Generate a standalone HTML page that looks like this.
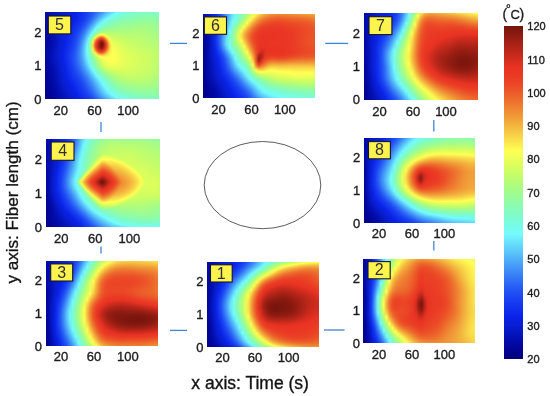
<!DOCTYPE html>
<html><head><meta charset="utf-8"><title>Figure</title>
<style>html,body{margin:0;padding:0;background:#fff}svg{position:absolute;left:0;top:0}.w{position:relative;width:550px;height:396px;overflow:hidden;background:#fff}.p{position:absolute}.p i{display:block;height:1px}text{font-family:"Liberation Sans",Arial,Helvetica,sans-serif;stroke:#1c1c1c;stroke-width:.35px}</style>
</head><body>
<div class="w">
<div class="p" style="left:45px;top:12px;width:114px;height:87px"><i style="background:linear-gradient(90deg,#020aa8,#020cac,#030eaf,#030fb2,#0311b5,#0413b9,#0415bc,#0517bf,#0619c3,#061ac7,#071ccb,#081ecf,#081fd5,#0920db,#0920e1,#0920e9,#0b26ea,#0e2beb,#1130ec,#1335ee,#163bf0,#1941f1,#1d48f3,#2151f4,#265bf5,#2b66f6,#3173f6,#3880f7,#3f8ef7,#469df8,#4eacf8,#55bcf9,#5dcbfa,#64d9fb,#6ae6fc,#70f2fc,#75fbfc,#76fbf3,#77fbeb,#78fbe4,#79fbde,#7afbd8,#7bfbd4,#7cfbd0,#7dfbcd,#7efbcb,#7ffbc9,#7ffbc8,#80fbc7,#80fbc7,#80fbc7,#80fbc7,#80fbc7,#80fbc7,#7ffbc7,#7ffbc8,#7ffbc8,#7ffbc8)"></i><i style="background:linear-gradient(90deg,#020ba9,#020cac,#030daf,#030fb2,#0311b5,#0413b9,#0415bc,#0517c0,#0619c3,#071bc7,#071dcb,#081ed0,#0920d5,#0920da,#0920e1,#0920e8,#0b25ea,#0e2aeb,#1030ec,#1335ee,#163af0,#1941f1,#1d48f3,#2152f4,#275df5,#2d69f6,#3477f6,#3b86f7,#4395f7,#4aa5f8,#52b5f9,#5ac4fa,#61d4fa,#68e2fb,#6feffc,#74fbfd,#76fbf4,#77fbeb,#78fbe4,#79fbdd,#7afbd7,#7cfbd3,#7dfbcf,#7efbcb,#7ffbc8,#80fbc6,#81fbc4,#81fbc3,#82fbc2,#82fbc1,#82fbc1,#82fbc0,#82fbc1,#82fbc1,#82fbc1,#82fbc2,#82fbc2,#81fbc3)"></i><i style="background:linear-gradient(90deg,#020ba9,#020cac,#030daf,#030fb2,#0311b5,#0413b8,#0515bc,#0517c0,#0619c4,#071bc8,#071dcc,#081ed0,#0920d5,#0920da,#0920e0,#0920e7,#0b24e9,#0e2aeb,#102fec,#1335ee,#163af0,#1941f1,#1d49f3,#2253f4,#2860f5,#2f6ef6,#367df6,#3e8df7,#479df8,#4faef8,#57bef9,#5ecefa,#66ddfb,#6debfc,#73f8fd,#75fbf6,#76fbec,#78fbe4,#79fbdc,#7bfbd6,#7cfbd1,#7efbcd,#7ffbc9,#80fbc6,#81fbc3,#82fbc1,#83fbbf,#84fbbd,#84fcbc,#84fcbb,#85fcbb,#85fcbb,#85fcbb,#85fcbb,#84fcbb,#84fcbc,#84fbbd,#83fbbe)"></i><i style="background:linear-gradient(90deg,#020baa,#020cac,#020dae,#030fb1,#0311b5,#0413b8,#0515bc,#0517c0,#061ac5,#071cc9,#081dcd,#081fd1,#0920d6,#0920db,#0920e1,#0920e7,#0b24e9,#0e2aeb,#1030ec,#1335ee,#163bf0,#1942f2,#1e4bf3,#2356f4,#2a63f5,#3173f6,#3a83f7,#4295f7,#4ba6f8,#53b7f9,#5bc8fa,#63d7fb,#6ae6fc,#71f4fd,#75fbf8,#76fbee,#78fbe4,#79fbdc,#7bfbd5,#7dfbd0,#7efbcb,#80fbc7,#81fbc4,#82fbc1,#83fbbf,#84fcbc,#85fcba,#86fcb8,#87fcb7,#87fcb6,#87fcb5,#87fcb5,#87fcb5,#87fcb5,#87fcb6,#87fcb7,#86fcb8,#85fcb9)"></i><i style="background:linear-gradient(90deg,#020baa,#020cac,#020dae,#030fb1,#0311b5,#0413b9,#0515bd,#0518c1,#061ac5,#071cc9,#081ece,#081fd2,#0920d6,#0920db,#0920e1,#0920e8,#0b25ea,#0e2aeb,#1130ec,#1336ee,#163cf0,#1a44f2,#1f4df3,#2559f5,#2c68f6,#3479f6,#3d8bf7,#479df8,#50b0f9,#58c1f9,#60d2fa,#68e1fb,#6ff0fc,#75fbfb,#76fbf0,#77fbe6,#79fbdd,#7bfbd5,#7dfbce,#7ffbc9,#80fbc5,#82fbc2,#83fbbf,#84fbbc,#85fcba,#86fcb7,#87fcb5,#88fcb3,#89fcb2,#8afcb1,#8afcb0,#8afcb0,#8afcb0,#8afcb0,#8afcb1,#89fcb2,#88fcb3,#88fcb5)"></i><i style="background:linear-gradient(90deg,#020baa,#020cab,#020dae,#030fb1,#0311b5,#0413b9,#0515bd,#0518c1,#061ac6,#071cca,#081ecf,#081fd3,#0920d7,#0920dc,#0920e2,#0920e9,#0b25ea,#0e2beb,#1131ec,#1437ee,#173df0,#1b46f2,#2050f4,#275ef5,#2f6ef6,#3880f7,#4193f7,#4ba7f8,#55baf9,#5dccfa,#66dcfb,#6decfc,#74fafd,#76fbf2,#77fbe7,#79fbde,#7bfbd5,#7dfbce,#7ffbc8,#81fbc3,#83fbbf,#84fcbc,#85fcba,#86fcb7,#88fcb5,#89fcb3,#8afcb0,#8bfcae,#8cfcad,#8cfcac,#8dfcab,#8dfcab,#8dfcab,#8dfcab,#8cfcac,#8bfcad,#8bfcaf,#8afcb1)"></i><i style="background:linear-gradient(90deg,#020baa,#020cab,#020dae,#030eb1,#0311b5,#0413b9,#0515bd,#0618c2,#061ac6,#071ccb,#081ecf,#081fd4,#0920d8,#0920dd,#0920e3,#0921e9,#0c27ea,#0f2ceb,#1132ed,#1438ef,#183ff1,#1c48f3,#2254f4,#2963f5,#3274f6,#3c87f7,#469cf8,#50b0f9,#5ac4fa,#63d7fb,#6be7fc,#72f6fd,#76fbf5,#77fbe9,#79fbdf,#7bfbd6,#7dfbce,#80fbc7,#82fbc1,#84fbbd,#85fcb9,#87fcb7,#88fcb5,#89fcb2,#8afcb0,#8bfcae,#8cfcac,#8efcaa,#8efca8,#8ffca7,#90fca6,#90fca6,#90fca6,#8ffca7,#8ffca8,#8efca9,#8dfcab,#8cfcad)"></i><i style="background:linear-gradient(90deg,#020ba9,#020cab,#020dad,#030eb1,#0310b4,#0413b9,#0516bd,#0618c2,#061bc7,#071dcc,#081ed0,#0920d5,#0920da,#0920df,#0920e5,#0a22e9,#0d28ea,#0f2deb,#1233ed,#1539ef,#1941f1,#1e4bf3,#2458f5,#2c68f6,#367bf6,#4090f7,#4aa5f8,#55bbf9,#5fcffa,#68e2fb,#71f3fc,#75fbf8,#77fbeb,#78fbe1,#7bfbd7,#7dfbce,#80fbc6,#82fbc0,#85fcbb,#87fcb7,#88fcb4,#89fcb2,#8afcb0,#8bfcae,#8dfcab,#8efca9,#8ffca7,#90fca5,#91fca4,#92fca3,#92fca2,#92fca2,#92fca2,#92fca3,#91fca4,#90fca5,#8ffca7,#8efca9)"></i><i style="background:linear-gradient(90deg,#020ba9,#020bab,#020dad,#030eb0,#0310b4,#0413b9,#0516bd,#0618c2,#071bc7,#071dcc,#081fd1,#0920d6,#0920db,#0920e0,#0920e7,#0a24e9,#0d29ea,#102fec,#1335ee,#163bf0,#1a44f2,#204ff4,#275df5,#306ff6,#3983f7,#4499f8,#4faff9,#5ac6fa,#65dbfb,#6eeefc,#75fbfb,#76fbed,#78fbe2,#7afbd8,#7dfbce,#80fbc6,#83fbbf,#85fcb9,#88fcb5,#8afcb1,#8bfcae,#8cfcac,#8dfcab,#8efca9,#8ffca7,#91fca5,#92fca3,#93fca1,#94fc9f,#95fc9e,#95fc9e,#95fc9e,#95fc9e,#94fc9f,#93fca0,#92fca2,#91fca4,#90fca6)"></i><i style="background:linear-gradient(90deg,#020aa8,#020baa,#020cad,#030eb0,#0310b4,#0413b9,#0516be,#0619c3,#071bc8,#081dcd,#081fd2,#0920d7,#0920dc,#0920e2,#0920e9,#0b25ea,#0e2beb,#1130ec,#1436ee,#173ef1,#1c47f3,#2253f4,#2a63f5,#3376f6,#3e8bf7,#49a2f8,#55baf9,#60d1fa,#6be6fc,#74f9fd,#76fbf0,#78fbe3,#7afbd8,#7dfbcf,#80fbc6,#83fbbf,#86fcb8,#89fcb3,#8bfcaf,#8dfcab,#8efca9,#8ffca7,#90fca6,#91fca4,#92fca2,#93fca0,#95fc9e,#96fc9c,#97fc9b,#97fc9a,#98fc9a,#98fc9a,#97fc9b,#97fc9b,#96fc9d,#95fc9e,#93fca0,#92fca3)"></i><i style="background:linear-gradient(90deg,#020aa8,#020baa,#020cad,#030eb0,#0310b4,#0413b9,#0516be,#0619c3,#071bc8,#081ece,#081fd3,#0920d9,#0920de,#0920e4,#0921e9,#0c27ea,#0f2deb,#1232ed,#1538ef,#1940f1,#1e4bf3,#2558f5,#2d6af6,#377ef6,#4294f7,#4eacf8,#5ac5fa,#66ddfb,#70f2fc,#76fbf4,#78fbe5,#7afbd9,#7dfbcf,#80fbc6,#83fbbe,#86fcb7,#89fcb1,#8cfcad,#8efca9,#90fca6,#91fca4,#92fca3,#93fca1,#94fca0,#95fc9e,#96fc9c,#98fc9a,#99fc98,#9afc97,#9afc96,#9afc96,#9afc96,#9afc97,#99fc98,#98fc9a,#97fc9b,#95fc9d,#94fca0)"></i><i style="background:linear-gradient(90deg,#020aa7,#020ba9,#020cac,#030eb0,#0310b4,#0413b9,#0516be,#0619c3,#071cc9,#081ecf,#081fd4,#0920da,#0920e0,#0920e6,#0a23e9,#0d29ea,#102eec,#1334ee,#163bf0,#1a43f2,#204ff4,#275ef5,#3171f6,#3b86f7,#479ef8,#53b7f9,#60d0fa,#6ce8fc,#75fbfa,#77fbe8,#7afbda,#7dfbce,#80fbc5,#84fbbd,#87fcb6,#8afcb0,#8dfcab,#8ffca7,#91fca3,#93fca1,#94fc9f,#95fc9e,#96fc9d,#97fc9b,#98fc9a,#99fc98,#9afc96,#9cfc94,#9cfc93,#9dfc93,#9dfc93,#9cfc93,#9cfc94,#9bfc95,#9afc97,#99fc98,#97fc9a,#96fc9d)"></i><i style="background:linear-gradient(90deg,#0209a6,#020aa9,#020cac,#030eb0,#0310b4,#0413b9,#0516be,#0619c4,#071cc9,#081ecf,#0920d5,#0920db,#0920e2,#0920e9,#0b25ea,#0e2beb,#1130ec,#1436ee,#173df0,#1c46f2,#2253f4,#2a64f5,#3478f6,#3f8ff7,#4ca8f8,#58c2f9,#65dcfb,#71f4fd,#76fbef,#79fbdd,#7dfbcf,#81fbc4,#84fcbc,#88fcb5,#8bfcae,#8efca9,#91fca5,#93fca1,#95fc9e,#96fc9c,#97fc9a,#98fc99,#99fc98,#9afc97,#9bfc95,#9cfc94,#9dfc92,#9efc91,#9ffc90,#9ffc8f,#9ffc90,#9ffc90,#9efc91,#9dfc92,#9cfc94,#9bfc96,#99fc98,#98fc9a)"></i><i style="background:linear-gradient(90deg,#0209a5,#020aa8,#020cac,#030eb0,#0310b4,#0413b9,#0516bf,#0619c4,#071cca,#081ed0,#0920d6,#0920dd,#0920e4,#0921e9,#0c27ea,#0f2deb,#1232ed,#1538ef,#1840f1,#1d4af3,#2558f5,#2e6bf6,#3880f7,#4498f7,#51b2f9,#5ecdfa,#6be7fc,#75fbf8,#78fbe3,#7cfbd2,#80fbc5,#85fcba,#89fcb3,#8cfcac,#8ffca7,#92fca2,#95fc9e,#97fc9b,#98fc99,#9afc97,#9bfc96,#9bfc95,#9cfc94,#9dfc93,#9efc91,#9ffc90,#a0fc8e,#a1fc8d,#a2fc8c,#a2fc8c,#a2fc8d,#a1fc8d,#a0fc8e,#9ffc90,#9efc92,#9cfc93,#9bfc95,#99fc97)"></i><i style="background:linear-gradient(90deg,#0209a4,#020aa8,#020cab,#030eb0,#0310b4,#0413b9,#0516bf,#0619c4,#071cca,#081ed1,#0920d7,#0920de,#0920e5,#0a23e9,#0d29ea,#102eec,#1334ee,#163af0,#1a43f2,#204ef4,#275ef5,#3172f6,#3c89f7,#49a2f8,#56bcf9,#63d8fb,#71f3fd,#76fbed,#7afbd8,#80fbc7,#85fcba,#8afcb1,#8efcaa,#91fca4,#94fca0,#96fc9c,#99fc98,#9bfc96,#9cfc94,#9dfc92,#9efc91,#9efc91,#9ffc90,#a0fc8f,#a1fc8e,#a2fc8c,#a3fc8b,#a4fc8a,#a4fc89,#a4fc89,#a4fc8a,#a3fc8b,#a2fc8c,#a1fc8d,#a0fc8f,#9efc91,#9dfc93,#9bfc95)"></i><i style="background:linear-gradient(90deg,#0208a3,#020aa7,#020cab,#030eaf,#0310b4,#0413ba,#0517bf,#061ac5,#071ccb,#081fd1,#0920d8,#0920e0,#0920e7,#0b25ea,#0e2beb,#1130ec,#1436ee,#173df0,#1b46f2,#2253f4,#2a64f5,#3579f6,#4191f7,#4eacf8,#5bc7fa,#69e4fb,#75fbf9,#78fbe1,#7efbcc,#84fcbc,#8afcb0,#8ffca7,#93fca1,#96fc9c,#99fc98,#9bfc95,#9dfc93,#9efc91,#a0fc8f,#a0fc8e,#a1fc8d,#a2fc8d,#a2fc8c,#a3fc8b,#a4fc8a,#a5fc89,#a6fc87,#a7fc87,#a7fc86,#a7fc86,#a6fc87,#a5fc88,#a4fc8a,#a3fc8b,#a1fc8d,#a0fc8f,#9efc91,#9dfc93)"></i><i style="background:linear-gradient(90deg,#0108a3,#0209a6,#020bab,#030eaf,#0310b4,#0413ba,#0517bf,#061ac5,#071dcb,#081fd2,#0920d9,#0920e1,#0920e9,#0c27ea,#0f2ceb,#1232ed,#1538ef,#183ff1,#1d4af3,#2458f5,#2d6af6,#3881f7,#459af8,#52b6f9,#61d2fa,#6feffc,#76fbed,#7bfbd5,#82fbc0,#8afcb1,#90fca6,#95fc9e,#99fc98,#9bfc95,#9efc92,#a0fc8f,#a1fc8d,#a2fc8c,#a3fc8b,#a4fc8a,#a4fc89,#a5fc89,#a5fc88,#a6fc87,#a7fc86,#a8fc85,#a9fc84,#a9fc84,#a9fc83,#a9fc84,#a8fc85,#a7fc86,#a6fc87,#a4fc89,#a3fc8b,#a1fc8d,#a0fc8f,#9ffc90)"></i><i style="background:linear-gradient(90deg,#0108a2,#0209a6,#020baa,#030eaf,#0310b4,#0413ba,#0517bf,#061ac5,#071dcc,#081fd3,#0920da,#0920e2,#0921e9,#0d28ea,#102eec,#1234ed,#163af0,#1a42f2,#1f4df4,#275df5,#3171f6,#3c89f7,#49a3f8,#57c0f9,#66ddfb,#75fbfc,#78fbe0,#7ffbc7,#89fcb3,#91fca4,#97fc9b,#9bfc95,#9ffc90,#a1fc8d,#a3fc8b,#a4fc89,#a6fc88,#a6fc87,#a7fc86,#a7fc86,#a8fc85,#a8fc85,#a8fc85,#a9fc84,#aafc83,#abfc82,#abfc81,#acfc81,#acfc81,#abfc81,#aafc82,#a9fc84,#a8fc85,#a6fc87,#a4fc89,#a3fc8b,#a1fc8d,#a0fc8e)"></i><i style="background:linear-gradient(90deg,#0107a1,#0209a5,#020baa,#030daf,#0310b4,#0413ba,#0517bf,#061ac6,#071dcc,#081fd3,#0920db,#0920e4,#0a23e9,#0d2aea,#1030ec,#1336ee,#173cf0,#1b45f2,#2151f4,#2962f5,#3478f6,#4091f7,#4eadf8,#5dcafa,#6ce9fc,#76fbf0,#7cfbd2,#86fcb8,#91fca3,#9afc97,#9ffc90,#a2fc8c,#a5fc89,#a7fc86,#a8fc85,#a9fc84,#aafc83,#aafc82,#abfc82,#abfc82,#abfc82,#abfc81,#abfc81,#acfc81,#adfc80,#adfc7f,#aefc7f,#aefc7e,#aefc7f,#adfc7f,#acfc80,#abfc82,#a9fc84,#a8fc85,#a6fc87,#a4fc89,#a3fc8b,#a2fc8c)"></i><i style="background:linear-gradient(90deg,#0107a0,#0209a5,#020ba9,#020daf,#0310b4,#0413ba,#0517c0,#061ac6,#071dcd,#081fd4,#0920dc,#0920e5,#0b24e9,#0e2beb,#1131ed,#1437ef,#183ef1,#1c48f3,#2355f4,#2c68f6,#377ef7,#4499f8,#53b6f9,#62d5fb,#72f6fd,#78fbe1,#82fbc0,#91fca4,#9ffc90,#a6fc87,#a9fc84,#aafc82,#abfc81,#adfc80,#aefc7f,#aefc7e,#aefc7e,#aefc7e,#aefc7e,#aefc7e,#aefc7e,#aefc7e,#aefc7e,#affc7e,#affc7d,#b0fc7c,#b0fc7c,#b0fc7c,#b0fc7c,#affc7d,#aefc7e,#acfc80,#abfc82,#a9fc84,#a7fc86,#a6fc88,#a4fc89,#a3fc8a)"></i><i style="background:linear-gradient(90deg,#01079f,#0209a4,#020ba9,#020dae,#0310b4,#0413ba,#0517c0,#061ac6,#081dcd,#0920d5,#0920dd,#0920e7,#0b25ea,#0f2ceb,#1232ed,#1539ef,#1941f1,#1e4bf3,#255af5,#2f6df6,#3b85f7,#48a1f8,#57bff9,#67e0fb,#76fbf5,#7dfbcf,#8dfcab,#a2fc8d,#b3fc7a,#b8fd74,#b6fd76,#b4fd78,#b3fc7a,#b3fc7a,#b3fd79,#b3fd79,#b3fd79,#b2fc7a,#b2fc7a,#b2fc7b,#b1fc7b,#b1fc7b,#b1fc7b,#b1fc7b,#b2fc7a,#b2fc7a,#b2fc7a,#b2fc7a,#b2fc7a,#b1fc7b,#b0fc7d,#aefc7e,#acfc80,#aafc82,#a9fc84,#a7fc86,#a6fc87,#a5fc89)"></i><i style="background:linear-gradient(90deg,#01079f,#0208a4,#020aa9,#020dae,#0310b3,#0413b9,#0517c0,#061ac6,#081dce,#0920d6,#0920de,#0920e8,#0c27ea,#0f2deb,#1234ed,#163af0,#1a43f2,#204ef4,#275ef5,#3273f6,#3e8cf7,#4ca9f8,#5cc9fa,#6decfc,#77fbe5,#85fcba,#9ffc90,#bafd72,#cffd62,#d1fd61,#c8fd67,#bffd6e,#bafd72,#b9fd74,#b8fd74,#b8fd75,#b7fd75,#b6fd76,#b6fd77,#b5fd77,#b4fd78,#b4fd78,#b4fd78,#b4fd78,#b4fd78,#b5fd78,#b5fd78,#b4fd78,#b4fd79,#b3fc7a,#b1fc7b,#affc7d,#aefc7f,#acfc81,#aafc83,#a9fc84,#a7fc86,#a6fc87)"></i><i style="background:linear-gradient(90deg,#01079e,#0208a3,#020aa8,#020dad,#0310b3,#0413b9,#0517c0,#061bc7,#081ece,#0920d6,#0920df,#0920e9,#0c28ea,#102eec,#1335ee,#173cf0,#1b45f2,#2152f4,#2962f5,#3478f6,#4193f7,#50b1f9,#61d2fa,#74f9fd,#7bfbd4,#93fca1,#b8fd74,#ddfe5b,#f5ff55,#f3ff55,#dffe5a,#cefd63,#c3fd6b,#bffd6e,#befd6f,#bdfd70,#bcfd71,#bafd72,#b9fd73,#b8fd74,#b8fd75,#b7fd75,#b7fd75,#b7fd76,#b7fd76,#b7fd76,#b7fd76,#b6fd76,#b5fd77,#b4fd78,#b3fc7a,#b1fc7b,#affc7d,#adfc7f,#abfc81,#aafc83,#a9fc84,#a8fc85)"></i><i style="background:linear-gradient(90deg,#01079e,#0108a3,#020aa8,#020dad,#0310b3,#0413b9,#0517c0,#061bc7,#081ece,#0920d7,#0920e0,#0921e9,#0d28ea,#102fec,#1436ee,#173df0,#1c47f3,#2355f4,#2c67f6,#377ef6,#459af8,#54b9f9,#65dcfb,#76fbf2,#83fbbf,#a8fc85,#dbfe5c,#fdf551,#f8d447,#f9dd4a,#fcff55,#e0fe5a,#cefd63,#c6fd69,#c3fd6b,#c1fd6c,#c0fd6d,#befd6f,#bdfd70,#bcfd71,#bbfd72,#bafd73,#b9fd73,#b9fd73,#b9fd73,#b9fd74,#b8fd74,#b8fd75,#b7fd75,#b5fd77,#b4fd78,#b2fc7a,#b0fc7c,#aefc7e,#adfc80,#abfc81,#aafc83,#a9fc83)"></i><i style="background:linear-gradient(90deg,#01069e,#0108a2,#020aa7,#020cad,#030fb3,#0413b9,#0517c0,#071bc7,#081ecf,#0920d8,#0920e1,#0922e9,#0d29ea,#1130ec,#1437ef,#183ff1,#1d49f3,#2458f5,#2e6bf6,#3a83f7,#48a0f8,#58c1f9,#6ae6fc,#78fbe4,#8ffca8,#c3fd6b,#fefa53,#f5be41,#f09937,#f2a83b,#f9db4a,#f6ff55,#dafe5d,#cdfd64,#c8fd67,#c6fd69,#c4fd6a,#c2fd6c,#c0fd6d,#bffd6e,#befd6f,#bdfd70,#bcfd71,#bbfd71,#bbfd72,#bbfd72,#bafd72,#b9fd73,#b8fd74,#b7fd75,#b5fd77,#b3fd79,#b2fc7b,#b0fc7c,#aefc7e,#adfc80,#acfc81,#abfc82)"></i><i style="background:linear-gradient(90deg,#01069e,#0108a2,#020aa7,#020cac,#030fb2,#0413b9,#0517c0,#071bc7,#081ecf,#0920d8,#0920e2,#0a22e9,#0e2aeb,#1131ed,#1438ef,#1940f1,#1e4bf3,#265bf5,#306ff6,#3c89f7,#4ba7f8,#5cc8fa,#70f1fc,#7bfbd4,#9ffc90,#e4fe58,#f6c744,#ef8933,#ec612a,#ed732e,#f3b13e,#fced4f,#e7fe58,#d4fd5f,#cefd63,#cbfd65,#c8fd67,#c6fd69,#c4fd6a,#c2fd6c,#c1fd6d,#bffd6e,#befd6f,#befd6f,#bdfd70,#bcfd70,#bcfd71,#bbfd72,#bafd73,#b8fd74,#b6fd76,#b5fd78,#b3fd79,#b1fc7b,#affc7d,#aefc7e,#adfc80,#acfc80)"></i><i style="background:linear-gradient(90deg,#01069e,#0108a2,#020aa6,#020cac,#030fb2,#0413b9,#0517c0,#071bc7,#081ed0,#0920d9,#0920e3,#0a23e9,#0e2beb,#1132ed,#1539ef,#1942f1,#1f4df4,#275ef5,#3273f6,#3f8ef7,#4eadf8,#5fd0fa,#75fbfd,#81fbc4,#b3fd79,#fdf551,#f09837,#ec5a29,#ea3a24,#eb4726,#ef8833,#f7cf46,#f6ff55,#dcfe5c,#d3fd60,#cffd62,#cdfd64,#cafd66,#c7fd68,#c5fd69,#c3fd6b,#c2fd6c,#c1fd6d,#c0fd6e,#bffd6e,#befd6f,#bdfd70,#bcfd71,#bbfd72,#b9fd73,#b8fd75,#b6fd76,#b4fd78,#b2fc7a,#b1fc7b,#affc7d,#aefc7e,#adfc7f)"></i><i style="background:linear-gradient(90deg,#01069e,#0108a1,#0209a6,#020cac,#030fb2,#0413b9,#0517c0,#071bc8,#081ed0,#0920da,#0920e4,#0b24e9,#0e2beb,#1232ed,#153aef,#1a43f2,#204ff4,#2961f5,#3477f6,#4192f7,#51b2f9,#63d7fb,#76fbf3,#88fcb3,#c9fd66,#f7cd45,#ed6f2d,#ea3c24,#ce2c1e,#e73223,#ec632b,#f3b13e,#fdf752,#e4fe58,#d8fe5d,#d4fd60,#d1fd62,#cefd63,#cbfd65,#c8fd67,#c6fd69,#c4fd6a,#c3fd6b,#c2fd6c,#c1fd6d,#c0fd6e,#bffd6f,#bdfd70,#bcfd71,#bafd72,#b9fd74,#b7fd75,#b5fd77,#b4fd79,#b2fc7a,#b1fc7b,#b0fc7d,#affc7e)"></i><i style="background:linear-gradient(90deg,#01069e,#0108a1,#0209a6,#020cab,#030fb2,#0413b9,#0517c0,#071bc8,#081fd1,#0920da,#0920e5,#0b25ea,#0f2ceb,#1233ed,#163bf0,#1b44f2,#2151f4,#2a64f5,#367bf6,#4397f7,#54b8f9,#66defb,#77fbea,#91fca4,#e0fe5a,#f2a93c,#eb5027,#e33122,#a72116,#bf281b,#eb4726,#f09536,#fae54c,#edfe56,#ddfe5b,#d8fe5d,#d5fd5f,#d1fd61,#cefd63,#cbfd65,#c9fd67,#c7fd68,#c5fd69,#c4fd6a,#c2fd6b,#c1fd6c,#c0fd6d,#bffd6e,#bdfd70,#bcfd71,#bafd73,#b8fd74,#b7fd76,#b5fd77,#b3fd79,#b2fc7a,#b1fc7b,#b0fc7c)"></i><i style="background:linear-gradient(90deg,#01069e,#0108a1,#0209a6,#020cab,#030fb2,#0413b9,#0517c0,#071bc9,#081fd1,#0920db,#0920e6,#0b26ea,#0f2deb,#1234ed,#163cf0,#1b46f2,#2253f4,#2b66f6,#377ef7,#469bf8,#56bdf9,#6ae4fc,#78fbe1,#9bfc96,#f5ff55,#ef8c34,#ea3d25,#c92a1d,#8a1a10,#a02015,#ea3824,#ee7e31,#f8d448,#f5ff55,#e2fe59,#dcfe5c,#d8fe5d,#d5fd5f,#d1fd61,#cefd63,#cbfd65,#c9fd66,#c7fd68,#c6fd69,#c4fd6a,#c3fd6b,#c1fd6c,#c0fd6d,#befd6f,#bdfd70,#bbfd72,#b9fd73,#b8fd75,#b6fd76,#b5fd77,#b3fd79,#b2fc7a,#b1fc7b)"></i><i style="background:linear-gradient(90deg,#01079e,#0108a1,#0209a6,#020cab,#030fb2,#0413b9,#0517c1,#071cc9,#081fd2,#0920dc,#0920e7,#0c26ea,#0f2eec,#1335ee,#173cf0,#1c47f3,#2355f4,#2d69f6,#3982f7,#489ff8,#59c2f9,#6ceafc,#7afbd9,#a3fc8a,#fdf652,#ed762f,#ea3524,#b82619,#77150d,#8a1a10,#e53222,#ed6b2c,#f6c643,#fcff55,#e7fe58,#e0fe5a,#dcfe5c,#d8fe5e,#d4fd60,#d1fd61,#cefd63,#cbfd65,#c9fd66,#c7fd68,#c6fd69,#c4fd6a,#c3fd6b,#c1fd6c,#c0fd6e,#befd6f,#bcfd70,#bbfd72,#b9fd73,#b8fd75,#b6fd76,#b5fd78,#b3fd79,#b2fc7a)"></i><i style="background:linear-gradient(90deg,#01079f,#0108a2,#0209a6,#020cac,#030fb2,#0413b9,#0518c1,#071cca,#081fd3,#0920dd,#0920e8,#0c27ea,#102eec,#1335ee,#173ef0,#1d48f3,#2457f5,#2e6cf6,#3a85f7,#49a3f8,#5bc6fa,#6feffc,#7cfbd2,#abfc82,#fbe74d,#ec672c,#e53222,#ae2317,#74140c,#7d170e,#d52e1f,#ec5e2a,#f4bb40,#fefc53,#ebfe57,#e4fe59,#dffe5a,#dbfe5c,#d7fe5e,#d3fd60,#d0fd62,#cdfd63,#cbfd65,#c9fd66,#c7fd68,#c6fd69,#c4fd6a,#c2fd6b,#c1fd6d,#bffd6e,#befd6f,#bcfd71,#bafd72,#b9fd74,#b7fd75,#b6fd76,#b5fd78,#b3fd79)"></i><i style="background:linear-gradient(90deg,#01079f,#0108a2,#0209a6,#020cac,#030fb2,#0413ba,#0618c2,#071cca,#081fd4,#0920de,#0920e9,#0d28ea,#102fec,#1436ee,#183ff1,#1d4af3,#2559f5,#2f6ef6,#3c88f7,#4ba6f8,#5ccafa,#71f4fd,#7dfbce,#b0fc7d,#f9de4a,#ec5f2a,#dc3021,#a92216,#74140c,#78150d,#cd2b1e,#eb5729,#f3b43e,#fdf652,#effe56,#e7fe58,#e2fe59,#defe5b,#dafe5d,#d6fe5f,#d2fd60,#d0fd62,#cdfd64,#cbfd65,#c9fd66,#c7fd68,#c5fd69,#c4fd6a,#c2fd6c,#c1fd6d,#bffd6e,#bdfd70,#bcfd71,#bafd72,#b9fd74,#b7fd75,#b6fd76,#b4fd78)"></i><i style="background:linear-gradient(90deg,#01079f,#0108a2,#020aa7,#020cac,#0310b3,#0414ba,#0618c2,#071dcb,#081fd5,#0920df,#0921e9,#0d29ea,#1130ec,#1437ef,#1840f1,#1e4bf3,#265bf5,#3071f6,#3d8bf7,#4ca9f8,#5ecdfa,#73f7fd,#7efbca,#b2fc7a,#f9db4a,#ec5d2a,#da2f20,#a72116,#74140c,#7a160d,#cb2b1d,#eb5528,#f3b13e,#fdf251,#f2ff55,#eafe57,#e5fe58,#e1fe5a,#dcfe5c,#d8fe5d,#d5fd5f,#d2fd61,#cffd62,#cdfd64,#cbfd65,#c9fd67,#c7fd68,#c5fd69,#c4fd6b,#c2fd6c,#c0fd6d,#bffd6e,#bdfd70,#bcfd71,#bafd72,#b9fd74,#b7fd75,#b5fd77)"></i><i style="background:linear-gradient(90deg,#01079f,#0108a3,#020aa7,#020dad,#0310b4,#0414bb,#0619c3,#071dcc,#0920d6,#0920e0,#0a22e9,#0e2aeb,#1131ed,#1538ef,#1941f1,#1f4df3,#275ef5,#3273f6,#3e8df7,#4eacf8,#5fd0fa,#74fafd,#7ffbc9,#b1fc7b,#f9df4b,#ec612a,#dd3021,#a82216,#75140c,#82180f,#d02c1e,#eb5829,#f3b23e,#fcf050,#f5ff55,#edfe56,#e8fe57,#e3fe59,#defe5b,#dafe5c,#d7fe5e,#d3fd60,#d1fd61,#cffd63,#ccfd64,#cafd66,#c8fd67,#c7fd68,#c5fd69,#c3fd6b,#c2fd6c,#c0fd6d,#bffd6e,#bdfd70,#bcfd71,#bafd73,#b8fd74,#b6fd76)"></i><i style="background:linear-gradient(90deg,#0107a0,#0208a3,#020aa8,#020dae,#0311b5,#0415bc,#0619c4,#081dcd,#0920d7,#0920e2,#0a23e9,#0e2beb,#1232ed,#153aef,#1a43f2,#204ff4,#2860f5,#3375f6,#3f8ff7,#4faef8,#60d2fa,#75fbfd,#7ffbc9,#aefc7e,#fbe84d,#ed6b2c,#e63223,#af2418,#81180e,#911c12,#db2f20,#ec5f2a,#f4b63f,#fcf050,#f7ff55,#f0fe56,#eafe57,#e5fe58,#e0fe5a,#dcfe5c,#d8fe5d,#d5fe5f,#d3fd60,#d0fd62,#cefd63,#ccfd64,#cafd66,#c8fd67,#c7fd68,#c5fd69,#c3fd6b,#c2fd6c,#c0fd6d,#bffd6e,#bdfd70,#bbfd71,#b9fd73,#b7fd75)"></i><i style="background:linear-gradient(90deg,#0107a0,#0208a4,#020ba9,#030daf,#0311b6,#0515bd,#061ac5,#081ece,#0920d8,#0920e3,#0b24e9,#0f2ceb,#1233ed,#163bf0,#1a44f2,#2151f4,#2962f5,#3477f6,#4091f7,#50b0f9,#61d3fa,#75fbfc,#7efbcb,#a9fc84,#fef752,#ee7b30,#ea3624,#bc271a,#941d12,#a62116,#ea3423,#ed6c2d,#f5bd41,#fcf150,#f9ff55,#f2ff55,#edfe56,#e7fe58,#e2fe59,#defe5b,#dafe5c,#d7fe5e,#d4fd5f,#d2fd61,#d0fd62,#cefd63,#ccfd65,#cafd66,#c8fd67,#c7fd68,#c5fd69,#c4fd6b,#c2fd6c,#c0fd6d,#befd6f,#bcfd70,#bafd72,#b8fd75)"></i><i style="background:linear-gradient(90deg,#0107a0,#0209a4,#020baa,#030eb0,#0412b7,#0516be,#061ac6,#081ecf,#0920d9,#0920e4,#0b25ea,#0f2deb,#1334ee,#163cf0,#1b46f2,#2252f4,#2a63f5,#3479f6,#4193f7,#50b1f9,#62d4fa,#75fbfc,#7efbcd,#a3fc8b,#f6ff55,#f09336,#ea4125,#d22d1f,#af2418,#c2291b,#ea3c24,#ee7d30,#f6c643,#fdf251,#faff55,#f4ff55,#effe56,#e9fe57,#e4fe59,#e0fe5a,#dcfe5c,#d9fe5d,#d6fe5f,#d4fd60,#d1fd61,#cffd62,#cdfd64,#cbfd65,#cafd66,#c8fd67,#c7fd68,#c5fd69,#c3fd6b,#c2fd6c,#c0fd6e,#befd6f,#bbfd71,#b8fd74)"></i><i style="background:linear-gradient(90deg,#0107a0,#0209a5,#020bab,#030eb1,#0412b8,#0516bf,#061bc7,#081ed0,#0920da,#0920e5,#0c26ea,#0f2eec,#1335ee,#173df0,#1c47f3,#2254f4,#2b65f5,#357af6,#4294f7,#51b2f9,#62d5fb,#75fbfc,#7dfbd0,#9cfc93,#e4fe59,#f3b03d,#eb5829,#ea3524,#d22d1f,#e53222,#eb4f27,#f09135,#f7d046,#fdf551,#fbff55,#f5ff55,#f0fe56,#ebfe57,#e6fe58,#e1fe5a,#ddfe5b,#dafe5c,#d7fe5e,#d5fd5f,#d3fd60,#d1fd61,#cffd63,#cdfd64,#cbfd65,#cafd66,#c8fd67,#c7fd68,#c5fd69,#c3fd6b,#c1fd6c,#bffd6e,#bcfd71,#b9fd73)"></i><i style="background:linear-gradient(90deg,#0107a0,#0209a5,#020cab,#030fb2,#0413b8,#0517c0,#071bc8,#081ed1,#0920db,#0920e6,#0c27ea,#102eec,#1336ee,#183ef1,#1d48f3,#2356f4,#2c67f6,#367cf6,#4295f7,#51b2f9,#62d5fb,#75fbfd,#7cfbd3,#96fc9c,#d2fd61,#f7d147,#ee792f,#eb4726,#ea3824,#ea4025,#ed6a2c,#f2a73b,#f9db49,#fef752,#fcff55,#f7ff55,#f2fe56,#ecfe56,#e7fe58,#e2fe59,#dffe5b,#dcfe5c,#d9fe5d,#d6fe5e,#d4fd5f,#d2fd61,#d0fd62,#cefd63,#cdfd64,#cbfd65,#cafd66,#c8fd67,#c6fd68,#c5fd6a,#c2fd6b,#c0fd6d,#bdfd70,#bafd73)"></i><i style="background:linear-gradient(90deg,#0107a0,#0209a6,#020cac,#030fb2,#0413b9,#0517c1,#071bc8,#081fd1,#0920db,#0920e7,#0c27ea,#102fec,#1437ee,#183ff1,#1d4af3,#2457f5,#2c68f6,#377df6,#4396f7,#51b3f9,#62d4fb,#74fafd,#7bfbd6,#90fca5,#c1fd6d,#fdf351,#f1a139,#ed6a2c,#eb5428,#ec612a,#ef8a33,#f5bd41,#fae44c,#fef953,#fdff55,#f8ff55,#f3ff55,#edfe56,#e8fe57,#e4fe59,#e0fe5a,#ddfe5b,#dafe5c,#d8fe5e,#d6fe5f,#d4fd60,#d2fd61,#d0fd62,#cefd63,#cdfd64,#cbfd65,#cafd66,#c8fd67,#c6fd69,#c4fd6b,#c1fd6d,#befd6f,#bafd72)"></i><i style="background:linear-gradient(90deg,#0107a0,#0209a6,#020cac,#0310b3,#0414ba,#0518c1,#071cc9,#081fd2,#0920dc,#0920e7,#0c28ea,#1030ec,#1437ef,#1840f1,#1e4bf3,#2559f5,#2d69f6,#377ef6,#4396f7,#51b2f9,#61d4fa,#74f9fd,#7afbda,#8bfcae,#b2fc7a,#edfe56,#f6cb45,#f09636,#ee7f31,#ef8833,#f2aa3c,#f7d046,#fced4f,#fefb53,#fdff55,#f9ff55,#f4ff55,#eefe56,#e9fe57,#e5fe58,#e1fe5a,#defe5b,#dbfe5c,#d9fe5d,#d7fe5e,#d5fd5f,#d3fd60,#d1fd61,#cffd62,#cefd63,#ccfd64,#cbfd65,#c9fd66,#c7fd68,#c5fd6a,#c2fd6c,#bffd6f,#bbfd72)"></i><i style="background:linear-gradient(90deg,#01079f,#0209a6,#020cad,#0310b3,#0414ba,#0618c2,#071cc9,#081fd2,#0920dc,#0920e8,#0d28ea,#1130ec,#1438ef,#1941f1,#1e4cf3,#255af5,#2d6af6,#377ef7,#4396f7,#51b2f9,#61d2fa,#73f7fd,#79fbdd,#88fcb5,#a6fc87,#d5fd5f,#fdf250,#f5c242,#f2ab3c,#f3af3d,#f6c744,#fae14b,#fdf351,#fefc53,#feff54,#f9ff55,#f5ff55,#effe56,#eafe57,#e6fe58,#e2fe59,#dffe5a,#dcfe5b,#dafe5d,#d8fe5e,#d6fe5f,#d4fd60,#d2fd61,#d1fd62,#cffd62,#cefd63,#ccfd64,#cafd66,#c8fd67,#c6fd69,#c3fd6b,#bffd6e,#bbfd71)"></i><i style="background:linear-gradient(90deg,#01079f,#0209a6,#020cad,#0310b4,#0414bb,#0618c2,#071cca,#081fd2,#0920dc,#0920e8,#0d28ea,#1130ec,#1538ef,#1941f1,#1f4cf3,#255af5,#2e6bf6,#377ef7,#4396f7,#50b1f9,#60d1fa,#71f4fd,#78fbe1,#85fcbb,#9dfc93,#c2fd6c,#edfe56,#fbea4e,#f8d347,#f7d247,#f9df4b,#fcee4f,#fef852,#fffd54,#feff54,#faff55,#f5ff55,#f0fe56,#ebfe57,#e6fe58,#e3fe59,#e0fe5a,#ddfe5b,#dbfe5c,#d9fe5d,#d7fe5e,#d5fd5f,#d3fd60,#d2fd61,#d0fd62,#cffd63,#cdfd64,#cbfd65,#c9fd67,#c6fd68,#c3fd6b,#c0fd6d,#bcfd71)"></i><i style="background:linear-gradient(90deg,#01079e,#0209a6,#020cad,#0310b4,#0414bb,#0618c2,#071cc9,#081fd2,#0920dc,#0920e7,#0d28ea,#1130ec,#1538ef,#1941f1,#1f4df3,#265bf5,#2e6bf6,#377ef7,#4295f7,#50b0f9,#5fcffa,#70f1fc,#78fbe4,#82fbc1,#96fc9c,#b4fd78,#d7fe5e,#f6ff55,#fdf351,#fcec4f,#fcf150,#fef752,#fefb53,#fffd54,#feff54,#faff55,#f6ff55,#f0fe56,#ebfe57,#e7fe58,#e4fe59,#e1fe5a,#defe5b,#dcfe5c,#dafe5d,#d8fe5e,#d6fe5f,#d4fd60,#d2fd60,#d1fd61,#cffd62,#cefd63,#ccfd65,#cafd66,#c7fd68,#c4fd6a,#c0fd6d,#bcfd71)"></i><i style="background:linear-gradient(90deg,#01069d,#0209a5,#020cac,#0310b3,#0414ba,#0518c1,#071cc9,#081fd2,#0920db,#0920e7,#0d28ea,#1130ec,#1538ef,#1942f1,#1f4df3,#265bf5,#2e6bf6,#377ef6,#4294f7,#4faef8,#5eccfa,#6eeefc,#77fbe8,#80fbc6,#91fca4,#aafc83,#c7fd68,#e1fe59,#f5ff55,#feff54,#fffd54,#fffd54,#fffd54,#fffe54,#feff54,#faff55,#f6ff55,#f1fe56,#ecfe56,#e8fe57,#e4fe59,#e1fe5a,#dffe5b,#dcfe5b,#dafe5c,#d8fe5d,#d6fe5e,#d5fd5f,#d3fd60,#d1fd61,#d0fd62,#cefd63,#ccfd64,#cafd66,#c8fd67,#c5fd6a,#c1fd6d,#bcfd70)"></i><i style="background:linear-gradient(90deg,#01069d,#0209a5,#020cac,#0310b3,#0414ba,#0518c1,#071bc9,#081fd1,#0920db,#0920e6,#0c27ea,#1130ec,#1538ef,#1941f1,#1f4df3,#265bf5,#2d6af6,#377df6,#4193f7,#4eacf8,#5ccafa,#6debfc,#76fbec,#7efbcb,#8dfcaa,#a3fc8b,#bbfd71,#d4fd60,#e7fe58,#f3ff55,#f9ff55,#fdff55,#ffff54,#ffff54,#fdff54,#faff55,#f6ff55,#f1fe56,#ecfe56,#e8fe57,#e5fe58,#e2fe59,#dffe5a,#ddfe5b,#dbfe5c,#d9fe5d,#d7fe5e,#d5fd5f,#d3fd60,#d2fd61,#d0fd62,#cffd63,#cdfd64,#cbfd65,#c8fd67,#c5fd69,#c1fd6c,#bdfd70)"></i><i style="background:linear-gradient(90deg,#01069c,#0208a4,#020cab,#030fb2,#0413b9,#0517c0,#071bc8,#081ed0,#0920da,#0920e5,#0c27ea,#1030ec,#1438ef,#1941f1,#1f4df3,#255af5,#2d6af6,#367cf6,#4091f7,#4daaf8,#5bc6fa,#6be7fc,#76fbf0,#7dfbd0,#8afcb0,#9dfc92,#b4fd78,#cafd66,#ddfe5b,#ebfe57,#f4ff55,#faff55,#fdff55,#feff54,#fdff55,#faff55,#f6ff55,#f1fe56,#ecfe56,#e8fe57,#e5fe58,#e2fe59,#dffe5a,#ddfe5b,#dbfe5c,#d9fe5d,#d7fe5e,#d5fd5f,#d4fd60,#d2fd61,#d1fd61,#cffd62,#cdfd64,#cbfd65,#c8fd67,#c5fd69,#c1fd6c,#bdfd70)"></i><i style="background:linear-gradient(90deg,#01059b,#0108a3,#020baa,#030fb2,#0413b9,#0517c0,#071bc7,#081ecf,#0920d9,#0920e4,#0c26ea,#102fec,#1437ef,#1941f1,#1e4cf3,#2559f5,#2d69f6,#357af6,#3f8ff7,#4ba7f8,#59c3fa,#69e2fb,#76fbf5,#7bfbd5,#87fcb5,#99fc98,#aefc7e,#c4fd6a,#d7fe5e,#e6fe58,#f1fe56,#f8ff55,#fcff55,#fdff55,#fcff55,#f9ff55,#f5ff55,#f1fe56,#ecfe56,#e8fe57,#e5fe58,#e2fe59,#e0fe5a,#ddfe5b,#dbfe5c,#d9fe5d,#d7fe5e,#d5fe5f,#d4fd60,#d2fd61,#d1fd61,#cffd62,#cdfd64,#cbfd65,#c8fd67,#c5fd69,#c2fd6c,#bdfd70)"></i><i style="background:linear-gradient(90deg,#01059a,#0108a2,#020baa,#030eb1,#0412b8,#0516bf,#061ac6,#081ece,#0920d8,#0920e3,#0b25ea,#102eec,#1437ee,#1940f1,#1e4bf3,#2558f5,#2c67f6,#3479f6,#3e8df7,#4aa4f8,#57bff9,#66defb,#75fbfa,#7afbda,#85fcbb,#95fc9d,#aafc83,#bffd6e,#d2fd61,#e2fe59,#eefe56,#f5ff55,#faff55,#fbff55,#faff55,#f8ff55,#f4ff55,#f0fe56,#ecfe56,#e8fe57,#e5fe58,#e2fe59,#dffe5a,#ddfe5b,#dbfe5c,#d9fe5d,#d7fe5e,#d5fe5f,#d4fd60,#d2fd61,#d1fd61,#cffd62,#cdfd64,#cbfd65,#c8fd67,#c5fd69,#c2fd6c,#bdfd70)"></i><i style="background:linear-gradient(90deg,#010599,#0107a1,#020aa9,#030eb0,#0412b7,#0516be,#061ac5,#081dcd,#0920d7,#0920e2,#0b25ea,#102eec,#1436ee,#183ff1,#1e4af3,#2457f5,#2b66f5,#3377f6,#3d8af7,#48a1f8,#55bbf9,#64d9fb,#74f9fd,#78fbe0,#82fbc1,#92fca3,#a5fc88,#bafd72,#cefd63,#defe5b,#eafe57,#f2ff55,#f7ff55,#f9ff55,#f8ff55,#f6ff55,#f3ff55,#effe56,#ebfe57,#e8fe57,#e5fe58,#e2fe59,#dffe5a,#ddfe5b,#dbfe5c,#d9fe5d,#d7fe5e,#d5fd5f,#d3fd60,#d2fd61,#d0fd62,#cffd63,#cdfd64,#cbfd65,#c8fd67,#c5fd69,#c2fd6c,#bdfd70)"></i><i style="background:linear-gradient(90deg,#010598,#0107a0,#020aa8,#030daf,#0311b6,#0515bd,#0619c4,#071dcc,#0920d6,#0920e1,#0a24e9,#0f2deb,#1336ee,#183ff1,#1d49f3,#2356f4,#2a64f5,#3274f6,#3c87f7,#479df8,#53b7f9,#61d4fa,#71f3fd,#77fbe6,#80fbc7,#8efca9,#a1fc8d,#b6fd77,#c9fd66,#dafe5d,#e6fe58,#effe56,#f4ff55,#f6ff55,#f6ff55,#f4ff55,#f1fe56,#eefe56,#eafe57,#e7fe58,#e4fe59,#e1fe5a,#dffe5a,#dcfe5b,#dafe5c,#d8fe5d,#d6fe5e,#d5fd5f,#d3fd60,#d2fd61,#d0fd62,#cffd63,#cdfd64,#cbfd65,#c8fd67,#c5fd69,#c1fd6c,#bdfd70)"></i><i style="background:linear-gradient(90deg,#010597,#01079f,#020aa7,#020dae,#0311b5,#0415bc,#0619c3,#071dcb,#081fd4,#0920e0,#0a23e9,#0f2ceb,#1335ee,#173ef1,#1c48f3,#2254f4,#2962f5,#3172f6,#3a84f7,#459af8,#51b2f9,#5fcefa,#6eedfc,#76fbed,#7dfbce,#8afcaf,#9dfc93,#b1fc7b,#c4fd6a,#d5fd5f,#e2fe59,#eafe57,#f0fe56,#f2ff55,#f2ff55,#f1fe56,#effe56,#ecfe56,#e9fe57,#e6fe58,#e3fe59,#e1fe5a,#defe5b,#dcfe5c,#dafe5d,#d8fe5e,#d6fe5f,#d4fd5f,#d3fd60,#d1fd61,#d0fd62,#cefd63,#ccfd64,#cafd66,#c8fd67,#c5fd6a,#c1fd6d,#bdfd70)"></i><i style="background:linear-gradient(90deg,#010496,#01079e,#0209a6,#020cad,#0310b4,#0414bb,#0618c2,#071cca,#081fd3,#0920de,#0a22e9,#0e2ceb,#1334ee,#173df0,#1c47f3,#2252f4,#2860f5,#306ff6,#3981f7,#4396f7,#4faef8,#5cc9fa,#6ae6fc,#76fbf3,#7bfbd5,#87fcb6,#98fc9a,#abfc81,#bffd6e,#cffd62,#dcfe5c,#e5fe58,#ebfe57,#eefe56,#effe56,#eefe56,#ecfe56,#eafe57,#e7fe58,#e5fe58,#e2fe59,#e0fe5a,#ddfe5b,#dbfe5c,#d9fe5d,#d7fe5e,#d5fe5f,#d4fd60,#d2fd61,#d1fd61,#cffd62,#cefd63,#ccfd65,#cafd66,#c7fd68,#c4fd6a,#c0fd6d,#bcfd71)"></i><i style="background:linear-gradient(90deg,#010496,#01069d,#0209a5,#020cac,#030fb2,#0413ba,#0518c1,#071cc9,#081fd2,#0920dd,#0921e9,#0e2beb,#1233ed,#163cf0,#1b45f2,#2150f4,#275df5,#2e6cf6,#377ef6,#4192f7,#4ca9f8,#59c3f9,#67dffb,#75fbfa,#79fbdc,#83fbbe,#93fca1,#a6fc88,#b9fd74,#c9fd66,#d6fe5f,#dffe5a,#e5fe58,#e9fe57,#eafe57,#eafe57,#e9fe57,#e7fe58,#e5fe58,#e3fe59,#e0fe5a,#defe5b,#dcfe5c,#dafe5d,#d8fe5d,#d6fe5e,#d5fd5f,#d3fd60,#d2fd61,#d0fd62,#cffd63,#cdfd64,#cbfd65,#c9fd67,#c6fd68,#c3fd6b,#c0fd6e,#bcfd71)"></i><i style="background:linear-gradient(90deg,#010496,#01069d,#0208a4,#020bab,#030fb2,#0413b9,#0517c0,#071bc8,#081fd2,#0920dc,#0920e9,#0e2aeb,#1232ed,#163af0,#1a44f2,#204ef4,#265bf5,#2d69f6,#357af6,#3f8df7,#4aa4f8,#56bdf9,#64d8fb,#72f6fd,#78fbe4,#80fbc6,#8efca9,#9ffc8f,#b2fc7b,#c2fd6c,#cffd63,#d8fe5d,#dffe5a,#e3fe59,#e5fe58,#e6fe58,#e5fe58,#e4fe59,#e3fe59,#e1fe5a,#dffe5b,#ddfe5b,#dbfe5c,#d9fe5d,#d7fe5e,#d5fe5f,#d4fd60,#d2fd61,#d1fd61,#cffd62,#cefd63,#ccfd64,#cafd66,#c8fd67,#c5fd69,#c2fd6b,#bffd6e,#bbfd72)"></i><i style="background:linear-gradient(90deg,#010495,#01069c,#0108a3,#020baa,#030eb1,#0412b8,#0517bf,#071bc8,#081fd1,#0920dc,#0920e8,#0d29ea,#1131ed,#1539ef,#1a42f2,#1f4cf3,#2458f5,#2b66f5,#3376f6,#3c89f7,#479ef8,#53b7f9,#60d1fa,#6eeefc,#76fbec,#7dfbcf,#89fcb2,#99fc98,#aafc82,#bafd72,#c7fd68,#d1fd61,#d8fe5e,#ddfe5b,#dffe5a,#e1fe5a,#e1fe5a,#e1fe5a,#e0fe5a,#defe5b,#ddfe5b,#dbfe5c,#d9fe5d,#d7fe5e,#d6fe5f,#d4fd5f,#d3fd60,#d1fd61,#d0fd62,#cefd63,#cdfd64,#cbfd65,#c9fd66,#c7fd68,#c4fd6a,#c1fd6c,#befd6f,#bafd73)"></i><i style="background:linear-gradient(90deg,#010495,#01069c,#0108a2,#020ba9,#030eb0,#0412b7,#0516bf,#071bc7,#081ed0,#0920db,#0920e7,#0d28ea,#1131ec,#1538ef,#1940f1,#1d4af3,#2355f4,#2a63f5,#3172f6,#3a84f7,#4499f8,#50b0f9,#5dcafa,#6ae6fc,#76fbf5,#7afbd8,#84fcbb,#93fca1,#a3fc8b,#b2fc7a,#bffd6e,#c9fd67,#d0fd62,#d6fe5f,#d9fe5d,#dbfe5c,#ddfe5b,#ddfe5b,#dcfe5c,#dbfe5c,#dafe5c,#d9fe5d,#d7fe5e,#d6fe5f,#d4fd5f,#d3fd60,#d2fd61,#d0fd62,#cffd62,#cefd63,#ccfd64,#cafd66,#c8fd67,#c6fd69,#c3fd6b,#c0fd6d,#bdfd70,#b9fd74)"></i><i style="background:linear-gradient(90deg,#010495,#01069b,#0108a2,#020aa8,#030eaf,#0411b6,#0516be,#061ac6,#081ed0,#0920da,#0920e6,#0c27ea,#1030ec,#1437ef,#183ff1,#1c48f3,#2253f4,#285ff5,#2f6ef6,#387ff7,#4293f7,#4daaf8,#59c3f9,#66defb,#75fbfd,#78fbe1,#80fbc5,#8dfcab,#9bfc95,#aafc83,#b6fd76,#c0fd6d,#c8fd67,#cefd63,#d3fd60,#d6fe5f,#d8fe5e,#d8fe5d,#d9fe5d,#d8fe5d,#d8fe5e,#d7fe5e,#d5fe5f,#d4fd60,#d3fd60,#d2fd61,#d1fd62,#cffd62,#cefd63,#cdfd64,#cbfd65,#c9fd66,#c7fd68,#c5fd6a,#c2fd6c,#bffd6e,#bbfd71,#b8fd75)"></i><i style="background:linear-gradient(90deg,#010496,#01069b,#0107a1,#020aa7,#020dae,#0311b6,#0516bd,#061ac6,#081ecf,#0920da,#0920e5,#0c27ea,#102fec,#1336ee,#173df0,#1b46f2,#2050f4,#265cf5,#2d6af6,#357bf6,#3f8ef7,#4aa4f8,#55bcf9,#62d6fb,#70f2fc,#77fbeb,#7dfbcf,#87fcb6,#94fc9f,#a2fc8d,#aefc7f,#b8fd74,#c0fd6d,#c7fd68,#ccfd64,#d0fd62,#d2fd60,#d4fd60,#d5fd5f,#d5fd5f,#d5fd5f,#d4fd60,#d3fd60,#d2fd61,#d1fd61,#d0fd62,#cffd62,#cefd63,#cdfd64,#cbfd65,#cafd66,#c8fd67,#c6fd69,#c3fd6b,#c1fd6d,#befd6f,#bafd72,#b6fd76)"></i><i style="background:linear-gradient(90deg,#010496,#01059b,#0107a0,#020aa7,#020dad,#0311b5,#0515bd,#061ac5,#081ecf,#0920d9,#0920e5,#0b26ea,#0f2eec,#1335ee,#163cf0,#1a44f2,#1f4df3,#2458f5,#2b66f5,#3376f6,#3c89f7,#479df8,#52b4f9,#5ecefa,#6ce8fc,#76fbf4,#7afbda,#82fbc0,#8efcaa,#9afc97,#a5fc88,#b0fc7d,#b8fd74,#bffd6e,#c5fd69,#cafd66,#cdfd64,#cffd62,#d1fd61,#d1fd61,#d2fd61,#d1fd61,#d1fd61,#d0fd62,#cffd62,#cefd63,#cefd63,#cdfd64,#cbfd65,#cafd66,#c8fd67,#c7fd68,#c4fd6a,#c2fd6c,#bffd6e,#bcfd71,#b9fd74,#b5fd77)"></i><i style="background:linear-gradient(90deg,#010496,#01059a,#0107a0,#0209a6,#020cad,#0310b4,#0415bc,#061ac5,#081ece,#0920d8,#0920e4,#0b25ea,#0f2deb,#1233ed,#163aef,#1941f1,#1e4af3,#2355f4,#2962f5,#3171f6,#3a83f7,#4497f7,#4eadf8,#5ac6fa,#67dffb,#75fbfd,#78fbe4,#7efbcb,#88fcb5,#93fca1,#9dfc92,#a8fc85,#b0fc7c,#b8fd74,#befd6f,#c4fd6b,#c8fd68,#cafd65,#cdfd64,#cefd63,#cefd63,#cefd63,#cefd63,#cefd63,#cdfd64,#cdfd64,#ccfd64,#cbfd65,#cafd66,#c9fd67,#c7fd68,#c5fd69,#c3fd6b,#c0fd6d,#befd6f,#bbfd72,#b7fd75,#b3fd79)"></i><i style="background:linear-gradient(90deg,#010496,#01059a,#01079f,#0209a5,#020cac,#0310b4,#0415bc,#0619c4,#081dcd,#0920d7,#0920e2,#0a24e9,#0e2beb,#1232ed,#1538ef,#183ff1,#1c48f3,#2152f4,#275ef5,#2f6df6,#377ef6,#4191f7,#4ba7f8,#56bef9,#63d7fb,#70f1fc,#76fbee,#7bfbd6,#83fbc0,#8cfcac,#96fc9c,#a0fc8f,#a9fc84,#b1fc7b,#b8fd75,#bdfd70,#c2fd6c,#c6fd69,#c8fd67,#cafd66,#cbfd65,#cbfd65,#cbfd65,#cbfd65,#cbfd65,#cbfd65,#cafd66,#c9fd66,#c8fd67,#c7fd68,#c5fd69,#c3fd6b,#c1fd6c,#bffd6e,#bcfd71,#b9fd73,#b6fd77,#b2fc7a)"></i><i style="background:linear-gradient(90deg,#010496,#01059a,#01079e,#0209a4,#020cab,#0310b3,#0414bb,#0619c3,#071dcd,#0920d7,#0920e1,#0a23e9,#0e2aeb,#1131ec,#1437ee,#173df0,#1b45f2,#204ff4,#255af5,#2c68f6,#3479f6,#3e8bf7,#48a0f8,#53b6f9,#5fcefa,#6be7fc,#75fbf8,#78fbe0,#7efbcb,#86fcb7,#90fca6,#99fc98,#a2fc8c,#aafc83,#b1fc7b,#b7fd75,#bdfd70,#c1fd6d,#c4fd6a,#c6fd69,#c7fd68,#c8fd67,#c8fd67,#c8fd67,#c8fd67,#c8fd67,#c8fd67,#c7fd68,#c6fd68,#c5fd69,#c4fd6a,#c2fd6c,#c0fd6e,#bdfd70,#bafd72,#b7fd75,#b4fd78,#b0fc7c)"></i><i style="background:linear-gradient(90deg,#010496,#010599,#01069e,#0208a4,#020bab,#030fb2,#0414ba,#0619c3,#071dcc,#0920d6,#0920e0,#0921e9,#0d29ea,#102fec,#1335ee,#163cf0,#1a43f2,#1e4cf3,#2457f4,#2a64f5,#3274f6,#3b86f7,#4599f8,#4faff8,#5ac6fa,#66defb,#73f7fd,#77fbea,#7bfbd5,#82fbc1,#8afcb0,#93fca1,#9bfc95,#a4fc8a,#abfc81,#b2fc7a,#b7fd75,#bcfd71,#bffd6e,#c2fd6c,#c4fd6b,#c5fd6a,#c5fd69,#c5fd69,#c6fd69,#c6fd69,#c6fd69,#c5fd69,#c4fd6a,#c3fd6b,#c2fd6c,#c0fd6d,#befd6f,#bbfd71,#b8fd74,#b5fd77,#b2fc7a,#affc7e)"></i><i style="background:linear-gradient(90deg,#010496,#010599,#01069d,#0208a3,#020baa,#030fb1,#0413ba,#0618c2,#071dcb,#081fd5,#0920df,#0920e9,#0c28ea,#102eec,#1234ed,#153aef,#1941f1,#1d49f3,#2253f4,#2860f5,#306ff6,#3880f7,#4293f7,#4ca8f8,#57bef9,#62d5fb,#6eedfc,#76fbf4,#79fbdf,#7efbcb,#85fcba,#8dfcaa,#96fc9d,#9efc91,#a5fc88,#acfc80,#b2fc7a,#b7fd75,#bbfd72,#befd6f,#c0fd6e,#c1fd6c,#c2fd6c,#c2fd6b,#c3fd6b,#c3fd6b,#c3fd6b,#c3fd6b,#c2fd6c,#c1fd6d,#c0fd6e,#befd6f,#bcfd71,#b9fd73,#b7fd76,#b4fd78,#b0fc7c,#adfc7f)"></i><i style="background:linear-gradient(90deg,#010495,#010598,#01069d,#0108a2,#020ba9,#030eb1,#0413b9,#0518c1,#071cca,#081fd4,#0920dd,#0920e7,#0c26ea,#0f2deb,#1232ed,#1538ef,#183ef1,#1c46f2,#2050f4,#265cf5,#2d6bf6,#367bf6,#3f8ef7,#49a2f8,#53b7f9,#5ecdfa,#6ae5fc,#75fbfd,#77fbe8,#7bfbd4,#81fbc3,#89fcb3,#91fca5,#99fc99,#a0fc8e,#a7fc86,#adfc7f,#b2fc7a,#b7fd76,#bafd73,#bcfd71,#bdfd70,#befd6f,#bffd6e,#c0fd6e,#c0fd6d,#c0fd6d,#c0fd6d,#c0fd6e,#bffd6e,#bdfd70,#bcfd71,#bafd73,#b7fd75,#b5fd78,#b2fc7a,#affc7e,#abfc81)"></i><i style="background:linear-gradient(90deg,#010495,#010598,#01069c,#0108a2,#020aa9,#030eb0,#0413b8,#0517c0,#071cc9,#081fd2,#0920dc,#0920e5,#0b25ea,#0e2beb,#1131ec,#1436ee,#173df0,#1a44f2,#1f4df3,#2559f5,#2b66f6,#3376f6,#3c88f7,#469bf8,#50b0f9,#5bc6fa,#66dcfb,#71f3fd,#76fbf0,#79fbdd,#7efbcb,#85fcbb,#8cfcac,#94fca0,#9bfc95,#a2fc8c,#a9fc84,#aefc7e,#b2fc7a,#b6fd77,#b8fd74,#bafd73,#bbfd72,#bcfd71,#bdfd70,#bdfd70,#bdfd70,#bdfd70,#bdfd70,#bcfd71,#bbfd72,#b9fd73,#b7fd75,#b5fd77,#b3fd79,#b0fc7c,#adfc7f,#aafc83)"></i><i style="background:linear-gradient(90deg,#010494,#010597,#01069b,#0108a1,#020aa8,#030eaf,#0412b7,#0517bf,#071bc8,#081fd1,#0920da,#0920e3,#0a23e9,#0d29ea,#102fec,#1335ee,#163bf0,#1942f2,#1e4af3,#2355f4,#2962f5,#3172f6,#3a83f7,#4396f7,#4daaf8,#57bff9,#62d5fb,#6debfc,#75fbf8,#77fbe5,#7cfbd3,#81fbc3,#88fcb4,#8ffca6,#97fc9b,#9efc92,#a4fc8a,#a9fc83,#aefc7e,#b1fc7b,#b4fd78,#b6fd76,#b7fd75,#b8fd74,#b9fd73,#bafd73,#bafd72,#bafd72,#bafd72,#b9fd73,#b8fd74,#b7fd75,#b5fd77,#b3fd79,#b1fc7c,#aefc7e,#abfc81,#a8fc85)"></i><i style="background:linear-gradient(90deg,#010494,#010496,#01069b,#0107a1,#020aa7,#020daf,#0412b6,#0516be,#061bc7,#081ecf,#0920d8,#0920e1,#0921e9,#0d28ea,#0f2eec,#1233ed,#1539ef,#1840f1,#1c48f3,#2152f4,#285ff5,#2f6df6,#377ef6,#4090f7,#4aa4f8,#54b8f9,#5ecefa,#69e3fb,#74f9fd,#76fbec,#7afbda,#7ffbca,#85fcbb,#8cfcad,#93fca1,#99fc97,#a0fc8f,#a5fc88,#aafc83,#adfc7f,#b0fc7c,#b2fc7a,#b3fd79,#b5fd78,#b6fd77,#b6fd76,#b7fd75,#b7fd75,#b7fd75,#b7fd76,#b6fd77,#b4fd78,#b3fd7a,#b1fc7b,#aefc7e,#acfc80,#a9fc83,#a7fc87)"></i><i style="background:linear-gradient(90deg,#010493,#010496,#01059a,#0107a0,#020aa6,#020dae,#0311b5,#0516bd,#061ac6,#081ece,#0920d6,#0920df,#0920e8,#0c26ea,#0f2ceb,#1132ed,#1437ef,#173ef1,#1b45f2,#204ff4,#265bf5,#2d69f6,#3579f6,#3e8bf7,#479ef8,#51b2f9,#5bc7fa,#66dcfb,#70f1fc,#76fbf3,#78fbe1,#7cfbd1,#82fbc1,#88fcb4,#8ffca8,#95fc9d,#9cfc94,#a1fc8d,#a6fc88,#a9fc84,#acfc81,#aefc7e,#affc7d,#b1fc7b,#b2fc7a,#b3fd79,#b4fd79,#b4fd78,#b4fd78,#b4fd79,#b3fd79,#b2fc7b,#b0fc7c,#aefc7e,#acfc80,#aafc83,#a7fc86,#a5fc89)"></i><i style="background:linear-gradient(90deg,#010392,#010495,#010599,#01079f,#0209a6,#020cad,#0310b4,#0515bc,#0619c4,#071dcc,#081fd5,#0920dd,#0920e6,#0b24e9,#0e2aeb,#1130ec,#1336ee,#163cf0,#1a43f2,#1f4cf3,#2458f5,#2b65f5,#3375f6,#3b86f7,#4499f8,#4eadf8,#58c1f9,#62d6fb,#6debfc,#75fbfa,#77fbe8,#7afbd7,#7ffbc8,#85fcba,#8bfcae,#92fca3,#98fc9a,#9dfc93,#a1fc8d,#a5fc88,#a8fc85,#aafc83,#acfc81,#adfc7f,#aefc7e,#affc7d,#b0fc7c,#b1fc7c,#b1fc7b,#b0fc7c,#b0fc7c,#affc7d,#aefc7f,#acfc81,#aafc83,#a8fc85,#a6fc88,#a3fc8b)"></i><i style="background:linear-gradient(90deg,#010391,#010494,#010599,#01079f,#0209a5,#020cac,#0310b4,#0414bb,#0619c3,#071ccb,#081fd3,#0920db,#0920e3,#0a22e9,#0d29ea,#102eec,#1334ee,#163aef,#1941f1,#1d4af3,#2355f4,#2962f5,#3071f6,#3981f7,#4294f7,#4ba7f8,#55bbf9,#5fd0fa,#69e4fb,#73f8fd,#76fbee,#79fbde,#7dfbce,#82fbc0,#88fcb4,#8efca9,#94fca0,#99fc98,#9dfc92,#a1fc8e,#a4fc8a,#a6fc87,#a8fc85,#a9fc84,#aafc82,#acfc81,#acfc80,#adfc7f,#adfc7f,#adfc7f,#adfc80,#acfc80,#abfc82,#a9fc83,#a8fc85,#a6fc88,#a4fc8a,#a1fc8d)"></i><i style="background:linear-gradient(90deg,#010390,#010493,#010598,#01069e,#0209a4,#020cab,#030fb3,#0414ba,#0518c1,#071cc9,#081ed1,#0920d9,#0920e1,#0920e9,#0c27ea,#0f2deb,#1232ed,#1538ef,#183ff1,#1c47f3,#2151f4,#275ef5,#2e6cf6,#367df6,#3f8ff7,#49a2f8,#52b6f9,#5ccafa,#66defb,#70f2fc,#76fbf4,#78fbe4,#7bfbd4,#80fbc6,#85fcba,#8bfcaf,#90fca6,#95fc9e,#99fc98,#9dfc93,#a0fc8f,#a2fc8c,#a4fc8a,#a5fc88,#a7fc87,#a8fc85,#a9fc84,#aafc83,#aafc83,#aafc83,#aafc83,#a9fc84,#a8fc85,#a7fc86,#a5fc88,#a4fc8a,#a2fc8d,#9ffc8f)"></i><i style="background:linear-gradient(90deg,#01038f,#010492,#010597,#01069d,#0208a4,#020baa,#030fb2,#0413b9,#0517c0,#071bc7,#081ecf,#0920d6,#0920de,#0920e7,#0b25ea,#0e2beb,#1131ed,#1437ee,#173df0,#1b45f2,#204ff4,#265af5,#2c68f6,#3478f6,#3d8af7,#469df8,#50b0f9,#5ac4fa,#63d8fb,#6debfc,#75fbfa,#77fbea,#7afbdb,#7efbcc,#82fbc0,#87fcb5,#8dfcac,#91fca4,#95fc9d,#99fc98,#9cfc94,#9efc92,#a0fc8f,#a1fc8d,#a3fc8b,#a4fc8a,#a5fc88,#a6fc87,#a6fc87,#a7fc86,#a7fc87,#a6fc87,#a5fc88,#a4fc89,#a3fc8b,#a1fc8d,#9ffc8f,#9efc92)"></i><i style="background:linear-gradient(90deg,#00038d,#010392,#010497,#01069d,#0108a3,#020baa,#030eb1,#0412b8,#0516bf,#061ac6,#081dcd,#081fd4,#0920dc,#0920e4,#0a23e9,#0d2aea,#102fec,#1335ee,#163bf0,#1a43f2,#1e4cf3,#2457f5,#2a65f5,#3274f6,#3b85f7,#4498f7,#4dabf8,#57bef9,#61d2fa,#6ae5fc,#73f8fd,#76fbf0,#78fbe1,#7cfbd3,#80fbc6,#85fcbb,#89fcb2,#8efcaa,#92fca3,#95fc9e,#98fc9a,#9afc97,#9cfc94,#9dfc92,#9ffc90,#a0fc8e,#a1fc8d,#a2fc8c,#a3fc8b,#a3fc8b,#a3fc8b,#a3fc8b,#a2fc8c,#a2fc8d,#a0fc8e,#9ffc90,#9dfc92,#9cfc94)"></i><i style="background:linear-gradient(90deg,#00038c,#010391,#010496,#01069c,#0108a2,#020ba9,#030eaf,#0412b6,#0515bd,#0619c4,#071ccb,#081fd2,#0920da,#0920e2,#0921e9,#0c28ea,#0f2eec,#1233ed,#1539ef,#1940f1,#1d49f3,#2254f4,#2961f5,#3070f6,#3880f7,#4192f7,#4ba6f8,#54b9f9,#5eccfa,#67dffb,#70f2fc,#75fbf6,#77fbe7,#7afbd9,#7efbcd,#82fbc2,#86fcb8,#8afcb0,#8efca9,#91fca4,#94fca0,#96fc9d,#98fc9a,#99fc98,#9bfc95,#9cfc94,#9efc92,#9ffc90,#9ffc8f,#a0fc8f,#a0fc8f,#a0fc8f,#9ffc8f,#9ffc90,#9efc91,#9dfc93,#9bfc95,#9afc97)"></i><i style="background:linear-gradient(90deg,#00028b,#010390,#010495,#01069b,#0108a1,#020aa8,#020dae,#0311b5,#0415bc,#0618c2,#071cc9,#081ed0,#0920d7,#0920df,#0920e8,#0c26ea,#0f2ceb,#1132ed,#1438ef,#183ef1,#1c46f2,#2151f4,#275df5,#2e6bf6,#367cf6,#3f8df7,#48a0f8,#51b3f9,#5bc7fa,#64d9fb,#6debfc,#75fbfc,#76fbed,#79fbdf,#7cfbd3,#7ffbc8,#83fbbe,#87fcb6,#8afcb0,#8dfcaa,#90fca6,#92fca3,#94fca0,#95fc9d,#97fc9b,#98fc99,#9afc97,#9bfc95,#9cfc94,#9cfc93,#9dfc93,#9dfc93,#9dfc93,#9cfc94,#9bfc95,#9afc96,#99fc98,#97fc9a)"></i><i style="background:linear-gradient(90deg,#00028a,#01038f,#010495,#01059b,#0107a1,#020aa7,#020dad,#0310b4,#0414ba,#0518c1,#071bc7,#081ece,#0920d5,#0920dd,#0920e5,#0b24e9,#0e2aeb,#1130ec,#1436ee,#173cf0,#1a44f2,#1f4ef4,#2559f5,#2c67f6,#3477f6,#3c88f7,#459bf8,#4faef8,#58c1f9,#61d3fa,#6ae5fc,#72f6fd,#76fbf4,#77fbe6,#7afbda,#7dfbcf,#80fbc5,#84fbbd,#87fcb6,#8afcb1,#8cfcac,#8efca9,#90fca6,#92fca3,#93fca1,#95fc9e,#96fc9c,#97fc9a,#98fc99,#99fc98,#99fc97,#9afc97,#9afc97,#99fc98,#99fc99,#98fc9a,#97fc9b,#95fc9d)"></i><i style="background:linear-gradient(90deg,#000289,#01038e,#010494,#01059a,#0107a0,#0209a6,#020cac,#0310b3,#0413b9,#0517bf,#061ac6,#071dcc,#081fd3,#0920da,#0920e3,#0a22e9,#0d28ea,#102eec,#1334ee,#163af0,#1942f1,#1e4af3,#2356f4,#2a63f5,#3172f6,#3a83f7,#4395f7,#4ca8f8,#55bbf9,#5ecdfa,#67defb,#6feffc,#75fbfa,#76fbed,#78fbe1,#7bfbd6,#7efbcc,#81fbc4,#84fbbd,#86fcb7,#89fcb3,#8bfcaf,#8cfcac,#8efca9,#90fca6,#91fca4,#93fca2,#94fca0,#95fc9e,#96fc9d,#96fc9c,#96fc9c,#97fc9c,#96fc9c,#96fc9c,#95fc9e,#94fc9f,#93fca1)"></i><i style="background:linear-gradient(90deg,#000288,#00038d,#010493,#010599,#01079f,#0209a5,#020cab,#030fb2,#0412b8,#0516be,#0619c4,#071cca,#081ed1,#0920d8,#0920e0,#0920e9,#0c26ea,#0f2deb,#1232ed,#1538ef,#183ff1,#1c48f3,#2152f4,#275ef5,#2f6df6,#377ef6,#4090f7,#49a2f8,#52b4f9,#5bc6fa,#63d7fb,#6be8fc,#73f7fd,#76fbf4,#77fbe8,#79fbdd,#7cfbd3,#7efbcb,#81fbc4,#83fbbe,#85fcba,#87fcb6,#89fcb2,#8afcaf,#8cfcac,#8efcaa,#8ffca7,#90fca5,#91fca3,#92fca2,#93fca1,#93fca0,#94fca0,#94fca0,#93fca1,#93fca1,#92fca3,#91fca4)"></i><i style="background:linear-gradient(90deg,#000287,#00038d,#010493,#010599,#01079f,#0209a5,#020bab,#030eb0,#0412b6,#0515bc,#0618c2,#071bc8,#081ecf,#0920d6,#0920dd,#0920e6,#0b24e9,#0e2beb,#1131ec,#1436ee,#173df0,#1b45f2,#1f4ef4,#255af5,#2c68f6,#3478f6,#3d8af7,#469cf8,#4faef8,#57bff9,#60d0fa,#68e0fb,#6feffc,#75fbfb,#76fbef,#78fbe4,#7afbdb,#7cfbd2,#7efbcb,#80fbc6,#82fbc1,#84fbbd,#86fcb9,#87fcb6,#89fcb3,#8afcb0,#8cfcad,#8dfcab,#8efca9,#8ffca7,#90fca6,#90fca5,#91fca5,#91fca5,#91fca5,#90fca5,#8ffca7,#8ffca8)"></i><i style="background:linear-gradient(90deg,#000286,#00028c,#010392,#010598,#01069e,#0208a4,#020baa,#030eaf,#0311b5,#0414bb,#0517c0,#061ac6,#071dcd,#081fd3,#0920db,#0920e3,#0a22e9,#0d29ea,#102fec,#1335ee,#163bf0,#1942f2,#1e4bf3,#2356f4,#2a63f5,#3173f6,#3a83f7,#4295f7,#4ba7f8,#54b8f9,#5cc9fa,#64d8fb,#6be7fc,#72f5fd,#75fbf7,#76fbec,#78fbe2,#7afbda,#7cfbd3,#7efbcd,#7ffbc8,#81fbc4,#83fbc0,#84fbbc,#86fcb9,#87fcb6,#88fcb3,#8afcb0,#8bfcae,#8cfcad,#8dfcab,#8dfcaa,#8efca9,#8efca9,#8efca9,#8efcaa,#8dfcab,#8cfcac)"></i><i style="background:linear-gradient(90deg,#000285,#00028b,#010391,#010597,#01069d,#0108a3,#020aa9,#020dae,#0310b4,#0413b9,#0516bf,#061ac5,#071ccb,#081fd1,#0920d8,#0920e0,#0920e9,#0c27ea,#0f2deb,#1232ed,#1538ef,#183ff1,#1c47f3,#2151f4,#275ef5,#2e6cf6,#367df6,#3f8ef7,#479ff8,#50b0f9,#58c0f9,#60d0fa,#67dffb,#6eedfc,#74f9fd,#76fbf4,#77fbeb,#78fbe2,#7afbdb,#7bfbd5,#7dfbcf,#7efbcb,#80fbc7,#81fbc3,#83fbbf,#84fcbc,#85fcb9,#87fcb6,#88fcb4,#89fcb2,#8afcb0,#8afcaf,#8bfcae,#8bfcae,#8bfcae,#8bfcae,#8bfcaf,#8afcb0)"></i><i style="background:linear-gradient(90deg,#000284,#00028b,#010391,#010496,#01069c,#0108a2,#020aa8,#020dad,#0310b3,#0413b8,#0516bd,#0619c3,#071bc9,#081ecf,#0920d6,#0920dd,#0920e6,#0b24e9,#0e2beb,#1130ec,#1436ee,#173cf0,#1a44f2,#1f4df3,#2458f5,#2b66f5,#3376f6,#3b86f7,#4397f7,#4ca8f8,#54b8f9,#5bc7fa,#62d6fb,#69e4fb,#6ff0fc,#75fbfd,#76fbf3,#77fbea,#78fbe3,#79fbdc,#7bfbd7,#7cfbd2,#7dfbce,#7ffbca,#80fbc6,#81fbc2,#83fbbf,#84fbbc,#85fcba,#86fcb8,#87fcb6,#88fcb5,#88fcb4,#88fcb3,#89fcb3,#88fcb3,#88fcb4,#88fcb5)"></i><i style="background:linear-gradient(90deg,#000284,#00028a,#010390,#010496,#01069c,#0108a1,#020aa7,#020cac,#030fb2,#0412b7,#0515bc,#0518c1,#061bc7,#071dcd,#081fd3,#0920da,#0920e2,#0922e9,#0d28ea,#102eec,#1234ed,#1539ef,#1840f1,#1d48f3,#2253f4,#2860f5,#2f6ef6,#377ef6,#3f8ef7,#479ff8,#4faef8,#56bef9,#5eccfa,#64dafb,#6be7fc,#70f2fc,#75fbfc,#76fbf3,#77fbeb,#78fbe5,#79fbdf,#7afbda,#7bfbd5,#7cfbd1,#7efbcd,#7ffbc9,#80fbc6,#81fbc2,#82fbc0,#83fbbe,#84fcbc,#85fcba,#85fcb9,#86fcb8,#86fcb8,#86fcb8,#86fcb9,#85fcba)"></i><i style="background:linear-gradient(90deg,#000283,#000289,#01038f,#010495,#01069b,#0107a1,#0209a6,#020cac,#030eb1,#0311b6,#0414bb,#0517c0,#061ac5,#071cca,#081ed0,#0920d7,#0920df,#0920e8,#0b26ea,#0e2ceb,#1131ed,#1437ee,#173df0,#1a44f2,#1f4df3,#2559f5,#2b66f6,#3375f6,#3a85f7,#4295f7,#4aa4f8,#52b4f9,#59c2f9,#5fd0fa,#66ddfb,#6ce8fc,#71f3fd,#75fbfc,#76fbf4,#76fbed,#77fbe7,#78fbe1,#79fbdc,#7afbd8,#7bfbd4,#7dfbd0,#7efbcc,#7ffbc9,#80fbc6,#81fbc3,#82fbc1,#82fbc0,#83fbbf,#83fbbe,#83fbbe,#83fbbe,#83fbbe,#83fbbf)"></i></div>
<div class="p" style="left:203px;top:14px;width:112px;height:84px"><i style="background:linear-gradient(90deg,#020aa7,#030fb3,#0618c2,#0920d5,#0b25ea,#1437ef,#1f4df4,#306ff6,#4395f7,#56bcf9,#68e1fb,#75fbf6,#7afbd7,#86fcb8,#98fc9a,#affc7d,#cbfd65,#eafe57,#fdf551,#f8d648,#f5bd41,#f2ab3c,#f19e38,#f09436,#ef8e34,#ef8a33,#ef8833,#ef8833,#ef8933,#ef8b34,#ef8e34,#f09135,#f09436,#f09737,#f09937,#f19c38,#f19f39,#f1a33a,#f2a73b)"></i><i style="background:linear-gradient(90deg,#020aa7,#030fb2,#0517c1,#081fd4,#0b24e9,#1436ee,#1f4df3,#306ff6,#4397f7,#57bff9,#69e3fb,#75fbf6,#7afbd8,#86fcb9,#99fc98,#b4fd78,#d3fd60,#f4ff55,#fbe84d,#f6c844,#f3b03d,#f19e39,#f09135,#ef8833,#ee8231,#ee7e31,#ee7d30,#ee7d30,#ee7f31,#ee8131,#ee8332,#ef8632,#ef8833,#ef8a34,#ef8d34,#f09035,#f09336,#f09737,#f19d38)"></i><i style="background:linear-gradient(90deg,#0209a6,#030fb1,#0517c0,#081fd3,#0a23e9,#1336ee,#1f4cf3,#306ff6,#4499f8,#58c2f9,#6ae5fc,#76fbf4,#7bfbd7,#87fcb7,#9cfc93,#bafd72,#dcfe5c,#ffff54,#f9da49,#f4bb40,#f2a33a,#f09235,#ef8532,#ee7c30,#ed762f,#ed732e,#ed722e,#ed732e,#ed752f,#ed772f,#ee7a30,#ee7c30,#ee7e30,#ee8031,#ee8231,#ef8532,#ef8833,#ef8d34,#f09336)"></i><i style="background:linear-gradient(90deg,#0209a6,#030eb1,#0516bf,#081fd2,#0a22e9,#1335ee,#1e4cf3,#3070f6,#459bf8,#5ac5fa,#6ce9fc,#76fbf1,#7bfbd3,#89fcb2,#a1fc8e,#c1fd6c,#e6fe58,#fdf351,#f7cd46,#f3af3d,#f09737,#ef8632,#ee7a30,#ed722e,#ed6c2d,#ec692c,#ec692c,#ed6a2c,#ed6c2d,#ed6f2d,#ed712e,#ed722e,#ed742e,#ed762f,#ed782f,#ee7b30,#ee7e31,#ee8432,#ef8b34)"></i><i style="background:linear-gradient(90deg,#0209a5,#030eb0,#0516be,#081ed1,#0921e9,#1335ee,#1f4cf3,#3172f6,#469df8,#5bc8fa,#6eedfc,#76fbec,#7dfbce,#8cfcac,#a7fc87,#cafd66,#f0fe56,#fbe64d,#f5c042,#f1a23a,#ef8c34,#ee7b30,#ed702d,#ec682c,#ec632b,#ec602a,#ec602a,#ec622b,#ec642b,#ec672c,#ec692c,#ed6a2c,#ed6c2d,#ed6d2d,#ed6f2d,#ed722e,#ed762f,#ee7b30,#ee8332)"></i><i style="background:linear-gradient(90deg,#0209a4,#020daf,#0515bd,#081ed0,#0921e9,#1335ee,#1f4df3,#3273f6,#48a0f8,#5dcbfa,#70f1fc,#77fbe7,#7ffbc8,#91fca5,#aefc7f,#d3fd60,#fbff55,#f9d949,#f3b43e,#f09636,#ee8031,#ed712e,#ec672c,#ec5f2a,#ec5b29,#eb5929,#eb5929,#ec5a29,#ec5d2a,#ec5f2a,#ec612a,#ec632b,#ec642b,#ec662b,#ec682c,#ed6b2c,#ed6f2d,#ed742e,#ee7c30)"></i><i style="background:linear-gradient(90deg,#0208a3,#020dad,#0415bc,#081ecf,#0920e9,#1335ee,#1f4ef4,#3375f6,#49a2f8,#5fcffa,#72f6fd,#78fbe1,#82fbc0,#97fc9c,#b6fd76,#ddfe5b,#fef752,#f7cc45,#f2a73b,#ef8b34,#ed762f,#ec682c,#ec5e2a,#eb5829,#eb5428,#eb5228,#eb5228,#eb5428,#eb5628,#eb5929,#ec5b29,#ec5d2a,#ec5e2a,#ec5f2a,#ec612a,#ec642b,#ec682c,#ed6e2d,#ed762f)"></i><i style="background:linear-gradient(90deg,#0108a2,#020cac,#0414bb,#081ece,#0920e9,#1336ee,#204ff4,#3477f6,#4aa5f8,#61d2fa,#75fbfd,#7afbda,#87fcb7,#9efc92,#c0fd6e,#e8fe57,#fbea4e,#f5bf41,#f19b38,#ee8031,#ed6c2d,#ec5f2a,#eb5729,#eb5128,#eb4d27,#eb4c27,#eb4c27,#eb4e27,#eb5127,#eb5328,#eb5528,#eb5729,#eb5829,#ec5a29,#ec5c29,#ec5f2a,#ec632b,#ec682c,#ed702d)"></i><i style="background:linear-gradient(90deg,#0107a1,#020bab,#0413ba,#081dce,#0920e9,#1436ee,#2150f4,#3579f6,#4ca8f8,#63d6fb,#75fbf7,#7cfbd2,#8cfcad,#a6fc87,#cafd66,#f4ff55,#f9dc4a,#f3b23e,#f09035,#ed762f,#ec632b,#eb5829,#eb5027,#eb4b27,#eb4826,#eb4726,#eb4726,#eb4926,#eb4c27,#eb4e27,#eb5027,#eb5228,#eb5428,#eb5528,#eb5729,#ec5a29,#ec5e2a,#ec642b,#ed6b2c)"></i><i style="background:linear-gradient(90deg,#0107a0,#020baa,#0413b9,#081dcd,#0921e9,#1437ef,#2152f4,#367cf6,#4dabf8,#65dafb,#76fbf2,#7ffbca,#92fca3,#affc7d,#d5fe5f,#fffe54,#f7cf46,#f2a63b,#ef8532,#ed6c2d,#ec5b29,#eb5128,#eb4b26,#eb4626,#eb4425,#ea4325,#ea4325,#eb4526,#eb4726,#eb4a26,#eb4c27,#eb4e27,#eb5027,#eb5128,#eb5428,#eb5728,#ec5a29,#ec602a,#ec672c)"></i><i style="background:linear-gradient(90deg,#01079f,#020aa8,#0412b8,#071dcd,#0921e9,#1438ef,#2254f4,#377ef6,#4faef8,#67defb,#76fbec,#82fbc1,#99fc98,#b9fd73,#e1fe5a,#fcf050,#f5c242,#f19a37,#ee7a30,#ec632b,#eb5428,#eb4b27,#eb4626,#ea4225,#ea4025,#ea3f25,#ea4025,#ea4125,#eb4425,#eb4626,#eb4826,#eb4a26,#eb4c27,#eb4e27,#eb5127,#eb5328,#eb5729,#ec5c2a,#ec632b)"></i><i style="background:linear-gradient(90deg,#01069e,#020aa7,#0412b6,#071dcc,#0922e9,#1539ef,#2356f4,#3981f7,#50b1f9,#69e2fb,#77fbe6,#86fcb9,#a0fc8e,#c4fd6a,#edfe56,#fae24c,#f4b53f,#ef8f35,#ed702e,#ec5b29,#eb4e27,#eb4626,#ea4225,#ea3f25,#ea3d25,#ea3c24,#ea3d25,#ea3f25,#ea4125,#ea4325,#eb4526,#eb4726,#eb4926,#eb4c27,#eb4e27,#eb5128,#eb5528,#ec5a29,#ec602a)"></i><i style="background:linear-gradient(90deg,#01069d,#0209a5,#0311b5,#071dcc,#0a22e9,#153aef,#2458f5,#3a84f7,#52b4f9,#6be7fc,#78fbe0,#8afcb0,#a9fc84,#cffd62,#faff55,#f8d548,#f2a93b,#ee8432,#ec672c,#eb5428,#eb4826,#ea4225,#ea3e25,#ea3c24,#ea3b24,#ea3a24,#ea3b24,#ea3c24,#ea3e25,#ea4025,#ea4325,#eb4526,#eb4726,#eb4a26,#eb4c27,#eb4f27,#eb5328,#eb5729,#ec5d2a)"></i><i style="background:linear-gradient(90deg,#01069b,#0209a4,#0311b5,#071dcc,#0a23e9,#163bf0,#265bf5,#3c87f7,#53b8f9,#6debfc,#7afbda,#8efca8,#b1fc7b,#dbfe5c,#fef752,#f6c744,#f19d38,#ee7a30,#ec5f2a,#eb4d27,#ea4325,#ea3e25,#ea3c24,#ea3a24,#ea3924,#ea3924,#ea3924,#ea3a24,#ea3c24,#ea3e25,#ea4125,#ea4325,#eb4526,#eb4826,#eb4b27,#eb4e27,#eb5128,#eb5528,#ec5a29)"></i><i style="background:linear-gradient(90deg,#01059a,#0108a3,#0310b4,#071dcb,#0a23e9,#163cf0,#275df5,#3d8af7,#55bbf9,#6feffc,#7bfbd5,#93fca0,#bafd73,#e6fe58,#fbea4e,#f4bb40,#f09336,#ed712e,#eb5829,#eb4826,#ea3f25,#ea3b24,#ea3a24,#ea3824,#ea3824,#ea3724,#ea3824,#ea3924,#ea3a24,#ea3d24,#ea3f25,#ea4125,#eb4425,#eb4726,#eb4a26,#eb4d27,#eb5027,#eb5428,#eb5829)"></i><i style="background:linear-gradient(90deg,#010599,#0108a2,#0310b3,#071dcb,#0b24e9,#173df0,#2860f5,#3f8df7,#57bff9,#71f3fd,#7dfbcf,#98fc99,#c2fd6c,#f0fe56,#f9dd4a,#f3b03d,#ef8933,#ec692c,#eb5128,#ea4325,#ea3c24,#ea3924,#ea3824,#ea3724,#ea3724,#ea3624,#ea3724,#ea3824,#ea3924,#ea3b24,#ea3d25,#ea4025,#ea4325,#eb4626,#eb4926,#eb4c27,#eb4f27,#eb5328,#eb5729)"></i><i style="background:linear-gradient(90deg,#010599,#0107a0,#030fb2,#071dcb,#0b25ea,#183ef1,#2962f5,#4091f7,#59c2f9,#73f8fd,#7ffbca,#9dfc92,#cafd66,#faff55,#f7d247,#f2a53a,#ee8031,#ec612a,#eb4c27,#ea3f25,#ea3a24,#ea3824,#ea3724,#ea3624,#ea3624,#ea3624,#ea3624,#ea3724,#ea3824,#ea3a24,#ea3c24,#ea3f25,#ea4225,#eb4526,#eb4826,#eb4c27,#eb4f27,#eb5228,#eb5628)"></i><i style="background:linear-gradient(90deg,#010598,#01079f,#030fb1,#071dcb,#0b25ea,#183ff1,#2b65f5,#4294f7,#5ac6fa,#75fbfc,#80fbc5,#a2fc8c,#d1fd61,#fefb53,#f6c844,#f19c38,#ed782f,#ec5b29,#eb4726,#ea3c24,#ea3824,#ea3624,#ea3624,#ea3624,#ea3524,#ea3524,#ea3524,#ea3624,#ea3724,#ea3924,#ea3b24,#ea3e25,#ea4125,#eb4526,#eb4826,#eb4c27,#eb4f27,#eb5228,#eb5528)"></i><i style="background:linear-gradient(90deg,#010597,#01079f,#030eb1,#071dcb,#0c26ea,#1940f1,#2c67f6,#4397f7,#5cc9fa,#75fbf9,#82fbc0,#a6fc87,#d7fe5e,#fdf351,#f5bf42,#f09436,#ed712e,#eb5628,#eb4325,#ea3a24,#ea3724,#ea3624,#ea3524,#ea3524,#ea3524,#ea3524,#ea3524,#ea3624,#ea3724,#ea3924,#ea3b24,#ea3e25,#ea4125,#eb4426,#eb4826,#eb4c27,#eb4f27,#eb5228,#eb5428)"></i><i style="background:linear-gradient(90deg,#010496,#01069e,#030eb0,#071dcb,#0c27ea,#1942f1,#2d6af6,#459af8,#5ecdfa,#76fbf5,#84fcbc,#aafc83,#dcfe5c,#fcec4f,#f4b940,#ef8e35,#ed6c2d,#eb5128,#ea4125,#ea3824,#ea3624,#ea3524,#ea3524,#ea3524,#ea3524,#ea3424,#ea3524,#ea3524,#ea3624,#ea3824,#ea3a24,#ea3d25,#ea4125,#eb4426,#eb4826,#eb4c27,#eb4f27,#eb5228,#eb5328)"></i><i style="background:linear-gradient(90deg,#010496,#01069d,#030eb0,#071dcb,#0c27ea,#1a43f2,#2e6cf6,#479ef8,#60d1fa,#76fbf1,#86fcb8,#acfc80,#dffe5a,#fbe84d,#f4b43f,#ef8a33,#ec682c,#eb4e27,#ea3e25,#ea3724,#ea3524,#ea3423,#ea3424,#ea3424,#ea3423,#ea3423,#ea3524,#ea3524,#ea3624,#ea3824,#ea3a24,#ea3d25,#ea4025,#eb4426,#eb4826,#eb4c27,#eb4f27,#eb5228,#eb5328)"></i><i style="background:linear-gradient(90deg,#010496,#01069d,#030eb0,#071dcb,#0c28ea,#1a44f2,#2f6ef6,#48a1f8,#62d5fb,#76fbed,#87fcb5,#aefc7e,#e1fe5a,#fbe64d,#f3b23e,#ef8833,#ec652b,#eb4c27,#ea3d25,#ea3624,#ea3424,#ea3423,#ea3423,#ea3423,#ea3423,#ea3423,#ea3424,#ea3524,#ea3624,#ea3824,#ea3a24,#ea3d25,#ea4025,#eb4426,#eb4926,#eb4c27,#eb5027,#eb5228,#eb5328)"></i><i style="background:linear-gradient(90deg,#010496,#01069d,#030eaf,#071dcb,#0d28ea,#1b45f2,#3070f6,#4aa4f8,#64d8fb,#77fbea,#89fcb3,#affc7d,#e1fe5a,#fbe74d,#f3b33e,#ef8733,#ec642b,#eb4b27,#ea3c24,#ea3624,#ea3423,#ea3423,#ea3423,#ea3423,#ea3423,#ea3423,#ea3424,#ea3524,#ea3624,#ea3824,#ea3a24,#ea3d25,#ea4025,#eb4526,#eb4926,#eb4d27,#eb5027,#eb5228,#eb5328)"></i><i style="background:linear-gradient(90deg,#010496,#01069c,#030eaf,#071dcb,#0d28ea,#1b45f2,#3172f6,#4ba6f8,#65dcfb,#77fbe7,#8afcb1,#affc7d,#dffe5a,#fbea4e,#f4b53f,#ef8833,#ec642b,#eb4a26,#ea3c24,#ea3624,#ea3423,#ea3423,#ea3423,#ea3423,#ea3423,#ea3423,#ea3424,#ea3524,#ea3624,#ea3824,#ea3a24,#ea3d25,#ea4125,#eb4526,#eb4926,#eb4d27,#eb5027,#eb5328,#eb5328)"></i><i style="background:linear-gradient(90deg,#010496,#01069d,#030eb0,#071dcc,#0d29ea,#1b46f2,#3273f6,#4ca9f8,#67defb,#78fbe4,#8afcaf,#aefc7e,#dcfe5c,#fcef4f,#f4b940,#ef8b34,#ec652b,#eb4a26,#ea3b24,#ea3624,#ea3423,#ea3423,#ea3423,#ea3423,#ea3423,#ea3423,#ea3524,#ea3524,#ea3624,#ea3824,#ea3a24,#ea3d25,#ea4125,#eb4526,#eb4926,#eb4e27,#eb5128,#eb5328,#eb5328)"></i><i style="background:linear-gradient(90deg,#010496,#01069d,#030eb0,#071dcc,#0d29ea,#1b46f2,#3274f6,#4daaf8,#68e1fb,#78fbe2,#8bfcaf,#adfc80,#d8fe5d,#fdf551,#f5bf42,#ef8f35,#ec672c,#eb4b27,#ea3c24,#ea3624,#ea3423,#ea3423,#ea3423,#ea3423,#ea3423,#ea3423,#ea3524,#ea3524,#ea3624,#ea3824,#ea3a24,#ea3d25,#ea4125,#eb4526,#eb4a26,#eb4e27,#eb5128,#eb5328,#eb5428)"></i><i style="background:linear-gradient(90deg,#010496,#01069d,#030eb0,#071dcc,#0d29ea,#1b46f2,#3275f6,#4dabf8,#69e3fb,#78fbe1,#8afcaf,#aafc82,#d3fd60,#fffd54,#f6c744,#f09436,#ed6b2c,#eb4d27,#ea3c24,#ea3624,#ea3423,#ea3423,#ea3423,#ea3423,#ea3423,#ea3424,#ea3524,#ea3524,#ea3624,#ea3824,#ea3a24,#ea3d25,#ea4125,#eb4526,#eb4a26,#eb4e27,#eb5128,#eb5328,#eb5428)"></i><i style="background:linear-gradient(90deg,#010496,#01069d,#030eb0,#071dcc,#0d29ea,#1b46f2,#3274f6,#4eacf8,#69e3fb,#78fbe0,#8afcb0,#a8fc86,#cdfd64,#f9ff55,#f7cf46,#f19b38,#ed6f2d,#eb4f27,#ea3d25,#ea3624,#ea3423,#ea3423,#ea3423,#ea3424,#ea3424,#ea3424,#ea3524,#ea3524,#ea3624,#ea3824,#ea3a24,#ea3d25,#ea4125,#eb4526,#eb4a26,#eb4e27,#eb5128,#eb5428,#eb5428)"></i><i style="background:linear-gradient(90deg,#010496,#01069e,#030eb0,#071dcc,#0d28ea,#1b45f2,#3274f6,#4dabf8,#69e3fb,#78fbe1,#89fcb3,#a4fc8a,#c7fd68,#f1fe56,#f8d849,#f1a23a,#ed742e,#eb5228,#ea3e25,#ea3624,#ea3423,#ea3423,#ea3423,#ea3524,#ea3524,#ea3524,#ea3524,#ea3524,#ea3624,#ea3824,#ea3a24,#ea3d25,#ea4125,#eb4526,#eb4a26,#eb4e27,#eb5128,#eb5328,#eb5428)"></i><i style="background:linear-gradient(90deg,#010496,#01079e,#030eb1,#071dcc,#0d28ea,#1b44f2,#3172f6,#4ca9f8,#68e2fb,#78fbe3,#87fcb6,#a0fc8e,#c0fd6d,#e9fe57,#fae24c,#f2ab3c,#ee7a30,#eb5528,#ea3f25,#ea3624,#ea3423,#ea3423,#ea3423,#ea3524,#ea3524,#ea3524,#ea3524,#ea3524,#ea3624,#ea3824,#ea3a24,#ea3d25,#ea4125,#eb4526,#eb4a26,#eb4e27,#eb5128,#eb5328,#eb5428)"></i><i style="background:linear-gradient(90deg,#010496,#01079f,#030fb1,#071dcc,#0c27ea,#1a43f2,#306ff6,#4ba7f8,#67dffb,#77fbe6,#85fcba,#9cfc94,#bafd73,#e0fe5a,#fcec4f,#f3b33e,#ee8031,#eb5929,#ea4125,#ea3724,#ea3423,#ea3423,#ea3423,#ea3524,#ea3424,#ea3424,#ea3524,#ea3524,#ea3624,#ea3824,#ea3a24,#ea3d25,#ea4125,#eb4526,#eb4926,#eb4d27,#eb5027,#eb5328,#eb5428)"></i><i style="background:linear-gradient(90deg,#010496,#01079f,#030fb2,#071dcb,#0c26ea,#1941f1,#2e6cf6,#49a3f8,#65dbfb,#77fbea,#83fbbf,#97fc9a,#b3fd79,#d8fe5d,#fdf652,#f5bd41,#ef8733,#ec5d2a,#ea4225,#ea3724,#ea3323,#ea3323,#ea3423,#ea3424,#ea3423,#ea3423,#ea3424,#ea3524,#ea3624,#ea3824,#ea3a24,#ea3d25,#ea4025,#eb4426,#eb4826,#eb4c27,#eb4f27,#eb5228,#eb5328)"></i><i style="background:linear-gradient(90deg,#010495,#0107a0,#030fb2,#071dcb,#0b25ea,#183ff1,#2c68f6,#479df8,#62d5fb,#76fbf0,#80fbc5,#93fca1,#adfc7f,#d0fd62,#feff54,#f6c644,#ef8f35,#ec622b,#eb4325,#ea3624,#e83323,#ea3323,#ea3423,#ea3423,#ea3423,#ea3423,#ea3423,#ea3524,#ea3624,#ea3724,#ea3a24,#ea3d24,#ea4025,#eb4425,#eb4826,#eb4b27,#eb4e27,#eb5127,#eb5228)"></i><i style="background:linear-gradient(90deg,#010495,#0107a0,#030fb2,#071ccb,#0a24e9,#173df0,#2a63f5,#4397f7,#5ecdfa,#75fbf7,#7efbcd,#8efca8,#a7fc86,#c9fd66,#f5ff55,#f7d046,#f09737,#ec672c,#eb4526,#ea3624,#e43222,#e83323,#ea3423,#ea3423,#ea3423,#ea3423,#ea3423,#ea3424,#ea3524,#ea3724,#ea3924,#ea3c24,#ea3f25,#ea4325,#eb4726,#eb4a26,#eb4d27,#eb4f27,#eb5128)"></i><i style="background:linear-gradient(90deg,#010494,#0107a0,#030fb3,#071cca,#0a22e9,#163bf0,#275ef5,#408ff7,#5ac5fa,#74f9fd,#7bfbd5,#8afcb0,#a1fc8d,#c2fd6c,#edfe56,#f9da49,#f1a039,#ed6c2d,#eb4626,#ea3524,#df3021,#e63223,#ea3423,#ea3423,#ea3423,#ea3323,#ea3423,#ea3423,#ea3524,#ea3724,#ea3924,#ea3c24,#ea3f25,#ea4225,#eb4626,#eb4926,#eb4c27,#eb4e27,#eb5027)"></i><i style="background:linear-gradient(90deg,#010493,#0107a1,#0310b3,#071cca,#0920e9,#1538ef,#2458f5,#3c87f7,#55bcf9,#6feffc,#79fbde,#86fcb8,#9cfc94,#bbfd71,#e5fe58,#fae44c,#f2a93b,#ed722e,#eb4826,#ea3423,#d92f20,#e43222,#ea3323,#ea3423,#ea3423,#ea3323,#ea3323,#ea3423,#ea3524,#ea3724,#ea3924,#ea3c24,#ea3f25,#ea4225,#eb4526,#eb4826,#eb4b27,#eb4d27,#eb4f27)"></i><i style="background:linear-gradient(90deg,#010392,#0107a1,#0310b3,#071cc9,#0920e7,#1336ee,#2152f4,#377ff7,#51b2f9,#6ae4fb,#77fbe7,#82fbc0,#97fc9b,#b5fd77,#ddfe5b,#fcef50,#f3b33e,#ed782f,#eb4a26,#ea3323,#d22d1f,#e33122,#ea3323,#ea3423,#ea3423,#ea3323,#ea3323,#ea3423,#ea3524,#ea3724,#ea3924,#ea3c24,#ea3f25,#ea4225,#eb4526,#eb4826,#eb4a26,#eb4d27,#eb4f27)"></i><i style="background:linear-gradient(90deg,#010391,#0107a1,#0310b3,#071bc8,#0920e4,#1233ed,#1f4df3,#3376f6,#4ba7f8,#64d9fb,#76fbf1,#7ffbc8,#92fca2,#affc7d,#d5fd5f,#fefa53,#f5bd41,#ee7f31,#eb4c27,#e23122,#ca2b1d,#e23122,#ea3423,#ea3423,#ea3423,#ea3323,#ea3323,#ea3423,#ea3524,#ea3724,#ea3924,#ea3c24,#ea3f25,#ea4225,#eb4526,#eb4826,#eb4a26,#eb4d27,#eb4f27)"></i><i style="background:linear-gradient(90deg,#010390,#0108a1,#0310b3,#071bc8,#0920e2,#1131ec,#1c48f3,#2f6df6,#469df8,#5fcffa,#75fbfa,#7cfbd1,#8efca9,#a9fc83,#cdfd64,#faff55,#f6c744,#ef8632,#eb4d27,#d92f20,#c2291b,#e33122,#ea3423,#ea3524,#ea3524,#ea3423,#ea3423,#ea3524,#ea3624,#ea3824,#ea3a24,#ea3d25,#ea4125,#eb4425,#eb4626,#eb4826,#eb4b27,#eb4d27,#eb5027)"></i><i style="background:linear-gradient(90deg,#01038f,#0108a1,#0310b4,#071bc7,#0920df,#102eec,#1a43f2,#2b65f5,#4193f7,#59c4fa,#71f4fd,#7afbd9,#8afcb0,#a4fc8a,#c6fd69,#f1fe56,#f8d247,#ef8d34,#eb4f27,#cd2b1e,#bc271a,#e43222,#ea3524,#ea3624,#ea3624,#ea3524,#ea3524,#ea3524,#ea3724,#ea3924,#ea3c24,#ea3f25,#ea4325,#eb4526,#eb4826,#eb4a26,#eb4c27,#eb4f27,#eb5228)"></i><i style="background:linear-gradient(90deg,#01038e,#0108a1,#0310b4,#061ac6,#0920dd,#0f2ceb,#183ff1,#275ef5,#3d8af7,#54baf9,#6ceafc,#78fbe1,#87fcb7,#9ffc90,#befd6f,#e7fe58,#f9dd4a,#f09536,#eb5027,#c0281b,#b72619,#e73223,#ea3624,#ea3824,#ea3724,#ea3624,#ea3624,#ea3724,#ea3824,#ea3b24,#ea3e25,#ea4225,#eb4626,#eb4826,#eb4b26,#eb4d27,#eb4f27,#eb5128,#eb5428)"></i><i style="background:linear-gradient(90deg,#00038d,#0108a1,#0310b3,#061ac5,#0920db,#0d29ea,#163cf0,#2457f5,#3881f7,#50b0f9,#68e1fb,#77fbe9,#83fbbe,#9afc97,#b7fd75,#ddfe5b,#fbe94e,#f19e38,#eb5128,#b22418,#b52519,#ea3423,#ea3824,#ea3a24,#ea3a24,#ea3924,#ea3824,#ea3924,#ea3b24,#ea3f25,#ea4225,#eb4626,#eb4a26,#eb4d27,#eb4f27,#eb5127,#eb5328,#eb5528,#eb5829)"></i><i style="background:linear-gradient(90deg,#00038c,#0108a1,#0310b3,#061ac5,#0920d9,#0c27ea,#1539ef,#2152f4,#3579f6,#4ca8f8,#64d8fb,#76fbf0,#80fbc5,#95fc9e,#affc7d,#d4fd60,#fdf451,#f2a73b,#eb5228,#a52116,#b72619,#ea3524,#ea3c24,#ea3f25,#ea3f25,#ea3d25,#ea3d25,#ea3e25,#ea4025,#eb4425,#eb4826,#eb4c27,#eb5027,#eb5328,#eb5528,#eb5628,#eb5829,#ec5a29,#ec5e2a)"></i><i style="background:linear-gradient(90deg,#00038c,#0107a1,#0310b3,#0619c4,#0920d7,#0b25ea,#1436ee,#1f4df4,#3173f6,#48a0f8,#60d1fa,#75fbf7,#7efbcc,#90fca6,#a8fc85,#cafd65,#feff54,#f3b03d,#eb5228,#9a1e13,#be271b,#ea3824,#ea4125,#eb4626,#eb4626,#eb4426,#eb4425,#eb4526,#eb4826,#eb4c27,#eb5027,#eb5428,#eb5829,#ec5b29,#ec5c2a,#ec5e2a,#ec5f2a,#ec622b,#ec652b)"></i><i style="background:linear-gradient(90deg,#00028c,#0107a1,#030fb3,#0619c3,#0920d6,#0a23e9,#1334ee,#1d4af3,#2f6df6,#459af8,#5ccafa,#75fbfd,#7cfbd2,#8cfcad,#a1fc8d,#c1fd6c,#f4ff55,#f4ba40,#eb5228,#951d12,#c82a1d,#ea3c24,#eb4926,#eb5027,#eb5027,#eb4e27,#eb4d27,#eb4f27,#eb5228,#eb5628,#ec5a29,#ec5e2a,#ec622b,#ec642b,#ec662b,#ec672c,#ec682c,#ed6a2c,#ed6e2d)"></i><i style="background:linear-gradient(90deg,#00028c,#0107a1,#030fb2,#0618c2,#081fd4,#0921e9,#1233ed,#1c47f3,#2c68f6,#4294f7,#59c3fa,#71f4fd,#7afbd9,#88fcb5,#9bfc95,#b8fd74,#e9fe57,#f6c443,#eb5328,#951d12,#d62e1f,#ea4325,#eb5328,#ec5c29,#ec5d2a,#ec5a29,#ec5929,#ec5b29,#ec5e2a,#ec622b,#ec662b,#ed6a2c,#ed6d2d,#ed6f2d,#ed702e,#ed712e,#ed732e,#ed752e,#ed772f)"></i><i style="background:linear-gradient(90deg,#00028b,#0107a1,#030fb2,#0618c2,#081fd3,#0920e9,#1131ed,#1b45f2,#2a64f5,#3f8ff7,#56bef9,#6eedfc,#78fbe0,#84fbbd,#95fc9e,#b0fc7d,#dffe5a,#f7cf46,#eb5528,#9d1f14,#e73223,#eb4c27,#ec5f2a,#ec6a2c,#ed6b2c,#ec692c,#ec672c,#ec692c,#ed6c2d,#ed702d,#ed742e,#ed772f,#ee7a30,#ee7b30,#ee7c30,#ee7d30,#ee7e31,#ee8031,#ee8232)"></i><i style="background:linear-gradient(90deg,#00028c,#0107a0,#030fb1,#0518c1,#081fd2,#0920e7,#1130ec,#1a43f2,#2961f5,#3d8af7,#54b8f9,#6be7fc,#77fbe7,#80fbc5,#8ffca8,#a7fc86,#d5fd5f,#f9da49,#eb5929,#ac2317,#ea3724,#eb5628,#ed6c2d,#ee792f,#ee7b30,#ee792f,#ed772f,#ee782f,#ee7b30,#ee7f31,#ee8232,#ef8532,#ef8733,#ef8833,#ef8933,#ef8a33,#ef8b34,#ef8c34,#ef8e34)"></i><i style="background:linear-gradient(90deg,#00028c,#0107a0,#030eb1,#0517c0,#081ed1,#0920e6,#102fec,#1941f1,#275ef5,#3b86f7,#51b3f9,#68e0fb,#76fbee,#7dfbcd,#8afcb1,#a0fc8f,#cbfd65,#fbe64d,#ec5f2a,#c2291b,#ea4125,#ec632b,#ee7b30,#ef8933,#ef8c34,#ef8933,#ef8833,#ef8933,#ef8b34,#ef8e34,#f09135,#f09336,#f09536,#f09636,#f09637,#f09737,#f09837,#f09937,#f19a38)"></i><i style="background:linear-gradient(90deg,#00028c,#0107a0,#030eb0,#0517bf,#081ed0,#0920e4,#102eec,#183ff1,#265bf5,#3981f7,#4eadf8,#64dafb,#75fbf5,#7bfbd5,#85fcba,#99fc99,#c2fd6c,#fdf250,#ec692c,#dd3021,#eb4f27,#ed712e,#ef8b34,#f19a38,#f19d38,#f19a38,#f09937,#f09937,#f19b38,#f19e38,#f1a039,#f1a239,#f1a33a,#f2a33a,#f2a43a,#f2a43a,#f2a53a,#f2a53a,#f2a63b)"></i><i style="background:linear-gradient(90deg,#00038c,#0107a0,#030eb0,#0516bf,#081ecf,#0920e3,#0f2deb,#173ef1,#2458f5,#377df6,#4ca8f8,#61d3fa,#75fbfd,#79fbde,#81fbc3,#92fca2,#b9fd74,#fffe54,#ed772f,#ea3824,#ec612a,#ee8031,#f19b38,#f2ab3c,#f3ae3d,#f2ab3c,#f2a93b,#f2aa3c,#f2ab3c,#f3ad3d,#f3af3d,#f3b03d,#f3b03d,#f3b13e,#f3b13e,#f3b13e,#f3b13e,#f3b23e,#f3b33e)"></i><i style="background:linear-gradient(90deg,#00038c,#01079f,#030eaf,#0516be,#081ece,#0920e2,#0f2ceb,#173df0,#2355f4,#3579f6,#49a2f8,#5eccfa,#71f3fd,#77fbe7,#7efbcd,#8cfcac,#b0fc7c,#f4ff55,#ef8933,#eb4c27,#ed742e,#f09135,#f2ac3c,#f4bb40,#f5be41,#f4bb40,#f4b940,#f4b940,#f4bb40,#f4bc41,#f5bd41,#f5bd41,#f5bd41,#f5bd41,#f5bd41,#f5be41,#f5be41,#f5be41,#f5be41)"></i><i style="background:linear-gradient(90deg,#00038d,#01079f,#030daf,#0516bd,#081dcd,#0920e0,#0e2beb,#163bf0,#2152f4,#3274f6,#469cf8,#5ac5fa,#6deafc,#76fbef,#7bfbd6,#88fcb5,#a8fc85,#e9fe57,#f19e39,#ec682c,#ef8933,#f1a139,#f4bc41,#f6cb45,#f7cd46,#f6ca45,#f6c844,#f6c844,#f6c944,#f6c944,#f6ca44,#f6c944,#f6c944,#f6c944,#f6c944,#f6c944,#f6c944,#f6c944,#f6c944)"></i><i style="background:linear-gradient(90deg,#00038d,#01079f,#020dae,#0515bd,#071dcc,#0920df,#0d2aea,#1539ef,#204ff4,#306ff6,#4395f7,#56bdf9,#68e1fb,#75fbf8,#79fbde,#83fbbe,#a0fc8e,#ddfe5b,#f4b73f,#ef8733,#f19e38,#f3b33e,#f7cb45,#f9d949,#f9db4a,#f8d849,#f8d548,#f8d448,#f8d548,#f8d548,#f8d548,#f8d448,#f8d447,#f8d347,#f8d347,#f8d347,#f8d447,#f8d347,#f8d347)"></i><i style="background:linear-gradient(90deg,#00038d,#01079f,#020dae,#0515bc,#071dcb,#0920de,#0d28ea,#1438ef,#1e4cf3,#2d6af6,#3f8ef7,#52b4f9,#63d8fb,#73f7fd,#77fbe7,#80fbc6,#99fc97,#d1fd61,#f7d147,#f2a63b,#f3b33e,#f6c543,#f9db49,#fbe64d,#fbe74d,#fae34c,#fae04b,#fae04b,#fae04b,#fae04b,#fadf4b,#f9de4a,#f9dd4a,#f9dc4a,#f9dc4a,#f9dd4a,#f9dd4a,#f9dd4a,#f9dc4a)"></i><i style="background:linear-gradient(90deg,#01038d,#01079f,#020dae,#0415bc,#071cca,#0920dc,#0c27ea,#1436ee,#1d49f3,#2a64f5,#3c87f7,#4eacf8,#5fcefa,#6eedfc,#76fbf0,#7dfbcf,#93fca1,#c5fd6a,#fcec4f,#f6c543,#f6c944,#f8d648,#fbe94e,#fdf351,#fdf251,#fcee4f,#fbeb4e,#fbea4e,#fbea4e,#fbe94e,#fbe84d,#fbe64d,#fae54c,#fae54c,#fae54c,#fae54d,#fbe54d,#fae54d,#fae44c)"></i><i style="background:linear-gradient(90deg,#01038e,#01079f,#020dad,#0414bb,#071cc9,#0920da,#0b25ea,#1334ee,#1b45f2,#285ff5,#3880f7,#49a3f8,#5ac5fa,#69e4fb,#75fbf8,#7bfbd7,#8dfcaa,#b9fd74,#f8ff55,#fae24c,#f9df4b,#fbe84e,#fef752,#fffe54,#fffd54,#fef852,#fdf451,#fdf351,#fdf351,#fdf250,#fcf050,#fcee4f,#fcec4f,#fcec4f,#fcec4f,#fced4f,#fced4f,#fced4f,#fceb4e)"></i><i style="background:linear-gradient(90deg,#01038e,#01079f,#020dad,#0414bb,#071bc8,#0920d9,#0a23e9,#1232ed,#1942f2,#2559f5,#3478f6,#459af8,#55bbf9,#64dafb,#73f8fd,#79fbdf,#88fcb4,#adfc7f,#e3fe59,#fffd54,#fdf551,#fefa53,#faff55,#f7ff55,#f9ff55,#feff54,#fffd54,#fefb53,#fefb53,#fef953,#fef752,#fdf551,#fdf351,#fdf351,#fdf351,#fdf451,#fdf451,#fdf451,#fdf251)"></i><i style="background:linear-gradient(90deg,#01038e,#01079e,#020cad,#0414ba,#071bc7,#0920d7,#0921e9,#1130ec,#183ff1,#2254f4,#3071f6,#4091f7,#50b1f9,#60d0fa,#6feffc,#77fbe7,#84fbbd,#a3fc8b,#cffd62,#ebfe57,#f5ff55,#f4ff55,#effe56,#eefe56,#f2fe56,#f7ff55,#faff55,#fcff55,#fcff55,#feff54,#fffe54,#fefb53,#fef953,#fef953,#fef953,#fefa53,#fefb53,#fefb53,#fef953)"></i><i style="background:linear-gradient(90deg,#01038e,#01079e,#020cac,#0413b9,#061ac6,#0920d5,#0920e8,#102eec,#163cf0,#204ff4,#2d69f6,#3c88f7,#4ca8f8,#5bc7fa,#6be7fc,#76fbef,#80fbc7,#99fc98,#bdfd70,#d7fe5e,#e3fe59,#e5fe58,#e4fe59,#e6fe58,#ebfe57,#f0fe56,#f4ff55,#f5ff55,#f6ff55,#f8ff55,#faff55,#fdff55,#feff54,#ffff54,#feff54,#feff54,#fdff55,#fdff55,#feff54)"></i><i style="background:linear-gradient(90deg,#01038e,#01069e,#020cac,#0413b8,#061ac5,#081fd3,#0920e5,#0e2ceb,#1539ef,#1d4af3,#2962f5,#387ff7,#479ef8,#56bdf9,#66defb,#75fbf7,#7cfbd0,#90fca5,#aefc7f,#c5fd69,#d2fd60,#d8fe5e,#dafe5d,#defe5b,#e4fe59,#eafe57,#edfe56,#effe56,#f1fe56,#f2ff55,#f5ff55,#f8ff55,#f9ff55,#faff55,#f9ff55,#f8ff55,#f8ff55,#f8ff55,#f9ff55)"></i><i style="background:linear-gradient(90deg,#00038d,#01069d,#020cab,#0412b7,#0619c4,#081fd1,#0920e2,#0d29ea,#1436ee,#1b46f2,#265bf5,#3376f6,#4295f7,#52b4f9,#62d5fb,#74f9fd,#7afbda,#89fcb2,#a0fc8f,#b5fd77,#c3fd6b,#cbfd65,#d0fd62,#d6fe5f,#ddfe5b,#e3fe59,#e7fe58,#e9fe57,#ebfe57,#edfe56,#effe56,#f2ff55,#f4ff55,#f4ff55,#f4ff55,#f3ff55,#f2ff55,#f2ff55,#f3ff55)"></i><i style="background:linear-gradient(90deg,#00038d,#01069d,#020baa,#0412b6,#0618c2,#081ecf,#0920df,#0c27ea,#1234ed,#1942f1,#2355f4,#2f6ef6,#3e8bf7,#4dabf8,#5eccfa,#6ff0fc,#78fbe4,#83fbbf,#95fc9e,#a7fc86,#b5fd77,#bffd6e,#c6fd68,#cefd63,#d6fe5f,#dcfe5c,#e0fe5a,#e3fe59,#e4fe58,#e7fe58,#e9fe57,#ecfe56,#eefe56,#eefe56,#eefe56,#edfe56,#ecfe56,#ecfe56,#edfe56)"></i><i style="background:linear-gradient(90deg,#00038c,#01069c,#020ba9,#0311b5,#0518c1,#081dcd,#0920dc,#0b24e9,#1131ed,#173ef1,#204ff4,#2c67f6,#3983f7,#49a2f8,#59c3fa,#6be7fc,#76fbee,#7efbcc,#8bfcae,#9bfc95,#a9fc84,#b4fd78,#bdfd70,#c6fd69,#cefd63,#d5fd5f,#d9fe5d,#dcfe5c,#defe5b,#e0fe5a,#e3fe59,#e6fe58,#e7fe58,#e8fe57,#e8fe57,#e7fe58,#e6fe58,#e6fe58,#e7fe58)"></i><i style="background:linear-gradient(90deg,#00028c,#01069b,#020aa8,#0310b4,#0517bf,#071dcb,#0920da,#0922e9,#102fec,#163bf0,#1e4af3,#2860f5,#357af6,#4499f8,#55baf9,#66ddfb,#75fbf8,#7afbd9,#84fcbc,#91fca4,#9efc91,#aafc83,#b4fd78,#befd6f,#c6fd68,#cdfd64,#d2fd61,#d4fd5f,#d7fe5e,#d9fe5d,#dcfe5c,#dffe5b,#e1fe5a,#e1fe5a,#e1fe5a,#e1fe5a,#e0fe5a,#e0fe5a,#e1fe5a)"></i><i style="background:linear-gradient(90deg,#00028b,#01059a,#020aa7,#030fb3,#0516be,#071cc9,#0920d7,#0920e8,#0f2ceb,#1438ef,#1b46f2,#2559f5,#3173f6,#4090f7,#50b1f9,#61d3fa,#72f5fd,#78fbe5,#7ffbc9,#89fcb2,#95fc9e,#a1fc8d,#acfc80,#b6fd76,#befd6f,#c5fd69,#cafd66,#cdfd64,#cffd62,#d2fd61,#d5fd5f,#d7fe5e,#d9fe5d,#dafe5d,#dafe5c,#dafe5d,#d9fe5d,#d9fe5d,#dafe5d)"></i><i style="background:linear-gradient(90deg,#00028a,#010599,#0209a6,#030fb1,#0415bc,#071bc7,#081fd4,#0920e4,#0d2aea,#1335ee,#1942f2,#2254f4,#2e6bf6,#3c88f7,#4ca8f8,#5cc9fa,#6ceafc,#76fbf0,#7bfbd6,#83fbbe,#8efcaa,#99fc98,#a4fc8a,#aefc7e,#b6fd76,#bdfd70,#c1fd6c,#c5fd6a,#c7fd68,#cafd66,#cdfd64,#cffd62,#d1fd61,#d2fd60,#d3fd60,#d3fd60,#d2fd60,#d2fd61,#d2fd60)"></i><i style="background:linear-gradient(90deg,#000289,#010598,#0209a4,#030eb0,#0414ba,#061ac5,#081fd2,#0920e1,#0c27ea,#1233ed,#183ff1,#204ef4,#2a64f5,#3880f7,#479ff8,#57bff9,#67dffb,#75fbfc,#78fbe2,#7efbca,#88fcb5,#92fca2,#9dfc93,#a6fc87,#aefc7e,#b4fd78,#b9fd73,#bdfd70,#bffd6e,#c2fd6c,#c5fd69,#c7fd68,#c9fd66,#cbfd65,#cbfd65,#cbfd65,#cbfd65,#cbfd65,#cbfd65)"></i><i style="background:linear-gradient(90deg,#000288,#010496,#0108a3,#020dae,#0413b9,#0619c3,#081ecf,#0920de,#0b25ea,#1130ec,#163bf0,#1d4af3,#275ef5,#3478f6,#4396f7,#52b5f9,#62d4fa,#70f1fc,#76fbed,#7bfbd5,#83fbbf,#8cfcac,#96fc9c,#9ffc90,#a6fc87,#acfc80,#b1fc7b,#b5fd78,#b8fd75,#bafd72,#bdfd70,#bffd6e,#c1fd6c,#c3fd6b,#c4fd6b,#c4fd6a,#c4fd6a,#c4fd6a,#c4fd6a)"></i><i style="background:linear-gradient(90deg,#000287,#010495,#0108a1,#020cac,#0412b7,#0518c1,#081dcd,#0920db,#0a22e9,#102eec,#1539ef,#1b46f2,#2458f5,#3070f6,#3e8df7,#4dabf8,#5cc9fa,#6ae6fc,#75fbf7,#79fbdf,#7ffbc9,#87fcb6,#90fca6,#98fc9a,#9ffc90,#a4fc89,#a9fc84,#acfc80,#b0fc7d,#b2fc7a,#b5fd77,#b7fd75,#b9fd73,#bbfd72,#bcfd71,#bdfd70,#bdfd70,#bdfd70,#bcfd70)"></i><i style="background:linear-gradient(90deg,#000286,#010494,#0107a0,#020bab,#0311b5,#0517bf,#071ccb,#0920d8,#0920e8,#0e2ceb,#1436ee,#1942f2,#2253f4,#2d69f6,#3a84f7,#48a1f8,#57bff9,#65dcfb,#73f7fd,#77fbe9,#7cfbd3,#83fbc0,#8afcb0,#91fca3,#98fc9a,#9dfc93,#a1fc8d,#a5fc89,#a8fc85,#abfc82,#adfc7f,#affc7d,#b1fc7b,#b3fd79,#b4fd78,#b5fd77,#b6fd76,#b6fd76,#b5fd77)"></i><i style="background:linear-gradient(90deg,#000285,#010492,#01079e,#020ba9,#0310b3,#0516bd,#071bc9,#0920d5,#0920e5,#0d29ea,#1234ed,#183ff1,#1f4ef4,#2962f5,#367bf6,#4497f7,#52b4f9,#60d1fa,#6eedfc,#76fbf2,#79fbdc,#7ffbc9,#85fcb9,#8cfcad,#91fca4,#95fc9d,#9afc97,#9dfc92,#a1fc8e,#a3fc8b,#a6fc88,#a7fc86,#a9fc83,#abfc81,#adfc80,#aefc7e,#affc7d,#affc7d,#aefc7e)"></i><i style="background:linear-gradient(90deg,#000284,#010391,#01069d,#020aa7,#030fb1,#0415bc,#061ac6,#081fd3,#0920e2,#0c27ea,#1132ed,#163cf0,#1d49f3,#265cf5,#3273f6,#3f8ef7,#4daaf8,#5bc7fa,#69e4fb,#75fbfa,#78fbe4,#7cfbd2,#81fbc3,#86fcb7,#8bfcaf,#8ffca7,#93fca1,#96fc9c,#9afc97,#9cfc94,#9efc91,#a0fc8f,#a2fc8c,#a4fc8a,#a6fc88,#a7fc86,#a8fc85,#a8fc85,#a7fc86)"></i><i style="background:linear-gradient(90deg,#000183,#010390,#01069b,#0209a6,#030eb0,#0413ba,#0619c4,#081ed1,#0920df,#0b25ea,#102fec,#1539ef,#1b45f2,#2356f4,#2e6bf6,#3a85f7,#48a1f8,#57bef9,#65dbfb,#72f6fd,#76fbec,#7afbdb,#7efbcc,#82fbc1,#86fcb9,#89fcb2,#8dfcab,#90fca6,#93fca1,#96fc9d,#98fc9a,#99fc98,#9bfc95,#9dfc93,#9ffc90,#a1fc8e,#a2fc8d,#a2fc8c,#a0fc8e)"></i><i style="background:linear-gradient(90deg,#000183,#01038f,#01059a,#0209a4,#020dae,#0412b8,#0618c2,#081ece,#0920dc,#0a22e9,#0f2deb,#1437ee,#1942f2,#2150f4,#2a64f5,#367cf6,#4397f7,#52b5f9,#61d3fa,#6eeefc,#76fbf4,#78fbe3,#7bfbd6,#7efbcb,#81fbc3,#84fcbc,#87fcb6,#8afcaf,#8dfcaa,#90fca6,#91fca3,#93fca1,#94fc9f,#96fc9c,#99fc99,#9afc96,#9cfc94,#9cfc94,#9afc96)"></i><i style="background:linear-gradient(90deg,#000182,#01038e,#010599,#0108a3,#020cac,#0412b6,#0517c1,#071dcc,#0920da,#0920e9,#0e2beb,#1335ee,#183ef1,#1e4bf3,#275df5,#3273f6,#3f8ef7,#4eacf8,#5dcbfa,#6be6fc,#75fbfc,#77fbeb,#79fbdf,#7bfbd5,#7dfbcd,#80fbc6,#83fbc0,#85fcb9,#88fcb3,#8afcaf,#8cfcad,#8dfcaa,#8ffca8,#91fca5,#93fca1,#95fc9e,#96fc9d,#96fc9c,#94fc9f)"></i><i style="background:linear-gradient(90deg,#000181,#00038d,#010597,#0108a1,#020cab,#0311b5,#0516bf,#071cca,#0920d7,#0920e6,#0d29ea,#1232ed,#163cf0,#1c47f3,#2457f4,#2e6cf6,#3b86f7,#4aa4f8,#59c3f9,#67dffb,#72f5fd,#76fbf3,#77fbe8,#79fbde,#7bfbd7,#7cfbd0,#7ffbc9,#81fbc3,#84fbbd,#86fcb9,#87fcb6,#88fcb4,#8afcb1,#8bfcae,#8dfcaa,#8ffca7,#91fca5,#91fca5,#8ffca7)"></i><i style="background:linear-gradient(90deg,#000181,#00038c,#010496,#0107a0,#020baa,#0310b3,#0515bd,#071bc8,#0920d5,#0920e3,#0c27ea,#1130ec,#1539ef,#1a43f2,#2151f4,#2a65f5,#377ef6,#469cf8,#55bbf9,#63d7fb,#6eedfc,#75fbfc,#76fbf0,#77fbe7,#78fbe0,#7afbd9,#7cfbd3,#7efbcc,#80fbc6,#82fbc1,#83fbbf,#84fbbd,#85fcba,#87fcb6,#89fcb2,#8bfcaf,#8cfcad,#8cfcad,#8bfcaf)"></i><i style="background:linear-gradient(90deg,#000181,#00028c,#010496,#01079f,#020aa8,#030fb2,#0415bc,#061ac6,#081fd3,#0920e1,#0b25ea,#102eec,#1437ee,#1840f1,#1f4cf3,#275ef5,#3376f6,#4294f7,#51b3f9,#5fcffa,#6ae5fc,#71f4fd,#75fbf9,#76fbf0,#77fbe9,#78fbe2,#79fbdb,#7bfbd4,#7dfbce,#7ffbca,#80fbc7,#80fbc5,#81fbc2,#83fbbf,#85fcbb,#86fcb7,#88fcb5,#88fcb5,#86fcb7)"></i><i style="background:linear-gradient(90deg,#000181,#00028b,#010495,#01079e,#020aa7,#030eb0,#0414ba,#061ac5,#081ed1,#0920de,#0a23e9,#0f2ceb,#1334ee,#173df0,#1d48f3,#2559f5,#3070f6,#3e8df7,#4dabf8,#5bc7fa,#66dcfb,#6decfc,#73f8fd,#75fbf8,#76fbf1,#77fbea,#78fbe4,#79fbdc,#7bfbd6,#7cfbd2,#7dfbcf,#7dfbcd,#7efbca,#80fbc6,#81fbc2,#83fbbf,#84fbbd,#84fbbc,#83fbbf)"></i><i style="background:linear-gradient(90deg,#000181,#00028b,#010495,#01069e,#020aa6,#030eaf,#0413b9,#0619c3,#081ecf,#0920dc,#0920e9,#0e2aeb,#1232ed,#163af0,#1b45f2,#2254f4,#2d6af6,#3b86f7,#4aa3f8,#57bef9,#61d4fa,#69e3fb,#6feffc,#74f9fd,#75fbf8,#76fbf2,#77fbeb,#78fbe4,#79fbde,#7afbd9,#7bfbd7,#7bfbd4,#7cfbd2,#7dfbce,#7ffbca,#80fbc6,#81fbc4,#81fbc4,#80fbc6)"></i><i style="background:linear-gradient(90deg,#000181,#00028b,#010495,#01069d,#0209a6,#020dae,#0412b7,#0618c2,#081dcd,#0920da,#0920e7,#0d28ea,#1130ec,#1438ef,#1942f2,#2050f4,#2b65f5,#387ff7,#469bf8,#52b5f9,#5dcafa,#65dbfb,#6be7fc,#70f1fc,#74f9fd,#75fbf8,#76fbf1,#77fbeb,#78fbe4,#78fbe0,#79fbdd,#7afbdb,#7afbd8,#7bfbd5,#7cfbd1,#7dfbcd,#7efbcb,#7efbcb,#7dfbcd)"></i><i style="background:linear-gradient(90deg,#000182,#00028c,#010495,#01069d,#0209a5,#020dae,#0412b6,#0517c0,#071dcb,#0920d7,#0920e4,#0b26ea,#0f2eec,#1336ee,#183ff1,#1f4df3,#2860f5,#3479f6,#4193f7,#4eacf8,#58c1f9,#61d2fa,#67e0fb,#6debfc,#71f3fd,#74fafd,#75fbf7,#76fbf0,#77fbea,#77fbe6,#78fbe3,#78fbe1,#79fbde,#7afbda,#7bfbd7,#7bfbd4,#7cfbd2,#7cfbd2,#7bfbd4)"></i><i style="background:linear-gradient(90deg,#000183,#00038d,#010495,#01069d,#0209a5,#020cad,#0311b5,#0516bf,#071cca,#0920d5,#0920e1,#0a23e9,#0e2ceb,#1334ee,#173ef0,#1e4bf3,#275df5,#3173f6,#3d8af7,#48a1f8,#53b7f9,#5cc9fa,#64d9fb,#6ae5fc,#6eeefc,#72f6fd,#75fbfc,#76fbf5,#76fbef,#77fbeb,#77fbe8,#77fbe6,#78fbe3,#79fbe0,#79fbdc,#7afbda,#7afbd8,#7afbd8,#7afbda)"></i></div>
<div class="p" style="left:364px;top:13px;width:114px;height:87px"><i style="background:linear-gradient(90deg,#020aa8,#030eaf,#0412b7,#0517bf,#071bc7,#081ecf,#0920d8,#0920e1,#0921e9,#0e2beb,#1436ee,#1c46f2,#2a63f5,#3f8df7,#58c1f9,#75fbfc,#83fbbd,#acfc80,#e2fe59,#fbe84d,#f5c242,#f3ae3d,#f2a53a,#f2a43a,#f2a73b,#f3ad3c,#f3b33e,#f4b840,#f5be41,#f6c443,#f6ca45,#f7d046,#f8d748,#f9dd4a,#fae44c,#fbea4e,#fcf150,#fef752,#fffe54)"></i><i style="background:linear-gradient(90deg,#020ba9,#030eb0,#0412b8,#0517c0,#071bc8,#081fd1,#0920da,#0920e2,#0a22e9,#0e2beb,#1436ee,#1c47f3,#2a64f5,#3f8ff7,#59c3f9,#75fbf9,#86fcb8,#b3fd79,#ecfe56,#f9d949,#f3b23e,#f19e39,#f09737,#f09737,#f19a38,#f1a039,#f2a53a,#f2aa3c,#f3af3d,#f3b43e,#f4ba40,#f5c042,#f6c744,#f7ce46,#f8d548,#f9dc4a,#fae44c,#fbeb4e,#fdf250)"></i><i style="background:linear-gradient(90deg,#020ba9,#030eb0,#0413b8,#0517c1,#071cc9,#081fd2,#0920db,#0920e4,#0a23e9,#0e2ceb,#1436ee,#1c47f3,#2b66f5,#4091f7,#5bc6fa,#76fbf4,#89fcb2,#bafd73,#f7ff55,#f6cb45,#f2a43a,#f09135,#ef8a33,#ef8a34,#ef8f35,#f09436,#f09937,#f19d38,#f1a139,#f2a53a,#f2ab3c,#f3b13e,#f4b840,#f5bf42,#f6c744,#f7cf46,#f8d748,#f9de4b,#fbe64d)"></i><i style="background:linear-gradient(90deg,#020baa,#030eb1,#0413b9,#0518c1,#071cca,#081fd4,#0920dd,#0920e5,#0b24e9,#0f2ceb,#1437ef,#1d49f3,#2c68f6,#4294f7,#5dcbfa,#76fbef,#8cfcac,#c1fd6d,#fffd54,#f5be41,#f09737,#ee8432,#ee7f31,#ee7f31,#ee8432,#ef8933,#ef8d34,#f09135,#f09436,#f09737,#f19d38,#f1a33a,#f2aa3c,#f3b23e,#f4ba40,#f5c242,#f6ca45,#f7d247,#f9d949)"></i><i style="background:linear-gradient(90deg,#020baa,#030fb1,#0413b9,#0618c2,#071dcb,#0920d5,#0920de,#0920e7,#0b25ea,#0f2eeb,#1539ef,#1e4bf3,#2e6bf6,#4498f8,#5fd0fa,#77fbe9,#91fca5,#c8fd67,#fdf250,#f3b23e,#ef8b34,#ee7930,#ed742e,#ed762f,#ee7a30,#ee7f31,#ee8332,#ef8532,#ef8833,#ef8b34,#f09035,#f09636,#f19d38,#f2a53a,#f3ad3c,#f4b53f,#f5bd41,#f6c543,#f7cd45)"></i><i style="background:linear-gradient(90deg,#020baa,#030fb1,#0413ba,#0619c3,#071dcc,#0920d6,#0920e0,#0920e9,#0c27ea,#102fec,#163af0,#1f4df4,#306ff6,#479df8,#62d6fb,#78fbe2,#95fc9d,#d0fd62,#fbe74d,#f2a73b,#ee8131,#ed702d,#ed6b2c,#ed6d2d,#ed712e,#ed762f,#ee7930,#ee7b30,#ee7d30,#ee8031,#ee8432,#ef8a33,#f09135,#f09837,#f1a039,#f2a83b,#f3b13d,#f4b940,#f5c042)"></i><i style="background:linear-gradient(90deg,#020baa,#030fb1,#0414ba,#0619c3,#081dcd,#0920d8,#0920e2,#0921e9,#0d29ea,#1131ec,#173cf0,#2151f4,#3273f6,#49a3f8,#66ddfb,#7afbdb,#9bfc96,#d8fe5e,#f9dd4a,#f19e38,#ed782f,#ec672c,#ec632b,#ec652b,#ec692c,#ed6e2d,#ed712e,#ed722e,#ed732e,#ed752f,#ee7930,#ee7f31,#ef8532,#ef8d34,#f09436,#f19c38,#f2a43a,#f3ac3c,#f3b33e)"></i><i style="background:linear-gradient(90deg,#020ba9,#030fb2,#0414bb,#0619c4,#081ece,#0920d9,#0920e4,#0a23e9,#0e2aeb,#1233ed,#183ff1,#2254f4,#3479f6,#4ca9f8,#69e4fb,#7cfbd3,#a0fc8e,#dffe5a,#f8d448,#f09536,#ed702e,#ec602a,#ec5c2a,#ec5e2a,#ec622b,#ec662b,#ec692c,#ec6a2c,#ed6a2c,#ed6c2d,#ed702d,#ed752e,#ee7b30,#ee8131,#ef8933,#f09135,#f09837,#f1a039,#f2a73b)"></i><i style="background:linear-gradient(90deg,#020ba9,#030fb2,#0414bb,#061ac5,#081ecf,#0920da,#0920e5,#0b25ea,#0f2ceb,#1335ee,#1941f1,#2559f5,#377ef7,#50b0f9,#6decfc,#7efbca,#a7fc86,#e7fe58,#f7cb45,#ef8d34,#ec692c,#ec5a29,#eb5628,#eb5829,#ec5c29,#ec5f2a,#ec622b,#ec622b,#ec622b,#ec642b,#ec672c,#ed6b2c,#ed712e,#ed772f,#ee7e31,#ef8532,#ef8d34,#f09436,#f19a37)"></i><i style="background:linear-gradient(90deg,#020aa8,#030fb2,#0414bb,#061ac5,#081ed0,#0920db,#0920e7,#0c27ea,#102eec,#1437ef,#1b45f2,#275ef5,#3a85f7,#53b8f9,#72f5fd,#82fbc2,#adfc7f,#effe56,#f5c343,#ef8632,#ec632b,#eb5528,#eb5128,#eb5328,#eb5628,#ec5929,#ec5b29,#ec5b29,#ec5b29,#ec5c2a,#ec5f2a,#ec632b,#ec682c,#ed6d2d,#ed742e,#ee7b30,#ee8131,#ef8833,#ef8e34)"></i><i style="background:linear-gradient(90deg,#020aa8,#030fb2,#0415bc,#061ac6,#081fd1,#0920dd,#0920e9,#0d29ea,#1130ec,#153aef,#1d49f3,#2a63f5,#3e8cf7,#57bff9,#75fbfa,#86fcb9,#b4fd78,#f7ff55,#f4bb40,#ee7f31,#ec5e2a,#eb5027,#eb4d27,#eb4e27,#eb5128,#eb5428,#eb5628,#eb5528,#eb5528,#eb5628,#eb5829,#ec5b29,#ec5f2a,#ec642b,#ed6a2c,#ed702e,#ed762f,#ee7c30,#ee8231)"></i><i style="background:linear-gradient(90deg,#020aa7,#030fb2,#0515bc,#061bc7,#081fd2,#0920de,#0921e9,#0e2aeb,#1232ed,#173cf0,#1f4df3,#2d69f6,#4193f7,#5bc8fa,#76fbf2,#8afcb0,#bcfd71,#feff54,#f3b33e,#ee7a30,#ec5a29,#eb4d27,#eb4926,#eb4a26,#eb4d27,#eb4f27,#eb5027,#eb5027,#eb5027,#eb5027,#eb5128,#eb5428,#eb5829,#ec5c29,#ec612a,#ec672b,#ed6c2d,#ed712e,#ed762f)"></i><i style="background:linear-gradient(90deg,#0209a6,#030fb2,#0515bd,#071bc8,#081fd3,#0920e0,#0a23e9,#0f2ceb,#1335ee,#1840f1,#2152f4,#3070f6,#459bf8,#60d0fa,#77fbe9,#8ffca7,#c3fd6b,#fef752,#f3ad3c,#ed752f,#eb5628,#eb4a26,#eb4726,#eb4726,#eb4926,#eb4b27,#eb4c27,#eb4c27,#eb4b27,#eb4b26,#eb4c27,#eb4e27,#eb5127,#eb5428,#eb5929,#ec5d2a,#ec622b,#ec672c,#ed6b2c)"></i><i style="background:linear-gradient(90deg,#0209a5,#030fb1,#0515bd,#071bc8,#081fd4,#0920e1,#0b24ea,#102eec,#1437ee,#1a43f2,#2457f5,#3477f6,#49a3f8,#64dafb,#79fbdf,#95fc9e,#cbfd65,#fcee4f,#f2a63b,#ed702e,#eb5328,#eb4726,#eb4426,#eb4426,#eb4626,#eb4826,#eb4826,#eb4726,#eb4726,#eb4626,#eb4726,#eb4826,#eb4a26,#eb4e27,#eb5128,#eb5528,#ec5929,#ec5d2a,#ec602a)"></i><i style="background:linear-gradient(90deg,#0209a4,#030fb1,#0516bd,#071cc9,#0920d5,#0920e3,#0c26ea,#1030ec,#1539ef,#1c47f3,#275df5,#377ff7,#4dabf8,#69e3fb,#7bfbd6,#9bfc95,#d3fd60,#fbe64d,#f1a039,#ed6d2d,#eb5127,#eb4526,#ea4225,#ea4225,#ea4325,#eb4426,#eb4526,#eb4425,#ea4325,#ea4225,#ea4325,#eb4325,#eb4526,#eb4726,#eb4a26,#eb4d27,#eb5127,#eb5428,#eb5728)"></i><i style="background:linear-gradient(90deg,#0208a3,#030fb1,#0516be,#071cca,#0920d6,#0920e4,#0c28ea,#1131ed,#163cf0,#1e4bf3,#2a64f5,#3b87f7,#52b4f9,#6eecfc,#7efbcd,#a2fc8d,#dbfe5c,#f9de4a,#f19b38,#ec692c,#eb4f27,#eb4425,#ea4025,#ea4025,#ea4125,#ea4225,#ea4225,#ea4125,#ea4025,#ea3f25,#ea3f25,#ea3f25,#ea4025,#ea4225,#eb4426,#eb4726,#eb4926,#eb4c27,#eb4e27)"></i><i style="background:linear-gradient(90deg,#0108a3,#030fb1,#0516be,#071cca,#0920d7,#0920e6,#0d29ea,#1233ed,#183ff1,#2050f4,#2d6af6,#3f8ff7,#56bdf9,#72f6fd,#81fbc3,#a8fc85,#e2fe59,#f8d748,#f09536,#ec662b,#eb4d27,#ea4225,#ea3f25,#ea3e25,#ea3f25,#ea3f25,#ea3f25,#ea3e25,#ea3d25,#ea3c24,#ea3c24,#ea3c24,#ea3d24,#ea3e25,#ea3f25,#ea4125,#ea4325,#eb4526,#eb4626)"></i><i style="background:linear-gradient(90deg,#0108a2,#030fb1,#0516be,#071ccb,#0920d8,#0920e8,#0e2beb,#1335ee,#1942f2,#2355f4,#3171f6,#4397f7,#5bc6fa,#75fbf9,#85fcba,#affc7d,#eafe57,#f7d046,#f09135,#ec632b,#eb4b27,#ea4125,#ea3e25,#ea3d25,#ea3d25,#ea3d25,#ea3d25,#ea3c24,#ea3b24,#ea3a24,#ea3924,#ea3924,#ea3924,#ea3a24,#ea3b24,#ea3c24,#ea3e25,#ea3f25,#ea4025)"></i><i style="background:linear-gradient(90deg,#0107a1,#030eb1,#0516bf,#071dcc,#0920da,#0920e9,#0f2ceb,#1437ef,#1b45f2,#255af5,#3478f6,#479ff8,#5fcffa,#76fbf0,#89fcb2,#b6fd76,#f1fe56,#f6c944,#ef8c34,#ec612a,#eb4a26,#ea4025,#ea3d25,#ea3c24,#ea3c24,#ea3b24,#ea3b24,#ea3a24,#ea3924,#ea3824,#ea3724,#ea3724,#ea3724,#ea3724,#ea3824,#ea3924,#ea3924,#ea3a24,#ea3a24)"></i><i style="background:linear-gradient(90deg,#0107a0,#030eb1,#0516bf,#071dcc,#0920db,#0a22e9,#102eec,#1539ef,#1d48f3,#2860f5,#3880f7,#4ca8f8,#64d9fb,#77fbe7,#8efca9,#bdfd70,#f7ff55,#f5c343,#ef8833,#ec5f2a,#eb4926,#ea4025,#ea3c24,#ea3b24,#ea3a24,#ea3a24,#ea3924,#ea3824,#ea3724,#ea3624,#ea3624,#ea3524,#ea3524,#ea3524,#ea3624,#ea3624,#ea3624,#ea3724,#ea3724)"></i><i style="background:linear-gradient(90deg,#01079f,#030eb1,#0517bf,#081dcd,#0920dc,#0a23e9,#1030ec,#163bf0,#1e4cf3,#2b65f5,#3c87f7,#50b0f9,#68e2fb,#79fbde,#93fca1,#c3fd6b,#feff54,#f5bd41,#ef8532,#ec5d2a,#eb4826,#ea3f25,#ea3c24,#ea3a24,#ea3924,#ea3824,#ea3824,#ea3724,#ea3624,#ea3524,#ea3524,#ea3423,#ea3423,#ea3423,#ea3423,#ea3423,#ea3424,#ea3524,#ea3424)"></i><i style="background:linear-gradient(90deg,#01079f,#030eb0,#0517bf,#081ece,#0920de,#0b25ea,#1131ed,#173ef1,#2050f4,#2e6bf6,#3f8ff7,#54b9f9,#6debfc,#7bfbd5,#98fc99,#c9fd66,#fefa53,#f4b840,#ee8231,#ec5b29,#eb4726,#ea3e25,#ea3b24,#ea3924,#ea3824,#ea3724,#ea3724,#ea3624,#ea3524,#ea3423,#ea3323,#e83323,#e63223,#e63223,#e63223,#e73223,#e83323,#e83323,#e73223)"></i><i style="background:linear-gradient(90deg,#01079e,#030eb0,#0517c0,#081ecf,#0920e0,#0c27ea,#1233ed,#1940f1,#2254f4,#3171f6,#4396f7,#58c2f9,#72f5fd,#7efbcc,#9dfc92,#cffd62,#fdf451,#f3b43e,#ee7f31,#ec5929,#eb4626,#ea3e25,#ea3a24,#ea3924,#ea3724,#ea3624,#ea3624,#ea3524,#ea3423,#ea3323,#e63223,#e33122,#e03121,#e03021,#e03021,#e03121,#e13122,#e13122,#e03021)"></i><i style="background:linear-gradient(90deg,#01079e,#030eb0,#0517c0,#081ed0,#0920e1,#0d29ea,#1335ee,#1a43f2,#2559f5,#3477f6,#469df8,#5dcafa,#75fbfb,#81fbc4,#a2fc8c,#d4fd5f,#fcef4f,#f3b03d,#ee7c30,#eb5829,#eb4526,#ea3d25,#ea3a24,#ea3824,#ea3624,#ea3524,#ea3524,#ea3423,#e93323,#e53222,#e13122,#dd3021,#db2f20,#da2f20,#da2f20,#da2f20,#db2f20,#da2f20,#d92f20)"></i><i style="background:linear-gradient(90deg,#01069e,#030eb0,#0517c0,#081ed1,#0920e3,#0e2aeb,#1437ee,#1b46f2,#275df5,#377df6,#4aa4f8,#61d3fa,#76fbf2,#84fcbc,#a8fc85,#d9fe5d,#fbea4e,#f3ad3c,#ee7a30,#eb5628,#eb4425,#ea3c24,#ea3924,#ea3724,#ea3624,#ea3524,#ea3423,#e93323,#e53222,#e03121,#dc2f21,#d82e20,#d52e1f,#d42d1f,#d42d1f,#d42d1f,#d52d1f,#d42d1f,#d22d1f)"></i><i style="background:linear-gradient(90deg,#01069e,#030eb0,#0517c1,#081fd1,#0920e5,#0f2ceb,#1539ef,#1d49f3,#2962f5,#3a83f7,#4eacf8,#65dbfb,#77fbea,#88fcb4,#adfc80,#defe5b,#fbe64d,#f2aa3c,#ed782f,#eb5528,#ea4325,#ea3c24,#ea3924,#ea3724,#ea3524,#ea3423,#e93323,#e53222,#e13121,#dc2f21,#d72e20,#d22d1f,#cf2c1e,#ce2c1e,#ce2c1e,#cf2c1e,#cf2c1e,#ce2c1e,#cc2b1d)"></i><i style="background:linear-gradient(90deg,#01069e,#030eb0,#0518c1,#081fd2,#0920e7,#0f2deb,#163bf0,#1f4cf3,#2b66f6,#3c89f7,#51b3f9,#69e3fb,#78fbe1,#8cfcad,#b1fc7b,#e2fe59,#fae34c,#f2a83b,#ed762f,#eb5328,#ea4225,#ea3b24,#ea3824,#ea3624,#ea3524,#ea3323,#e53222,#e13122,#dc3021,#d72e20,#d22d1f,#cd2c1e,#ca2b1d,#c92a1d,#c92a1d,#c92b1d,#ca2b1d,#c92a1d,#c72a1c)"></i><i style="background:linear-gradient(90deg,#01069e,#030eb0,#0518c1,#081fd3,#0920e8,#102fec,#173df0,#2050f4,#2e6bf6,#3f8ff7,#54baf9,#6debfc,#7afbd9,#90fca6,#b6fd76,#e6fe58,#fae04b,#f2a63a,#ed742e,#eb5228,#ea4125,#ea3a24,#ea3824,#ea3624,#ea3423,#e73223,#e13122,#dd3021,#d82e20,#d32d1f,#cd2c1e,#c82a1d,#c5291c,#c4291c,#c4291c,#c4291c,#c5291c,#c4291c,#c2291b)"></i><i style="background:linear-gradient(90deg,#01069e,#030eb0,#0518c1,#081fd4,#0921e9,#1130ec,#183ff1,#2253f4,#3070f6,#4295f7,#58c1f9,#71f3fd,#7cfbd2,#94fc9f,#bbfd72,#e9fe57,#f9dd4a,#f2a43a,#ed732e,#eb5127,#ea4025,#ea3a24,#ea3724,#ea3524,#ea3323,#e43122,#de3021,#d92f20,#d42d1f,#ce2c1e,#c82a1d,#c3291c,#c0281b,#be281b,#bf281b,#bf281b,#c0281b,#c0281b,#bd271a)"></i><i style="background:linear-gradient(90deg,#01069e,#030eb0,#0518c1,#081fd5,#0a22e9,#1132ed,#1941f1,#2457f5,#3375f6,#459bf8,#5bc7fa,#75fbfd,#7efbca,#99fc99,#bffd6e,#edfe56,#f9db49,#f1a23a,#ed712e,#eb4f27,#ea3f25,#ea3924,#ea3624,#ea3524,#e83323,#e03121,#da2f20,#d52e1f,#d02c1e,#ca2b1d,#c4291c,#be281b,#bb271a,#b9261a,#ba261a,#bb271a,#bc271a,#bb271a,#b9261a)"></i><i style="background:linear-gradient(90deg,#01079e,#030eb0,#0518c1,#0920d5,#0a23e9,#1233ed,#1a43f2,#265bf5,#357af6,#48a1f8,#5fcefa,#75fbf6,#81fbc3,#9dfc93,#c3fd6b,#f0fe56,#f8d849,#f1a039,#ed702d,#eb4e27,#ea3e25,#ea3824,#ea3624,#ea3423,#e53222,#dd3021,#d62e1f,#d12c1e,#cb2b1d,#c62a1c,#bf281b,#b9261a,#b62519,#b52519,#b52519,#b62619,#b72619,#b72619,#b52519)"></i><i style="background:linear-gradient(90deg,#01079f,#030eb0,#0518c2,#0920d6,#0b24e9,#1334ee,#1b45f2,#275ef5,#387ff7,#4ba6f8,#62d5fb,#76fbf0,#84fbbd,#a1fc8d,#c7fd68,#f3ff55,#f8d648,#f19f39,#ed6e2d,#eb4d27,#ea3d25,#ea3824,#ea3524,#ea3323,#e23122,#d92f20,#d22d1f,#cd2b1e,#c72a1c,#c1281b,#bb271a,#b52519,#b12418,#b02418,#b12418,#b22418,#b32518,#b32518,#b12418)"></i><i style="background:linear-gradient(90deg,#01079f,#030eb0,#0518c2,#0920d6,#0b25ea,#1335ee,#1c47f3,#2962f5,#3a84f7,#4eacf8,#65dcfb,#77fbe9,#87fcb6,#a5fc88,#cbfd65,#f6ff55,#f8d447,#f19d38,#ed6d2d,#eb4c27,#ea3c24,#ea3724,#ea3524,#e83323,#de3021,#d62e1f,#ce2c1e,#c92a1d,#c3291c,#bd271a,#b62519,#b02418,#ac2317,#ab2317,#ac2317,#ae2317,#af2418,#af2418,#ad2317)"></i><i style="background:linear-gradient(90deg,#01079f,#030eb0,#0518c1,#0920d6,#0b25ea,#1436ee,#1d4af3,#2b66f5,#3d89f7,#51b2f9,#69e2fb,#78fbe3,#8afcb1,#a9fc84,#cffd63,#f9ff55,#f7d147,#f19b38,#ed6c2d,#eb4b27,#ea3c24,#ea3624,#ea3423,#e53222,#db2f20,#d22d1f,#ca2b1d,#c4291c,#bf281b,#b9261a,#b22418,#ac2317,#a82216,#a72116,#a82216,#a92217,#ab2317,#ab2317,#aa2217)"></i><i style="background:linear-gradient(90deg,#01079f,#030eb0,#0518c1,#0920d6,#0c26ea,#1437ef,#1e4bf3,#2d69f6,#3f8ef7,#54b8f9,#6ce9fc,#79fbdd,#8dfcab,#adfc80,#d2fd61,#fcff55,#f7cf46,#f09a37,#ed6a2c,#eb4a26,#ea3b24,#ea3624,#ea3323,#e13122,#d72e20,#ce2c1e,#c62a1c,#c0281b,#bb271a,#b52519,#ae2317,#a82216,#a42115,#a32015,#a42115,#a52116,#a72216,#a82216,#a62116)"></i><i style="background:linear-gradient(90deg,#0107a0,#030eaf,#0518c1,#0920d7,#0c26ea,#1438ef,#1f4df3,#2e6df6,#4193f7,#57bef9,#6feffc,#7bfbd7,#90fca6,#b0fc7c,#d6fe5f,#feff54,#f7cc45,#f09837,#ec692c,#eb4926,#ea3a24,#ea3524,#e83323,#de3021,#d32d1f,#ca2b1d,#c2291b,#bc271a,#b72619,#b12418,#aa2217,#a42115,#a02015,#9f1f14,#9f2015,#a12015,#a32015,#a42115,#a32015)"></i><i style="background:linear-gradient(90deg,#0107a0,#030eaf,#0518c1,#0920d6,#0c27ea,#1539ef,#204ff4,#3070f6,#4497f7,#59c4fa,#72f5fd,#7cfbd2,#92fca2,#b3fd79,#d9fe5d,#fffd54,#f6ca45,#f09636,#ec682c,#eb4826,#ea3924,#ea3424,#e53222,#da2f20,#d02c1e,#c62a1c,#be281b,#b82619,#b32518,#ad2317,#a62116,#a02015,#9c1f14,#9b1e14,#9c1e14,#9d1f14,#9f2015,#a12015,#a02015)"></i><i style="background:linear-gradient(90deg,#0107a0,#030eaf,#0518c1,#0920d6,#0c27ea,#1539ef,#2150f4,#3173f6,#469cf8,#5cc9fa,#75fbfd,#7efbcd,#95fc9e,#b6fd76,#dbfe5c,#fefa53,#f6c844,#f09436,#ec672c,#eb4726,#ea3924,#ea3423,#e23122,#d72e20,#cc2b1d,#c2291b,#ba271a,#b42519,#af2418,#a92216,#a22015,#9c1f14,#981e13,#971d13,#981d13,#9a1e13,#9c1f14,#9d1f14,#9d1f14)"></i><i style="background:linear-gradient(90deg,#0107a0,#030eaf,#0517c1,#0920d6,#0c27ea,#1539ef,#2152f4,#3375f6,#48a0f8,#5ecefa,#75fbf9,#7ffbc8,#97fc9a,#b9fd74,#defe5b,#fef752,#f6c643,#f09336,#ec662b,#eb4626,#ea3824,#ea3323,#df3021,#d42d1f,#c82a1d,#be281b,#b62619,#b12418,#ac2317,#a62116,#9f1f14,#991e13,#951d12,#931c12,#941d12,#961d13,#981e13,#9a1e13,#9a1e13)"></i><i style="background:linear-gradient(90deg,#0107a0,#030eaf,#0517c0,#0920d6,#0c27ea,#153aef,#2253f4,#3478f6,#49a3f8,#61d2fa,#76fbf5,#81fbc5,#99fc97,#bbfd72,#e0fe5a,#fdf551,#f6c443,#f09235,#ec652b,#eb4626,#ea3824,#e93323,#dc3021,#d02c1e,#c5291c,#bb271a,#b32518,#ad2317,#a82216,#a22015,#9b1e14,#951d12,#911c12,#901b11,#911c12,#931c12,#951d12,#971d13,#981d13)"></i><i style="background:linear-gradient(90deg,#0107a0,#030daf,#0517c0,#0920d6,#0c27ea,#163aef,#2254f4,#357af6,#4ba6f8,#62d6fb,#76fbf1,#82fbc1,#9bfc95,#bdfd70,#e2fe59,#fdf351,#f5c343,#f09135,#ec642b,#eb4526,#ea3724,#e73223,#da2f20,#cd2c1e,#c2281b,#b72619,#b02418,#aa2217,#a52116,#9f1f14,#981e13,#921c12,#8e1b11,#8d1b11,#8e1b11,#901b11,#921c12,#941d12,#951d13)"></i><i style="background:linear-gradient(90deg,#0107a0,#030daf,#0517c0,#0920d6,#0c27ea,#163af0,#2254f4,#367bf6,#4ca8f8,#64d9fb,#76fbee,#83fbbf,#9dfc93,#befd6f,#e3fe59,#fdf250,#f5c242,#f09035,#ec642b,#eb4526,#ea3724,#e63223,#d82e20,#cb2b1d,#bf281b,#b42519,#ad2317,#a72216,#a22015,#9c1f14,#951d13,#8f1b11,#8b1a10,#8a1a10,#8b1a10,#8d1b11,#8f1b11,#921c12,#941c12)"></i><i style="background:linear-gradient(90deg,#01079f,#020dae,#0517c0,#0920d6,#0c27ea,#163af0,#2355f4,#367cf6,#4daaf8,#65dbfb,#77fbeb,#84fbbd,#9efc91,#bffd6e,#e4fe59,#fdf150,#f5c142,#f09035,#ec642b,#eb4526,#ea3724,#e53222,#d62e1f,#c92a1d,#bc271a,#b22418,#aa2217,#a42115,#9f1f14,#991e13,#931c12,#8d1b11,#891a10,#871910,#881910,#8a1a10,#8d1b11,#901b11,#921c12)"></i><i style="background:linear-gradient(90deg,#01079f,#020dae,#0517c0,#0920d6,#0c27ea,#163af0,#2355f4,#367df6,#4dabf8,#66ddfb,#77fbea,#84fcbb,#9ffc90,#c0fd6d,#e4fe58,#fcf150,#f5c142,#f09035,#ec642b,#eb4526,#ea3724,#e43222,#d52e1f,#c72a1c,#ba271a,#b02418,#a82216,#a22015,#9d1f14,#971d13,#901c11,#8a1a10,#86190f,#85190f,#86190f,#881910,#8b1a10,#8e1b11,#911c12)"></i><i style="background:linear-gradient(90deg,#01079e,#020dae,#0517c0,#0920d6,#0c27ea,#163af0,#2355f4,#367df6,#4eacf8,#66ddfb,#77fbe9,#85fcbb,#9ffc90,#c0fd6d,#e4fe58,#fcf150,#f5c142,#f09135,#ec652b,#eb4526,#ea3724,#e43122,#d42d1f,#c62a1c,#b9261a,#ae2317,#a62116,#a02015,#9b1e14,#951d12,#8e1b11,#881910,#84180f,#83180f,#83180f,#86190f,#891a10,#8c1b11,#901b11)"></i><i style="background:linear-gradient(90deg,#01069d,#020dae,#0517c0,#0920d6,#0c27ea,#153aef,#2254f4,#367cf6,#4dabf8,#66ddfb,#77fbe9,#85fcbb,#9ffc90,#c0fd6d,#e4fe59,#fdf250,#f5c242,#f09235,#ec662b,#eb4626,#ea3724,#e43122,#d42d1f,#c5291c,#b82619,#ad2317,#a52116,#9f1f14,#991e13,#931c12,#8c1a11,#86190f,#82180f,#81170e,#82180f,#84180f,#871910,#8b1a11,#8f1b11)"></i><i style="background:linear-gradient(90deg,#01069d,#020dae,#0517c0,#0920d6,#0c27ea,#153aef,#2254f4,#367bf6,#4daaf8,#66dcfb,#77fbea,#85fcbb,#9ffc90,#c0fd6e,#e3fe59,#fdf351,#f6c443,#f09336,#ec672c,#eb4726,#ea3724,#e43222,#d42d1f,#c5291c,#b82619,#ad2317,#a42115,#9d1f14,#981d13,#911c12,#8b1a10,#85180f,#81170e,#7f170e,#80170e,#83180f,#86190f,#8b1a10,#8f1b11)"></i><i style="background:linear-gradient(90deg,#01069c,#020dad,#0517c0,#0920d6,#0c27ea,#153aef,#2253f4,#357af6,#4ca9f8,#65dbfb,#77fbeb,#84fbbc,#9efc91,#bffd6e,#e2fe59,#fdf551,#f6c643,#f09536,#ec692c,#eb4826,#ea3824,#e63222,#d52e1f,#c62a1c,#b82619,#ad2317,#a42115,#9d1f14,#971d13,#901b11,#891a10,#84180f,#80170e,#7e170e,#7f170e,#82180f,#85190f,#8a1a10,#8f1b11)"></i><i style="background:linear-gradient(90deg,#01059b,#020dad,#0517c0,#0920d6,#0c27ea,#1539ef,#2152f4,#3479f6,#4ba7f8,#64d9fb,#76fbed,#83fbbe,#9dfc92,#befd6f,#e0fe5a,#fef752,#f6c844,#f09837,#ed6b2c,#eb4926,#ea3824,#e73223,#d62e1f,#c72a1c,#b9261a,#ad2317,#a42115,#9c1f14,#961d13,#8f1b11,#891a10,#83180f,#7f170e,#7e170e,#7e170e,#81180e,#85190f,#8a1a10,#901b11)"></i><i style="background:linear-gradient(90deg,#01059a,#020dad,#0517c0,#0920d6,#0c27ea,#1539ef,#2151f4,#3477f6,#4aa5f8,#63d6fb,#76fbef,#82fbc0,#9cfc94,#bcfd71,#dffe5b,#fefa53,#f7cb45,#f19b38,#ed6d2d,#eb4b27,#ea3924,#e93323,#d82e20,#c92a1d,#ba271a,#ae2317,#a42116,#9d1f14,#961d13,#8f1b11,#881910,#83180f,#7f170e,#7d170e,#7e170e,#81180e,#85190f,#8b1a10,#911c12)"></i><i style="background:linear-gradient(90deg,#010599,#020cad,#0517c0,#0920d6,#0c26ea,#1539ef,#2151f4,#3376f6,#49a3f8,#61d4fa,#76fbf2,#81fbc2,#9afc96,#bafd72,#dcfe5b,#fffd54,#f7cf46,#f19e38,#ed702e,#eb4d27,#ea3b24,#ea3423,#da2f20,#cb2b1d,#bc271a,#b02418,#a62116,#9e1f14,#961d13,#8f1b11,#891a10,#83180f,#7f170e,#7e170e,#7f170e,#81180f,#86190f,#8b1a11,#921c12)"></i><i style="background:linear-gradient(90deg,#010598,#020cac,#0517c0,#0920d6,#0c26ea,#1538ef,#2050f4,#3274f6,#48a0f8,#60d1fa,#76fbf5,#80fbc5,#99fc98,#b8fd74,#dafe5d,#feff54,#f8d247,#f1a239,#ed742e,#eb5027,#ea3c24,#ea3423,#dd3021,#cd2c1e,#bf281b,#b22418,#a72216,#9f1f14,#971d13,#901c12,#8a1a10,#84180f,#80170e,#7f170e,#7f170e,#82180f,#871910,#8d1b11,#941c12)"></i><i style="background:linear-gradient(90deg,#010597,#020cac,#0517c0,#0920d6,#0c26ea,#1538ef,#204ff4,#3172f6,#479ef8,#5fcefa,#75fbf8,#7ffbc8,#97fc9b,#b6fd76,#d7fe5e,#fbff55,#f8d648,#f2a63a,#ed782f,#eb5328,#ea3e25,#ea3524,#e13121,#d02c1e,#c1281b,#b42519,#a92217,#a12015,#991e13,#921c12,#8b1a10,#85190f,#82180f,#80170e,#81180e,#84180f,#881910,#8e1b11,#951d13)"></i><i style="background:linear-gradient(90deg,#010496,#020cac,#0517c0,#0920d6,#0c26ea,#1438ef,#204ef4,#3171f6,#469cf8,#5dccfa,#75fbfa,#7efbca,#95fc9e,#b3fd79,#d4fd5f,#f7ff55,#f9db49,#f2aa3c,#ee7c30,#eb5729,#ea4125,#ea3624,#e43222,#d42d1f,#c5291c,#b72619,#ac2317,#a32015,#9b1e14,#941d12,#8d1b11,#871910,#84180f,#82180f,#83180f,#86190f,#8a1a10,#901c11,#981d13)"></i><i style="background:linear-gradient(90deg,#010496,#020cab,#0517c0,#0920d6,#0c26ea,#1438ef,#1f4ef4,#3070f6,#459af8,#5cc9fa,#75fbfd,#7dfbcd,#93fca1,#b1fc7b,#d1fd61,#f4ff55,#fadf4b,#f3af3d,#ee8131,#ec5b29,#eb4425,#ea3824,#e93323,#d82e20,#c82a1d,#bb271a,#af2418,#a62116,#9e1f14,#971d13,#901b11,#8a1a10,#871910,#85190f,#86190f,#881910,#8d1b11,#931c12,#9a1e14)"></i><i style="background:linear-gradient(90deg,#010496,#020cab,#0517bf,#0920d5,#0b26ea,#1437ef,#1f4df4,#306ff6,#4499f8,#5bc7fa,#73f8fd,#7cfbd0,#91fca4,#aefc7e,#cefd63,#f0fe56,#fae44c,#f3b43e,#ef8632,#ec602a,#eb4726,#ea3a24,#ea3423,#dc3021,#cd2b1e,#bf281b,#b32518,#aa2217,#a22015,#9a1e14,#941c12,#8e1b11,#8a1a10,#891a10,#891a10,#8b1a10,#901b11,#961d13,#9d1f14)"></i><i style="background:linear-gradient(90deg,#010495,#020baa,#0516bf,#0920d5,#0b25ea,#1437ef,#1f4df3,#2f6ef6,#4498f7,#5ac5fa,#72f6fd,#7bfbd3,#8ffca7,#abfc81,#cafd66,#ecfe56,#fbe94e,#f4ba40,#ef8c34,#ec662b,#eb4c27,#ea3d25,#ea3524,#e13122,#d12d1e,#c3291c,#b72619,#ae2317,#a62116,#9f1f14,#981e13,#921c12,#8f1b11,#8d1b11,#8d1b11,#8f1b11,#931c12,#991e13,#a12015)"></i><i style="background:linear-gradient(90deg,#010495,#020baa,#0516be,#081fd4,#0b25ea,#1437ef,#1f4df3,#2f6ef6,#4396f7,#59c3fa,#71f3fd,#7bfbd7,#8dfcab,#a8fc85,#c7fd68,#e8fe57,#fcef4f,#f5bf42,#f09235,#ed6c2d,#eb5128,#ea4025,#ea3724,#e73223,#d62e1f,#c82a1d,#bc271a,#b32518,#ab2217,#a32115,#9d1f14,#971d13,#931c12,#911c12,#911c12,#931c12,#971d13,#9d1f14,#a42115)"></i><i style="background:linear-gradient(90deg,#010495,#020baa,#0516be,#081fd4,#0b25ea,#1437ef,#1f4df3,#2f6df6,#4395f7,#58c1f9,#6ff0fc,#7afbda,#8bfcaf,#a5fc89,#c3fd6b,#e3fe59,#fdf451,#f6c643,#f09937,#ed722e,#eb5728,#eb4426,#ea3924,#ea3423,#dc2f21,#cd2c1e,#c1281b,#b82619,#b02418,#a92216,#a22015,#9d1f14,#991e13,#971d13,#961d13,#981d13,#9b1e14,#a12015,#a82216)"></i><i style="background:linear-gradient(90deg,#010496,#020ba9,#0515bd,#081fd3,#0b24e9,#1437ee,#1f4cf3,#2f6df6,#4294f7,#57bff9,#6eeefc,#79fbdd,#89fcb3,#a1fc8d,#bffd6f,#dffe5a,#fefa53,#f7cc45,#f1a039,#ee7a30,#ec5d2a,#eb4926,#ea3c24,#ea3524,#e23122,#d32d1f,#c72a1c,#be271b,#b62519,#af2418,#a82216,#a32015,#9f1f14,#9c1f14,#9c1f14,#9d1f14,#a02015,#a52116,#ac2317)"></i><i style="background:linear-gradient(90deg,#010496,#020aa9,#0415bc,#081fd2,#0a24e9,#1436ee,#1e4cf3,#2e6cf6,#4193f7,#56bdf9,#6debfc,#78fbe1,#86fcb7,#9efc91,#bafd72,#dafe5d,#feff54,#f8d347,#f2a83b,#ee8131,#ec642b,#eb4f27,#ea4025,#ea3724,#e83323,#d92f20,#cd2c1e,#c4291c,#bc271a,#b52519,#af2418,#a92217,#a52116,#a32015,#a12015,#a22015,#a52116,#aa2217,#b12418)"></i><i style="background:linear-gradient(90deg,#010496,#020aa8,#0414bb,#081fd1,#0a23e9,#1336ee,#1e4bf3,#2e6bf6,#4192f7,#55bbf9,#6be7fc,#77fbe5,#84fcbc,#9afc96,#b6fd77,#d5fd5f,#f8ff55,#f9db4a,#f3b03d,#ef8a33,#ed6c2d,#eb5528,#eb4526,#ea3a24,#ea3423,#e03021,#d42d1f,#cb2b1d,#c3291c,#bc271a,#b62519,#b02418,#ac2317,#a92216,#a82216,#a82216,#aa2217,#af2418,#b62519)"></i><i style="background:linear-gradient(90deg,#010496,#020aa7,#0414ba,#081ed0,#0a22e9,#1335ee,#1e4bf3,#2d6af6,#4090f7,#54b9f9,#69e4fb,#77fbe9,#82fbc1,#97fc9c,#b1fc7b,#cffd62,#f2fe55,#fae34c,#f4b840,#f09236,#ed742e,#ec5c2a,#eb4a26,#ea3e25,#ea3624,#e73223,#db2f20,#d22d1f,#ca2b1d,#c3291c,#bd271a,#b82619,#b32518,#b02418,#ae2317,#ae2317,#b02418,#b42519,#ba271a)"></i><i style="background:linear-gradient(90deg,#010496,#020aa7,#0413ba,#081ecf,#0921e9,#1335ee,#1d49f3,#2c68f6,#3f8ef7,#53b6f9,#67e0fb,#76fbee,#80fbc6,#93fca1,#acfc80,#cafd66,#ecfe57,#fbeb4e,#f5c142,#f19b38,#ee7d30,#ec642b,#eb5128,#ea4225,#ea3924,#ea3423,#e23122,#d92f20,#d12d1e,#cb2b1d,#c5291c,#bf281b,#ba271a,#b72619,#b52519,#b42519,#b62519,#b9261a,#c0281b)"></i><i style="background:linear-gradient(90deg,#010496,#0209a6,#0413b9,#081ece,#0920e9,#1234ed,#1c48f3,#2b66f6,#3e8bf7,#51b3f9,#65dcfb,#76fbf3,#7efbcc,#8ffca8,#a7fc86,#c4fd6a,#e5fe58,#fdf351,#f6ca45,#f2a53a,#ef8632,#ed6d2d,#eb5829,#eb4826,#ea3d24,#ea3624,#ea3323,#e13122,#d92f20,#d32d1f,#cc2b1d,#c72a1c,#c2291b,#be281b,#bc271a,#bb271a,#bc271a,#bf281b,#c5291c)"></i><i style="background:linear-gradient(90deg,#010496,#0209a6,#0412b8,#071dcd,#0920e7,#1233ed,#1c46f2,#2a64f5,#3c88f7,#4faff8,#63d7fb,#75fbf9,#7cfbd3,#8bfcae,#a2fc8c,#befd6f,#defe5b,#fffc54,#f8d447,#f3af3d,#ef8f35,#ed752f,#ec602a,#eb4e27,#ea4125,#ea3924,#ea3524,#e93323,#e13122,#db2f20,#d42d1f,#ce2c1e,#c92b1d,#c5291c,#c2291b,#c1281b,#c2291b,#c5291c,#ca2b1d)"></i><i style="background:linear-gradient(90deg,#010495,#0209a5,#0412b7,#071dcb,#0920e5,#1131ed,#1b44f2,#2961f5,#3a84f7,#4daaf8,#60d2fa,#74fafd,#7afbd9,#87fcb5,#9cfc93,#b8fd75,#d7fe5e,#f9ff55,#f9dd4a,#f4b940,#f09937,#ee7f31,#ec692c,#eb5628,#eb4726,#ea3d25,#ea3824,#ea3524,#ea3323,#e33122,#dc2f21,#d62e1f,#d12d1e,#cd2b1e,#ca2b1d,#c82a1d,#c82a1d,#cb2b1d,#d02c1e)"></i><i style="background:linear-gradient(90deg,#010495,#0209a5,#0311b6,#071cca,#0920e3,#1030ec,#1a42f2,#275df5,#3880f7,#4ba6f8,#5eccfa,#71f3fc,#78fbe1,#84fbbd,#97fc9b,#b1fc7b,#d0fd62,#f1fe56,#fbe74d,#f5c343,#f2a43a,#ef8933,#ed722e,#ec5e2a,#eb4e27,#ea4225,#ea3b24,#ea3724,#ea3524,#ea3323,#e43222,#de3021,#d92f20,#d42d1f,#d12c1e,#cf2c1e,#cf2c1e,#d12d1e,#d62e1f)"></i><i style="background:linear-gradient(90deg,#010494,#0209a4,#0311b5,#071bc9,#0920e1,#102eec,#1840f1,#2559f5,#367bf6,#48a0f8,#5ac6fa,#6debfc,#77fbe8,#80fbc5,#92fca2,#abfc82,#c8fd67,#e9fe57,#fdf250,#f7ce46,#f3ae3d,#f09336,#ee7b30,#ec672c,#eb5628,#eb4926,#ea4025,#ea3b24,#ea3824,#ea3524,#ea3423,#e63223,#e03121,#db2f20,#d82e20,#d62e1f,#d52e1f,#d72e20,#dc2f21)"></i><i style="background:linear-gradient(90deg,#010494,#0208a3,#0310b4,#071bc7,#0920de,#0f2ceb,#173df0,#2355f4,#3376f6,#459af8,#57bff9,#69e4fb,#76fbf0,#7dfbcd,#8dfcab,#a4fc89,#c1fd6d,#e1fe5a,#fefc54,#f8d849,#f4b940,#f19e38,#ef8532,#ed702d,#ec5e2a,#eb5027,#eb4626,#ea4025,#ea3b24,#ea3824,#ea3624,#ea3423,#e83323,#e33122,#df3021,#dc3021,#dc2f21,#de3021,#e23122)"></i><i style="background:linear-gradient(90deg,#010493,#0108a3,#0310b4,#061ac6,#0920dc,#0e2aeb,#163bf0,#2151f4,#3071f6,#4294f7,#54b8f9,#65dcfb,#75fbf8,#7bfbd6,#88fcb3,#9efc91,#b9fd73,#d8fe5d,#f8ff55,#fae34c,#f6c443,#f2a83b,#f09035,#ee7a30,#ec672c,#eb5829,#eb4d27,#eb4526,#ea4025,#ea3c24,#ea3924,#ea3624,#ea3524,#ea3323,#e63223,#e33122,#e33122,#e43222,#e83323)"></i><i style="background:linear-gradient(90deg,#010392,#0108a2,#0310b3,#0619c4,#0920d9,#0c27ea,#1538ef,#1f4df3,#2e6bf6,#3f8ef7,#50b1f9,#61d4fa,#73f7fd,#79fbdf,#84fcbc,#98fc9a,#b2fc7a,#d0fd62,#effe56,#fcee4f,#f7cf46,#f3b33e,#f19b38,#ee8432,#ed702e,#ec602a,#eb5428,#eb4c27,#eb4626,#ea4125,#ea3c24,#ea3924,#ea3724,#ea3524,#ea3423,#ea3323,#e93323,#ea3323,#ea3423)"></i><i style="background:linear-gradient(90deg,#010391,#0108a2,#030fb2,#0619c3,#0920d7,#0b25ea,#1335ee,#1d49f3,#2b65f5,#3c87f7,#4daaf8,#5dcbfa,#6eeefc,#77fbe8,#80fbc5,#92fca3,#aafc82,#c7fd68,#e6fe58,#fef953,#f9da49,#f5be41,#f2a53a,#ef8e35,#ee7a30,#ec692c,#ec5c2a,#eb5328,#eb4c27,#eb4626,#ea4125,#ea3d25,#ea3a24,#ea3724,#ea3624,#ea3524,#ea3524,#ea3524,#ea3624)"></i><i style="background:linear-gradient(90deg,#010390,#0107a1,#030fb1,#0518c1,#081fd4,#0922e9,#1233ed,#1b44f2,#285ff5,#3880f7,#49a2f8,#59c3fa,#6ae5fc,#76fbf1,#7dfbcf,#8cfcac,#a3fc8a,#bffd6e,#ddfe5b,#faff55,#fbe54d,#f6c944,#f3b03d,#f09937,#ee8432,#ed722e,#ec652b,#ec5b29,#eb5328,#eb4c27,#eb4626,#ea4125,#ea3d25,#ea3a24,#ea3824,#ea3724,#ea3624,#ea3724,#ea3824)"></i><i style="background:linear-gradient(90deg,#01038f,#0107a0,#030eb0,#0517c0,#081fd1,#0920e7,#1030ec,#1941f1,#2559f5,#3579f6,#459af8,#55baf9,#65dbfb,#75fbfb,#7afbd8,#88fcb5,#9dfc93,#b7fd75,#d4fd5f,#f1fe56,#fcf050,#f8d548,#f4bb40,#f2a43a,#ef8e34,#ee7c30,#ed6e2d,#ec632b,#ec5a29,#eb5328,#eb4c27,#eb4626,#ea4225,#ea3e25,#ea3b24,#ea3924,#ea3924,#ea3924,#ea3a24)"></i><i style="background:linear-gradient(90deg,#00038d,#01079f,#030eaf,#0516be,#081ecf,#0920e3,#0f2deb,#173df0,#2254f4,#3172f6,#4192f7,#51b2f9,#60d2fa,#71f4fd,#78fbe2,#83fbbe,#96fc9c,#b0fc7d,#ccfd65,#e8fe57,#fefc53,#fae04b,#f6c644,#f3ae3d,#f09937,#ef8632,#ed772f,#ed6c2d,#ec622b,#ec5a29,#eb5328,#eb4c27,#eb4626,#ea4225,#ea3f25,#ea3d24,#ea3c24,#ea3c24,#ea3d25)"></i><i style="background:linear-gradient(90deg,#00038c,#01079f,#020dae,#0515bd,#071dcc,#0920df,#0e2aeb,#153aef,#204ef4,#2e6bf6,#3d8af7,#4ca9f8,#5cc8fa,#6ceafc,#77fbeb,#7ffbc8,#91fca5,#a8fc85,#c3fd6b,#dffe5a,#f9ff55,#fbeb4e,#f7d147,#f4b940,#f1a33a,#f09035,#ee8031,#ed742e,#ed6a2c,#ec622b,#ec5929,#eb5228,#eb4c27,#eb4726,#ea4325,#ea4025,#ea3f25,#ea3f25,#ea4125)"></i><i style="background:linear-gradient(90deg,#00028b,#01069e,#020dad,#0414bb,#071cca,#0920db,#0c27ea,#1436ee,#1d4af3,#2b65f5,#3983f7,#48a1f8,#57bff9,#67e0fb,#76fbf5,#7cfbd1,#8bfcae,#a1fc8d,#bbfd71,#d6fe5e,#effe56,#fdf652,#f9dc4a,#f6c443,#f3ad3d,#f09a37,#ef8a33,#ee7d30,#ed732e,#ec692c,#ec602a,#eb5829,#eb5228,#eb4c27,#eb4826,#eb4526,#ea4325,#ea4325,#eb4426)"></i><i style="background:linear-gradient(90deg,#00028a,#01069d,#020cac,#0414ba,#071bc8,#0920d8,#0a23e9,#1233ed,#1b45f2,#275ef5,#367bf6,#4498f7,#53b6f9,#63d6fb,#74fafd,#7afbda,#86fcb7,#9bfc95,#b4fd79,#cdfd63,#e6fe58,#feff54,#fbe74d,#f7ce46,#f4b73f,#f2a33a,#f09336,#ef8632,#ee7b30,#ed712e,#ec682c,#ec5f2a,#eb5829,#eb5128,#eb4c27,#eb4926,#eb4726,#eb4726,#eb4826)"></i><i style="background:linear-gradient(90deg,#000289,#01069c,#020cab,#0413b8,#061ac5,#081fd5,#0920e9,#1130ec,#1941f1,#2458f5,#3274f6,#4090f7,#4eadf8,#5ecdfa,#70f1fc,#78fbe4,#82fbc0,#95fc9e,#acfc80,#c5fd69,#defe5b,#f5ff55,#fcf150,#f8d849,#f5c142,#f3ad3d,#f19c38,#ef8f35,#ee8332,#ee792f,#ed6f2d,#ec662b,#ec5e2a,#eb5729,#eb5228,#eb4e27,#eb4c27,#eb4b27,#eb4c27)"></i><i style="background:linear-gradient(90deg,#000288,#01069b,#020baa,#0412b7,#0619c3,#081fd1,#0920e4,#0f2deb,#173df0,#2252f4,#2e6cf6,#3c88f7,#4aa4f8,#59c4fa,#6be7fc,#76fbed,#7ffbc9,#8ffca7,#a5fc88,#bdfd70,#d5fe5f,#ecfe56,#fefb53,#fae24c,#f7cb45,#f4b73f,#f2a63b,#f09837,#ef8b34,#ee8031,#ed762f,#ed6d2d,#ec642b,#ec5d2a,#eb5729,#eb5328,#eb5027,#eb5027,#eb5127)"></i><i style="background:linear-gradient(90deg,#000287,#01059a,#020ba9,#0311b5,#0518c1,#081ecf,#0920e0,#0e2beb,#163aef,#1f4df3,#2b66f5,#3880f7,#469cf8,#55bbf9,#66defb,#75fbf5,#7cfbd2,#8afcb0,#9ffc90,#b6fd76,#cdfd64,#e4fe59,#faff55,#fcec4e,#f8d448,#f5c042,#f3af3d,#f1a039,#f09436,#ef8833,#ee7d30,#ed732e,#ed6a2c,#ec632b,#ec5d2a,#eb5829,#eb5528,#eb5428,#eb5528)"></i><i style="background:linear-gradient(90deg,#000286,#010599,#020aa8,#0310b4,#0517bf,#071dcc,#0920dd,#0d28ea,#1437ef,#1d49f3,#285ff5,#3478f6,#4294f7,#51b2f9,#62d5fb,#74fafd,#7afbda,#86fcb8,#99fc99,#affc7e,#c6fd69,#dcfe5b,#f3ff55,#fdf551,#f9dd4a,#f6c944,#f4b73f,#f2a93b,#f19c38,#f09035,#ee8432,#ee7a30,#ed712e,#ec692c,#ec622b,#ec5d2a,#ec5a29,#eb5929,#ec5929)"></i><i style="background:linear-gradient(90deg,#000285,#010598,#020aa7,#030fb3,#0516be,#071cca,#0920da,#0b25ea,#1334ee,#1b45f2,#2559f5,#3171f6,#3e8cf7,#4daaf8,#5ecdfa,#70f2fc,#78fbe3,#82fbc0,#93fca1,#a8fc85,#bffd6f,#d5fd5f,#ebfe57,#fffd54,#fbe64d,#f7d247,#f5c042,#f3b13e,#f2a33a,#f09737,#ef8b34,#ee8131,#ed772f,#ed6f2d,#ec682c,#ec622b,#ec5f2a,#ec5d2a,#ec5e2a)"></i><i style="background:linear-gradient(90deg,#000284,#010597,#0209a5,#030fb1,#0515bc,#071bc8,#0920d8,#0a23e9,#1232ed,#1941f1,#2254f4,#2d6bf6,#3a85f7,#49a3f8,#5ac5fa,#6ceafc,#77fbeb,#7ffbc9,#8efca9,#a2fc8c,#b8fd74,#cefd63,#e5fe58,#faff55,#fcee4f,#f9da49,#f6c844,#f4b940,#f2ab3c,#f19e39,#f09235,#ef8733,#ee7d30,#ed742e,#ed6d2d,#ec672c,#ec632b,#ec612b,#ec622b)"></i><i style="background:linear-gradient(90deg,#000284,#010496,#0208a4,#030eb0,#0414bb,#071bc7,#0920d6,#0921e9,#1130ec,#173ef1,#204ff4,#2a65f5,#377ef6,#469cf8,#56bef9,#68e2fb,#76fbf2,#7cfbd0,#8afcb1,#9cfc94,#b2fc7b,#c8fd67,#dffe5b,#f4ff55,#fdf652,#fae24c,#f7d046,#f5c042,#f3b23e,#f2a53a,#f09937,#ef8e34,#ee8332,#ee7a30,#ed722e,#ed6c2d,#ec682c,#ec662b,#ec662b)"></i><i style="background:linear-gradient(90deg,#000283,#010494,#0108a2,#020dae,#0414ba,#061ac6,#081fd5,#0920e8,#102eec,#163bf0,#1e4bf3,#285ff5,#3478f6,#4295f7,#53b7f9,#65dbfb,#75fbf9,#7afbd8,#86fcb8,#97fc9b,#acfc81,#c3fd6b,#d9fe5d,#eefe56,#fffd54,#fbe94e,#f8d749,#f6c844,#f4b940,#f2ac3c,#f19f39,#f09436,#ef8933,#ee8031,#ed782f,#ed712e,#ed6c2d,#ec6a2c,#ec6a2c)"></i></div>
<div class="p" style="left:46px;top:139px;width:114px;height:88px"><i style="background:linear-gradient(90deg,#020aa7,#030daf,#0311b6,#0515bc,#0619c3,#071cca,#081fd1,#0920da,#0920e4,#0b26ea,#102fec,#1437ef,#1a42f2,#2151f4,#2b65f5,#367df6,#4396f7,#50b1f9,#5dcbfa,#69e4fb,#75fbfd,#77fbe9,#7afbd8,#7ffbc9,#84fbbc,#89fcb2,#8dfcaa,#91fca3,#95fc9e,#98fc99,#9cfc94,#9efc91,#a1fc8e,#a3fc8b,#a3fc8a,#a4fc8a,#a3fc8a,#a3fc8b,#a2fc8c,#a2fc8c,#a2fc8c,#a2fc8c,#a2fc8c,#a2fc8c,#a3fc8b,#a3fc8b,#a3fc8b,#a2fc8c,#a2fc8c,#a1fc8e,#9ffc8f,#9efc91,#9cfc93,#9bfc96,#99fc98,#98fc9a,#97fc9b,#96fc9c)"></i><i style="background:linear-gradient(90deg,#0209a6,#020dae,#0311b5,#0415bc,#0618c2,#071cc9,#081ed0,#0920d9,#0920e4,#0b25ea,#102eec,#1437ef,#1a43f2,#2152f4,#2b66f6,#377ff7,#4499f8,#52b4f9,#5fcefa,#6be8fc,#75fbf9,#77fbe6,#7bfbd4,#80fbc5,#86fcb8,#8bfcae,#90fca5,#95fc9e,#99fc98,#9dfc93,#a0fc8e,#a3fc8b,#a6fc88,#a7fc86,#a8fc85,#a8fc85,#a8fc85,#a7fc86,#a6fc87,#a6fc87,#a6fc87,#a6fc87,#a6fc87,#a6fc87,#a7fc87,#a7fc87,#a6fc87,#a6fc88,#a5fc89,#a4fc8a,#a2fc8c,#a1fc8d,#9ffc8f,#9efc92,#9cfc94,#9bfc95,#9afc97,#99fc98)"></i><i style="background:linear-gradient(90deg,#0209a4,#020dad,#0311b4,#0414bb,#0618c2,#071bc9,#081ed0,#0920d9,#0920e3,#0b25ea,#102eec,#1438ef,#1a43f2,#2253f4,#2c68f6,#3881f7,#469cf8,#53b7f9,#60d2fa,#6decfc,#75fbf6,#78fbe2,#7cfbd0,#82fbc1,#88fcb4,#8efcaa,#93fca1,#98fc99,#9dfc93,#a1fc8e,#a4fc89,#a8fc85,#aafc83,#acfc81,#acfc80,#acfc80,#acfc81,#abfc82,#aafc82,#aafc83,#aafc83,#aafc83,#aafc83,#aafc82,#aafc82,#aafc83,#aafc83,#a9fc84,#a8fc85,#a7fc86,#a5fc88,#a4fc8a,#a2fc8c,#a1fc8e,#9ffc90,#9efc91,#9dfc93,#9cfc94)"></i><i style="background:linear-gradient(90deg,#0208a3,#020cac,#0310b4,#0414bb,#0518c2,#071bc8,#081ed0,#0920d9,#0920e3,#0b25ea,#102fec,#1538ef,#1a44f2,#2354f4,#2d6af6,#3a83f7,#479ff8,#55baf9,#62d6fb,#6feffc,#76fbf2,#79fbde,#7efbcd,#83fbbe,#8afcb1,#90fca6,#96fc9c,#9bfc95,#a0fc8e,#a5fc89,#a8fc84,#acfc81,#aefc7e,#b0fc7d,#b0fc7c,#b0fc7c,#affc7d,#aefc7e,#aefc7f,#adfc7f,#adfc7f,#aefc7f,#aefc7f,#aefc7f,#aefc7f,#adfc7f,#adfc80,#acfc81,#abfc82,#aafc83,#a8fc85,#a7fc87,#a5fc88,#a3fc8a,#a2fc8c,#a1fc8e,#9ffc8f,#9efc91)"></i><i style="background:linear-gradient(90deg,#0108a3,#020cac,#0310b4,#0414bb,#0518c1,#071bc8,#081ed0,#0920d9,#0920e3,#0b25ea,#102fec,#1539ef,#1b45f2,#2356f4,#2e6cf6,#3b86f7,#49a2f8,#57bef9,#64d9fb,#71f3fd,#76fbef,#7afbdb,#7ffbc9,#85fcba,#8cfcad,#92fca2,#98fc99,#9efc91,#a3fc8a,#a8fc85,#acfc80,#affc7d,#b2fc7b,#b3fd79,#b4fd78,#b3fd79,#b3fd79,#b2fc7a,#b1fc7b,#b1fc7b,#b1fc7b,#b1fc7b,#b1fc7b,#b1fc7b,#b1fc7b,#b0fc7c,#b0fc7d,#affc7e,#aefc7f,#acfc80,#abfc82,#a9fc84,#a8fc85,#a6fc87,#a5fc89,#a3fc8b,#a2fc8c,#a1fc8e)"></i><i style="background:linear-gradient(90deg,#0108a2,#020cab,#0310b3,#0414ba,#0518c1,#071bc8,#081ed0,#0920d9,#0920e4,#0c26ea,#1030ec,#1539ef,#1c46f2,#2458f5,#306ff6,#3d89f7,#4aa5f8,#58c1f9,#66ddfb,#73f7fd,#77fbeb,#7afbd7,#80fbc6,#86fcb7,#8dfcaa,#94fc9f,#9bfc95,#a1fc8d,#a6fc87,#abfc81,#affc7d,#b3fc7a,#b5fd77,#b6fd76,#b7fd75,#b7fd76,#b6fd76,#b5fd77,#b4fd78,#b4fd78,#b4fd78,#b4fd78,#b5fd78,#b4fd78,#b4fd78,#b3fd79,#b2fc7a,#b1fc7b,#b0fc7c,#affc7e,#adfc7f,#acfc81,#aafc83,#a9fc84,#a7fc86,#a6fc88,#a4fc89,#a3fc8b)"></i><i style="background:linear-gradient(90deg,#0107a1,#020bab,#0310b3,#0414ba,#0518c1,#071bc8,#081ed0,#0920d9,#0920e5,#0c27ea,#1130ec,#163af0,#1c48f3,#255af5,#3172f6,#3e8cf7,#4ca8f8,#5ac5fa,#68e1fb,#75fbfd,#77fbe8,#7bfbd4,#81fbc3,#88fcb4,#8ffca7,#96fc9c,#9dfc92,#a3fc8a,#a9fc84,#aefc7e,#b2fc7a,#b5fd77,#b8fd74,#b9fd73,#bafd73,#bafd73,#b9fd73,#b8fd74,#b8fd75,#b7fd75,#b7fd75,#b8fd75,#b8fd75,#b7fd75,#b7fd75,#b6fd76,#b5fd77,#b4fd78,#b2fc7a,#b1fc7b,#affc7d,#aefc7e,#acfc80,#abfc82,#a9fc83,#a8fc85,#a7fc87,#a5fc88)"></i><i style="background:linear-gradient(90deg,#0107a0,#020baa,#0310b3,#0414ba,#0518c1,#071bc9,#081ed1,#0920da,#0920e6,#0c28ea,#1131ed,#163cf0,#1d49f3,#275df5,#3275f6,#4090f7,#4eacf8,#5cc8fa,#69e4fb,#75fbfa,#78fbe4,#7cfbd1,#82fbc0,#8afcb1,#91fca4,#98fc99,#9ffc90,#a6fc88,#abfc81,#b0fc7c,#b5fd78,#b8fd74,#bafd72,#bcfd71,#bdfd70,#bcfd70,#bcfd71,#bbfd72,#bafd72,#bafd72,#bafd72,#bbfd72,#bbfd72,#bafd72,#bafd73,#b9fd74,#b7fd75,#b6fd76,#b4fd78,#b3fd79,#b1fc7b,#b0fc7c,#aefc7e,#adfc7f,#abfc81,#aafc83,#a9fc84,#a7fc86)"></i><i style="background:linear-gradient(90deg,#0107a0,#020baa,#030fb3,#0414ba,#0518c2,#071cc9,#081fd1,#0920db,#0920e7,#0d28ea,#1232ed,#173df0,#1e4bf3,#285ff5,#3478f6,#4293f7,#50b0f9,#5eccfa,#6be8fc,#75fbf7,#78fbe1,#7dfbce,#84fbbd,#8bfcae,#93fca1,#9afc96,#a1fc8d,#a8fc85,#aefc7f,#b3fd7a,#b7fd75,#bafd72,#bdfd70,#befd6f,#bffd6e,#bffd6e,#befd6f,#befd6f,#bdfd70,#bdfd70,#bdfd70,#bdfd70,#bdfd70,#bdfd70,#bcfd71,#bbfd72,#bafd73,#b8fd74,#b6fd76,#b5fd77,#b3fd79,#b2fc7a,#b0fc7c,#affc7d,#aefc7f,#acfc80,#abfc82,#a9fc84)"></i><i style="background:linear-gradient(90deg,#01079f,#020baa,#030fb3,#0414ba,#0618c2,#071cc9,#081fd2,#0920dc,#0920e8,#0d2aea,#1233ed,#183ef1,#1f4ef4,#2962f5,#367bf6,#4397f7,#51b3f9,#5fd0fa,#6debfc,#76fbf4,#79fbde,#7efbcb,#85fcba,#8cfcac,#94fc9f,#9cfc94,#a3fc8b,#aafc83,#affc7d,#b5fd78,#b9fd74,#bcfd71,#bffd6e,#c0fd6d,#c1fd6d,#c1fd6d,#c1fd6d,#c0fd6d,#c0fd6e,#c0fd6e,#c0fd6e,#c0fd6d,#c0fd6d,#bffd6e,#bffd6f,#bdfd70,#bcfd71,#bafd73,#b8fd74,#b7fd76,#b5fd77,#b4fd78,#b2fc7a,#b1fc7b,#affc7d,#aefc7e,#adfc80,#abfc82)"></i><i style="background:linear-gradient(90deg,#01079f,#020baa,#030fb2,#0414ba,#0618c2,#071cca,#081fd3,#0920dd,#0920e9,#0e2beb,#1335ee,#1840f1,#2050f4,#2b66f5,#387ff7,#459bf8,#53b7f9,#61d4fa,#6feffc,#76fbf1,#79fbdb,#7ffbc8,#86fcb8,#8efca9,#96fc9d,#9dfc92,#a5fc89,#abfc81,#b1fc7b,#b6fd76,#bafd72,#befd6f,#c0fd6d,#c2fd6c,#c3fd6b,#c3fd6b,#c3fd6b,#c2fd6c,#c2fd6c,#c2fd6c,#c2fd6c,#c2fd6b,#c2fd6c,#c2fd6c,#c1fd6d,#bffd6e,#befd6f,#bcfd71,#bafd73,#b8fd74,#b7fd75,#b5fd77,#b4fd78,#b3fd7a,#b1fc7b,#b0fc7c,#aefc7e,#adfc80)"></i><i style="background:linear-gradient(90deg,#01079f,#020ba9,#030fb3,#0414bb,#0618c3,#071ccb,#081fd4,#0920de,#0922e9,#0f2ceb,#1336ee,#1942f2,#2253f4,#2d69f6,#3983f7,#479ff8,#55bbf9,#63d7fb,#71f2fc,#76fbee,#7afbd8,#80fbc6,#87fcb5,#8ffca7,#97fc9a,#9ffc90,#a6fc87,#adfc80,#b3fc7a,#b8fd75,#bcfd71,#bffd6e,#c2fd6c,#c3fd6b,#c4fd6a,#c5fd6a,#c5fd6a,#c4fd6a,#c4fd6a,#c4fd6a,#c4fd6a,#c5fd6a,#c4fd6a,#c4fd6a,#c3fd6b,#c1fd6c,#bffd6e,#bdfd70,#bcfd71,#bafd73,#b8fd74,#b7fd75,#b6fd77,#b4fd78,#b3fd79,#b1fc7b,#b0fc7c,#aefc7e)"></i><i style="background:linear-gradient(90deg,#01079e,#020ba9,#030fb3,#0414bb,#0619c3,#071dcb,#081fd5,#0920e0,#0a23e9,#0f2deb,#1437ef,#1a44f2,#2355f4,#2e6cf6,#3b87f7,#49a2f8,#57bff9,#65dbfb,#72f6fd,#77fbeb,#7bfbd6,#81fbc3,#89fcb3,#91fca5,#99fc98,#a0fc8e,#a8fc86,#aefc7e,#b4fd78,#b9fd74,#bdfd70,#c0fd6d,#c3fd6b,#c5fd6a,#c6fd69,#c6fd69,#c6fd68,#c6fd69,#c6fd69,#c6fd68,#c7fd68,#c7fd68,#c7fd68,#c6fd69,#c5fd6a,#c3fd6b,#c1fd6d,#bffd6e,#bdfd70,#bbfd71,#bafd73,#b8fd74,#b7fd75,#b6fd76,#b4fd78,#b3fd79,#b1fc7b,#b0fc7c)"></i><i style="background:linear-gradient(90deg,#01079e,#020ba9,#030fb3,#0414bb,#0619c3,#071dcc,#0920d6,#0920e1,#0b24e9,#102fec,#1539ef,#1b46f2,#2558f5,#3070f6,#3d8af7,#4ba6f8,#59c3f9,#67defb,#74f9fd,#77fbe8,#7cfbd3,#82fbc0,#8afcb0,#92fca3,#9afc97,#a2fc8d,#a9fc84,#affc7d,#b5fd77,#bafd73,#befd6f,#c1fd6c,#c4fd6a,#c6fd69,#c7fd68,#c7fd68,#c8fd67,#c8fd67,#c8fd67,#c8fd67,#c8fd67,#c9fd67,#c8fd67,#c8fd67,#c6fd68,#c4fd6a,#c2fd6b,#c0fd6d,#befd6f,#bdfd70,#bbfd71,#bafd73,#b9fd74,#b7fd75,#b6fd76,#b4fd78,#b3fd79,#b1fc7b)"></i><i style="background:linear-gradient(90deg,#01079e,#020ba9,#0310b3,#0415bb,#0619c4,#081dcd,#0920d7,#0920e3,#0c26ea,#1130ec,#163af0,#1c48f3,#265bf5,#3274f6,#3f8ef7,#4daaf8,#5bc6fa,#68e2fb,#75fbfc,#78fbe5,#7cfbd0,#83fbbe,#8bfcae,#93fca1,#9bfc95,#a3fc8b,#aafc83,#b0fc7c,#b6fd77,#bafd72,#bffd6f,#c2fd6c,#c5fd6a,#c7fd68,#c8fd67,#c9fd67,#c9fd66,#c9fd66,#cafd66,#cafd66,#cafd66,#cafd66,#cafd66,#c9fd66,#c8fd67,#c6fd69,#c4fd6a,#c2fd6c,#c0fd6e,#befd6f,#bdfd70,#bbfd71,#bafd73,#b9fd74,#b7fd75,#b6fd76,#b4fd78,#b2fc7a)"></i><i style="background:linear-gradient(90deg,#01069e,#020ba9,#0310b3,#0415bc,#061ac5,#081ece,#0920d8,#0920e5,#0c27ea,#1131ed,#163cf0,#1e4bf3,#285ff5,#3477f6,#4192f7,#4faef8,#5dcafa,#6ae6fc,#75fbf9,#78fbe2,#7dfbce,#84fcbc,#8cfcac,#94fc9f,#9cfc93,#a4fc8a,#abfc82,#b1fc7b,#c1fd6c,#c8fd67,#c4fd6a,#c2fd6b,#c5fd69,#c7fd68,#c9fd67,#cafd66,#cafd66,#cbfd65,#cbfd65,#cbfd65,#ccfd65,#ccfd64,#ccfd65,#cbfd65,#c9fd66,#c7fd68,#c5fd69,#c3fd6b,#c1fd6c,#bffd6e,#befd6f,#bdfd70,#bbfd71,#bafd73,#b9fd74,#b7fd75,#b6fd77,#b4fd78)"></i><i style="background:linear-gradient(90deg,#01069e,#020ba9,#0310b3,#0515bc,#061ac5,#081ecf,#0920d9,#0920e7,#0d29ea,#1233ed,#173ef1,#1f4df3,#2962f5,#367bf6,#4396f7,#51b2f9,#5ecefa,#6ce9fc,#75fbf6,#79fbe0,#7efbcb,#85fcba,#8dfcaa,#95fc9d,#9dfc92,#a5fc89,#acfc81,#b2fc7a,#d1fd61,#d7fe5e,#d7fe5e,#d4fd60,#cbfd65,#c8fd67,#c9fd66,#cbfd65,#cbfd65,#ccfd64,#ccfd64,#cdfd64,#cdfd64,#cdfd63,#cdfd64,#ccfd64,#cbfd65,#c9fd67,#c7fd68,#c4fd6a,#c2fd6b,#c1fd6d,#bffd6e,#befd6f,#bcfd70,#bbfd71,#bafd73,#b8fd74,#b7fd75,#b5fd77)"></i><i style="background:linear-gradient(90deg,#01079e,#020ba9,#0310b3,#0515bc,#061ac6,#081ed0,#0920db,#0920e8,#0e2aeb,#1334ee,#1840f1,#2050f4,#2b65f5,#377ff7,#459af8,#52b5f9,#60d1fa,#6decfc,#76fbf3,#79fbdd,#7ffbc9,#86fcb8,#8efca9,#97fc9c,#9ffc91,#a6fc87,#adfc80,#c7fd68,#ddfe5b,#e3fe59,#e4fe59,#e2fe59,#defe5b,#d7fe5e,#cafd66,#cbfd65,#ccfd64,#cdfd64,#cefd63,#cefd63,#cffd63,#cffd63,#cefd63,#cdfd63,#ccfd64,#cafd66,#c8fd67,#c6fd69,#c4fd6a,#c2fd6c,#c0fd6d,#bffd6e,#befd6f,#bcfd70,#bbfd72,#bafd73,#b8fd74,#b6fd76)"></i><i style="background:linear-gradient(90deg,#01079e,#020ba9,#0310b3,#0515bd,#061ac6,#081ed1,#0920dc,#0921e9,#0e2ceb,#1336ee,#1942f1,#2252f4,#2c69f6,#3982f7,#479df8,#54b9f9,#62d5fb,#6feffc,#76fbf1,#7afbdb,#80fbc7,#87fcb6,#8ffca7,#98fc9a,#9ffc8f,#a7fc86,#b7fd76,#d4fd60,#e7fe58,#edfe56,#eefe56,#edfe56,#eafe57,#e5fe58,#defe5b,#ccfd64,#cdfd64,#cefd63,#cffd63,#d0fd62,#d0fd62,#d0fd62,#d0fd62,#cffd63,#cdfd64,#cbfd65,#c9fd66,#c7fd68,#c5fd69,#c3fd6b,#c2fd6c,#c0fd6d,#bffd6e,#befd6f,#bcfd71,#bbfd72,#b9fd73,#b7fd75)"></i><i style="background:linear-gradient(90deg,#01079e,#020ba9,#0310b4,#0515bd,#061bc7,#081fd1,#0920de,#0a22e9,#0f2deb,#1437ef,#1a44f2,#2355f4,#2e6cf6,#3b86f7,#48a1f8,#56bcf9,#63d8fb,#70f2fc,#76fbee,#7afbd8,#80fbc5,#88fcb4,#90fca5,#98fc99,#a0fc8e,#a8fc86,#c7fd68,#defe5b,#f0fe56,#f6ff55,#f7ff55,#f6ff55,#f4ff55,#f1fe56,#ebfe57,#e3fe59,#d5fd5f,#cffd62,#d0fd62,#d1fd61,#d1fd61,#d1fd61,#d1fd61,#d0fd62,#cefd63,#ccfd64,#cafd66,#c8fd67,#c6fd68,#c4fd6a,#c3fd6b,#c2fd6c,#c0fd6d,#bffd6e,#bdfd6f,#bcfd71,#bafd72,#b9fd74)"></i><i style="background:linear-gradient(90deg,#01079f,#020baa,#0310b4,#0516bd,#071bc7,#081fd2,#0920df,#0b24e9,#102eec,#1539ef,#1b46f2,#2458f5,#306ff6,#3d89f7,#4aa4f8,#57c0f9,#65dbfb,#72f5fd,#76fbec,#7bfbd6,#81fbc3,#89fcb2,#91fca4,#99fc98,#a1fc8d,#b6fd77,#d2fd61,#e7fe58,#f9ff55,#feff54,#ffff54,#ffff54,#fdff54,#faff55,#f6ff55,#f0fe56,#e7fe58,#d9fe5d,#d1fd61,#d2fd61,#d2fd61,#d2fd61,#d2fd61,#d1fd61,#cffd62,#cdfd63,#cbfd65,#c9fd66,#c8fd68,#c6fd69,#c4fd6a,#c3fd6b,#c1fd6c,#c0fd6d,#bffd6e,#bdfd70,#bcfd71,#bafd73)"></i><i style="background:linear-gradient(90deg,#01079f,#020baa,#0310b4,#0516be,#071bc8,#081fd3,#0920e1,#0b25ea,#1030ec,#163af0,#1c48f3,#265bf5,#3172f6,#3e8cf7,#4ca8f8,#59c3f9,#66defb,#73f8fd,#77fbe9,#7bfbd4,#82fbc1,#8afcb1,#92fca3,#9afc96,#a2fc8c,#c4fd6a,#dcfe5c,#f0fe56,#fcf150,#fcf050,#fdf651,#fdf551,#fef752,#fefa53,#ffff54,#faff55,#f3ff55,#eafe57,#dbfe5c,#d3fd60,#d3fd60,#d3fd60,#d3fd60,#d2fd61,#d0fd62,#cffd63,#cdfd64,#cbfd65,#c9fd66,#c7fd68,#c6fd69,#c4fd6a,#c3fd6b,#c1fd6c,#c0fd6d,#befd6f,#bdfd70,#bbfd72)"></i><i style="background:linear-gradient(90deg,#01079f,#020baa,#0310b4,#0516be,#071bc9,#081fd4,#0920e2,#0c27ea,#1131ed,#163cf0,#1d4af3,#275df5,#3375f6,#408ff7,#4daaf8,#5ac6fa,#68e0fb,#74fafd,#77fbe7,#7cfbd3,#82fbc0,#8afcb0,#93fca1,#9bfc95,#b1fc7b,#cffd63,#e5fe58,#fffe54,#f9de4a,#f9dc4a,#fbe94e,#fced4f,#fcee4f,#fcf150,#fdf451,#fefa53,#feff54,#f6ff55,#ecfe57,#dbfe5c,#d4fd60,#d4fd60,#d3fd60,#d2fd60,#d1fd61,#d0fd62,#cefd63,#ccfd64,#cafd65,#c9fd67,#c7fd68,#c6fd69,#c4fd6a,#c3fd6b,#c1fd6d,#bffd6e,#befd6f,#bcfd70)"></i><i style="background:linear-gradient(90deg,#01079f,#020baa,#0310b4,#0516be,#071cc9,#0920d5,#0920e4,#0d28ea,#1232ed,#173df0,#1e4cf3,#2860f5,#3478f6,#4192f7,#4eadf8,#5cc8fa,#69e3fb,#75fbfc,#77fbe5,#7cfbd1,#83fbbe,#8bfcae,#93fca0,#9cfc94,#bffd6e,#d8fe5d,#f0fe56,#fbea4e,#f7cb45,#f6ca45,#f8d648,#fae44c,#fbe54d,#fbe84d,#fceb4e,#fcf050,#fdf652,#fffe54,#f7ff55,#ecfe56,#d6fe5e,#d4fd5f,#d4fd60,#d3fd60,#d2fd61,#d1fd61,#cffd62,#cefd63,#ccfd64,#cafd65,#c9fd67,#c7fd68,#c5fd69,#c4fd6a,#c2fd6b,#c1fd6d,#bffd6e,#befd6f)"></i><i style="background:linear-gradient(90deg,#01079f,#020baa,#0310b4,#0516be,#071cca,#0920d6,#0920e5,#0d29ea,#1234ed,#183ff1,#1f4ef4,#2a63f5,#367bf6,#4295f7,#50b0f9,#5dcbfa,#6ae5fc,#75fbfa,#78fbe4,#7dfbcf,#84fbbd,#8cfcad,#94fc9f,#abfc82,#c9fd66,#e1fe5a,#fefa53,#f8d648,#f4ba40,#f4b840,#f6c443,#f8d448,#f9dd4a,#fadf4b,#fae24c,#fbe74d,#fcec4f,#fdf351,#fefc54,#f8ff55,#ebfe57,#d5fd5f,#d5fd5f,#d4fd60,#d3fd60,#d2fd61,#d1fd61,#cffd62,#cefd63,#ccfd64,#cafd66,#c9fd67,#c7fd68,#c5fd69,#c4fd6a,#c2fd6c,#c0fd6d,#bffd6e)"></i><i style="background:linear-gradient(90deg,#0107a0,#020baa,#0310b4,#0516bf,#071cca,#0920d7,#0920e7,#0e2aeb,#1335ee,#1941f1,#2150f4,#2b65f5,#377ef6,#4498f7,#51b2f9,#5ecdfa,#6be7fc,#75fbf8,#78fbe2,#7dfbce,#84fcbc,#8cfcac,#95fc9e,#b7fd75,#d3fd60,#f2ff55,#fae54d,#f6c443,#f2a93b,#f2a83b,#f3b33e,#f5c242,#f8d548,#f8d748,#f9da49,#f9de4b,#fae34c,#fbea4e,#fdf250,#fefc54,#f7ff55,#e8fe58,#d5fe5f,#d5fd5f,#d4fd60,#d3fd60,#d2fd61,#d1fd61,#cffd62,#cefd63,#ccfd64,#cafd66,#c8fd67,#c7fd68,#c5fd69,#c3fd6b,#c2fd6c,#c0fd6d)"></i><i style="background:linear-gradient(90deg,#0107a0,#020baa,#0310b4,#0516bf,#071cca,#0920d8,#0920e8,#0e2beb,#1436ee,#1a42f2,#2253f4,#2c68f6,#3880f7,#459af8,#52b5f9,#5fcffa,#6ce9fc,#75fbf6,#78fbe0,#7efbcc,#85fcba,#8dfcab,#a2fc8c,#c2fd6c,#dbfe5c,#fef752,#f7d247,#f3b33e,#f09837,#f09737,#f1a23a,#f3b23e,#f6c443,#f7cf46,#f8d247,#f8d648,#f9db4a,#fae14b,#fbe94e,#fdf250,#fffe54,#f4ff55,#e2fe59,#d6fe5f,#d5fd5f,#d4fd5f,#d3fd60,#d2fd60,#d1fd61,#cffd62,#cefd63,#ccfd65,#cafd66,#c8fd67,#c6fd69,#c5fd6a,#c3fd6b,#c2fd6c)"></i><i style="background:linear-gradient(90deg,#0107a0,#020baa,#0310b4,#0517bf,#071ccb,#0920d9,#0920e9,#0f2deb,#1437ef,#1a44f2,#2355f4,#2e6bf6,#3a83f7,#469df8,#53b7f9,#60d2fa,#6debfc,#76fbf4,#79fbdf,#7efbcb,#85fcb9,#8efcaa,#affc7e,#cbfd65,#f3ff55,#fae24b,#f5bf42,#f1a239,#ef8833,#ef8833,#f09336,#f1a239,#f3b43e,#f6c844,#f6cb45,#f7ce46,#f8d347,#f9d949,#fae04b,#fbe94e,#fdf451,#feff54,#f0fe56,#d6fe5e,#d6fe5f,#d5fe5f,#d5fd5f,#d4fd60,#d3fd60,#d1fd61,#cffd62,#cdfd64,#cbfd65,#c9fd66,#c8fd68,#c6fd69,#c4fd6a,#c3fd6b)"></i><i style="background:linear-gradient(90deg,#0107a0,#020baa,#0310b4,#0517bf,#071dcb,#0920da,#0921e9,#0f2eec,#1539ef,#1b46f2,#2457f5,#2f6df6,#3b86f7,#48a0f8,#55baf9,#61d4fa,#6eeefc,#76fbf3,#79fbdd,#7ffbc9,#86fcb8,#98fc9a,#b9fd74,#dafe5d,#fdf451,#f7ce46,#f3ad3d,#f09235,#ee7930,#ee792f,#ee8332,#f09235,#f2a43a,#f4b940,#f5c443,#f6c744,#f7cc45,#f7d147,#f8d849,#fae14b,#fbeb4e,#fdf652,#faff55,#ebfe57,#d7fe5e,#d6fe5e,#d6fe5e,#d5fe5f,#d4fd5f,#d3fd60,#d1fd61,#cffd63,#cdfd64,#cbfd65,#c9fd67,#c7fd68,#c6fd69,#c5fd6a)"></i><i style="background:linear-gradient(90deg,#0107a0,#020baa,#0310b4,#0517bf,#071dcc,#0920db,#0a22e9,#102fec,#153aef,#1c47f3,#255af5,#3070f6,#3c89f7,#49a2f8,#56bcf9,#63d6fb,#6ff0fc,#76fbf1,#79fbdb,#7ffbc8,#87fcb6,#a4fc89,#c2fd6c,#f4ff55,#f9de4b,#f4ba40,#f19c38,#ee8231,#ed6b2c,#ed6a2c,#ed752f,#ee8332,#f09536,#f2a93b,#f5bd41,#f5c042,#f6c443,#f6ca45,#f7d147,#f9d949,#fae34c,#fcee4f,#fefa53,#f6ff55,#e3fe59,#d8fe5e,#d7fe5e,#d7fe5e,#d6fe5f,#d4fd5f,#d2fd60,#d0fd62,#cefd63,#ccfd64,#cafd66,#c8fd67,#c7fd68,#c6fd69)"></i><i style="background:linear-gradient(90deg,#0107a0,#020baa,#0310b4,#0517c0,#071dcd,#0920dc,#0a23e9,#1030ec,#163bf0,#1d49f3,#265cf5,#3273f6,#3e8cf7,#4aa5f8,#57bff9,#64d9fb,#71f3fc,#76fbee,#7afbd9,#80fbc6,#8bfcae,#affc7e,#dafe5d,#fdf250,#f6c944,#f2a83b,#ef8c34,#ed732e,#ec5d2a,#ec5d2a,#ec672c,#ed752f,#ef8733,#f19b38,#f3b13e,#f4b940,#f5be41,#f5c343,#f6ca45,#f7d247,#f9db4a,#fbe54d,#fdf150,#ffff54,#f0fe56,#d8fe5d,#d8fe5d,#d8fe5d,#d7fe5e,#d6fe5f,#d4fd60,#d2fd61,#d0fd62,#cefd63,#ccfd65,#cafd66,#c8fd67,#c7fd68)"></i><i style="background:linear-gradient(90deg,#01079f,#020ba9,#0310b4,#0517c0,#081dcd,#0920dd,#0b25ea,#1131ec,#173cf0,#1e4bf3,#285ff5,#3376f6,#3f8ff7,#4ca9f8,#59c2f9,#65dcfb,#72f5fd,#76fbec,#7afbd7,#81fbc4,#99fc97,#b8fd75,#f5ff55,#f9db49,#f4b53f,#f09637,#ee7c30,#ec652b,#eb5128,#eb5127,#ec5a29,#ec682c,#ee792f,#ef8d34,#f1a23a,#f3b33e,#f4b73f,#f5bd41,#f5c343,#f6cb45,#f8d447,#f9de4a,#fbe94e,#fdf652,#faff55,#e9fe57,#d9fe5d,#d9fe5d,#d8fe5d,#d7fe5e,#d5fd5f,#d3fd60,#d1fd61,#cffd63,#cdfd64,#cbfd65,#cafd66,#c9fd67)"></i><i style="background:linear-gradient(90deg,#01079f,#020ba9,#0310b4,#0517c0,#081ece,#0920de,#0b26ea,#1132ed,#173ef1,#1f4df3,#2961f5,#3579f6,#4192f7,#4eacf8,#5ac6fa,#67dffb,#73f8fd,#77fbea,#7bfbd5,#81fbc2,#a3fc8a,#d8fe5d,#fcf050,#f6c543,#f1a23a,#ef8532,#ed6d2d,#eb5729,#eb4626,#eb4626,#eb4f27,#ec5c29,#ed6c2d,#ee7f31,#f09536,#f3ac3c,#f3b13e,#f4b63f,#f5bd41,#f6c443,#f7cd46,#f8d748,#fae24c,#fcee4f,#fefb53,#f4ff55,#dafe5c,#dafe5c,#d9fe5d,#d8fe5d,#d6fe5e,#d4fd5f,#d2fd61,#d0fd62,#cefd63,#ccfd64,#cbfd65,#cafd66)"></i><i style="background:linear-gradient(90deg,#01079e,#020ba9,#0310b4,#0517c0,#081ece,#0920df,#0c27ea,#1233ed,#183ff1,#204ff4,#2a64f5,#367cf6,#4396f7,#50b0f9,#5cc9fa,#69e3fb,#75fbfd,#77fbe7,#7cfbd2,#8efca9,#adfc80,#f4ff55,#f8d849,#f3b03d,#f09035,#ed752e,#ec5e2a,#eb4b27,#ea3d25,#ea3d25,#eb4526,#eb5027,#ec602a,#ed732e,#ef8833,#f19f39,#f2ab3c,#f3b03d,#f4b73f,#f5be41,#f6c744,#f7d046,#f9db49,#fbe64d,#fdf351,#fdff55,#ebfe57,#dbfe5c,#dafe5c,#d9fe5d,#d7fe5e,#d5fe5f,#d3fd60,#d1fd61,#cffd62,#cefd63,#ccfd64,#cbfd65)"></i><i style="background:linear-gradient(90deg,#01069e,#020aa9,#0310b4,#0518c1,#081ecf,#0920e0,#0d28ea,#1334ed,#1941f1,#2151f4,#2c67f6,#3880f7,#4599f8,#51b3f9,#5ecdfa,#6be7fc,#75fbf9,#78fbe4,#7dfbd0,#98fc99,#d5fe5f,#fcf050,#f5c242,#f19c38,#ee7e31,#ec652b,#eb5127,#ea4125,#ea3724,#ea3724,#ea3c24,#eb4726,#eb5528,#ec672c,#ee7c30,#f09235,#f2a53a,#f2ab3c,#f3b13e,#f4b840,#f5c142,#f6ca45,#f8d448,#fadf4b,#fceb4e,#fef953,#f5ff55,#dbfe5c,#dbfe5c,#dafe5d,#d8fe5d,#d6fe5e,#d4fd5f,#d3fd60,#d1fd62,#cffd63,#cdfd64,#ccfd64)"></i><i style="background:linear-gradient(90deg,#01069d,#020aa8,#0310b4,#0518c1,#081ed0,#0920e1,#0d29ea,#1335ee,#1942f2,#2253f4,#2d6af6,#3983f7,#469df8,#53b7f9,#60d2fa,#6debfc,#75fbf6,#78fbe0,#82fbc1,#a1fc8d,#f1fe56,#f8d849,#f3ad3c,#ef8a33,#ed6d2d,#eb5728,#eb4526,#ea3924,#e93323,#ea3323,#ea3724,#ea3e25,#eb4b27,#ec5c29,#ed702d,#ef8633,#f19e39,#f2a53a,#f2ab3c,#f3b33e,#f4bb40,#f6c443,#f7ce46,#f9d949,#fae44c,#fdf250,#fcff55,#e8fe57,#dbfe5c,#dafe5d,#d9fe5d,#d7fe5e,#d5fe5f,#d4fd60,#d2fd61,#d0fd62,#cffd63,#cdfd64)"></i><i style="background:linear-gradient(90deg,#01069c,#020aa8,#0310b4,#0618c2,#081ed1,#0920e3,#0d2aea,#1336ee,#1a43f2,#2356f4,#2e6cf6,#3b86f7,#48a1f8,#55bbf9,#62d6fb,#6feffc,#76fbf2,#79fbdd,#8dfcab,#cffd63,#fdf451,#f5c242,#f19a37,#ee792f,#ec5e2a,#eb4a26,#ea3c24,#ea3423,#da2f20,#dc2f20,#ea3323,#ea3924,#ea4325,#eb5228,#ec652b,#ee7b30,#f09336,#f1a039,#f2a63b,#f3ad3d,#f4b63f,#f5bf41,#f6c844,#f8d347,#f9de4b,#fceb4e,#fefa53,#f2ff55,#dbfe5c,#dafe5c,#d9fe5d,#d8fe5e,#d6fe5e,#d5fd5f,#d3fd60,#d1fd61,#d0fd62,#cefd63)"></i><i style="background:linear-gradient(90deg,#01069b,#020aa8,#0311b4,#0618c2,#081fd1,#0920e4,#0e2beb,#1437ee,#1b45f2,#2457f5,#306ff6,#3d89f7,#4aa4f8,#57bff9,#64dafb,#71f3fd,#76fbef,#7afbda,#95fc9e,#eafe57,#f9dc4a,#f3ae3d,#ef8933,#ec692c,#eb5127,#ea3f25,#ea3624,#de3021,#c92a1d,#cc2b1d,#dd3021,#ea3524,#ea3c24,#eb4a26,#ec5c29,#ed712e,#ef8833,#f19b38,#f1a139,#f2a83b,#f3b03d,#f4b940,#f5c343,#f7cd46,#f9d949,#fbe64d,#fdf451,#f9ff55,#dffe5a,#dafe5c,#d9fe5d,#d8fe5d,#d7fe5e,#d6fe5f,#d4fd60,#d2fd60,#d1fd61,#cffd63)"></i><i style="background:linear-gradient(90deg,#01059a,#020aa7,#0311b5,#0618c3,#081fd2,#0920e5,#0e2beb,#1438ef,#1b46f2,#2559f5,#3171f6,#3e8cf7,#4ca7f8,#59c3f9,#66ddfb,#73f7fd,#77fbeb,#81fbc3,#c3fd6b,#fffe54,#f6c844,#f19d38,#ee792f,#ec5c29,#eb4626,#ea3824,#e43222,#cd2b1e,#b82619,#bd271a,#d02c1e,#e53222,#ea3824,#ea4225,#eb5328,#ec672c,#ee7e31,#f09737,#f19d38,#f2a43a,#f2ac3c,#f4b53f,#f5be41,#f6c944,#f8d447,#fae14b,#fcef4f,#feff54,#eafe57,#dafe5c,#dafe5d,#d9fe5d,#d8fe5e,#d6fe5e,#d5fd5f,#d4fd60,#d2fd61,#d0fd62)"></i><i style="background:linear-gradient(90deg,#010599,#020aa7,#0311b5,#0619c3,#081fd3,#0920e6,#0f2ceb,#1538ef,#1c47f3,#265bf5,#3273f6,#3f8ef7,#4daaf8,#5bc6fa,#68e1fb,#74fafd,#77fbe9,#89fcb2,#ddfe5b,#fbe84d,#f4b63f,#ef8e34,#ed6c2d,#eb5027,#ea3d25,#ea3423,#d42d1f,#bb271a,#a52116,#ad2317,#c4291c,#da2f20,#ea3524,#ea3d24,#eb4b27,#ec5f2a,#ed752f,#ef8e34,#f09937,#f1a039,#f2a83b,#f3b03d,#f4ba40,#f6c443,#f7d046,#f9dc4a,#fbea4e,#fefb53,#f1fe56,#dafe5c,#dafe5d,#d9fe5d,#d8fe5d,#d7fe5e,#d6fe5e,#d5fd5f,#d3fd60,#d0fd62)"></i><i style="background:linear-gradient(90deg,#010598,#020aa7,#0311b5,#0619c3,#081fd4,#0920e7,#0f2deb,#1539ef,#1c48f3,#265cf5,#3375f6,#4090f7,#4eadf8,#5cc8fa,#69e3fb,#75fbfc,#77fbe6,#b0fc7c,#f1fe56,#f8d648,#f2a73b,#ee8031,#ec602a,#eb4726,#ea3824,#e03121,#c5291c,#a82216,#921c12,#9d1f14,#b72619,#cf2c1e,#e63223,#ea3824,#eb4526,#eb5729,#ed6d2d,#ef8632,#f09536,#f19c38,#f2a43a,#f3ac3c,#f4b63f,#f5c042,#f7cc45,#f9d949,#fbe74d,#fdf752,#f6ff55,#dafe5c,#dafe5d,#d9fe5d,#d9fe5d,#d8fe5d,#d7fe5e,#d6fe5f,#d3fd60,#d1fd61)"></i><i style="background:linear-gradient(90deg,#010597,#0209a6,#0311b5,#0619c4,#081fd4,#0920e8,#0f2deb,#153aef,#1d49f3,#275df5,#3376f6,#4192f7,#4faef8,#5dcafa,#6ae5fc,#75fbfa,#7cfbd1,#c9fd67,#fefc53,#f6c644,#f19a38,#ed752f,#eb5729,#ea4025,#ea3524,#d52e1f,#b82619,#971d13,#80170e,#8e1b11,#ac2317,#c62a1c,#dd3021,#ea3624,#ea4025,#eb5128,#ec672c,#ee7f31,#f09235,#f09937,#f1a139,#f2a93b,#f3b33e,#f5bd41,#f6c944,#f8d648,#fae44c,#fdf451,#f9ff55,#e2fe59,#dafe5d,#dafe5d,#d9fe5d,#d9fe5d,#d8fe5e,#d6fe5e,#d4fd5f,#d1fd61)"></i><i style="background:linear-gradient(90deg,#010497,#0209a6,#0311b5,#0619c4,#081fd5,#0920e8,#0f2eec,#163af0,#1d49f3,#275ef5,#3477f6,#4193f7,#4faff8,#5dcbfa,#6ae6fc,#75fbf9,#93fca0,#dafe5c,#fcec4f,#f4ba40,#f09035,#ed6c2d,#eb4f27,#ea3c24,#e83323,#cc2b1d,#ad2317,#8a1a10,#74140c,#82180f,#a32015,#be281b,#d62e1f,#ea3423,#ea3d24,#eb4c27,#ec612a,#ee792f,#f09035,#f09737,#f19e39,#f2a73b,#f3b03d,#f4bb40,#f6c744,#f8d447,#fae24c,#fdf150,#fbff55,#e6fe58,#dafe5d,#dafe5d,#dafe5d,#d9fe5d,#d9fe5d,#d7fe5e,#d5fd5f,#d2fd61)"></i><i style="background:linear-gradient(90deg,#010496,#0209a6,#0311b5,#0619c4,#0920d5,#0920e9,#102eec,#163af0,#1d4af3,#275ef5,#3477f6,#4193f7,#4faff8,#5dcbfa,#6ae6fc,#75fbf9,#9afc96,#defe5b,#fbe94e,#f4b73f,#ef8d34,#ed6a2c,#eb4e27,#ea3b24,#e63223,#ca2b1d,#ab2317,#871910,#74140c,#7f170e,#a12015,#bc271a,#d42d1f,#ea3423,#ea3c24,#eb4b27,#ec602a,#ed782f,#ef8f35,#f09636,#f19d38,#f2a63b,#f3af3d,#f4ba40,#f6c643,#f8d347,#fae24c,#fdf150,#fbff55,#e7fe58,#dafe5d,#dafe5d,#dafe5d,#dafe5d,#d9fe5d,#d8fe5e,#d6fe5f,#d2fd61)"></i><i style="background:linear-gradient(90deg,#010496,#0209a6,#0311b5,#0619c4,#0920d5,#0920e9,#102eec,#163af0,#1d4af3,#275ef5,#3477f6,#4192f7,#4faef8,#5dcafa,#6ae5fc,#75fbfa,#7dfbcd,#cefd63,#fef752,#f5c342,#f09737,#ed722e,#eb5428,#ea3f25,#ea3423,#d22d1f,#b42519,#921c12,#7b160d,#891a10,#a82216,#c2291b,#da2f20,#ea3524,#ea3e25,#eb4f27,#ec642b,#ee7c30,#f09035,#f09737,#f19e39,#f2a73b,#f3b03d,#f4bb40,#f6c744,#f8d548,#fae44c,#fdf451,#f9ff55,#e2fe59,#dafe5d,#dafe5d,#dafe5c,#dafe5c,#dafe5d,#d8fe5d,#d6fe5e,#d2fd60)"></i><i style="background:linear-gradient(90deg,#010496,#0209a6,#0311b5,#0619c4,#0920d5,#0920e9,#102eec,#163af0,#1d49f3,#275df5,#3376f6,#4091f7,#4eacf8,#5bc8fa,#69e2fb,#75fbfd,#77fbe7,#b7fd75,#f6ff55,#f7d147,#f1a33a,#ee7d30,#ec5d2a,#eb4526,#ea3724,#dc2f21,#c0281b,#a22015,#8c1a11,#971d13,#b22418,#cb2b1d,#e13122,#ea3724,#ea4225,#eb5428,#ec6a2c,#ee8231,#f09235,#f09837,#f1a039,#f2a83b,#f3b23e,#f5bd41,#f6ca44,#f8d849,#fbe74d,#fef752,#f5ff55,#d9fe5d,#d9fe5d,#dafe5d,#dbfe5c,#dbfe5c,#dafe5c,#d9fe5d,#d7fe5e,#d3fd60)"></i><i style="background:linear-gradient(90deg,#010496,#0209a6,#0311b5,#0619c4,#0920d5,#0920e9,#102eec,#163aef,#1d49f3,#265cf5,#3274f6,#3f8ef7,#4ca9f8,#5ac4fa,#67dffb,#73f8fd,#77fbe9,#8afcb0,#e3fe59,#fae34c,#f3b23e,#ef8933,#ec682c,#eb4d27,#ea3b24,#e83323,#ce2c1e,#b42519,#9d1f14,#a52116,#bd271a,#d42d1f,#ea3323,#ea3a24,#eb4826,#ec5a29,#ed712e,#ef8933,#f09436,#f19b38,#f1a23a,#f2ab3c,#f4b43f,#f5c042,#f7cd45,#f9db4a,#fbea4e,#fefc53,#f0fe56,#d9fe5d,#d9fe5d,#dafe5d,#dbfe5c,#dbfe5c,#dbfe5c,#d9fe5d,#d7fe5e,#d3fd60)"></i><i style="background:linear-gradient(90deg,#010496,#0209a6,#0311b5,#0619c4,#0920d5,#0920e9,#0f2eec,#153aef,#1c48f3,#265bf5,#3172f6,#3e8bf7,#4ba6f8,#58c0f9,#65dafb,#71f4fd,#76fbed,#82fbc0,#cafd66,#fef852,#f5c343,#f09837,#ed752e,#eb5829,#ea4225,#ea3624,#de3021,#c5291c,#af2418,#b52519,#c92a1d,#de3021,#ea3624,#ea3f25,#eb4e27,#ec622b,#ee792f,#f09135,#f09737,#f19e38,#f2a53a,#f3ae3d,#f4b83f,#f5c343,#f7d046,#fadf4b,#fcef50,#fdff55,#eafe57,#d9fe5d,#d9fe5d,#dafe5d,#dbfe5c,#dbfe5c,#dbfe5c,#d9fe5d,#d7fe5e,#d3fd60)"></i><i style="background:linear-gradient(90deg,#010496,#0209a6,#0311b5,#0619c4,#081fd5,#0920e8,#0f2deb,#1539ef,#1c47f3,#2559f5,#306ff6,#3c88f7,#49a1f8,#55bbf9,#62d5fb,#6feffc,#76fbf2,#79fbdc,#96fc9c,#f0fe56,#f8d748,#f2a93b,#ee8432,#ec652b,#eb4d27,#ea3c24,#ea3423,#d62e1f,#c1281b,#c4291c,#d52e1f,#e93323,#ea3924,#eb4526,#eb5628,#ed6b2c,#ee8231,#f09636,#f19b38,#f1a239,#f2a93b,#f3b23e,#f4bc41,#f6c744,#f8d548,#fae44c,#fdf451,#f8ff55,#e0fe5a,#d8fe5d,#d9fe5d,#dafe5d,#dafe5c,#dbfe5c,#dafe5c,#d9fe5d,#d7fe5e,#d3fd60)"></i><i style="background:linear-gradient(90deg,#010496,#0209a6,#0311b5,#0619c4,#081fd4,#0920e7,#0f2deb,#1538ef,#1b45f2,#2457f5,#2e6cf6,#3a84f7,#469df8,#53b6f9,#5fcffa,#6ce9fc,#75fbf7,#78fbe1,#8dfcaa,#d5fd5f,#fcee4f,#f5bd41,#f09536,#ed752e,#ec5a29,#eb4626,#ea3924,#e73223,#d12d1e,#d32d1f,#e23122,#ea3624,#ea3e25,#eb4d27,#ec5f2a,#ed742e,#ef8c34,#f19a37,#f1a039,#f2a63b,#f3ae3d,#f4b63f,#f5c042,#f7cc45,#f9da49,#fbe94e,#fefb53,#f1fe56,#d8fe5d,#d8fe5e,#d8fe5d,#d9fe5d,#dafe5d,#dafe5c,#dafe5c,#d9fe5d,#d6fe5e,#d2fd61)"></i><i style="background:linear-gradient(90deg,#010496,#0209a5,#0310b4,#0619c3,#081fd3,#0920e6,#0e2ceb,#1437ef,#1a44f2,#2355f4,#2d69f6,#387ff7,#4497f7,#50b0f9,#5cc9fa,#69e2fb,#75fbfc,#77fbe6,#83fbbe,#a1fc8d,#f6ff55,#f8d347,#f2a93b,#ef8632,#ec692c,#eb5228,#ea4125,#ea3624,#e13122,#e13122,#ea3424,#ea3a24,#eb4626,#eb5628,#ec692c,#ee7f31,#f09737,#f19f39,#f2a53a,#f2ab3c,#f3b33e,#f4bc41,#f6c643,#f8d247,#fae04b,#fcf050,#fcff55,#e8fe58,#d7fe5e,#d7fe5e,#d8fe5e,#d9fe5d,#d9fe5d,#dafe5d,#d9fe5d,#d8fe5d,#d6fe5f,#d2fd61)"></i><i style="background:linear-gradient(90deg,#010496,#0209a5,#0310b4,#0618c3,#081fd2,#0920e5,#0e2beb,#1436ee,#1a42f2,#2152f4,#2b65f5,#357bf6,#4192f7,#4daaf8,#59c2f9,#65dcfb,#72f5fd,#77fbeb,#7bfbd5,#98fc9a,#dafe5d,#fced4f,#f5be41,#f09937,#ee7b30,#ec612a,#eb4c27,#ea3d25,#ea3524,#ea3524,#ea3924,#ea4125,#eb4f27,#ec602a,#ed752e,#ef8b34,#f19f39,#f2a43a,#f2aa3c,#f3b13e,#f4b940,#f5c242,#f7cc45,#f8d849,#fbe74d,#fef852,#f4ff55,#d8fe5e,#d7fe5e,#d6fe5e,#d7fe5e,#d8fe5e,#d8fe5d,#d9fe5d,#d8fe5d,#d7fe5e,#d5fd5f,#d1fd62)"></i><i style="background:linear-gradient(90deg,#010496,#0209a5,#0310b3,#0618c2,#081fd1,#0920e3,#0d2aea,#1335ee,#1941f1,#204ff4,#2961f5,#3376f6,#3e8cf7,#49a3f8,#55bbf9,#62d5fb,#6feffc,#76fbf1,#7afbda,#8dfcab,#abfc82,#f6ff55,#f8d648,#f3ae3d,#ef8d34,#ed712e,#ec5a29,#eb4726,#ea3924,#ea3924,#ea3f25,#eb4a26,#ec5929,#ed6c2d,#ee8131,#f09837,#f2a63a,#f2ab3c,#f3b03d,#f4b73f,#f5bf41,#f6c844,#f8d347,#fae04b,#fcef4f,#feff54,#eafe57,#d6fe5e,#d6fe5f,#d5fe5f,#d6fe5f,#d6fe5e,#d7fe5e,#d7fe5e,#d7fe5e,#d6fe5f,#d3fd60,#cffd62)"></i><i style="background:linear-gradient(90deg,#010496,#0209a5,#030fb3,#0518c1,#081ed0,#0920e1,#0d28ea,#1234ed,#183ff1,#1f4df3,#275ef5,#3171f6,#3b86f7,#469cf8,#52b4f9,#5ecdfa,#6be8fc,#75fbf7,#78fbe0,#7efbcb,#a0fc8e,#dafe5d,#fcf050,#f6c543,#f1a139,#ee8332,#ec692c,#eb5328,#ea4225,#ea4125,#eb4926,#eb5528,#ec662b,#ee792f,#ef8e35,#f2a63b,#f3ac3c,#f3b13e,#f4b73f,#f5be41,#f6c644,#f7d046,#f9db4a,#fbe84d,#fef852,#f5ff55,#dafe5d,#d5fd5f,#d4fd5f,#d4fd5f,#d4fd5f,#d5fd5f,#d5fe5f,#d6fe5f,#d5fd5f,#d4fd60,#d1fd61,#cefd63)"></i><i style="background:linear-gradient(90deg,#010496,#0209a4,#030fb2,#0517c0,#081ecf,#0920df,#0c27ea,#1232ed,#173df0,#1d4af3,#255af5,#2e6cf6,#3880f7,#4396f7,#4eadf8,#5bc6fa,#68e0fb,#75fbfd,#77fbe6,#7cfbd1,#95fc9e,#b2fc7a,#f3ff55,#f9dd4a,#f4b73f,#f09636,#ee7a30,#ec612a,#eb4d27,#eb4c27,#eb5428,#ec622b,#ed732e,#ef8733,#f19d38,#f3af3d,#f3b43e,#f4b940,#f5bf41,#f6c644,#f7cf46,#f8d849,#fae44c,#fdf250,#fcff55,#e9fe57,#d5fe5f,#d4fd60,#d3fd60,#d3fd60,#d3fd60,#d3fd60,#d3fd60,#d3fd60,#d3fd60,#d2fd61,#cffd62,#ccfd65)"></i><i style="background:linear-gradient(90deg,#010496,#0208a3,#030eb1,#0516be,#081dcd,#0920dd,#0b25ea,#1130ec,#163bf0,#1c47f3,#2356f4,#2c67f6,#357bf6,#4090f7,#4ba6f8,#57bff9,#64d9fb,#71f4fd,#76fbec,#7bfbd6,#88fcb4,#a7fc86,#d6fe5e,#fef752,#f7cd46,#f2aa3c,#ef8c34,#ed712e,#ec5a29,#eb5929,#ec622b,#ed702e,#ee8231,#f09636,#f3ac3c,#f4b73f,#f4bc41,#f5c142,#f6c844,#f7cf46,#f8d849,#fae24c,#fcee4f,#fffd54,#f1fe56,#d5fd5f,#d3fd60,#d2fd61,#d1fd61,#d1fd61,#d1fd61,#d1fd61,#d1fd61,#d1fd61,#d0fd62,#cffd63,#cdfd64,#c9fd66)"></i><i style="background:linear-gradient(90deg,#010495,#0108a2,#030eb0,#0515bd,#071ccb,#0920db,#0a23e9,#102fec,#1539ef,#1a44f2,#2152f4,#2962f5,#3375f6,#3d89f7,#48a0f8,#54b8f9,#61d2fa,#6eedfc,#76fbf3,#79fbdd,#7ffbc9,#9bfc95,#b7fd75,#edfe56,#fbe54d,#f5bf42,#f19f39,#ee8232,#ec692c,#ec672c,#ed712e,#ee8031,#f09235,#f2a63b,#f4bc41,#f5c042,#f6c543,#f6ca45,#f7d147,#f9d949,#fae24c,#fcec4f,#fef953,#f6ff55,#e4fe59,#d3fd60,#d1fd61,#d0fd62,#cffd63,#cefd63,#cefd63,#cefd63,#cefd63,#cefd63,#cdfd64,#ccfd65,#cafd66,#c7fd68)"></i><i style="background:linear-gradient(90deg,#010494,#0108a1,#020dae,#0414bb,#071cc9,#0920d8,#0920e9,#0f2deb,#1437ee,#1941f1,#204ef4,#275ef5,#3070f6,#3a84f7,#4599f8,#50b2f9,#5dcbfa,#6ae5fc,#75fbf9,#78fbe3,#7dfbcf,#8efca9,#acfc81,#d2fd61,#ffff54,#f8d648,#f3b33e,#f09536,#ee7a30,#ed782f,#ee8232,#f09135,#f1a33a,#f4b83f,#f6c543,#f6c944,#f7ce46,#f8d447,#f9db4a,#fae34c,#fced4f,#fef852,#f9ff55,#e9fe57,#d2fd61,#d0fd62,#cffd63,#cdfd63,#cdfd64,#ccfd64,#ccfd65,#cbfd65,#cbfd65,#cbfd65,#cafd66,#c8fd67,#c6fd68,#c3fd6b)"></i><i style="background:linear-gradient(90deg,#010494,#0107a0,#020cad,#0413ba,#071bc7,#0920d6,#0920e7,#0e2beb,#1335ee,#183ff1,#1e4bf3,#2559f5,#2d6bf6,#377ef6,#4293f7,#4dabf8,#5ac4fa,#66defb,#73f8fd,#77fbea,#7bfbd6,#81fbc3,#a0fc8f,#bbfd71,#e8fe58,#fced4f,#f6c844,#f2a83b,#ef8c34,#ef8a33,#f09436,#f1a33a,#f4b53f,#f6cb45,#f7cf46,#f8d347,#f8d849,#f9de4b,#fbe64d,#fcef4f,#fef953,#faff55,#ecfe56,#d8fe5d,#cffd63,#cdfd63,#ccfd64,#cbfd65,#cafd66,#c9fd66,#c9fd67,#c8fd67,#c8fd67,#c7fd68,#c6fd69,#c5fd6a,#c3fd6b,#c0fd6d)"></i><i style="background:linear-gradient(90deg,#010493,#01079f,#020cab,#0412b8,#061ac5,#081fd3,#0920e3,#0d28ea,#1232ed,#173cf0,#1c47f3,#2355f4,#2b66f5,#3478f6,#3f8df7,#4aa4f8,#56bdf9,#63d7fb,#6ff0fc,#76fbf1,#79fbdc,#7ffbca,#92fca2,#affc7d,#cdfd64,#f8ff55,#f9df4b,#f5bd41,#f1a039,#f19d38,#f2a73b,#f4b63f,#f6c844,#f8d648,#f9d949,#f9de4a,#fae34c,#fbea4e,#fdf250,#fefb53,#f9ff55,#edfe56,#ddfe5b,#ccfd64,#ccfd65,#cafd65,#c9fd66,#c8fd67,#c7fd68,#c6fd68,#c6fd69,#c5fd69,#c4fd6a,#c3fd6b,#c2fd6c,#c1fd6d,#bffd6e,#bdfd70)"></i><i style="background:linear-gradient(90deg,#010392,#01069e,#020baa,#0311b6,#0619c3,#081ed0,#0920e0,#0b26ea,#1130ec,#153aef,#1b44f2,#2151f4,#2961f5,#3273f6,#3c87f7,#479ef8,#53b6f9,#5fcffa,#6be8fc,#75fbf9,#78fbe4,#7cfbd0,#83fbbf,#a3fc8b,#befd6f,#e2fe59,#fdf752,#f8d347,#f4b43f,#f3b13e,#f4bb40,#f6ca45,#f9de4a,#fae14b,#fae44c,#fbe94e,#fcef4f,#fdf652,#fffe54,#f7ff55,#ecfe56,#defe5b,#cafd66,#c9fd67,#c8fd67,#c7fd68,#c6fd68,#c5fd69,#c4fd6a,#c3fd6b,#c3fd6b,#c2fd6c,#c1fd6d,#bffd6e,#befd6f,#bdfd70,#bbfd72,#b9fd73)"></i><i style="background:linear-gradient(90deg,#010391,#01069c,#020aa8,#0310b4,#0517c1,#081ece,#0920dd,#0a23e9,#102eec,#1437ef,#1941f1,#1f4df3,#265cf5,#2f6df6,#3981f7,#4397f7,#4faff8,#5bc7fa,#67e0fb,#73f8fd,#77fbeb,#7afbd8,#80fbc6,#95fc9e,#b1fc7b,#cafd66,#f1fe56,#fbea4e,#f6ca45,#f6c744,#f7d147,#fae04b,#fbeb4e,#fced4f,#fcf050,#fdf551,#fefb53,#fcff55,#f4ff55,#eafe57,#defe5b,#c8fd67,#c6fd69,#c5fd69,#c5fd6a,#c4fd6a,#c3fd6b,#c2fd6b,#c1fd6c,#c0fd6d,#bffd6e,#befd6f,#bdfd70,#bcfd71,#bafd72,#b9fd74,#b7fd75,#b6fd77)"></i><i style="background:linear-gradient(90deg,#010390,#01069b,#020aa7,#030fb2,#0516be,#071dcb,#0920d9,#0920e9,#0e2beb,#1335ee,#183ef1,#1d49f3,#2457f5,#2c68f6,#367bf6,#4091f7,#4ba7f8,#57bff9,#63d7fb,#6feffc,#76fbf3,#79fbdf,#7efbcd,#84fcbc,#a4fc8a,#befd6f,#dafe5d,#fcff55,#fae14b,#f9de4a,#fbe84d,#fef752,#fef852,#fefa53,#fffd54,#fcff55,#f7ff55,#f0fe56,#e7fe58,#dcfe5c,#cbfd65,#c2fd6c,#c2fd6c,#c2fd6c,#c1fd6c,#c1fd6d,#c0fd6d,#bffd6e,#befd6f,#bdfd70,#bcfd71,#bbfd72,#b9fd73,#b8fd74,#b6fd76,#b5fd77,#b3fd79,#b2fc7a)"></i><i style="background:linear-gradient(90deg,#01038f,#01059a,#0209a5,#030eb1,#0515bc,#071bc9,#0920d6,#0920e5,#0d29ea,#1232ed,#163bf0,#1b46f2,#2253f4,#2a63f5,#3375f6,#3d8af7,#48a0f8,#53b7f9,#5fcefa,#6ae6fc,#75fbfc,#77fbe7,#7bfbd4,#81fbc3,#96fc9d,#b1fc7c,#c8fd67,#e6fe58,#fef953,#fdf652,#feff54,#faff55,#faff55,#f8ff55,#f5ff55,#f0fe56,#eafe57,#e3fe59,#d9fe5d,#cafd65,#befd6f,#befd6f,#befd6f,#befd6f,#befd6f,#bdfd70,#bdfd70,#bcfd70,#bbfd71,#bafd72,#b9fd73,#b7fd75,#b6fd76,#b4fd78,#b3fd7a,#b1fc7b,#b0fc7c,#affc7e)"></i><i style="background:linear-gradient(90deg,#01038e,#010599,#0208a4,#030eaf,#0414ba,#061ac6,#081fd3,#0920e1,#0c26ea,#1030ec,#1538ef,#1a42f2,#204ef4,#275df5,#306ff6,#3983f7,#4498f7,#4faff8,#5ac5fa,#66dcfb,#71f3fd,#76fbf0,#79fbdc,#7efbcb,#85fcbb,#a3fc8b,#bbfd72,#d0fd62,#eefe56,#f1fe56,#ecfe56,#eefe56,#edfe56,#ecfe57,#e9fe57,#e4fe59,#ddfe5b,#d4fd5f,#c8fd68,#bbfd72,#bbfd72,#bafd72,#bafd72,#bafd73,#bafd73,#bafd73,#bafd73,#b9fd73,#b8fd74,#b7fd75,#b6fd76,#b4fd78,#b3fc7a,#b1fc7b,#affc7d,#aefc7f,#acfc80,#abfc81)"></i><i style="background:linear-gradient(90deg,#00038d,#010598,#0108a3,#020dae,#0413b9,#0619c4,#081ed0,#0920de,#0a23e9,#0f2deb,#1336ee,#183ff1,#1d4af3,#2458f5,#2d69f6,#367cf6,#4090f7,#4ba6f8,#56bcf9,#61d3fa,#6ceafc,#75fbf9,#78fbe5,#7cfbd3,#81fbc2,#94fc9f,#adfc7f,#c2fd6c,#d7fe5e,#dcfe5c,#dffe5a,#e1fe5a,#e1fe5a,#dffe5a,#dbfe5c,#d6fe5e,#cefd63,#c3fd6b,#b6fd76,#b7fd76,#b7fd76,#b6fd76,#b6fd76,#b6fd76,#b6fd76,#b7fd76,#b7fd76,#b6fd76,#b6fd77,#b4fd78,#b3fd79,#b1fc7b,#affc7d,#aefc7f,#acfc81,#aafc82,#a9fc84,#a8fc85)"></i><i style="background:linear-gradient(90deg,#00038c,#010597,#0108a2,#020cac,#0412b7,#0618c2,#081dcd,#0920da,#0920e9,#0e2aeb,#1233ed,#163cf0,#1b46f2,#2253f4,#2a63f5,#3275f6,#3c88f7,#469df8,#51b3f9,#5cc9fa,#67e0fb,#72f6fd,#76fbee,#79fbdb,#7efbcb,#84fbbc,#9ffc91,#b4fd78,#c7fd68,#cefd63,#d2fd61,#d3fd60,#d3fd60,#d1fd61,#cdfd64,#c7fd68,#bcfd70,#b2fc7a,#b2fc7a,#b3fd79,#b3fd79,#b3fd79,#b3fd7a,#b3fd79,#b3fd79,#b3fd79,#b3fd79,#b3fd79,#b3fd7a,#b2fc7b,#b0fc7c,#aefc7e,#adfc80,#abfc82,#a9fc84,#a7fc86,#a6fc87,#a5fc88)"></i><i style="background:linear-gradient(90deg,#00038c,#010496,#0107a1,#020cab,#0311b5,#0517c0,#071ccb,#0920d7,#0920e5,#0c27ea,#1130ec,#1539ef,#1942f2,#1f4ef4,#265cf5,#2f6df6,#3880f7,#4294f7,#4ca9f8,#57bff9,#62d5fb,#6decfc,#75fbf7,#78fbe4,#7cfbd3,#80fbc5,#8ffca7,#a6fc87,#b9fd74,#c0fd6d,#c3fd6b,#c5fd69,#c4fd6a,#c2fd6c,#bdfd70,#b3fd79,#adfc80,#aefc7e,#affc7e,#affc7d,#affc7d,#affc7d,#affc7d,#affc7d,#b0fc7d,#b0fc7c,#b0fc7c,#b0fc7c,#b0fc7c,#affc7d,#aefc7f,#acfc81,#aafc83,#a8fc85,#a6fc87,#a5fc89,#a4fc8a,#a3fc8b)"></i><i style="background:linear-gradient(90deg,#00028c,#010496,#0107a0,#020baa,#0310b4,#0516be,#071bc8,#081fd4,#0920e1,#0b24e9,#0f2eeb,#1336ee,#183ef1,#1d49f3,#2356f4,#2b66f5,#3478f6,#3e8bf7,#48a0f8,#52b5f9,#5dcbfa,#68e1fb,#73f7fd,#76fbee,#79fbdd,#7dfbce,#82fbc1,#97fc9b,#aafc82,#b2fc7b,#b5fd77,#b6fd76,#b5fd77,#b1fc7b,#a6fc88,#a7fc87,#a8fc84,#aafc83,#abfc82,#abfc81,#abfc81,#abfc81,#abfc81,#acfc81,#acfc80,#adfc7f,#adfc7f,#aefc7f,#adfc7f,#acfc80,#abfc82,#a9fc83,#a8fc85,#a6fc87,#a4fc89,#a3fc8b,#a1fc8d,#a1fc8e)"></i><i style="background:linear-gradient(90deg,#00028c,#010496,#01079f,#020ba9,#030fb3,#0515bc,#061ac6,#081fd1,#0920dd,#0921e9,#0e2beb,#1233ed,#163bf0,#1b44f2,#2050f4,#285ff5,#3070f6,#3982f7,#4396f7,#4dabf8,#58c0f9,#63d7fb,#6eecfc,#75fbf8,#77fbe6,#7afbd7,#7efbca,#87fcb7,#9cfc94,#a3fc8b,#a5fc88,#a5fc88,#a2fc8c,#9cfc93,#a0fc8f,#a2fc8c,#a4fc89,#a6fc88,#a7fc86,#a7fc86,#a8fc85,#a8fc85,#a8fc85,#a8fc84,#a9fc84,#aafc83,#aafc82,#abfc82,#abfc82,#aafc83,#a9fc84,#a7fc86,#a5fc88,#a4fc8a,#a2fc8c,#a1fc8e,#9ffc8f,#9efc91)"></i><i style="background:linear-gradient(90deg,#00028c,#010495,#01079f,#020aa8,#030fb1,#0414ba,#0619c4,#081ece,#0920d9,#0920e6,#0c27ea,#1030ec,#1437ef,#1840f1,#1e4bf3,#2458f5,#2c67f6,#3579f6,#3e8cf7,#48a0f8,#53b6f9,#5dccfa,#68e1fb,#72f6fd,#76fbf0,#78fbe1,#7bfbd4,#7ffbc8,#8cfcac,#93fca1,#94fca0,#90fca6,#94fc9f,#98fc9a,#9bfc95,#9efc92,#a0fc8f,#a2fc8c,#a3fc8b,#a4fc8a,#a4fc8a,#a4fc89,#a5fc89,#a5fc88,#a6fc87,#a7fc86,#a7fc86,#a8fc85,#a8fc85,#a7fc86,#a6fc87,#a5fc89,#a3fc8a,#a2fc8c,#a0fc8f,#9ffc90,#9dfc92,#9cfc93)"></i><i style="background:linear-gradient(90deg,#00028c,#010495,#01079e,#020aa7,#030eb0,#0413b9,#0618c2,#071dcb,#0920d6,#0920e1,#0b24e9,#0f2ceb,#1334ee,#163cf0,#1b45f2,#2151f4,#285ff5,#3070f6,#3982f7,#4396f7,#4dabf8,#58c1f9,#63d6fb,#6debfc,#75fbfb,#77fbeb,#79fbde,#7cfbd2,#7ffbc7,#83fbbe,#87fcb5,#8bfcad,#8ffca7,#93fca1,#96fc9c,#99fc97,#9cfc94,#9efc92,#9ffc90,#a0fc8f,#a0fc8e,#a1fc8e,#a1fc8d,#a2fc8c,#a3fc8b,#a4fc8a,#a4fc89,#a5fc88,#a5fc88,#a5fc89,#a4fc8a,#a3fc8b,#a1fc8d,#a0fc8f,#9efc91,#9dfc93,#9bfc95,#9afc96)"></i><i style="background:linear-gradient(90deg,#00038c,#010495,#01069e,#020aa7,#030eaf,#0412b7,#0517c0,#071cc9,#081fd2,#0920dd,#0920e9,#0d29ea,#1131ec,#1538ef,#1940f1,#1e4bf3,#2458f5,#2c67f6,#3479f6,#3e8cf7,#48a0f8,#53b6f9,#5dcbfa,#67e0fb,#70f2fc,#75fbf6,#77fbe8,#79fbdc,#7cfbd1,#80fbc7,#83fbbe,#87fcb6,#8bfcae,#8ffca8,#92fca2,#95fc9e,#98fc9a,#9afc97,#9bfc95,#9cfc94,#9dfc93,#9dfc92,#9efc91,#9efc91,#9ffc8f,#a0fc8e,#a1fc8d,#a2fc8c,#a2fc8c,#a2fc8c,#a1fc8d,#a0fc8e,#9ffc90,#9efc91,#9cfc93,#9bfc95,#9afc97,#99fc99)"></i><i style="background:linear-gradient(90deg,#00038c,#010495,#01069e,#0209a6,#020dae,#0311b6,#0516be,#061ac6,#081ecf,#0920d9,#0920e4,#0b25ea,#0f2deb,#1334ee,#173cf0,#1b45f2,#2151f4,#285ff5,#306ff6,#3982f7,#4396f7,#4dabf8,#58c0f9,#62d4fa,#6be7fc,#73f8fd,#76fbf2,#77fbe6,#7afbdb,#7cfbd0,#80fbc7,#83fbbe,#87fcb6,#8afcb0,#8efcaa,#91fca4,#93fca0,#96fc9d,#97fc9a,#99fc99,#99fc98,#9afc97,#9afc96,#9bfc95,#9cfc94,#9dfc92,#9efc91,#9ffc90,#a0fc8f,#a0fc8f,#9ffc90,#9efc91,#9dfc92,#9cfc94,#9afc96,#99fc98,#98fc9a,#97fc9b)"></i><i style="background:linear-gradient(90deg,#00038c,#010495,#01069d,#0209a5,#020dad,#0311b5,#0515bc,#0619c4,#071dcc,#0920d5,#0920e0,#0921e9,#0d2aea,#1131ec,#1538ef,#1940f1,#1d4af3,#2457f4,#2b66f5,#3478f6,#3e8bf7,#48a0f8,#52b5f9,#5cc9fa,#65dbfb,#6decfc,#75fbfd,#76fbf0,#78fbe5,#7afbda,#7dfbd0,#80fbc7,#83fbbf,#86fcb7,#8afcb1,#8dfcab,#8ffca7,#92fca3,#94fca0,#95fc9e,#96fc9d,#96fc9c,#97fc9b,#98fc9a,#99fc98,#9afc97,#9bfc95,#9cfc94,#9dfc93,#9dfc93,#9cfc93,#9cfc94,#9bfc95,#9afc97,#98fc99,#97fc9b,#96fc9d,#95fc9e)"></i><i style="background:linear-gradient(90deg,#00038d,#010495,#01069d,#0209a5,#020cac,#0310b3,#0414ba,#0618c2,#071cca,#081fd2,#0920db,#0920e6,#0b26ea,#0f2deb,#1334ee,#163bf0,#1b44f2,#2050f4,#275ef5,#2f6ef6,#3981f7,#4295f7,#4ca9f8,#56bdf9,#5fd0fa,#68e0fb,#6ff0fc,#75fbfb,#76fbef,#78fbe4,#7afbd9,#7dfbd0,#7ffbc7,#83fbc0,#86fcb9,#89fcb3,#8bfcad,#8efca9,#90fca6,#91fca4,#92fca2,#93fca1,#94fca0,#94fc9f,#96fc9d,#97fc9b,#98fc99,#99fc98,#9afc97,#9afc97,#9afc97,#99fc98,#99fc99,#98fc9a,#96fc9c,#95fc9e,#94fca0,#93fca2)"></i><i style="background:linear-gradient(90deg,#00038d,#010495,#01069d,#0209a4,#020cab,#030fb2,#0413b9,#0517c0,#061bc7,#081ece,#0920d7,#0920e1,#0921e9,#0d29ea,#1130ec,#1437ef,#183ff1,#1d49f3,#2356f4,#2b65f5,#3477f6,#3d8bf7,#479ef8,#51b2f9,#5ac4fa,#62d5fb,#69e4fb,#70f2fc,#75fbf9,#76fbee,#78fbe3,#7afbd9,#7cfbd0,#7ffbc8,#82fbc1,#85fcba,#88fcb5,#8afcb0,#8cfcac,#8efcaa,#8ffca8,#8ffca7,#90fca5,#91fca4,#92fca2,#93fca0,#95fc9e,#96fc9d,#97fc9c,#97fc9b,#97fc9b,#97fc9b,#96fc9c,#95fc9d,#94fc9f,#93fca1,#92fca3,#90fca5)"></i><i style="background:linear-gradient(90deg,#00038d,#010495,#01069c,#0208a3,#020baa,#030eb1,#0412b7,#0516be,#0619c4,#071dcb,#081fd3,#0920dc,#0920e6,#0b25ea,#0f2deb,#1233ed,#163bf0,#1a43f2,#204ff4,#275df5,#2f6ef6,#3880f7,#4294f7,#4ba7f8,#54b9f9,#5cc9fa,#64d9fb,#6be7fc,#71f4fd,#75fbf8,#76fbed,#78fbe3,#7afbd9,#7cfbd1,#7ffbc9,#82fbc2,#84fcbc,#87fcb7,#88fcb3,#8afcb0,#8bfcae,#8cfcac,#8dfcab,#8efca9,#8ffca7,#90fca5,#91fca3,#92fca2,#93fca0,#94fca0,#94fc9f,#94fca0,#93fca0,#93fca1,#92fca3,#91fca5,#8ffca7,#8efca9)"></i><i style="background:linear-gradient(90deg,#00038d,#010495,#01069c,#0108a3,#020ba9,#030eaf,#0311b5,#0415bc,#0618c2,#071bc8,#081ecf,#0920d7,#0920e0,#0921e9,#0d29ea,#1030ec,#1436ee,#183ef1,#1d48f3,#2355f4,#2b65f5,#3376f6,#3d89f7,#469cf8,#4eadf8,#57bef9,#5ecdfa,#65dcfb,#6ce9fc,#72f6fd,#75fbf7,#76fbec,#78fbe2,#7afbda,#7cfbd1,#7efbca,#81fbc4,#83fbbe,#85fcba,#87fcb7,#88fcb5,#89fcb3,#89fcb1,#8afcaf,#8cfcad,#8dfcab,#8efca9,#8ffca7,#90fca6,#90fca5,#91fca4,#91fca4,#90fca5,#90fca6,#8ffca7,#8efca9,#8dfcab,#8cfcad)"></i><i style="background:linear-gradient(90deg,#00038d,#010494,#01069b,#0108a2,#020aa8,#020dae,#0310b4,#0413ba,#0517bf,#061ac6,#071dcc,#081fd3,#0920db,#0920e5,#0b24e9,#0e2ceb,#1233ed,#153aef,#1a43f2,#1f4ef4,#275df5,#2f6df6,#387ff7,#4091f7,#49a2f8,#51b3f9,#59c2f9,#60d1fa,#67defb,#6debfc,#73f8fd,#75fbf6,#76fbec,#78fbe3,#7afbda,#7cfbd2,#7efbcc,#80fbc6,#82fbc2,#83fbbe,#84fcbb,#85fcb9,#86fcb8,#87fcb6,#88fcb3,#89fcb1,#8bfcaf,#8cfcad,#8dfcac,#8dfcaa,#8dfcaa,#8efcaa,#8dfcaa,#8dfcab,#8cfcac,#8bfcad,#8afcaf,#89fcb2)"></i><i style="background:linear-gradient(90deg,#00038c,#010494,#01059b,#0107a1,#020aa7,#020cad,#030fb2,#0412b8,#0516bd,#0619c3,#071cc9,#081ed0,#0920d7,#0920df,#0920e9,#0d28ea,#102fec,#1436ee,#173ef1,#1c48f3,#2355f4,#2a64f5,#3375f6,#3b87f7,#4498f7,#4ca8f8,#53b7f9,#5ac6fa,#61d4fa,#68e1fb,#6eedfc,#74f9fd,#76fbf5,#76fbec,#78fbe3,#79fbdb,#7bfbd4,#7dfbce,#7ffbc9,#80fbc6,#81fbc3,#82fbc1,#83fbbe,#84fbbc,#85fcba,#86fcb8,#87fcb6,#88fcb4,#89fcb2,#8afcb1,#8afcb0,#8afcb0,#8afcb0,#8afcb0,#89fcb1,#89fcb3,#88fcb5,#86fcb7)"></i><i style="background:linear-gradient(90deg,#00028c,#010493,#01059a,#0107a0,#0209a6,#020cab,#030eb1,#0311b6,#0414bb,#0517c1,#061ac6,#071dcc,#081fd3,#0920db,#0920e4,#0b24e9,#0e2beb,#1233ed,#153aef,#1a43f2,#204ef4,#275df5,#2e6cf6,#377df6,#3f8df7,#479df8,#4eadf8,#55bbf9,#5cc9fa,#62d6fb,#69e3fb,#6feefc,#74fafd,#76fbf5,#76fbec,#78fbe4,#79fbdd,#7bfbd7,#7cfbd2,#7dfbce,#7efbcb,#7ffbc8,#80fbc6,#81fbc4,#82fbc1,#83fbbf,#84fbbd,#85fcbb,#86fcb9,#86fcb8,#87fcb7,#87fcb6,#87fcb6,#87fcb7,#86fcb8,#86fcb9,#85fcbb,#84fbbd)"></i><i style="background:linear-gradient(90deg,#00028b,#010492,#010599,#01079f,#0209a5,#020baa,#030eaf,#0310b4,#0413b9,#0516be,#0619c4,#071cc9,#081ecf,#0920d7,#0920df,#0920e9,#0d28ea,#102fec,#1436ee,#183ff1,#1d49f3,#2355f4,#2a64f5,#3274f6,#3a84f7,#4293f7,#49a2f8,#50b1f9,#57bef9,#5dccfa,#64d8fb,#69e4fb,#6feffc,#74fafd,#75fbf6,#76fbed,#77fbe6,#78fbe0,#7afbdb,#7bfbd6,#7cfbd3,#7cfbd0,#7dfbce,#7efbcb,#7ffbc9,#80fbc7,#81fbc4,#81fbc2,#82fbc1,#83fbbf,#83fbbe,#83fbbe,#83fbbe,#83fbbe,#83fbbf,#82fbc0,#82fbc2,#81fbc4)"></i><i style="background:linear-gradient(90deg,#00028a,#010391,#010598,#01069d,#0208a3,#020aa8,#020dad,#030fb2,#0412b7,#0515bc,#0518c1,#061ac6,#071dcc,#081fd3,#0920db,#0920e4,#0b24e9,#0f2ceb,#1233ed,#163bf0,#1a44f2,#204ff4,#275df5,#2e6bf6,#357bf6,#3d8af7,#4498f7,#4ba7f8,#52b4f9,#58c1f9,#5fcefa,#64dafb,#6ae5fc,#6ff0fc,#74f9fd,#75fbf7,#76fbf0,#77fbe9,#78fbe4,#78fbe0,#79fbdc,#7afbd9,#7bfbd6,#7bfbd4,#7cfbd1,#7dfbcf,#7efbcd,#7efbcb,#7ffbc9,#7ffbc7,#80fbc6,#80fbc6,#80fbc6,#80fbc6,#80fbc7,#7ffbc8,#7ffbc9,#7efbcb)"></i><i style="background:linear-gradient(90deg,#000289,#010390,#010496,#01069c,#0108a1,#020aa7,#020cac,#030eb1,#0311b6,#0414ba,#0517bf,#0619c4,#071cca,#081ed0,#0920d7,#0920e0,#0921e9,#0d29ea,#1130ec,#1438ef,#1840f1,#1d4af3,#2356f4,#2a64f5,#3172f6,#3881f7,#3f8ff7,#469df8,#4dabf8,#53b8f9,#5ac4fa,#5fd0fa,#65dbfb,#6ae5fc,#6feffc,#73f7fd,#75fbf9,#76fbf3,#76fbee,#77fbe9,#77fbe5,#78fbe2,#79fbdf,#79fbdd,#7afbda,#7afbd8,#7bfbd5,#7bfbd3,#7cfbd2,#7cfbd1,#7dfbd0,#7dfbcf,#7dfbcf,#7dfbcf,#7dfbd0,#7cfbd1,#7cfbd2,#7bfbd4)"></i><i style="background:linear-gradient(90deg,#000288,#01038e,#010494,#01059a,#0107a0,#0209a5,#020baa,#030eaf,#0310b4,#0413b9,#0516bd,#0618c2,#071bc7,#081dcd,#081fd4,#0920dc,#0920e6,#0c26ea,#102eec,#1335ee,#173df0,#1b46f2,#2150f4,#275df5,#2d6af6,#3478f6,#3b86f7,#4294f7,#48a1f8,#4faef8,#55baf9,#5bc6fa,#60d1fa,#65dbfb,#6ae4fc,#6eedfc,#71f4fd,#75fbfd,#75fbf8,#76fbf4,#76fbf0,#76fbec,#77fbe9,#77fbe6,#78fbe4,#78fbe1,#79fbdf,#79fbdd,#79fbdc,#7afbdb,#7afbda,#7afbd9,#7afbd9,#7afbd9,#7afbda,#7afbdb,#79fbdc,#79fbdd)"></i><i style="background:linear-gradient(90deg,#000286,#00038c,#010492,#010598,#01069e,#0208a3,#020aa9,#020dae,#030fb2,#0412b7,#0415bc,#0517c0,#061ac5,#071ccb,#081fd2,#0920da,#0920e3,#0b24e9,#0e2ceb,#1233ed,#153aef,#1942f2,#1e4cf3,#2457f5,#2a63f5,#3070f6,#377ef6,#3e8bf7,#4498f7,#4aa5f8,#50b1f9,#56bcf9,#5bc7fa,#60d1fa,#64dafb,#68e2fb,#6ce9fc,#6feffc,#72f5fd,#74fafd,#75fbfa,#75fbf7,#76fbf3,#76fbf0,#76fbee,#77fbeb,#77fbe9,#77fbe8,#77fbe6,#77fbe5,#77fbe5,#78fbe5,#78fbe5,#77fbe5,#77fbe5,#77fbe6,#77fbe6,#77fbe7)"></i><i style="background:linear-gradient(90deg,#000284,#00028a,#010390,#010496,#01069c,#0108a1,#020aa7,#020cac,#030fb1,#0311b6,#0414bb,#0517bf,#0619c4,#071cc9,#081ed0,#0920d7,#0920e1,#0a22e9,#0e2aeb,#1131ed,#1438ef,#183ff1,#1c48f3,#2152f4,#275df5,#2d6af6,#3376f6,#3a83f7,#4090f7,#469cf8,#4ca8f8,#51b3f9,#56bdf9,#5bc7fa,#5fcffa,#63d7fb,#66ddfb,#69e3fb,#6ce8fc,#6eedfc,#70f2fc,#72f6fd,#74fafd,#75fbfb,#75fbf9,#75fbf6,#76fbf4,#76fbf3,#76fbf2,#76fbf1,#76fbf1,#76fbf1,#76fbf1,#76fbf2,#76fbf2,#76fbf2,#76fbf2,#76fbf2)"></i></div>
<div class="p" style="left:364px;top:138px;width:111px;height:85px"><i style="background:linear-gradient(90deg,#0209a6,#020dae,#0311b6,#0516bf,#071cc9,#081fd5,#0920e2,#0c26ea,#1130ec,#153aef,#1c47f2,#2559f5,#3070f6,#3d89f7,#4aa4f8,#57bef9,#62d6fb,#6debfc,#75fbfb,#76fbec,#78fbe0,#7bfbd6,#7efbcc,#81fbc2,#85fcba,#88fcb5,#8afcb1,#8bfcae,#8cfcac,#8efca9,#8ffca7,#91fca5,#91fca4,#91fca4,#90fca5,#8ffca7,#8efcaa,#8cfcad)"></i><i style="background:linear-gradient(90deg,#0209a5,#020cac,#0311b5,#0516be,#071cc9,#0920d5,#0920e4,#0c27ea,#1132ed,#173cf0,#1e4bf3,#285ff5,#3477f6,#4192f7,#4eadf8,#5bc7fa,#67dffb,#72f5fd,#76fbf1,#78fbe3,#7afbd7,#7dfbce,#80fbc5,#84fbbd,#87fcb5,#8afcaf,#8dfcac,#8efca9,#90fca6,#91fca4,#93fca1,#94fca0,#94fc9f,#94fc9f,#94fca0,#92fca2,#91fca4,#8efca8)"></i><i style="background:linear-gradient(90deg,#0208a3,#020bab,#0310b4,#0516be,#071cc9,#0920d6,#0920e5,#0d29ea,#1234ed,#183ff1,#204ff4,#2b65f5,#387ff7,#459bf8,#53b6f9,#5fd0fa,#6ce9fc,#75fbf9,#77fbe7,#7afbd9,#7dfbce,#80fbc5,#83fbbd,#87fcb6,#8bfcaf,#8efcaa,#90fca5,#92fca2,#94fca0,#95fc9d,#97fc9c,#97fc9a,#98fc9a,#98fc9a,#97fc9a,#96fc9c,#94fc9f,#92fca3)"></i><i style="background:linear-gradient(90deg,#0108a2,#020baa,#0310b3,#0516be,#071cca,#0920d7,#0920e8,#0e2beb,#1336ee,#1a42f2,#2254f4,#2e6cf6,#3c87f7,#49a3f8,#57bff9,#64d9fb,#70f2fc,#76fbf0,#79fbde,#7dfbd0,#80fbc5,#84fbbd,#87fcb6,#8bfcaf,#8efca8,#92fca3,#94fc9f,#97fc9b,#99fc99,#9afc97,#9bfc95,#9cfc94,#9cfc94,#9cfc94,#9cfc94,#9bfc96,#99fc98,#96fc9c)"></i><i style="background:linear-gradient(90deg,#0107a1,#020baa,#0310b3,#0516be,#071ccb,#0920d9,#0921e9,#0f2deb,#1538ef,#1b46f2,#255af5,#3273f6,#4090f7,#4eacf8,#5bc7fa,#68e2fb,#75fbfd,#77fbe7,#7bfbd5,#80fbc6,#84fcbc,#88fcb4,#8cfcad,#8ffca7,#93fca1,#96fc9c,#99fc97,#9cfc94,#9efc91,#9ffc90,#a0fc8f,#a0fc8e,#a1fc8d,#a1fc8d,#a1fc8e,#a0fc8f,#9efc92,#9bfc96)"></i><i style="background:linear-gradient(90deg,#0107a0,#020baa,#0310b4,#0517bf,#071dcc,#0920db,#0a23e9,#102fec,#163af0,#1d4af3,#285ff5,#357bf6,#4498f7,#52b5f9,#60d1fa,#6debfc,#76fbf4,#79fbde,#7efbcc,#84fbbd,#89fcb3,#8dfcab,#91fca4,#95fc9e,#98fc99,#9cfc94,#9ffc90,#a2fc8c,#a4fc8a,#a5fc89,#a6fc88,#a6fc87,#a6fc87,#a7fc87,#a6fc87,#a5fc88,#a3fc8b,#a0fc8f)"></i><i style="background:linear-gradient(90deg,#0107a0,#020baa,#0310b4,#0517c0,#081dcd,#0920dd,#0b25ea,#1131ed,#173df0,#1f4ef4,#2b66f5,#3982f7,#48a0f8,#56bef9,#64dafb,#72f5fd,#77fbeb,#7bfbd6,#81fbc3,#88fcb4,#8efcaa,#92fca2,#97fc9b,#9bfc96,#9ffc90,#a2fc8c,#a6fc88,#a8fc84,#aafc82,#abfc81,#acfc81,#acfc80,#acfc80,#adfc80,#acfc80,#abfc81,#a9fc84,#a6fc88)"></i><i style="background:linear-gradient(90deg,#01079f,#020baa,#0311b5,#0518c1,#081ecf,#0920e0,#0c27ea,#1233ed,#1940f1,#2252f4,#2e6cf6,#3d8af7,#4ca9f8,#5bc7fa,#69e3fb,#75fbfa,#78fbe2,#7efbcd,#85fcba,#8dfcab,#93fca1,#99fc99,#9dfc92,#a2fc8d,#a6fc88,#a9fc83,#adfc80,#b0fc7d,#b1fc7b,#b2fc7a,#b2fc7a,#b3fd7a,#b3fd79,#b3fd79,#b3fd79,#b2fc7a,#b0fc7d,#acfc80)"></i><i style="background:linear-gradient(90deg,#01079f,#020bab,#0412b6,#0619c3,#081fd1,#0920e2,#0d29ea,#1336ee,#1a43f2,#2457f5,#3172f6,#4191f7,#50b1f9,#5fd0fa,#6eecfc,#76fbf1,#7afbd9,#81fbc4,#8afcb1,#92fca2,#99fc97,#a0fc8f,#a5fc89,#a9fc83,#adfc7f,#b1fc7b,#b5fd78,#b7fd75,#b9fd73,#bafd73,#bafd73,#bafd73,#bafd72,#bafd72,#bafd72,#b9fd73,#b7fd76,#b3fd79)"></i><i style="background:linear-gradient(90deg,#01079f,#020cab,#0412b8,#061ac5,#081fd4,#0920e6,#0e2ceb,#1438ef,#1c47f3,#275df5,#3579f6,#4499f8,#54b9f9,#64d9fb,#72f6fd,#77fbe8,#7cfbd0,#85fcbb,#8ffca8,#98fc99,#a0fc8e,#a7fc86,#adfc7f,#b2fc7a,#b6fd76,#bafd73,#bdfd70,#c0fd6e,#c1fd6c,#c2fd6c,#c2fd6c,#c1fd6c,#c2fd6c,#c2fd6c,#c2fd6c,#c1fd6d,#befd6f,#bafd72)"></i><i style="background:linear-gradient(90deg,#01079f,#020cac,#0413b9,#061bc7,#0920d6,#0920e9,#102eec,#163af0,#1e4bf3,#2963f5,#3880f7,#48a1f8,#59c2f9,#68e2fb,#75fbf9,#79fbdf,#80fbc7,#89fcb1,#94fc9f,#9ffc90,#a8fc85,#affc7d,#b6fd76,#bbfd72,#bffd6e,#c3fd6b,#c6fd69,#c8fd67,#cafd66,#cafd66,#cafd66,#cafd66,#cafd66,#cafd66,#cafd66,#c8fd67,#c6fd69,#c2fd6c)"></i><i style="background:linear-gradient(90deg,#01079f,#020dad,#0414bb,#071cc9,#0920d9,#0a22e9,#1130ec,#173df0,#204ff4,#2c68f6,#3c87f7,#4ca9f8,#5dcbfa,#6debfc,#76fbf0,#7bfbd5,#84fbbd,#8efca8,#9afc96,#a6fc88,#b0fc7c,#b8fd74,#bffd6e,#c5fd69,#c9fd66,#cdfd64,#d0fd62,#d2fd61,#d3fd60,#d3fd60,#d2fd60,#d2fd61,#d2fd61,#d2fd61,#d2fd61,#d1fd62,#cefd63,#cafd66)"></i><i style="background:linear-gradient(90deg,#01079f,#020dae,#0515bc,#071dcb,#0920dc,#0b25ea,#1232ed,#1940f1,#2254f4,#2f6ff6,#3f8ff7,#50b1f9,#61d3fa,#72f5fd,#77fbe6,#7efbcc,#88fcb4,#94fc9f,#a1fc8d,#aefc7f,#b9fd74,#c2fd6c,#cafd66,#d0fd62,#d4fd60,#d7fe5e,#dafe5d,#dbfe5c,#dcfe5c,#dcfe5c,#dbfe5c,#dbfe5c,#dbfe5c,#dbfe5c,#dafe5c,#d9fe5d,#d7fe5e,#d2fd60)"></i><i style="background:linear-gradient(90deg,#01079f,#030eaf,#0516be,#081dce,#0920df,#0d28ea,#1335ee,#1a43f2,#2558f5,#3275f6,#4396f7,#54b9f9,#66dcfb,#75fbfa,#79fbdd,#82fbc2,#8dfcaa,#9bfc95,#a9fc84,#b6fd76,#c2fd6c,#ccfd64,#d5fd5f,#dbfe5c,#dffe5a,#e2fe59,#e4fe59,#e5fe58,#e6fe58,#e5fe58,#e5fe58,#e4fe59,#e4fe59,#e4fe59,#e3fe59,#e2fe59,#dffe5a,#dbfe5c)"></i><i style="background:linear-gradient(90deg,#01079f,#030eb0,#0517c0,#081ed0,#0920e3,#0e2aeb,#1437ef,#1c47f3,#275ef5,#367bf6,#469df8,#58c1f9,#6ae5fc,#76fbf1,#7cfbd3,#86fcb8,#94fca0,#a2fc8c,#b1fc7b,#bffd6e,#ccfd64,#d7fe5e,#e0fe5a,#e6fe58,#ebfe57,#edfe56,#effe56,#f0fe56,#f0fe56,#effe56,#eefe56,#edfe56,#edfe56,#edfe56,#ecfe57,#eafe57,#e8fe57,#e4fe59)"></i><i style="background:linear-gradient(90deg,#01079f,#030fb1,#0618c2,#081fd3,#0920e6,#0f2deb,#153aef,#1e4bf3,#2a63f5,#3982f7,#4aa4f8,#5cc9fa,#6eeefc,#77fbe8,#7ffbc9,#8bfcae,#9afc96,#abfc82,#bafd72,#cafd66,#d7fe5e,#e3fe59,#ecfe56,#f3ff55,#f7ff55,#f9ff55,#faff55,#faff55,#faff55,#f9ff55,#f8ff55,#f7ff55,#f6ff55,#f6ff55,#f5ff55,#f3ff55,#f0fe56,#edfe56)"></i><i style="background:linear-gradient(90deg,#0107a0,#030fb2,#0619c3,#0920d5,#0920e9,#102fec,#173cf0,#204ff4,#2c68f6,#3c88f7,#4eacf8,#60d1fa,#73f7fd,#79fbdf,#83fbbf,#91fca4,#a2fc8c,#b4fd79,#c5fd6a,#d4fd5f,#e3fe59,#effe56,#f9ff55,#ffff54,#fefa53,#fef852,#fef752,#fef852,#fef953,#fefa53,#fefc53,#fffd54,#fffe54,#ffff54,#feff54,#fcff55,#f9ff55,#f5ff55)"></i><i style="background:linear-gradient(90deg,#0107a0,#0310b3,#061ac5,#0920d8,#0a23e9,#1132ed,#183ff1,#2253f4,#2f6ef6,#3f8ff7,#51b3f9,#64dafb,#75fbf8,#7bfbd5,#87fcb5,#98fc99,#abfc82,#bdfd6f,#cffd62,#e0fe5a,#effe56,#fcff55,#fef752,#fcf050,#fcec4e,#fbea4e,#fbea4e,#fbeb4e,#fced4f,#fcef4f,#fcf050,#fdf250,#fdf351,#fdf551,#fdf652,#fef952,#fefc53,#feff54)"></i><i style="background:linear-gradient(90deg,#0107a0,#0310b4,#061bc7,#0920db,#0c26ea,#1234ed,#1a42f2,#2457f5,#3274f6,#4295f7,#55baf9,#68e2fb,#76fbf0,#7efbcc,#8dfcab,#a0fc8f,#b4fd78,#c8fd67,#dbfe5c,#edfe56,#fdff55,#fdf351,#fbe84d,#fae14b,#f9dd4a,#f9dc4a,#f9dd4a,#f9de4b,#fae14b,#fae34c,#fae54d,#fbe74d,#fbe94e,#fbea4e,#fcec4f,#fcef50,#fdf250,#fdf652)"></i><i style="background:linear-gradient(90deg,#01079f,#0311b5,#071bc8,#0920dd,#0d28ea,#1436ee,#1b46f2,#265cf5,#3579f6,#469bf8,#58c1f9,#6ceafc,#77fbe7,#81fbc2,#93fca1,#a8fc85,#befd6f,#d4fd60,#e8fe57,#fbff55,#fdf150,#fae34c,#f8d849,#f7d147,#f7ce46,#f7ce46,#f7cf46,#f8d247,#f8d548,#f8d748,#f9da49,#f9dc4a,#f9de4a,#fae04b,#fae34c,#fbe64d,#fbe94e,#fcec4f)"></i><i style="background:linear-gradient(90deg,#01079f,#0311b5,#071cca,#0920e0,#0e2beb,#1539ef,#1d49f3,#2961f5,#387ff7,#49a2f8,#5cc9fa,#70f2fc,#79fbde,#86fcb9,#9afc97,#b1fc7b,#c9fd66,#e1fe5a,#f6ff55,#fdf351,#fae04b,#f8d247,#f6c844,#f5c242,#f5c042,#f5c042,#f5c342,#f6c643,#f6c944,#f7cc45,#f7cf46,#f7d147,#f8d448,#f8d748,#f9da49,#f9dd4a,#fae04b,#fae34c)"></i><i style="background:linear-gradient(90deg,#01079f,#0311b6,#071ccb,#0920e2,#0f2deb,#163bf0,#1f4df3,#2b66f5,#3a85f7,#4ca8f8,#5fd0fa,#75fbfd,#7bfbd5,#8bfcaf,#a1fc8d,#bbfd72,#d5fd5f,#eefe56,#fef852,#fae14b,#f7cf46,#f5c142,#f4b840,#f3b33e,#f3b23e,#f3b33e,#f4b63f,#f4ba40,#f5bd41,#f5c142,#f6c443,#f6c744,#f6ca45,#f7ce46,#f7d147,#f8d448,#f8d749,#f9da49)"></i><i style="background:linear-gradient(90deg,#01069e,#0311b6,#071dcc,#0920e5,#102fec,#173df0,#2151f4,#2e6bf6,#3d8af7,#4faef8,#63d7fb,#75fbf6,#7efbcc,#90fca5,#a9fc84,#c5fd69,#e2fe59,#fdff55,#fae54c,#f7ce46,#f5bc41,#f3b03d,#f2a83b,#f2a43a,#f2a43a,#f2a63b,#f2aa3c,#f3ae3d,#f3b23e,#f4b63f,#f4ba40,#f5bd41,#f5c142,#f6c543,#f6c944,#f7cc45,#f7d046,#f8d247)"></i><i style="background:linear-gradient(90deg,#01069d,#0311b6,#071dcd,#0920e7,#1130ec,#1940f1,#2355f4,#3070f6,#4090f7,#52b4f9,#66defb,#76fbee,#81fbc3,#96fc9c,#b2fc7a,#d0fd62,#effe56,#fcef50,#f7d247,#f4ba40,#f2aa3c,#f19f39,#f09837,#f09636,#f09737,#f09937,#f19e38,#f1a23a,#f2a73b,#f2ac3c,#f3b03d,#f3b43e,#f4b840,#f5bd41,#f5c142,#f6c543,#f6c844,#f6cb45)"></i><i style="background:linear-gradient(90deg,#01069c,#0311b5,#081dcd,#0920e9,#1232ed,#1a43f2,#2559f5,#3375f6,#4395f7,#55baf9,#6ae4fc,#77fbe7,#85fcbb,#9dfc92,#bbfd71,#dcfe5c,#fdff55,#f9dd4a,#f5be41,#f2a63b,#f09737,#ef8d34,#ef8933,#ef8833,#ef8a33,#ef8d34,#f09235,#f09837,#f19d38,#f1a239,#f2a63b,#f2ab3c,#f3b03d,#f4b53f,#f4ba40,#f5bf41,#f5c242,#f5c443)"></i><i style="background:linear-gradient(90deg,#01069c,#0311b5,#081ece,#0921e9,#1234ed,#1b46f2,#275ef5,#357af6,#459bf8,#57c0f9,#6debfc,#79fbdf,#89fcb2,#a4fc8a,#c5fd6a,#e7fe58,#fdf150,#f6cb45,#f2aa3c,#f09336,#ef8532,#ee7d30,#ee7a30,#ee7b30,#ee7e30,#ee8232,#ef8733,#ef8d34,#f09336,#f09837,#f19d38,#f1a33a,#f2a93b,#f3af3d,#f3b43e,#f4b940,#f4bc41,#f5bd41)"></i><i style="background:linear-gradient(90deg,#01059b,#0311b5,#081ece,#0a22e9,#1335ee,#1d48f3,#2962f5,#387ff7,#48a0f8,#5ac5fa,#70f2fc,#7afbd8,#8dfcaa,#abfc81,#cefd63,#f3ff55,#fae14b,#f4b940,#f09737,#ee7f31,#ed732e,#ed6d2d,#ed6c2d,#ed6e2d,#ed722e,#ed772f,#ee7d30,#ee8332,#ef8933,#ef8f35,#f09536,#f19b38,#f1a239,#f2a83b,#f3ae3d,#f3b33e,#f4b63f,#f4b73f)"></i><i style="background:linear-gradient(90deg,#01059a,#0310b4,#081ecf,#0a24e9,#1437ef,#1e4bf3,#2b66f6,#3a84f7,#4aa5f8,#5dcbfa,#73f8fd,#7cfbd1,#92fca2,#b3fd7a,#d8fe5e,#ffff54,#f7d247,#f2a73b,#ee8432,#ed6d2d,#ec632b,#ec5f2a,#ec602a,#ec632b,#ec682c,#ed6e2d,#ed742e,#ee7a30,#ee8131,#ef8733,#ef8d34,#f09436,#f19b38,#f1a33a,#f2a93b,#f3ae3d,#f3b13e,#f3b23e)"></i><i style="background:linear-gradient(90deg,#010599,#0310b4,#081ecf,#0b25ea,#1538ef,#204ef4,#2e6bf6,#3d89f7,#4daaf8,#60d0fa,#75fbfa,#7efbca,#97fc9b,#bafd73,#e1fe5a,#fdf251,#f5c342,#f09737,#ed722e,#ec5c29,#eb5428,#eb5328,#eb5528,#eb5929,#ec5e2a,#ec652b,#ed6b2c,#ed722e,#ee792f,#ee8031,#ef8733,#ef8e34,#f09636,#f19d38,#f2a43a,#f2aa3c,#f3ad3d,#f3ad3d)"></i><i style="background:linear-gradient(90deg,#010598,#0310b4,#081ed0,#0c26ea,#153aef,#2151f4,#306ff6,#3f8ef7,#4faff8,#62d5fb,#76fbf5,#81fbc4,#9cfc94,#c1fd6c,#eafe57,#fbe64d,#f4b43f,#ef8733,#ec622b,#eb4d27,#eb4826,#eb4826,#eb4b27,#eb5027,#eb5628,#ec5d2a,#ec642b,#ed6b2c,#ed722e,#ee792f,#ee8131,#ef8833,#f09135,#f09937,#f1a139,#f2a63b,#f2a93c,#f2a93c)"></i><i style="background:linear-gradient(90deg,#010597,#0310b3,#081ed0,#0c27ea,#163bf0,#2254f4,#3273f6,#4193f7,#52b4f9,#65dafb,#76fbf0,#83fbbe,#a1fc8d,#c8fd67,#f3ff55,#f9da49,#f2a73b,#ee792f,#eb5328,#ea4025,#ea3f25,#ea4025,#eb4325,#eb4926,#eb4f27,#eb5628,#ec5d2a,#ec642b,#ed6c2d,#ed732e,#ee7b30,#ee8432,#ef8d34,#f09536,#f19d38,#f1a33a,#f2a63b,#f2a63b)"></i><i style="background:linear-gradient(90deg,#010496,#0310b3,#081ed1,#0d28ea,#173df0,#2457f5,#3477f6,#4397f7,#54b8f9,#67dffb,#77fbeb,#86fcb8,#a6fc88,#cefd63,#faff55,#f7cf46,#f19b38,#ed6c2d,#eb4626,#ea3824,#ea3824,#ea3a24,#ea3e25,#ea4325,#eb4926,#eb5027,#eb5729,#ec5f2a,#ec672c,#ed6f2d,#ed772f,#ee8031,#ef8933,#f09336,#f19b38,#f1a139,#f2a43a,#f2a33a)"></i><i style="background:linear-gradient(90deg,#010496,#0310b3,#081fd1,#0d29ea,#183ef1,#255af5,#357bf6,#459bf8,#56bdf9,#69e4fb,#77fbe6,#88fcb3,#aafc83,#d4fd5f,#fefc53,#f6c643,#f09135,#ec612b,#ea3d25,#e93323,#ea3524,#ea3724,#ea3a24,#ea3e25,#eb4426,#eb4b27,#eb5328,#ec5a29,#ec622b,#ed6b2c,#ed742e,#ee7d30,#ef8733,#f09035,#f09937,#f19f39,#f1a23a,#f1a139)"></i><i style="background:linear-gradient(90deg,#010495,#0310b3,#081fd2,#0e2aeb,#1840f1,#265cf5,#377ef6,#479ff8,#58c1f9,#6ce9fc,#78fbe1,#8bfcaf,#aefc7e,#d9fe5d,#fdf451,#f5be41,#ef8833,#eb5929,#ea3724,#d82e20,#e73223,#ea3524,#ea3724,#ea3b24,#ea4125,#eb4726,#eb4f27,#eb5729,#ec5f2a,#ec682c,#ed712e,#ee7b30,#ef8532,#ef8f35,#f09737,#f19d38,#f1a139,#f1a039)"></i><i style="background:linear-gradient(90deg,#010495,#0310b3,#081fd3,#0e2beb,#1941f1,#285ff5,#3981f7,#49a3f8,#5ac5fa,#6eedfc,#79fbdd,#8dfcaa,#b2fc7b,#defe5b,#fcee4f,#f4b63f,#ee8031,#eb5128,#e93323,#c82a1d,#de3021,#e93323,#ea3624,#ea3924,#ea3e25,#eb4426,#eb4c27,#eb5428,#ec5d2a,#ec662b,#ed702d,#ee7a30,#ee8432,#ef8e34,#f09637,#f19d38,#f1a039,#f19f39)"></i><i style="background:linear-gradient(90deg,#010495,#0310b4,#081fd4,#0f2ceb,#1a42f2,#2961f5,#3a84f7,#4ba6f8,#5cc9fa,#70f1fc,#7afbd9,#8ffca7,#b5fd77,#e2fe59,#fbe94e,#f3b03d,#ee7a30,#eb4c27,#dc3021,#b82619,#d72e20,#e53222,#ea3524,#ea3824,#ea3c24,#ea4225,#eb4926,#eb5228,#ec5b29,#ec652b,#ed6f2d,#ee792f,#ee8432,#ef8e34,#f09636,#f19c38,#f19f39,#f19f39)"></i><i style="background:linear-gradient(90deg,#010495,#0310b4,#081fd4,#0f2deb,#1a43f2,#2a63f5,#3b87f7,#4ca9f8,#5eccfa,#72f5fd,#7bfbd6,#91fca4,#b7fd75,#e5fe58,#fae44c,#f2ac3c,#ed752f,#eb4726,#d12c1e,#aa2217,#d22d1f,#e23122,#ea3423,#ea3724,#ea3b24,#ea4125,#eb4826,#eb5027,#ec5a29,#ec642b,#ed6e2d,#ee792f,#ee8432,#ef8e34,#f09636,#f19c38,#f19f39,#f19f39)"></i><i style="background:linear-gradient(90deg,#010495,#0310b4,#0920d5,#0f2deb,#1b44f2,#2a64f5,#3c89f7,#4eacf8,#5fcffa,#73f8fd,#7cfbd3,#93fca1,#bafd73,#e8fe57,#fae14b,#f2a83b,#ed712e,#eb4526,#c72a1c,#9d1f14,#ce2c1e,#e03021,#ea3423,#ea3624,#ea3a24,#ea3f25,#eb4726,#eb5027,#ec5929,#ec642b,#ed6f2d,#ee7930,#ee8432,#ef8e34,#f09636,#f19c38,#f1a039,#f19f39)"></i><i style="background:linear-gradient(90deg,#010495,#0311b5,#0920d6,#0f2eec,#1b45f2,#2b66f5,#3d8af7,#4faef8,#60d2fa,#75fbfd,#7cfbd0,#94fc9f,#bbfd71,#eafe57,#f9de4b,#f2a53a,#ed6f2d,#ea4325,#c0281b,#941d12,#cc2b1d,#df3021,#ea3323,#ea3624,#ea3a24,#ea3f25,#eb4626,#eb4f27,#ec5929,#ec642b,#ed6f2d,#ee7a30,#ef8532,#ef8f35,#f09737,#f19d38,#f1a039,#f1a039)"></i><i style="background:linear-gradient(90deg,#010495,#0311b5,#0920d6,#102eec,#1b46f2,#2c67f6,#3e8cf7,#4faff9,#61d4fa,#75fbfc,#7dfbcf,#95fc9d,#bcfd71,#ebfe57,#f9dd4a,#f2a43a,#ed6e2d,#ea4225,#bc271a,#8e1b11,#cb2b1d,#e03021,#ea3423,#ea3624,#ea3a24,#ea3f25,#eb4626,#eb4f27,#ec5a29,#ec652b,#ed702e,#ee7b30,#ef8632,#ef8f35,#f09737,#f19d38,#f1a139,#f1a139)"></i><i style="background:linear-gradient(90deg,#010495,#0311b6,#0920d7,#102eec,#1b46f2,#2c67f6,#3e8cf7,#50b0f9,#62d5fb,#75fbfa,#7dfbcd,#96fc9d,#bdfd70,#ebfe57,#f9dd4a,#f2a43a,#ed6e2d,#ea4225,#bb271a,#8d1b11,#cc2b1d,#e13122,#ea3423,#ea3724,#ea3a24,#ea3f25,#eb4726,#eb5027,#ec5b29,#ec662b,#ed712e,#ee7c30,#ef8733,#f09035,#f09837,#f19e38,#f1a139,#f1a139)"></i><i style="background:linear-gradient(90deg,#010496,#0311b6,#0920d7,#102eec,#1b46f2,#2c67f6,#3e8cf7,#50b0f9,#62d5fb,#75fbfa,#7efbcd,#96fc9c,#bdfd70,#ebfe57,#f9dd4a,#f2a53a,#ed6f2d,#ea4325,#be271b,#901c11,#cf2c1e,#e43222,#ea3524,#ea3724,#ea3b24,#ea4025,#eb4826,#eb5128,#ec5c29,#ec672c,#ed732e,#ee7e31,#ef8833,#f09135,#f09937,#f19f39,#f1a239,#f1a23a)"></i><i style="background:linear-gradient(90deg,#010496,#0311b6,#0920d7,#102eec,#1b46f2,#2b66f6,#3e8cf7,#50b0f9,#62d5fb,#75fbfa,#7efbcd,#96fc9d,#bcfd71,#eafe57,#fadf4b,#f2a73b,#ed712e,#eb4526,#c4291c,#981d13,#d32d1f,#e83223,#ea3524,#ea3824,#ea3c24,#ea4125,#eb4926,#eb5328,#ec5e2a,#ec692c,#ed742e,#ee7f31,#ef8933,#f09235,#f09a37,#f19f39,#f1a23a,#f1a33a)"></i><i style="background:linear-gradient(90deg,#010496,#0311b6,#0920d7,#102eec,#1b45f2,#2b65f5,#3d8af7,#4faff8,#62d4fa,#75fbfb,#7dfbce,#95fc9e,#bbfd72,#e8fe57,#fae24c,#f2aa3c,#ed752e,#eb4826,#cc2b1d,#a32015,#d92f20,#ea3423,#ea3624,#ea3a24,#ea3d25,#ea4325,#eb4b26,#eb5428,#ec5f2a,#ed6b2c,#ed762f,#ee8031,#ef8a33,#f09336,#f19a38,#f1a039,#f1a33a,#f1a33a)"></i><i style="background:linear-gradient(90deg,#010496,#0311b6,#0920d6,#0f2deb,#1a44f2,#2a64f5,#3c88f7,#4eadf8,#61d3fa,#75fbfc,#7dfbcf,#94fca0,#b9fd74,#e5fe58,#fbe54d,#f3ae3d,#ee792f,#eb4d27,#d82e20,#b22418,#e03121,#ea3524,#ea3824,#ea3c24,#ea4025,#eb4526,#eb4d27,#eb5728,#ec612a,#ed6c2d,#ed772f,#ee8231,#ef8b34,#f09436,#f19b38,#f1a039,#f1a33a,#f2a33a)"></i><i style="background:linear-gradient(90deg,#010497,#0311b6,#0920d6,#0f2deb,#1a43f2,#2962f5,#3b86f7,#4daaf8,#60d0fa,#74fafd,#7cfbd2,#92fca2,#b6fd76,#e2fe59,#fbea4e,#f3b33e,#ee7f31,#eb5228,#e53222,#c2291b,#e83323,#ea3724,#ea3a24,#ea3e25,#ea4225,#eb4826,#eb5027,#ec5929,#ec642b,#ed6e2d,#ee792f,#ee8332,#ef8c34,#f09536,#f19b38,#f1a039,#f2a33a,#f2a43a)"></i><i style="background:linear-gradient(90deg,#010597,#0311b5,#081fd5,#0e2ceb,#1941f1,#285ff5,#3a83f7,#4ba7f8,#5ecdfa,#73f6fd,#7bfbd5,#90fca6,#b3fd79,#defe5b,#fcf050,#f4ba40,#ef8633,#ec5929,#ea3624,#d42d1f,#ea3524,#ea3924,#ea3d25,#ea4125,#eb4626,#eb4b27,#eb5328,#ec5c2a,#ec672c,#ed712e,#ee7b30,#ee8432,#ef8d34,#f09536,#f19c38,#f1a139,#f2a43a,#f2a43a)"></i><i style="background:linear-gradient(90deg,#010597,#0311b5,#081fd4,#0e2beb,#1840f1,#265cf5,#3880f7,#4aa4f8,#5cc9fa,#70f2fc,#7afbd9,#8efcaa,#affc7d,#d9fe5d,#fef752,#f5c242,#ef8f35,#ec622b,#ea3b24,#e63223,#ea3824,#ea3d24,#ea4125,#eb4526,#eb4a26,#eb4f27,#eb5729,#ec602a,#ec6a2c,#ed742e,#ee7d30,#ef8633,#ef8f35,#f09737,#f19d38,#f1a23a,#f2a53a,#f2a53a)"></i><i style="background:linear-gradient(90deg,#010597,#0311b5,#081fd2,#0d29ea,#183ef1,#2559f5,#367cf6,#479ff8,#5ac4fa,#6eeefc,#79fbde,#8bfcaf,#abfc82,#d3fd60,#ffff54,#f6cb45,#f09837,#ed6b2d,#eb4426,#ea3724,#ea3d25,#ea4125,#eb4626,#eb4a26,#eb4f27,#eb5428,#ec5c29,#ec642b,#ed6e2d,#ed772f,#ee8031,#ef8833,#f09135,#f09837,#f19f39,#f2a33a,#f2a63b,#f2a63b)"></i><i style="background:linear-gradient(90deg,#010597,#0310b4,#081fd1,#0d28ea,#173cf0,#2356f4,#3477f6,#459af8,#57bff9,#6be8fc,#78fbe3,#88fcb4,#a6fc87,#cdfd64,#f7ff55,#f8d548,#f1a33a,#ed772f,#eb5027,#ea3f25,#eb4425,#eb4826,#eb4c27,#eb5027,#eb5428,#ec5a29,#ec612a,#ec692c,#ed722e,#ee7a30,#ee8332,#ef8b34,#f09336,#f19a38,#f1a039,#f2a53a,#f2a83b,#f2a83b)"></i><i style="background:linear-gradient(90deg,#010597,#0310b4,#081ed0,#0c26ea,#163af0,#2253f4,#3173f6,#4295f7,#54b9f9,#68e2fb,#77fbea,#85fcbb,#a1fc8e,#c6fd69,#effe56,#fae04b,#f3af3d,#ee8332,#ec5e2a,#eb4b26,#eb4c27,#eb4f27,#eb5328,#eb5729,#ec5b29,#ec612a,#ec672c,#ed6f2d,#ed772f,#ee7f31,#ef8733,#ef8e34,#f09636,#f19d38,#f1a33a,#f2a73b,#f2aa3c,#f2ab3c)"></i><i style="background:linear-gradient(90deg,#010497,#0310b3,#081ecf,#0b25ea,#1539ef,#204ff4,#2f6ef6,#408ff7,#51b3f9,#65dbfb,#76fbf1,#81fbc3,#9bfc96,#befd6f,#e5fe58,#fced4f,#f5bd41,#f09135,#ed6d2d,#eb5829,#eb5729,#eb5929,#ec5c29,#ec5f2a,#ec632b,#ec682c,#ed6e2d,#ed752f,#ee7d30,#ee8432,#ef8b34,#f09235,#f09937,#f1a039,#f2a63b,#f2aa3c,#f3ad3d,#f3ae3d)"></i><i style="background:linear-gradient(90deg,#010496,#030fb2,#081dcd,#0a23e9,#1437ee,#1e4cf3,#2c68f6,#3c89f7,#4eacf8,#61d3fa,#75fbf9,#7efbcb,#95fc9e,#b5fd77,#dbfe5c,#fefa53,#f7cc45,#f1a139,#ee7d30,#ec682c,#ec632b,#ec632b,#ec662b,#ec682c,#ed6c2d,#ed702e,#ed762f,#ee7d30,#ee8332,#ef8a33,#f09035,#f09737,#f19d38,#f2a43a,#f2aa3c,#f3ae3d,#f3b13e,#f3b23e)"></i><i style="background:linear-gradient(90deg,#010496,#030fb1,#071dcc,#0921e9,#1335ee,#1d48f3,#2a63f5,#3982f7,#4aa4f8,#5dcafa,#72f6fd,#7bfbd5,#8efca8,#acfc80,#d0fd62,#f6ff55,#f9dc4a,#f3b13e,#ef8e34,#ee782f,#ed712e,#ed6f2d,#ed712e,#ed722e,#ed752f,#ee7930,#ee7f31,#ef8532,#ef8b34,#f09135,#f09637,#f19c38,#f1a33a,#f2a93b,#f3ae3d,#f3b33e,#f4b73f,#f4b840)"></i><i style="background:linear-gradient(90deg,#010495,#030eb1,#071cca,#0920e8,#1233ed,#1b45f2,#275ef5,#367bf6,#469cf8,#58c1f9,#6decfc,#79fbdf,#88fcb3,#a3fc8b,#c4fd6a,#e9fe57,#fced4f,#f5c343,#f1a139,#ef8a33,#ee8031,#ee7d30,#ee7d30,#ee7e31,#ee8031,#ee8432,#ef8833,#ef8e34,#f09336,#f09837,#f19d38,#f1a33a,#f2a93b,#f3af3d,#f3b43e,#f4b940,#f5bd41,#f5bf41)"></i><i style="background:linear-gradient(90deg,#010494,#030eb0,#071cc9,#0920e5,#1131ed,#1942f2,#2458f5,#3274f6,#4294f7,#53b8f9,#68e1fb,#77fbeb,#83fbbf,#9afc97,#b8fd74,#dbfe5c,#ffff54,#f8d648,#f3b43e,#f19d38,#f09135,#ef8c34,#ef8a33,#ef8a33,#ef8b34,#ef8e35,#f09336,#f09837,#f19d38,#f1a139,#f2a53a,#f2aa3c,#f3b03d,#f4b53f,#f4bb40,#f5c042,#f6c443,#f6c744)"></i><i style="background:linear-gradient(90deg,#010493,#030daf,#071bc8,#0920e3,#102fec,#183ff1,#2253f4,#2f6df6,#3e8bf7,#4faef8,#62d6fb,#75fbf7,#7efbcc,#91fca4,#adfc80,#cdfd64,#effe56,#fbea4e,#f6c844,#f3b03d,#f1a23a,#f19b38,#f09837,#f09737,#f09837,#f19a38,#f19e39,#f1a23a,#f2a73b,#f2aa3c,#f3ae3d,#f3b23e,#f4b73f,#f5bd41,#f5c242,#f6c744,#f7cc45,#f7cf46)"></i><i style="background:linear-gradient(90deg,#010492,#020dae,#061ac6,#0920e0,#0f2deb,#163cf0,#1f4ef4,#2b66f5,#3982f7,#49a3f8,#5ccafa,#72f5fd,#7afbda,#89fcb2,#a1fc8d,#befd6f,#dffe5a,#fffe54,#f9dc4a,#f6c443,#f4b53f,#f2ac3c,#f2a73b,#f2a53a,#f2a53a,#f2a73b,#f2aa3c,#f3ae3d,#f3b23e,#f4b53f,#f4b83f,#f4bc40,#f5c042,#f6c543,#f6cb45,#f7d046,#f8d548,#f9d949)"></i><i style="background:linear-gradient(90deg,#010391,#020dad,#061ac5,#0920de,#0e2aeb,#1539ef,#1d49f3,#275ef5,#3579f6,#4499f8,#56bef9,#6be7fc,#77fbe8,#82fbc1,#96fc9c,#b1fc7b,#cffd62,#eefe56,#fdf250,#f8d849,#f6c844,#f5bd41,#f4b73f,#f3b43e,#f3b33e,#f3b43e,#f4b73f,#f4ba40,#f5bd41,#f5c042,#f5c242,#f6c543,#f6c944,#f7ce46,#f8d447,#f9d949,#f9df4b,#fae34c)"></i><i style="background:linear-gradient(90deg,#010390,#020cac,#0619c4,#0920db,#0d28ea,#1336ee,#1b44f2,#2457f5,#3070f6,#3f8ef7,#50b2f9,#64d9fb,#75fbf6,#7dfbd0,#8dfcab,#a4fc8a,#c0fd6e,#ddfe5b,#f8ff55,#fced4f,#f9db4a,#f7cf46,#f6c744,#f5c343,#f5c142,#f5c242,#f6c443,#f6c744,#f6c944,#f7cb45,#f7cd46,#f7d046,#f8d447,#f8d849,#f9dd4a,#fae34c,#fbe94e,#fcee4f)"></i><i style="background:linear-gradient(90deg,#01038f,#020cab,#0618c2,#0920d8,#0b25ea,#1233ed,#1840f1,#2151f4,#2c67f6,#3a84f7,#4aa5f8,#5dcbfa,#71f3fc,#79fbe0,#84fcbb,#98fc99,#b1fc7b,#ccfd64,#e6fe58,#fcff55,#fcef50,#fae14b,#f9d849,#f8d347,#f7d146,#f7d046,#f8d247,#f8d448,#f8d648,#f8d849,#f9d949,#f9db4a,#f9de4b,#fae34c,#fbe84d,#fcee4f,#fdf451,#fefa53)"></i><i style="background:linear-gradient(90deg,#01038e,#020baa,#0517c0,#0920d6,#0a22e9,#1130ec,#173cf0,#1e4bf3,#285ff5,#3579f6,#4599f8,#56bdf9,#69e3fb,#76fbef,#7efbcc,#8efcaa,#a3fc8a,#bcfd70,#d5fd5f,#eafe57,#fbff55,#fdf451,#fbea4e,#fae44c,#fae04b,#fae04b,#fae14b,#fae24c,#fae44c,#fae54c,#fbe64d,#fbe74d,#fbea4e,#fcee4f,#fdf351,#fef953,#ffff54,#f9ff55)"></i><i style="background:linear-gradient(90deg,#01038e,#020ba9,#0516bf,#081fd3,#0920e8,#0f2deb,#1538ef,#1b45f2,#2457f5,#306ff6,#3f8ef7,#50b0f9,#62d4fa,#74fafd,#79fbdc,#85fcba,#97fc9a,#aefc7f,#c5fd6a,#d9fe5d,#ebfe57,#f8ff55,#fefc53,#fdf551,#fcf150,#fcef50,#fcf050,#fcf150,#fdf250,#fdf250,#fdf351,#fdf451,#fdf652,#fefa53,#ffff54,#faff55,#f5ff55,#effe56)"></i><i style="background:linear-gradient(90deg,#00038d,#020aa8,#0515bd,#081ed0,#0920e3,#0e2aeb,#1335ee,#1940f1,#2050f4,#2b66f5,#3982f7,#49a3f8,#5ac6fa,#6ceafc,#76fbec,#7efbcb,#8dfcab,#a0fc8e,#b5fd77,#c9fd66,#dafe5c,#e8fe57,#f2ff55,#f9ff55,#fdff55,#ffff54,#ffff54,#feff54,#feff54,#feff54,#feff54,#fdff54,#fcff55,#f9ff55,#f5ff55,#f0fe56,#ebfe57,#e5fe58)"></i><i style="background:linear-gradient(90deg,#00038c,#020aa6,#0414bb,#081dcd,#0920df,#0c26ea,#1131ed,#163cf0,#1d4af3,#275df5,#3478f6,#4397f7,#54b8f9,#65dafb,#75fbfb,#7afbdb,#84fcbb,#95fc9f,#a7fc86,#bafd73,#cafd65,#d8fe5d,#e3fe59,#eafe57,#eefe56,#f1fe56,#f1fe56,#f1fe56,#f1fe56,#f2ff55,#f2ff55,#f2ff55,#f0fe56,#eefe56,#eafe57,#e6fe58,#e0fe5a,#dbfe5c)"></i><i style="background:linear-gradient(90deg,#00038c,#0209a5,#0413b9,#071cca,#0920db,#0a22e9,#0f2eec,#1438ef,#1a44f2,#2356f4,#2f6ef6,#3d8bf7,#4dabf8,#5dccfa,#6eedfc,#77fbea,#7efbcc,#8bfcaf,#9bfc95,#acfc81,#bcfd71,#c9fd66,#d4fd60,#dbfe5c,#e0fe5a,#e3fe59,#e4fe59,#e4fe58,#e5fe58,#e6fe58,#e6fe58,#e6fe58,#e5fe58,#e3fe59,#dffe5a,#dbfe5c,#d6fe5e,#d1fd61)"></i><i style="background:linear-gradient(90deg,#00028c,#0209a4,#0412b7,#061bc7,#0920d6,#0920e7,#0e2aeb,#1334ee,#183ff1,#204ff4,#2b65f5,#3880f7,#479ef8,#57bef9,#67defb,#75fbfa,#79fbdb,#83fbbf,#90fca5,#9ffc90,#aefc7f,#bbfd72,#c5fd69,#cdfd64,#d2fd61,#d5fd5f,#d7fe5e,#d7fe5e,#d8fe5d,#dafe5d,#dbfe5c,#dbfe5c,#dafe5d,#d8fe5e,#d5fd5f,#d1fd61,#ccfd64,#c7fd68)"></i><i style="background:linear-gradient(90deg,#00028c,#0108a3,#0311b5,#0619c4,#081fd2,#0920e1,#0c26ea,#1131ec,#163bf0,#1d49f3,#265cf5,#3376f6,#4192f7,#50b0f9,#5fd0fa,#6feffc,#77fbeb,#7dfbcf,#87fcb5,#94fc9f,#a1fc8d,#adfc7f,#b7fd75,#befd6f,#c4fd6a,#c7fd68,#c9fd66,#cbfd65,#ccfd64,#cdfd63,#cffd63,#cffd62,#cefd63,#ccfd64,#cafd66,#c6fd68,#c2fd6b,#befd6f)"></i><i style="background:linear-gradient(90deg,#00028c,#0108a1,#030fb2,#0517c1,#081ece,#0920dc,#0a22e9,#0f2deb,#1437ef,#1a43f2,#2355f4,#2e6cf6,#3b87f7,#4aa4f8,#58c2f9,#67e0fb,#75fbfa,#79fbdf,#80fbc5,#8afcaf,#96fc9d,#a1fc8e,#aafc83,#b1fc7b,#b6fd76,#bafd73,#bcfd70,#befd6f,#c0fd6d,#c2fd6c,#c3fd6b,#c4fd6b,#c3fd6b,#c1fd6c,#bffd6e,#bcfd71,#b9fd74,#b5fd77)"></i><i style="background:linear-gradient(90deg,#00038c,#0107a0,#030eb0,#0516be,#071cca,#0920d7,#0920e6,#0d29ea,#1234ed,#183ff1,#1f4ef4,#2a63f5,#367cf6,#4498f7,#52b4f9,#60d2fa,#6feffc,#76fbee,#7bfbd5,#83fbbf,#8cfcad,#95fc9d,#9efc92,#a4fc89,#a9fc83,#adfc7f,#b0fc7c,#b2fc7a,#b4fd78,#b6fd76,#b8fd75,#b8fd74,#b8fd74,#b7fd76,#b5fd77,#b2fc7a,#b0fc7d,#adfc80)"></i><i style="background:linear-gradient(90deg,#00038c,#01079f,#020dae,#0414ba,#061ac6,#081fd3,#0920e0,#0b25ea,#1130ec,#163bf0,#1d48f3,#265bf5,#3172f6,#3e8cf7,#4ca8f8,#59c4fa,#67e0fb,#75fbfd,#78fbe5,#7dfbcf,#84fbbd,#8bfcad,#93fca1,#99fc98,#9efc92,#a1fc8d,#a5fc89,#a7fc86,#a9fc84,#abfc81,#adfc80,#adfc7f,#adfc7f,#acfc80,#abfc82,#a9fc84,#a7fc86,#a5fc89)"></i><i style="background:linear-gradient(90deg,#00038c,#01069d,#020cab,#0412b7,#0619c3,#081ece,#0920db,#0921e9,#0f2deb,#1437ef,#1a43f2,#2254f4,#2d69f6,#3981f7,#469bf8,#53b6f9,#60d1fa,#6decfc,#76fbf4,#79fbdf,#7efbcd,#83fbbe,#89fcb2,#8efca8,#93fca1,#97fc9b,#9afc97,#9cfc93,#9ffc90,#a1fc8e,#a2fc8c,#a3fc8b,#a3fc8b,#a2fc8b,#a1fc8d,#a0fc8f,#9efc91,#9dfc93)"></i><i style="background:linear-gradient(90deg,#00038d,#01069c,#020ba9,#0310b4,#0517bf,#071cca,#0920d7,#0920e5,#0d29ea,#1234ed,#183ff1,#1f4df3,#2860f5,#3477f6,#408ff7,#4ca9f8,#59c3fa,#66ddfb,#72f5fd,#76fbef,#79fbdd,#7dfbce,#82fbc2,#86fcb8,#8afcb1,#8dfcab,#90fca5,#93fca1,#95fc9d,#97fc9a,#99fc98,#9afc97,#9afc97,#99fc98,#98fc99,#98fc9a,#97fc9b,#96fc9c)"></i><i style="background:linear-gradient(90deg,#00038d,#01059a,#020aa7,#030fb1,#0415bc,#061ac6,#081fd2,#0920e0,#0b26ea,#1130ec,#163bf0,#1c47f3,#2458f5,#2f6df6,#3a84f7,#469df8,#52b5f9,#5ecefa,#6ae5fc,#74fafd,#76fbed,#79fbdf,#7cfbd3,#7ffbc9,#82fbc1,#85fcba,#88fcb4,#8afcaf,#8dfcab,#8ffca8,#90fca5,#91fca4,#91fca4,#91fca4,#90fca5,#90fca6,#8ffca6,#8ffca7)"></i><i style="background:linear-gradient(90deg,#00038d,#010599,#0209a4,#020daf,#0413b9,#0619c3,#081ece,#0920dc,#0a22e9,#0f2deb,#1437ef,#1a42f2,#2151f4,#2a64f5,#3579f6,#4090f7,#4ca8f8,#57bff9,#62d6fb,#6ceafc,#75fbfd,#76fbef,#78fbe3,#7afbd9,#7cfbd1,#7ffbca,#81fbc3,#83fbbe,#85fcb9,#87fcb5,#89fcb3,#89fcb1,#8afcb1,#8afcb1,#89fcb1,#89fcb2,#89fcb2,#8afcb1)"></i><i style="background:linear-gradient(90deg,#00038d,#010598,#0108a2,#020cac,#0311b6,#0517c0,#071ccb,#0920d7,#0920e7,#0e2aeb,#1234ed,#173ef1,#1e4bf3,#265bf5,#306ff6,#3a85f7,#459bf8,#50b1f9,#5bc7fa,#64dafb,#6debfc,#74f9fd,#76fbf4,#77fbea,#78fbe1,#7afbda,#7cfbd3,#7efbcc,#80fbc7,#81fbc3,#82fbc0,#83fbbe,#83fbbe,#83fbbe,#83fbbe,#83fbbe,#84fbbd,#84fcbb)"></i><i style="background:linear-gradient(90deg,#00038d,#010496,#0107a0,#020ba9,#030fb3,#0515bc,#071bc7,#081fd4,#0920e2,#0c27ea,#1131ec,#163af0,#1b45f2,#2254f4,#2b65f5,#3579f6,#3f8ef7,#4aa4f8,#54b8f9,#5dcafa,#65dafb,#6be8fc,#71f4fd,#75fbfa,#76fbf2,#77fbe9,#78fbe2,#7afbdb,#7bfbd5,#7cfbd1,#7dfbce,#7efbcc,#7efbcb,#7efbca,#7efbca,#7ffbca,#7ffbc8,#80fbc6)"></i><i style="background:linear-gradient(90deg,#00038c,#010495,#01069e,#020aa7,#030eb0,#0413ba,#0619c4,#081ed0,#0920de,#0a23e9,#0f2eeb,#1436ee,#1940f1,#1f4df3,#265cf5,#2f6ef6,#3982f7,#4396f7,#4daaf8,#55bbf9,#5dcafa,#63d8fb,#69e3fb,#6eedfc,#73f7fd,#75fbf9,#76fbf1,#77fbea,#78fbe3,#79fbdf,#79fbdb,#7afbd9,#7afbd8,#7afbd7,#7bfbd7,#7bfbd6,#7bfbd4,#7cfbd0)"></i><i style="background:linear-gradient(90deg,#00028c,#010494,#01069c,#0209a5,#020dae,#0412b7,#0518c1,#081dcd,#0920da,#0920e9,#0e2aeb,#1233ed,#163cf0,#1c46f2,#2254f4,#2a64f5,#3376f6,#3d89f7,#469cf8,#4eacf8,#55bbf9,#5bc8fa,#61d3fa,#66ddfb,#6ae6fc,#6feffc,#74f9fd,#75fbf8,#76fbf1,#76fbec,#77fbe9,#77fbe6,#78fbe5,#78fbe4,#78fbe3,#78fbe1,#79fbdf,#7afbdb)"></i><i style="background:linear-gradient(90deg,#00028b,#010493,#01059a,#0108a3,#020cac,#0311b5,#0516bf,#071cca,#0920d6,#0920e4,#0c27ea,#1030ec,#1438ef,#1941f1,#1e4cf3,#255af5,#2d6bf6,#367cf6,#3f8ef7,#479ef8,#4eacf8,#54b8f9,#59c3f9,#5ecdfa,#63d6fb,#67e0fb,#6ce9fc,#70f2fc,#74f9fd,#75fbf9,#75fbf6,#76fbf3,#76fbf1,#76fbf0,#76fbef,#76fbed,#77fbea,#77fbe5)"></i><i style="background:linear-gradient(90deg,#00028a,#010391,#010599,#0107a1,#020baa,#0310b3,#0515bd,#071bc7,#081fd3,#0920e0,#0a23e9,#0f2ceb,#1334ee,#163cf0,#1b45f2,#2151f4,#2860f5,#3070f6,#3880f7,#408ff7,#469df8,#4ca9f8,#52b4f9,#56bdf9,#5bc7fa,#60d0fa,#65dafb,#69e3fb,#6debfc,#70f1fc,#72f6fd,#74f9fd,#75fbfd,#75fbfc,#75fbfa,#75fbf8,#76fbf5,#76fbf0)"></i><i style="background:linear-gradient(90deg,#000289,#010390,#010598,#0107a0,#020aa8,#030fb1,#0414bb,#061ac5,#081ed0,#0920dc,#0920e8,#0d29ea,#1130ec,#1437ef,#183ff1,#1d49f3,#2355f4,#2a64f5,#3273f6,#3982f7,#3f8ff7,#459af8,#4aa5f8,#4faff8,#54b8f9,#59c2f9,#5dccfa,#62d5fb,#66ddfb,#69e4fb,#6ce9fc,#6decfc,#6feffc,#70f1fc,#71f3fc,#72f5fd,#74f9fd,#75fbfa)"></i><i style="background:linear-gradient(90deg,#000288,#01038f,#010497,#01079f,#020aa7,#030eb0,#0413b9,#0619c3,#071dcd,#0920d8,#0920e3,#0b25ea,#0f2ceb,#1233ed,#163aef,#1942f2,#1e4cf3,#2559f5,#2b66f6,#3274f6,#3881f7,#3e8df7,#4497f7,#48a1f8,#4daaf8,#52b4f9,#57bef9,#5bc8fa,#60d0fa,#63d7fb,#65dcfb,#67e0fb,#69e3fb,#6ae5fc,#6be7fc,#6ceafc,#6eeefc,#71f3fd)"></i><i style="background:linear-gradient(90deg,#000286,#01038e,#010496,#01079e,#020aa7,#030eaf,#0412b8,#0518c1,#071cca,#081fd4,#0920de,#0920e9,#0d28ea,#102fec,#1335ee,#163cf0,#1a44f2,#1f4ef4,#255af5,#2c67f6,#3274f6,#387ff7,#3d8af7,#4294f7,#469df8,#4ba7f8,#50b1f9,#55bbf9,#59c4fa,#5dcbfa,#60d0fa,#62d4fb,#63d8fb,#65dafb,#66ddfb,#67e0fb,#69e3fb,#6be8fc)"></i><i style="background:linear-gradient(90deg,#000284,#00038d,#010495,#01069e,#020aa6,#030daf,#0412b7,#0517bf,#071bc8,#081ed0,#0920da,#0920e4,#0a24e9,#0e2aeb,#1130ec,#1436ee,#173df0,#1b45f2,#204ff4,#265bf5,#2c67f6,#3273f6,#377ef6,#3c88f7,#4091f7,#459bf8,#4aa5f8,#4faff8,#54b8f9,#57bff9,#5ac5fa,#5ccafa,#5ecdfa,#60d0fa,#61d3fa,#62d6fb,#64d9fb,#66ddfb)"></i></div>
<div class="p" style="left:46px;top:261px;width:112px;height:85px"><i style="background:linear-gradient(90deg,#0209a6,#030eb0,#0412b8,#0516be,#061ac5,#081dcd,#0920d6,#0920e3,#0c28ea,#1334ee,#1b44f2,#285ff5,#3983f7,#4eadf8,#64d9fb,#76fbf3,#7efbca,#90fca5,#a8fc85,#c0fd6d,#d8fe5e,#ecfe56,#feff54,#fcef4f,#fae24c,#f8d849,#f8d247,#f7cf46,#f7ce46,#f7cd45,#f7cd45,#f7ce46,#f7cf46,#f7d147,#f8d448,#f8d849,#f9db4a,#f9de4b,#fae14b)"></i><i style="background:linear-gradient(90deg,#0209a5,#020dae,#0412b6,#0516be,#061ac5,#081dcd,#0920d7,#0920e3,#0d28ea,#1334ee,#1b45f2,#2961f5,#3c88f7,#51b2f9,#67dffb,#76fbed,#81fbc4,#95fc9e,#affc7e,#cafd66,#e3fe59,#f8ff55,#fdf150,#fae04b,#f8d447,#f7cb45,#f6c643,#f5c343,#f5c242,#f5c242,#f5c343,#f6c443,#f6c643,#f6c844,#f6ca45,#f7cd45,#f7d046,#f8d347,#f8d648)"></i><i style="background:linear-gradient(90deg,#0208a3,#020dad,#0311b6,#0516bd,#061ac5,#081dcd,#0920d7,#0920e4,#0d28ea,#1335ee,#1c46f2,#2b65f5,#3e8df7,#54b9f9,#6ae6fc,#77fbe7,#84fbbd,#9afc96,#b6fd76,#d4fd60,#eefe56,#fef852,#fae34c,#f8d347,#f6c744,#f5be41,#f4b940,#f4b73f,#f4b73f,#f4b83f,#f4b940,#f4bb40,#f5bd41,#f5be41,#f5c042,#f5c242,#f6c543,#f6c844,#f7cc45)"></i><i style="background:linear-gradient(90deg,#0108a2,#020cac,#0311b5,#0515bd,#061ac5,#081dcd,#0920d7,#0920e4,#0d29ea,#1335ee,#1c48f3,#2c69f6,#4193f7,#58c0f9,#6eedfc,#78fbe0,#87fcb6,#a0fc8e,#bffd6e,#defe5b,#faff55,#fbea4e,#f8d548,#f6c543,#f4ba40,#f3b23e,#f3ae3d,#f3ac3c,#f3ac3c,#f3ae3d,#f3af3d,#f3b13e,#f3b33e,#f4b53f,#f4b73f,#f4b840,#f4bb40,#f5be41,#f5c343)"></i><i style="background:linear-gradient(90deg,#0107a1,#020cab,#0310b4,#0515bd,#061ac5,#081ece,#0920d8,#0920e5,#0d29ea,#1436ee,#1e4af3,#2f6df6,#4499f8,#5bc8fa,#72f5fd,#7afbd8,#8bfcae,#a7fc86,#c8fd67,#e9fe57,#fef752,#f9dc4a,#f6c844,#f4b840,#f3ad3d,#f2a63b,#f1a33a,#f1a139,#f1a239,#f2a33a,#f2a63a,#f2a83b,#f2aa3c,#f2ac3c,#f3ad3c,#f3af3d,#f3b13e,#f4b53f,#f4ba40)"></i><i style="background:linear-gradient(90deg,#0107a0,#020cab,#0310b4,#0515bd,#061ac5,#081ece,#0920d9,#0920e6,#0e2aeb,#1438ef,#1f4df3,#3172f6,#48a0f8,#5fd0fa,#75fbfa,#7dfbd0,#90fca5,#aefc7e,#d2fd61,#f4ff55,#fbea4e,#f7cf46,#f4ba40,#f2ac3c,#f1a239,#f19b38,#f09837,#f09737,#f09737,#f09937,#f19c38,#f19f39,#f1a139,#f1a23a,#f2a43a,#f2a53a,#f2a83b,#f2ac3c,#f3b23e)"></i><i style="background:linear-gradient(90deg,#0107a0,#020bab,#0310b4,#0515bd,#061ac5,#081ecf,#0920da,#0920e8,#0e2beb,#1539ef,#2050f4,#3477f6,#4ba7f8,#63d8fb,#76fbf2,#80fbc7,#96fc9c,#b6fd76,#dcfe5c,#ffff54,#f9dc4a,#f5c142,#f3ae3d,#f1a039,#f09637,#f09135,#ef8e34,#ef8d34,#ef8e34,#f09035,#f09236,#f09536,#f09837,#f09937,#f19b38,#f19d38,#f19f39,#f2a43a,#f2aa3c)"></i><i style="background:linear-gradient(90deg,#01079f,#020bab,#0310b4,#0515bd,#061ac6,#081ecf,#0920db,#0920e9,#0f2deb,#163bf0,#2254f4,#377df6,#4faff8,#68e1fb,#77fbe9,#83fbbe,#9cfc93,#bffd6e,#e6fe58,#fdf150,#f7cf46,#f4b53f,#f1a239,#f09436,#ef8c34,#ef8733,#ee8432,#ee8432,#ee8432,#ef8633,#ef8933,#ef8c34,#ef8f35,#f09135,#f09236,#f09436,#f09737,#f19c38,#f1a33a)"></i><i style="background:linear-gradient(90deg,#01079f,#020bab,#0310b4,#0516bd,#061ac6,#081ed0,#0920dc,#0921e9,#102eec,#173df0,#2458f5,#3a84f7,#53b7f9,#6ceafc,#78fbe0,#88fcb4,#a3fc8b,#c8fd67,#f0fe56,#fae44c,#f5c242,#f2a83b,#f09636,#ef8a33,#ee8232,#ee7e30,#ee7b30,#ee7b30,#ee7c30,#ee7e30,#ee8031,#ee8332,#ef8633,#ef8833,#ef8a33,#ef8d34,#f09035,#f09536,#f19c38)"></i><i style="background:linear-gradient(90deg,#01079f,#020bab,#0311b5,#0516be,#061bc7,#081fd1,#0920dd,#0a23e9,#1030ec,#183ff1,#265cf5,#3d8af7,#57bff9,#71f3fd,#7bfbd7,#8dfcab,#abfc82,#d1fd61,#fbff55,#f8d748,#f4b53f,#f19c38,#ef8b34,#ee8031,#ee792f,#ed752f,#ed732e,#ed732e,#ed732e,#ed752f,#ed782f,#ee7b30,#ee7e31,#ee8031,#ee8332,#ef8532,#ef8933,#ef8f35,#f09636)"></i><i style="background:linear-gradient(90deg,#01079f,#020cab,#0311b5,#0516be,#071bc8,#081fd2,#0920df,#0b24e9,#1131ed,#1942f2,#2961f5,#4191f7,#5bc7fa,#75fbfc,#7dfbce,#92fca2,#b3fd7a,#dbfe5c,#fef752,#f6cb45,#f2a93b,#f09135,#ee8131,#ed762f,#ed702e,#ed6d2d,#ed6c2d,#ed6b2c,#ed6c2d,#ed6d2d,#ed702e,#ed732e,#ed762f,#ee792f,#ee7b30,#ee7f31,#ee8332,#ef8933,#f09035)"></i><i style="background:linear-gradient(90deg,#01079f,#020cab,#0311b6,#0517bf,#071bc8,#081fd3,#0920e0,#0c26ea,#1233ed,#1b45f2,#2c67f6,#4499f8,#5fd0fa,#76fbf3,#81fbc4,#98fc99,#bbfd72,#e5fe58,#fbeb4e,#f5be41,#f19d38,#ef8633,#ed772f,#ed6e2d,#ec692c,#ec662b,#ec652b,#ec642b,#ec652b,#ec662b,#ec692c,#ed6c2d,#ed6f2d,#ed722e,#ed752f,#ee792f,#ee7d30,#ee8332,#ef8b34)"></i><i style="background:linear-gradient(90deg,#01079f,#020cac,#0412b6,#0517c0,#071cc9,#081fd4,#0920e2,#0d28ea,#1335ee,#1d49f3,#2f6df6,#48a0f8,#64d8fb,#77fbea,#84fcbb,#9ffc90,#c3fd6b,#eefe56,#f9df4b,#f3b33e,#f09235,#ee7c30,#ed6e2d,#ec662b,#ec622b,#ec602a,#ec5e2a,#ec5e2a,#ec5e2a,#ec602a,#ec622b,#ec652b,#ec682c,#ed6b2d,#ed6f2d,#ed732e,#ee782f,#ee7f31,#ef8733)"></i><i style="background:linear-gradient(90deg,#01079f,#020cac,#0412b7,#0517c0,#071cca,#0920d5,#0920e4,#0d2aea,#1437ef,#1f4cf3,#3273f6,#4ca8f8,#68e1fb,#78fbe2,#89fcb2,#a6fc88,#ccfd65,#f8ff55,#f8d347,#f2a73b,#ef8833,#ed732e,#ec662b,#ec5f2a,#ec5b29,#ec5a29,#eb5929,#eb5929,#eb5929,#ec5a29,#ec5c2a,#ec5f2a,#ec622b,#ec662b,#ec692c,#ed6e2d,#ed742e,#ee7a30,#ee8332)"></i><i style="background:linear-gradient(90deg,#01079f,#020cad,#0412b8,#0518c1,#071dcb,#0920d7,#0920e6,#0e2ceb,#153aef,#2151f4,#357af6,#4faff9,#6ce9fc,#7afbd9,#8efcaa,#adfc80,#d4fd60,#fefc54,#f6c844,#f19d38,#ee7e31,#ed6b2c,#ec5f2a,#eb5929,#eb5628,#eb5528,#eb5428,#eb5428,#eb5428,#eb5528,#eb5729,#ec5a29,#ec5d2a,#ec612a,#ec652b,#ec6a2c,#ed702d,#ed772f,#ee7f31)"></i><i style="background:linear-gradient(90deg,#01079f,#020dad,#0413b8,#0618c2,#071dcc,#0920d8,#0920e9,#0f2eeb,#173cf0,#2356f4,#3881f7,#53b7f9,#70f2fc,#7cfbd1,#93fca2,#b4fd79,#dcfe5b,#fdf250,#f5be41,#f09336,#ed752f,#ec632b,#eb5929,#eb5428,#eb5128,#eb5127,#eb5027,#eb5027,#eb5027,#eb5127,#eb5228,#eb5528,#eb5829,#ec5c29,#ec612a,#ec662b,#ed6c2d,#ed742e,#ee7c30)"></i><i style="background:linear-gradient(90deg,#0107a0,#020dae,#0413b9,#0619c3,#081dcd,#0920da,#0921e9,#1030ec,#183ff1,#265bf5,#3c88f7,#57bff9,#74fafd,#7ffbc9,#98fc9a,#bbfd72,#e4fe58,#fbe84d,#f3b43e,#ef8a33,#ed6e2d,#ec5d2a,#eb5328,#eb4f27,#eb4d27,#eb4d27,#eb4d27,#eb4c27,#eb4c27,#eb4d27,#eb4f27,#eb5128,#eb5528,#eb5829,#ec5d2a,#ec632b,#ec692c,#ed712e,#ee7a30)"></i><i style="background:linear-gradient(90deg,#0107a0,#020dae,#0413b9,#0619c4,#081ece,#0920dc,#0a23e9,#1132ed,#1a43f2,#2961f5,#408ff7,#5bc7fa,#75fbf6,#82fbc1,#9dfc93,#c1fd6c,#ecfe57,#f9de4b,#f2ab3c,#ee8231,#ec672c,#eb5729,#eb4f27,#eb4b27,#eb4a26,#eb4a26,#eb4a26,#eb4a26,#eb4a26,#eb4a26,#eb4c27,#eb4e27,#eb5128,#eb5528,#ec5a29,#ec602a,#ec672c,#ed6f2d,#ed782f)"></i><i style="background:linear-gradient(90deg,#0107a0,#020dae,#0414ba,#0619c4,#081ed0,#0920de,#0b25ea,#1234ed,#1c46f2,#2c67f6,#4397f7,#5fcffa,#76fbef,#85fcba,#a2fc8c,#c8fd68,#f3ff55,#f8d648,#f1a33a,#ee7b30,#ec602a,#eb5228,#eb4b27,#eb4826,#eb4826,#eb4826,#eb4826,#eb4826,#eb4726,#eb4826,#eb4926,#eb4c27,#eb4f27,#eb5328,#eb5829,#ec5e2a,#ec652b,#ed6d2d,#ed762f)"></i><i style="background:linear-gradient(90deg,#01079f,#020dae,#0414ba,#061ac5,#081fd1,#0920e0,#0c28ea,#1436ee,#1e4af3,#2f6ef6,#479ef8,#63d7fb,#77fbe7,#89fcb3,#a7fc86,#cdfd64,#f9ff55,#f7cf46,#f19c38,#ed742e,#ec5b29,#eb4e27,#eb4826,#eb4626,#eb4626,#eb4626,#eb4626,#eb4626,#eb4626,#eb4626,#eb4826,#eb4a26,#eb4e27,#eb5228,#eb5729,#ec5d2a,#ec642b,#ed6c2d,#ed752f)"></i><i style="background:linear-gradient(90deg,#01079f,#020dae,#0414ba,#061ac6,#081fd2,#0920e2,#0d2aea,#1539ef,#204ff4,#3274f6,#4ba6f8,#67dffb,#78fbe0,#8cfcad,#acfc81,#d3fd60,#ffff54,#f6c844,#f09636,#ed6f2d,#eb5729,#eb4b27,#eb4626,#eb4526,#eb4526,#eb4526,#eb4526,#eb4526,#eb4526,#eb4626,#eb4726,#eb4a26,#eb4d27,#eb5128,#eb5628,#ec5c29,#ec632b,#ed6b2c,#ed752e)"></i><i style="background:linear-gradient(90deg,#01079f,#020dae,#0414bb,#061ac6,#081fd3,#0920e4,#0f2ceb,#163bf0,#2254f4,#367bf6,#4faef8,#6be7fc,#7afbda,#8ffca7,#b0fc7c,#d7fe5e,#fefa53,#f5c343,#f09135,#ed6b2c,#eb5428,#eb4926,#eb4526,#eb4425,#eb4426,#eb4526,#eb4526,#eb4526,#eb4526,#eb4526,#eb4726,#eb4a26,#eb4d27,#eb5128,#eb5628,#ec5c29,#ec632b,#ed6b2c,#ed742e)"></i><i style="background:linear-gradient(90deg,#01069e,#020dae,#0414bb,#071bc7,#081fd5,#0920e7,#102eec,#183ef1,#2559f5,#3983f7,#53b6f9,#6eeefc,#7cfbd3,#93fca1,#b4fd78,#dbfe5c,#fdf551,#f5be41,#ef8d34,#ec672c,#eb5228,#eb4826,#eb4426,#eb4425,#eb4425,#eb4526,#eb4526,#eb4526,#eb4526,#eb4626,#eb4826,#eb4a26,#eb4e27,#eb5228,#eb5728,#ec5c2a,#ec632b,#ed6b2c,#ed742e)"></i><i style="background:linear-gradient(90deg,#01069d,#020dad,#0414bb,#071bc7,#0920d6,#0920e9,#1130ec,#1942f2,#285ff5,#3d8af7,#56bdf9,#72f6fd,#7dfbcd,#96fc9d,#b7fd75,#dffe5b,#fdf150,#f4bb40,#ef8a33,#ec652b,#eb5027,#eb4726,#eb4426,#eb4425,#eb4426,#eb4526,#eb4526,#eb4626,#eb4626,#eb4726,#eb4926,#eb4c27,#eb4f27,#eb5328,#eb5829,#ec5d2a,#ec642b,#ed6c2d,#ed752f)"></i><i style="background:linear-gradient(90deg,#01069c,#020cad,#0414ba,#071bc8,#0920d8,#0a22e9,#1232ed,#1b45f2,#2b65f5,#4192f7,#5ac5fa,#75fbfb,#7ffbc7,#99fc98,#bbfd72,#e2fe59,#fcee4f,#f4b840,#ef8733,#ec632b,#eb4f27,#eb4726,#eb4526,#eb4426,#eb4526,#eb4626,#eb4626,#eb4626,#eb4726,#eb4826,#eb4b27,#eb4e27,#eb5128,#eb5528,#ec5929,#ec5e2a,#ec652b,#ed6c2d,#ed752f)"></i><i style="background:linear-gradient(90deg,#01069c,#020cac,#0414ba,#071bc8,#0920d9,#0b24e9,#1335ee,#1d49f3,#2e6cf6,#4599f8,#5ecdfa,#76fbf5,#82fbc2,#9cfc94,#befd6f,#e4fe59,#fceb4e,#f4b63f,#ef8532,#ec622b,#eb4f27,#eb4726,#eb4526,#eb4526,#eb4526,#eb4626,#eb4726,#eb4726,#eb4826,#eb4a26,#eb4d27,#eb5027,#eb5428,#eb5729,#ec5b29,#ec602a,#ec662b,#ed6d2d,#ed762f)"></i><i style="background:linear-gradient(90deg,#01059b,#020cab,#0414ba,#071cc9,#0920db,#0c27ea,#1437ef,#1f4df4,#3172f6,#48a1f8,#62d5fb,#76fbee,#84fbbc,#9ffc90,#c1fd6d,#e7fe58,#fbe94e,#f3b43e,#ee8432,#ec612a,#eb4e27,#eb4726,#eb4626,#eb4626,#eb4626,#eb4726,#eb4826,#eb4826,#eb4926,#eb4c27,#eb4f27,#eb5228,#eb5628,#ec5929,#ec5d2a,#ec612a,#ec672c,#ed6e2d,#ed772f)"></i><i style="background:linear-gradient(90deg,#01059a,#020bab,#0414ba,#071cca,#0920dd,#0d29ea,#1539ef,#2152f4,#3579f6,#4ca9f8,#66dcfb,#77fbe8,#86fcb7,#a2fc8c,#c4fd6a,#eafe57,#fbe64d,#f3b23e,#ee8232,#ec602a,#eb4e27,#eb4826,#eb4626,#eb4626,#eb4726,#eb4826,#eb4826,#eb4926,#eb4b26,#eb4d27,#eb5127,#eb5528,#eb5829,#ec5c29,#ec5f2a,#ec632b,#ec682c,#ed6e2d,#ed772f)"></i><i style="background:linear-gradient(90deg,#010599,#020baa,#0414ba,#071cca,#0920de,#0e2beb,#163cf0,#2457f5,#3880f7,#50b0f9,#69e4fb,#78fbe1,#89fcb2,#a5fc88,#c7fd68,#ecfe56,#fae34c,#f3b03d,#ee8131,#ec5f2a,#eb4e27,#eb4826,#eb4726,#eb4726,#eb4726,#eb4826,#eb4926,#eb4a26,#eb4b27,#eb4e27,#eb5228,#eb5728,#ec5a29,#ec5e2a,#ec602a,#ec642b,#ec682c,#ed6e2d,#ed772f)"></i><i style="background:linear-gradient(90deg,#010598,#020ba9,#0413ba,#071ccb,#0920e0,#0f2deb,#183ff1,#265cf5,#3b87f7,#53b7f9,#6debfc,#79fbdb,#8cfcad,#a8fc84,#cafd66,#f0fe56,#fae04b,#f3ad3c,#ee7f31,#ec5e2a,#eb4e27,#eb4826,#eb4726,#eb4726,#eb4726,#eb4826,#eb4826,#eb4a26,#eb4c27,#eb4f27,#eb5328,#eb5829,#ec5c29,#ec5f2a,#ec612a,#ec642b,#ec682c,#ed6e2d,#ed772f)"></i><i style="background:linear-gradient(90deg,#010597,#020ba9,#0414ba,#071dcc,#0920e3,#102fec,#1942f1,#2961f5,#3f8df7,#57bff9,#70f2fc,#7bfbd5,#8ffca8,#acfc80,#cefd63,#f4ff55,#f9dc4a,#f2aa3c,#ee7d30,#ec5d2a,#eb4d27,#eb4726,#eb4626,#eb4626,#eb4626,#eb4726,#eb4826,#eb4926,#eb4c27,#eb4f27,#eb5428,#eb5929,#ec5d2a,#ec602a,#ec622b,#ec642b,#ec682c,#ed6e2d,#ed762f)"></i><i style="background:linear-gradient(90deg,#010496,#020aa8,#0414ba,#081dcd,#0920e5,#1131ec,#1b45f2,#2b66f6,#4294f7,#5ac6fa,#74f9fd,#7dfbcf,#92fca3,#b0fc7c,#d3fd60,#f8ff55,#f8d748,#f2a63b,#ee7a30,#ec5b29,#eb4c27,#eb4726,#eb4626,#eb4526,#eb4526,#eb4626,#eb4626,#eb4826,#eb4a26,#eb4e27,#eb5328,#eb5829,#ec5c2a,#ec5f2a,#ec612b,#ec642b,#ec672c,#ed6d2d,#ed752f)"></i><i style="background:linear-gradient(90deg,#010496,#020aa8,#0414ba,#081ece,#0920e7,#1232ed,#1c48f3,#2e6cf6,#459af8,#5ecdfa,#75fbf8,#7ffbc9,#95fc9d,#b4fd78,#d8fe5e,#feff54,#f7d046,#f1a139,#ed772f,#ec5929,#eb4b27,#eb4526,#eb4426,#eb4425,#eb4325,#eb4325,#eb4426,#eb4626,#eb4926,#eb4c27,#eb5228,#eb5729,#ec5b29,#ec5e2a,#ec602a,#ec622b,#ec662b,#ed6b2c,#ed732e)"></i><i style="background:linear-gradient(90deg,#010495,#020aa8,#0414bb,#081ecf,#0920e9,#1334ee,#1e4bf3,#3171f6,#48a1f8,#61d3fa,#76fbf2,#81fbc4,#99fc98,#b9fd73,#defe5b,#fef852,#f6c944,#f19b38,#ed732e,#eb5728,#eb4926,#eb4325,#ea4225,#ea4125,#ea4125,#ea4125,#ea4125,#ea4325,#eb4626,#eb4a26,#eb4f27,#eb5428,#eb5829,#ec5b29,#ec5e2a,#ec602a,#ec632b,#ec682c,#ed702d)"></i><i style="background:linear-gradient(90deg,#010495,#020aa8,#0414bb,#081fd1,#0a23e9,#1436ee,#204ff4,#3377f6,#4ba7f8,#64dafb,#76fbec,#83fbbe,#9dfc93,#befd6f,#e4fe59,#fcf050,#f5c142,#f09436,#ed6e2d,#eb5328,#eb4626,#ea4125,#ea3f25,#ea3e25,#ea3e25,#ea3e25,#ea3e25,#ea4025,#ea4225,#eb4626,#eb4b27,#eb5027,#eb5528,#eb5829,#ec5a29,#ec5d2a,#ec602a,#ec652b,#ed6c2d)"></i><i style="background:linear-gradient(90deg,#010495,#020aa8,#0415bc,#081fd2,#0b25ea,#1539ef,#2253f4,#367cf6,#4eacf8,#67e0fb,#77fbe7,#86fcb9,#a1fc8e,#c4fd6b,#ebfe57,#fbe64d,#f4b83f,#ef8c34,#ec682c,#eb5027,#eb4425,#ea3f25,#ea3d25,#ea3c24,#ea3b24,#ea3b24,#ea3b24,#ea3c24,#ea3f25,#ea4225,#eb4726,#eb4c27,#eb5027,#eb5428,#eb5628,#eb5929,#ec5c2a,#ec612a,#ec682c)"></i><i style="background:linear-gradient(90deg,#010495,#020aa9,#0515bd,#081fd4,#0c27ea,#163bf0,#2457f4,#3981f7,#51b2f9,#6ae6fc,#78fbe1,#88fcb3,#a5fc89,#c9fd66,#f2ff55,#f9dd4a,#f3ae3d,#ee8432,#ec622b,#eb4c27,#ea4125,#ea3c24,#ea3a24,#ea3924,#ea3824,#ea3824,#ea3824,#ea3924,#ea3b24,#ea3e25,#ea4225,#eb4726,#eb4b27,#eb4f27,#eb5228,#eb5528,#eb5829,#ec5d2a,#ec632b)"></i><i style="background:linear-gradient(90deg,#010495,#020ba9,#0516be,#0920d6,#0d29ea,#173df0,#265bf5,#3b86f7,#53b8f9,#6debfc,#79fbdc,#8bfcae,#a9fc84,#cffd63,#f9ff55,#f8d347,#f2a43a,#ee7c30,#ec5c2a,#eb4826,#ea3e25,#ea3924,#ea3724,#ea3624,#ea3624,#ea3524,#ea3624,#ea3624,#ea3824,#ea3a24,#ea3e25,#ea4225,#eb4626,#eb4926,#eb4d27,#eb5027,#eb5328,#eb5829,#ec5e2a)"></i><i style="background:linear-gradient(90deg,#010495,#020ba9,#0516bf,#0920d8,#0e2aeb,#183ff1,#285ff5,#3e8bf7,#56bdf9,#70f1fc,#7bfbd7,#8efca9,#adfc7f,#d4fd5f,#fffd54,#f6c944,#f19a38,#ed732e,#eb5628,#eb4426,#ea3b24,#ea3724,#ea3524,#ea3423,#ea3423,#ea3323,#ea3423,#ea3423,#ea3524,#ea3724,#ea3a24,#ea3d25,#ea4125,#eb4426,#eb4726,#eb4a26,#eb4e27,#eb5228,#eb5829)"></i><i style="background:linear-gradient(90deg,#010495,#020baa,#0517bf,#0920d9,#0f2ceb,#1941f1,#2a63f5,#4090f7,#59c2f9,#72f6fd,#7cfbd2,#91fca4,#b1fc7b,#dafe5c,#fdf451,#f5bf42,#f09135,#ed6b2c,#eb5027,#ea4025,#ea3824,#ea3524,#ea3323,#e73223,#e43122,#e33122,#e33122,#e63223,#ea3323,#ea3524,#ea3724,#ea3924,#ea3c24,#ea3f25,#ea4225,#eb4526,#eb4826,#eb4d27,#eb5228)"></i><i style="background:linear-gradient(90deg,#010495,#020baa,#0517c0,#0920db,#0f2eec,#1a44f2,#2c67f6,#4295f7,#5bc7fa,#75fbfd,#7dfbce,#94fca0,#b5fd77,#e0fe5a,#fcec4f,#f4b63f,#ef8733,#ec632b,#eb4b27,#ea3d24,#ea3624,#ea3323,#e43122,#df3021,#db2f20,#da2f20,#db2f20,#de3021,#e23122,#e73223,#ea3423,#ea3624,#ea3824,#ea3a24,#ea3d25,#ea4025,#ea4325,#eb4726,#eb4b27)"></i><i style="background:linear-gradient(90deg,#010496,#020baa,#0518c1,#0920dd,#102fec,#1b46f2,#2e6bf6,#4599f8,#5dccfa,#75fbf9,#7ffbc9,#96fc9c,#b9fd73,#e5fe58,#fae44c,#f3ad3d,#ee7e31,#ec5c29,#eb4526,#ea3924,#ea3424,#e43122,#dc2f21,#d62e1f,#d32d1f,#d22d1e,#d22d1f,#d52e1f,#d92f20,#de3021,#e43222,#ea3323,#ea3524,#ea3724,#ea3924,#ea3b24,#ea3e25,#ea4125,#eb4526)"></i><i style="background:linear-gradient(90deg,#010496,#020bab,#0618c2,#0920de,#1130ec,#1d48f3,#2f6ff6,#479ef8,#60d0fa,#76fbf5,#80fbc5,#99fc98,#bdfd70,#eafe57,#f9dd4a,#f2a53a,#ed762f,#eb5528,#ea4125,#ea3724,#e83323,#dc2f21,#d42d1f,#ce2c1e,#ca2b1d,#c92a1d,#ca2b1d,#cc2b1d,#d02c1e,#d52e1f,#db2f20,#e13122,#e73223,#ea3423,#ea3524,#ea3724,#ea3924,#ea3c24,#ea3f25)"></i><i style="background:linear-gradient(90deg,#010496,#020bab,#0618c2,#0920df,#1132ed,#1e4bf3,#3172f6,#49a2f8,#62d5fb,#76fbf1,#82fbc1,#9cfc94,#c1fd6d,#effe56,#f8d748,#f19e38,#ed6f2d,#eb4f27,#ea3d25,#ea3524,#e13121,#d42d1f,#cb2b1d,#c5291c,#c2291b,#c1281b,#c1281b,#c4291c,#c72a1c,#cc2b1d,#d12d1e,#d72e20,#dd3021,#e33122,#e93323,#ea3423,#ea3624,#ea3824,#ea3a24)"></i><i style="background:linear-gradient(90deg,#010496,#020cab,#0618c3,#0920e1,#1233ed,#1f4df3,#3376f6,#4ba6f8,#64d9fb,#76fbed,#84fbbd,#9efc91,#c4fd6a,#f3ff55,#f7d147,#f09837,#ec692c,#eb4a26,#ea3924,#ea3323,#d92f20,#cd2b1d,#c3291c,#bd271a,#ba261a,#b9261a,#ba261a,#bc271a,#bf281b,#c3291c,#c82a1d,#cd2c1e,#d32d1f,#d82e20,#de3021,#e43222,#ea3323,#ea3524,#ea3624)"></i><i style="background:linear-gradient(90deg,#010497,#020cab,#0619c3,#0920e2,#1234ed,#204ff4,#3579f6,#4daaf8,#66ddfb,#77fbe9,#85fcba,#a1fc8e,#c7fd68,#f6ff55,#f7cc45,#f09236,#ec642b,#eb4526,#ea3724,#e33122,#d22d1f,#c5291c,#bc271a,#b52519,#b22418,#b12418,#b22418,#b42519,#b72619,#bb271a,#bf281b,#c3291c,#c82a1d,#ce2c1e,#d32d1f,#d92f20,#df3021,#e53222,#ea3323)"></i><i style="background:linear-gradient(90deg,#010597,#020cab,#0619c3,#0920e3,#1335ee,#2151f4,#367df6,#4faef8,#68e1fb,#77fbe6,#87fcb7,#a3fc8b,#cafd66,#faff55,#f6c844,#ef8e34,#ec5f2a,#ea4225,#ea3524,#dc2f21,#cb2b1d,#bd271a,#b42519,#ae2317,#ab2317,#aa2217,#ab2217,#ad2317,#af2418,#b22418,#b62519,#ba261a,#be281b,#c3291c,#c92a1d,#ce2c1e,#d42d1f,#da2f20,#e03121)"></i><i style="background:linear-gradient(90deg,#010597,#020cab,#0619c3,#0920e3,#1336ee,#2253f4,#3880f7,#50b1f9,#69e4fb,#78fbe3,#88fcb4,#a5fc88,#cdfd64,#fcff55,#f6c443,#ef8a34,#ec5c29,#ea3f25,#ea3423,#d62e1f,#c4291c,#b62619,#ad2317,#a72116,#a42115,#a32115,#a42115,#a62116,#a82216,#ab2217,#ad2317,#b12418,#b42519,#b9261a,#be281b,#c4291c,#ca2b1d,#d02c1e,#d62e1f)"></i><i style="background:linear-gradient(90deg,#010597,#020cab,#0619c3,#0920e4,#1437ee,#2355f4,#3982f7,#52b4f9,#6be7fc,#78fbe0,#89fcb2,#a7fc86,#cffd63,#ffff54,#f5c242,#ef8733,#eb5929,#ea3d25,#e73223,#d02c1e,#bd271a,#b02418,#a62116,#a02015,#9e1f14,#9d1f14,#9e1f14,#9f1f14,#a12015,#a32015,#a52116,#a82216,#ab2317,#af2418,#b42519,#b9261a,#bf281b,#c5291c,#cb2b1d)"></i><i style="background:linear-gradient(90deg,#010597,#020bab,#0619c4,#0920e5,#1437ef,#2457f5,#3a85f7,#53b7f9,#6ceafc,#79fbde,#8afcaf,#a9fc84,#d0fd62,#fffd54,#f5bf42,#ef8532,#eb5728,#ea3b24,#e33122,#cb2b1d,#b82619,#aa2217,#a02015,#9b1e14,#981e13,#971d13,#981d13,#991e13,#9a1e14,#9c1f14,#9d1f14,#9f1f14,#a22015,#a62116,#aa2217,#af2418,#b52519,#bb271a,#c1281b)"></i><i style="background:linear-gradient(90deg,#010597,#020bab,#0619c4,#0920e6,#1438ef,#2458f5,#3b87f7,#54b9f9,#6decfc,#79fbdc,#8bfcae,#aafc83,#d2fd61,#fefb53,#f5be41,#ee8432,#eb5528,#ea3a24,#e03021,#c62a1c,#b32518,#a52116,#9b1e14,#951d13,#931c12,#921c12,#921c12,#931c12,#941d12,#951d13,#961d13,#981d13,#9a1e13,#9d1f14,#a12015,#a62116,#ab2317,#b12418,#b82619)"></i><i style="background:linear-gradient(90deg,#010497,#020baa,#0619c4,#0920e6,#1538ef,#255af5,#3c89f7,#55bbf9,#6eeefc,#7afbda,#8cfcac,#abfc82,#d3fd60,#fefa53,#f5bd41,#ee8332,#eb5428,#ea3924,#dd3021,#c3291c,#af2418,#a12015,#971d13,#911c12,#8e1b11,#8d1b11,#8e1b11,#8e1b11,#8f1b11,#8f1b11,#901b11,#911c12,#921c12,#951d12,#991e13,#9d1f14,#a32015,#a92216,#af2418)"></i><i style="background:linear-gradient(90deg,#010496,#020baa,#0619c4,#0920e7,#1539ef,#265bf5,#3d8af7,#56bdf9,#6ff0fc,#7afbd9,#8dfcab,#abfc81,#d3fd60,#fefa53,#f5bd41,#ee8332,#eb5428,#ea3924,#db2f20,#c1281b,#ac2317,#9d1f14,#931c12,#8d1b11,#8a1a10,#891a10,#891a10,#8a1a10,#8a1a10,#8a1a10,#8a1a10,#8a1a10,#8b1a11,#8e1b11,#911c12,#961d13,#9b1e14,#a12015,#a82216)"></i><i style="background:linear-gradient(90deg,#010496,#020baa,#0619c4,#0920e7,#1539ef,#265cf5,#3e8bf7,#57bef9,#70f1fc,#7afbd8,#8dfcab,#acfc81,#d3fd60,#fefa53,#f5bd41,#ee8432,#eb5428,#ea3924,#db2f20,#bf281b,#ab2217,#9b1e14,#911c12,#8b1a10,#881910,#861910,#86190f,#86190f,#86190f,#85190f,#85190f,#85190f,#86190f,#881910,#8b1a10,#8f1b11,#941d12,#9a1e14,#a12015)"></i><i style="background:linear-gradient(90deg,#010495,#020baa,#0619c4,#0920e8,#153aef,#265cf5,#3e8cf7,#57bef9,#70f1fc,#7afbd8,#8dfcab,#abfc81,#d3fd60,#fefb53,#f5be41,#ef8532,#eb5528,#ea3924,#db2f20,#c0281b,#aa2217,#9b1e14,#901b11,#891a10,#86190f,#84180f,#83180f,#82180f,#82180f,#81180f,#81170e,#80170e,#81180e,#83180f,#86190f,#8a1a10,#8f1b11,#951d12,#9c1f14)"></i><i style="background:linear-gradient(90deg,#010494,#020baa,#0619c4,#0920e8,#163aef,#275df5,#3e8cf7,#57bff9,#70f1fc,#7afbd8,#8dfcab,#abfc82,#d2fd60,#fefc53,#f5c042,#ef8633,#eb5728,#ea3a24,#dd3021,#c1281b,#ab2317,#9b1e14,#901b11,#891a10,#84180f,#82180f,#81170e,#80170e,#7f170e,#7e170e,#7d170e,#7d160e,#7d170e,#7f170e,#82180f,#86190f,#8b1a10,#911c12,#981e13)"></i><i style="background:linear-gradient(90deg,#010493,#020baa,#0619c4,#0920e8,#163af0,#275df5,#3e8cf7,#57bef9,#70f0fc,#7afbd9,#8cfcac,#aafc82,#d1fd61,#fffe54,#f5c242,#ef8933,#eb5929,#ea3b24,#df3021,#c3291c,#ad2317,#9d1f14,#911c12,#891a10,#84180f,#81180e,#7f170e,#7e170e,#7d160e,#7c160d,#7b160d,#7a160d,#7b160d,#7c160e,#7f170e,#83180f,#881910,#8e1b11,#961d13)"></i><i style="background:linear-gradient(90deg,#010492,#020ba9,#061ac5,#0920e9,#163af0,#275df5,#3e8cf7,#56bef9,#6ff0fc,#7afbda,#8cfcad,#a9fc84,#d0fd62,#feff54,#f6c543,#ef8b34,#ec5b29,#ea3d24,#e23122,#c62a1c,#b02418,#9f1f14,#931c12,#8a1a10,#85180f,#81180e,#7f170e,#7d160e,#7b160d,#7a160d,#79150d,#79150d,#79150d,#7b160d,#7e170e,#82180f,#871910,#8d1b11,#941d12)"></i><i style="background:linear-gradient(90deg,#010391,#020ba9,#061ac5,#0920e9,#163af0,#265cf5,#3e8bf7,#56bdf9,#6eeefc,#79fbdb,#8bfcaf,#a8fc85,#cefd63,#fcff55,#f6c844,#ef8f35,#ec5e2a,#ea3f25,#e63223,#ca2b1d,#b42519,#a22015,#961d13,#8c1b11,#86190f,#82180f,#7f170e,#7c160e,#7b160d,#79160d,#78150d,#78150d,#79150d,#7a160d,#7d170e,#81180e,#86190f,#8d1b11,#941c12)"></i><i style="background:linear-gradient(90deg,#010390,#020ba9,#061ac5,#0920e9,#163af0,#265cf5,#3d8af7,#55bbf9,#6eecfc,#79fbdd,#8afcb1,#a6fc87,#cbfd65,#f9ff55,#f7cb45,#f09235,#ec622b,#ea4125,#ea3323,#ce2c1e,#b82619,#a62116,#991e13,#8f1b11,#881910,#83180f,#7f170e,#7d160e,#7b160d,#7a160d,#79150d,#78150d,#79150d,#7b160d,#7e170e,#82180f,#871910,#8d1b11,#951d12)"></i><i style="background:linear-gradient(90deg,#01038f,#020aa9,#061ac5,#0920e9,#153aef,#265bf5,#3c89f7,#54b9f9,#6ceafc,#79fbdf,#88fcb3,#a4fc8a,#c9fd67,#f6ff55,#f7cf46,#f09737,#ec662b,#eb4425,#ea3524,#d32d1f,#bd271a,#ab2317,#9d1f14,#931c12,#8b1a10,#85190f,#81180f,#7e170e,#7c160e,#7b160d,#7a160d,#7a160d,#7b160d,#7d160e,#80170e,#84180f,#891a10,#8f1b11,#971d13)"></i><i style="background:linear-gradient(90deg,#01038e,#020aa8,#061ac5,#0920e9,#153aef,#255af5,#3c87f7,#53b7f9,#6be8fc,#78fbe2,#87fcb6,#a2fc8d,#c6fd69,#f2ff55,#f8d447,#f19b38,#ed6a2c,#eb4726,#ea3624,#d92f20,#c2291b,#b02418,#a22015,#971d13,#8f1b11,#881910,#84180f,#81170e,#7f170e,#7d170e,#7d160e,#7d160e,#7e170e,#80170e,#83180f,#871910,#8c1a11,#921c12,#991e13)"></i><i style="background:linear-gradient(90deg,#01038e,#020aa8,#0619c4,#0920e8,#1539ef,#2559f5,#3b85f7,#52b5f9,#6ae5fc,#77fbe5,#85fcb9,#9ffc90,#c3fd6b,#effe56,#f9d849,#f1a039,#ed6f2d,#eb4b27,#ea3824,#de3021,#c82a1d,#b62519,#a82216,#9c1f14,#931c12,#8c1b11,#881910,#84180f,#82180f,#81170e,#80170e,#80170e,#81180f,#84180f,#871910,#8b1a10,#901b11,#961d13,#9d1f14)"></i><i style="background:linear-gradient(90deg,#00038d,#020aa8,#0619c4,#0920e7,#1538ef,#2457f5,#3983f7,#51b2f9,#68e1fb,#77fbe8,#84fbbd,#9dfc93,#bffd6e,#eafe57,#f9de4a,#f2a63a,#ed742e,#eb5027,#ea3a24,#e43122,#cd2c1e,#bc271a,#ad2317,#a22015,#981e13,#911c12,#8c1a11,#891a10,#871910,#85190f,#85190f,#85190f,#861910,#891a10,#8c1a11,#901b11,#951d12,#9b1e14,#a22015)"></i><i style="background:linear-gradient(90deg,#00038c,#020aa7,#0619c3,#0920e6,#1438ef,#2356f4,#3880f7,#4faff8,#66defb,#76fbec,#82fbc1,#9afc97,#bcfd71,#e6fe58,#fae34c,#f2ab3c,#ee7a30,#eb5428,#ea3c24,#e93323,#d32d1f,#c2291b,#b42519,#a82216,#9e1f14,#971d13,#921c12,#8e1b11,#8c1a11,#8b1a10,#8b1a10,#8b1a10,#8c1b11,#8f1b11,#921c12,#961d13,#9b1e14,#a12015,#a82216)"></i><i style="background:linear-gradient(90deg,#00038c,#020aa7,#0619c3,#0920e5,#1437ee,#2254f4,#377ef6,#4dabf8,#64dafb,#76fbf0,#80fbc5,#97fc9b,#b8fd75,#e2fe59,#fbe94e,#f3b13e,#ee8031,#eb5929,#ea3f25,#ea3424,#d92f20,#c82a1d,#ba271a,#af2418,#a52116,#9d1f14,#981e13,#951d12,#931c12,#921c12,#921c12,#921c12,#931c12,#961d13,#991e13,#9d1f14,#a22015,#a82216,#ae2317)"></i><i style="background:linear-gradient(90deg,#00028c,#0209a6,#0618c2,#0920e4,#1336ee,#2152f4,#357bf6,#4ca8f8,#62d6fb,#76fbf5,#7ffbca,#94fca0,#b4fd78,#ddfe5b,#fcf050,#f4b83f,#ef8632,#ec5e2a,#ea4325,#ea3624,#df3021,#ce2c1e,#c1281b,#b62519,#ac2317,#a52116,#a02015,#9d1f14,#9b1e14,#9a1e13,#9a1e13,#9a1e13,#9c1e14,#9e1f14,#a12015,#a52116,#aa2217,#b02418,#b62519)"></i><i style="background:linear-gradient(90deg,#00028c,#0209a6,#0518c1,#0920e2,#1335ee,#2050f4,#3477f6,#4aa4f8,#60d1fa,#75fbf9,#7dfbcf,#91fca5,#b0fc7d,#d8fe5e,#fdf652,#f5bf41,#ef8c34,#ec642b,#eb4726,#ea3824,#e53222,#d52e1f,#c92a1d,#be271b,#b42519,#ad2317,#a82216,#a52116,#a42115,#a32015,#a32015,#a32015,#a42115,#a72116,#aa2217,#ae2317,#b32518,#b82619,#be271b)"></i><i style="background:linear-gradient(90deg,#00028c,#0209a5,#0517c0,#0920e0,#1233ed,#1f4df4,#3274f6,#48a0f8,#5eccfa,#74fafd,#7bfbd4,#8efcaa,#abfc81,#d3fd60,#fffd54,#f6c643,#f09336,#ec692c,#eb4b27,#ea3a24,#ea3323,#dc2f21,#d02c1e,#c62a1c,#bd271a,#b52519,#b12418,#ae2317,#ad2317,#ac2317,#ac2317,#ad2317,#ae2317,#b02418,#b42519,#b82619,#bd271a,#c1281b,#c62a1c)"></i><i style="background:linear-gradient(90deg,#00038c,#0209a5,#0517bf,#0920df,#1232ed,#1e4bf3,#3070f6,#469bf8,#5bc8fa,#71f4fd,#7afbd9,#8bfcaf,#a7fc86,#cdfd64,#fbff55,#f7cd45,#f19a37,#ed702d,#eb5027,#ea3d25,#ea3524,#e33122,#d82e20,#ce2c1e,#c5291c,#be281b,#ba261a,#b82619,#b72619,#b72619,#b72619,#b72619,#b82619,#bb271a,#be281b,#c2291b,#c72a1c,#cb2b1d,#d02c1e)"></i><i style="background:linear-gradient(90deg,#00038c,#0209a4,#0516be,#0920dd,#1131ec,#1d49f3,#2f6df6,#4397f7,#59c2f9,#6feffc,#79fbdf,#88fcb5,#a3fc8b,#c8fd67,#f4ff55,#f8d448,#f1a239,#ed762f,#eb5528,#ea4025,#ea3724,#ea3323,#e03121,#d72e20,#cf2c1e,#c82a1d,#c4291c,#c2291b,#c2291b,#c2281b,#c1281b,#c2281b,#c3291c,#c5291c,#c92a1d,#cd2b1e,#d12d1e,#d52e1f,#d92f20)"></i><i style="background:linear-gradient(90deg,#00038c,#0208a4,#0515bd,#0920db,#102fec,#1c46f2,#2d69f6,#4192f7,#56bdf9,#6ce9fc,#78fbe5,#85fcbb,#9efc91,#c2fd6b,#eefe56,#f9dc4a,#f2a93b,#ee7d30,#ec5a29,#eb4426,#ea3924,#ea3524,#e93323,#e03121,#d82e20,#d22d1f,#ce2c1e,#cd2b1e,#cd2b1e,#cd2b1e,#cd2b1e,#cd2b1e,#ce2c1e,#d02c1e,#d42d1f,#d82e20,#dc2f21,#e03021,#e33122)"></i><i style="background:linear-gradient(90deg,#00038d,#0208a3,#0415bc,#0920d9,#0f2deb,#1a44f2,#2b65f5,#3f8ef7,#53b7f9,#69e2fb,#77fbeb,#82fbc1,#9afc97,#bdfd70,#e8fe58,#fae44c,#f3b13e,#ee8432,#ec602a,#eb4926,#ea3d25,#ea3724,#ea3524,#ea3323,#e23122,#dc2f21,#d92f20,#d82e20,#d82e20,#d92e20,#d82e20,#d82e20,#d92f20,#dc2f21,#df3021,#e33122,#e73223,#ea3323,#ea3423)"></i><i style="background:linear-gradient(90deg,#00038d,#0108a2,#0414ba,#0920d6,#0f2ceb,#1942f2,#2961f5,#3c89f7,#51b2f9,#66dcfb,#76fbf1,#80fbc7,#96fc9c,#b7fd75,#e1fe5a,#fced4f,#f4b940,#ef8c34,#ec672c,#eb4e27,#ea4125,#ea3b24,#ea3824,#ea3524,#ea3423,#e73223,#e43122,#e33122,#e43222,#e43222,#e43222,#e43122,#e53222,#e73223,#ea3323,#ea3423,#ea3524,#ea3624,#ea3724)"></i><i style="background:linear-gradient(90deg,#00038d,#0108a2,#0413b9,#081fd4,#0e2aeb,#183ff1,#275df5,#3a84f7,#4eacf8,#62d6fb,#75fbf7,#7dfbcd,#92fca3,#b2fc7a,#dbfe5c,#fdf551,#f5c242,#f09436,#ed6e2d,#eb5428,#eb4626,#ea3f25,#ea3b24,#ea3924,#ea3624,#ea3524,#ea3423,#ea3423,#ea3524,#ea3524,#ea3524,#ea3524,#ea3524,#ea3524,#ea3624,#ea3724,#ea3924,#ea3a24,#ea3b24)"></i><i style="background:linear-gradient(90deg,#00038d,#0107a1,#0413b8,#081fd2,#0d28ea,#173df0,#255af5,#377ff7,#4ba6f8,#5fcffa,#74fbfd,#7bfbd4,#8efca9,#adfc80,#d4fd60,#fffe54,#f6cb45,#f19c38,#ed752f,#ec5a29,#eb4b27,#eb4426,#ea4025,#ea3d25,#ea3a24,#ea3824,#ea3724,#ea3824,#ea3824,#ea3824,#ea3824,#ea3824,#ea3824,#ea3924,#ea3b24,#ea3c24,#ea3e25,#ea4025,#ea4125)"></i><i style="background:linear-gradient(90deg,#00038d,#0107a0,#0412b7,#081ed0,#0c26ea,#163bf0,#2356f4,#3579f6,#48a0f8,#5cc9fa,#71f4fd,#7afbda,#8afcaf,#a7fc86,#cdfd64,#f8ff55,#f8d447,#f2a53a,#ee7d30,#ec612b,#eb5228,#eb4b26,#eb4626,#ea4325,#ea3f25,#ea3d25,#ea3c24,#ea3c24,#ea3d25,#ea3e25,#ea3d25,#ea3d25,#ea3e25,#ea3f25,#ea4125,#ea4325,#eb4526,#eb4726,#eb4826)"></i><i style="background:linear-gradient(90deg,#00038c,#0107a0,#0311b6,#081ecf,#0b24e9,#1539ef,#2152f4,#3274f6,#459af8,#59c2f9,#6eedfc,#78fbe1,#87fcb6,#a2fc8c,#c7fd68,#f0fe56,#f9dd4a,#f3ae3d,#ef8632,#ec692c,#ec5929,#eb5228,#eb4d27,#eb4926,#eb4626,#ea4325,#ea4225,#ea4325,#eb4425,#eb4426,#eb4426,#eb4425,#eb4426,#eb4626,#eb4826,#eb4b27,#eb4d27,#eb4f27,#eb5027)"></i><i style="background:linear-gradient(90deg,#00028c,#01079f,#0311b5,#081dcd,#0a22e9,#1437ef,#204ef4,#306ff6,#4294f7,#55bcf9,#6ae6fc,#77fbe7,#84fbbc,#9dfc92,#c0fd6d,#e9fe57,#fbe74d,#f4b83f,#ef8f35,#ed722e,#ec622b,#ec5929,#eb5528,#eb5128,#eb4d27,#eb4a26,#eb4926,#eb4a26,#eb4c27,#eb4c27,#eb4c27,#eb4c27,#eb4c27,#eb4e27,#eb5027,#eb5328,#eb5628,#eb5829,#eb5829)"></i><i style="background:linear-gradient(90deg,#00028b,#01079e,#0310b3,#071dcb,#0920e9,#1335ee,#1e4bf3,#2d6af6,#3f8ef7,#52b5f9,#67dffb,#76fbee,#81fbc3,#99fc98,#bafd73,#e1fe5a,#fdf150,#f5c242,#f09937,#ee7c30,#ed6a2c,#ec622b,#ec5d2a,#eb5929,#eb5528,#eb5228,#eb5128,#eb5228,#eb5428,#eb5528,#eb5428,#eb5428,#eb5428,#eb5628,#eb5929,#ec5c29,#ec5f2a,#ec612a,#ec612a)"></i><i style="background:linear-gradient(90deg,#00028a,#01069d,#030fb3,#071cca,#0920e6,#1233ed,#1c48f3,#2b65f5,#3c88f7,#4faef8,#63d8fb,#76fbf5,#7ffbc9,#94fc9f,#b4fd78,#d9fe5d,#fefc53,#f7cd45,#f2a43a,#ef8632,#ed742e,#ed6b2c,#ec662b,#ec622b,#ec5d2a,#ec5a29,#ec5a29,#ec5b29,#ec5c2a,#ec5d2a,#ec5d2a,#ec5c2a,#ec5d2a,#ec5f2a,#ec622b,#ec652b,#ec682c,#ec6a2c,#ed6a2c)"></i><i style="background:linear-gradient(90deg,#000289,#01069d,#030fb2,#071bc8,#0920e4,#1131ed,#1b45f2,#2860f5,#3982f7,#4ca8f8,#60d1fa,#75fbfb,#7dfbd0,#90fca6,#aefc7f,#d1fd61,#f9ff55,#f8d849,#f3b03d,#f09135,#ee7f31,#ed752f,#ed6f2d,#ed6a2c,#ec662b,#ec632b,#ec622b,#ec632b,#ec652b,#ec652b,#ec652b,#ec652b,#ec652b,#ec672c,#ed6a2c,#ed6d2d,#ed712e,#ed732e,#ed732e)"></i><i style="background:linear-gradient(90deg,#000288,#01069c,#030fb1,#061bc7,#0920e1,#102fec,#1942f2,#265bf5,#367cf6,#49a2f8,#5dcafa,#73f7fd,#7bfbd6,#8cfcac,#a8fc85,#cafd66,#f0fe56,#fae44c,#f4bc41,#f19d38,#ef8a33,#ee7f31,#ee792f,#ed732e,#ed6e2d,#ed6b2c,#ed6a2c,#ed6b2c,#ed6d2d,#ed6d2d,#ed6d2d,#ed6c2d,#ed6d2d,#ed6f2d,#ed722e,#ed762f,#ee792f,#ee7b30,#ee7c30)"></i><i style="background:linear-gradient(90deg,#000286,#01069b,#030eb0,#061ac6,#0920df,#0f2deb,#183ff1,#2457f4,#3377f6,#459bf8,#5ac4fa,#6ff0fc,#79fbdd,#89fcb3,#a2fc8c,#c2fd6c,#e6fe58,#fcf050,#f6c944,#f2aa3c,#f09636,#ef8a33,#ee8232,#ee7c30,#ed772f,#ed732e,#ed722e,#ed732e,#ed742e,#ed742e,#ed742e,#ed742e,#ed742e,#ed762f,#ee7a30,#ee7d30,#ee8131,#ee8332,#ee8432)"></i><i style="background:linear-gradient(90deg,#000284,#01059a,#030eb0,#061ac5,#0920dd,#0e2ceb,#173cf0,#2252f4,#3171f6,#4295f7,#56bef9,#6ce9fc,#78fbe3,#85fcb9,#9dfc93,#bbfd72,#ddfe5b,#fffd54,#f8d748,#f4b840,#f1a33a,#f09536,#ef8c34,#ef8532,#ee7f31,#ee7b30,#ee792f,#ee7930,#ee7a30,#ee7b30,#ee7a30,#ee7a30,#ee7b30,#ee7d30,#ee8031,#ee8432,#ef8833,#ef8a34,#ef8c34)"></i></div>
<div class="p" style="left:207px;top:262px;width:112px;height:85px"><i style="background:linear-gradient(90deg,#01079f,#020aa7,#030eaf,#0412b7,#0516bf,#061bc7,#081ece,#0920d6,#0920de,#0920e8,#0d28ea,#1131ed,#163bf0,#1d48f3,#265bf5,#3274f6,#3f8ff7,#4dabf8,#5bc8fa,#69e3fb,#75fbfb,#78fbe4,#7dfbcf,#85fcbb,#8ffca8,#9afc97,#a5fc89,#b0fc7c,#bbfd72,#c6fd69,#d0fd62,#d9fe5d,#e2fe59,#eafe57,#f1fe56,#f8ff55,#fdff55,#fefc53,#fef852)"></i><i style="background:linear-gradient(90deg,#0107a0,#020aa8,#030eb0,#0413b8,#0517c0,#071bc7,#081ecf,#0920d6,#0920de,#0920e9,#0d29ea,#1233ed,#183ef1,#1f4df4,#2962f5,#357af6,#4294f7,#4fb0f9,#5dcbfa,#6be8fc,#76fbf4,#7afbd9,#83fbbf,#8ffca8,#9dfc93,#acfc81,#bafd73,#c7fd68,#d3fd60,#defe5b,#e8fe57,#f2ff55,#fbff55,#fefa53,#fdf351,#fcec4f,#fbe74d,#fae44c,#fae24c)"></i><i style="background:linear-gradient(90deg,#0107a1,#020ba9,#030fb1,#0413b9,#0517c1,#071bc8,#081ecf,#0920d7,#0920df,#0921e9,#0e2beb,#1336ee,#1942f2,#2253f4,#2d69f6,#3982f7,#469cf8,#53b6f9,#60d2fa,#6ff0fc,#77fbea,#7efbcc,#8bfcaf,#9bfc95,#adfc7f,#bffd6e,#cffd63,#ddfe5b,#eafe57,#f5ff55,#fffe54,#fdf251,#fbe84d,#fae04b,#f9d949,#f8d447,#f7d046,#f7ce46,#f7ce46)"></i><i style="background:linear-gradient(90deg,#0108a1,#020baa,#030fb2,#0414ba,#0518c1,#071cc9,#081ed0,#0920d8,#0920e1,#0a23e9,#0f2deb,#1538ef,#1c47f2,#255af5,#3171f6,#3d8bf7,#4aa5f8,#57bff9,#65dbfb,#74fafd,#79fbde,#83fbbe,#95fc9f,#a9fc84,#befd6f,#d2fd60,#e4fe59,#f3ff55,#fffe54,#fcf050,#fae44c,#f9d949,#f7d046,#f6c844,#f5c242,#f5be41,#f4bc41,#f4bb40,#f5bd41)"></i><i style="background:linear-gradient(90deg,#0108a1,#020bab,#0310b3,#0414bb,#0618c2,#071cca,#081fd1,#0920da,#0920e4,#0b25ea,#1130ec,#163cf0,#1e4cf3,#2962f5,#357af6,#4295f7,#4faff8,#5dcafa,#6be7fc,#76fbf2,#7cfbd0,#8bfcae,#a0fc8e,#b9fd74,#d0fd62,#e6fe58,#f9ff55,#fdf551,#fbe64d,#f9d949,#f7cd45,#f5c242,#f4ba40,#f3b33e,#f3ae3d,#f2ab3c,#f2aa3c,#f2ab3c,#f3ae3d)"></i><i style="background:linear-gradient(90deg,#0108a1,#020cab,#0310b4,#0414bb,#0619c3,#071ccb,#081fd3,#0920dc,#0920e7,#0d28ea,#1233ed,#1840f1,#2152f4,#2d6af6,#3a84f7,#479ff8,#55bbf9,#63d7fb,#72f5fd,#78fbe3,#82fbc1,#95fc9e,#aefc7e,#c9fd66,#e3fe59,#faff55,#fcef50,#f9de4a,#f7cf46,#f5c343,#f4b83f,#f3ae3d,#f2a63b,#f1a039,#f19c38,#f19a38,#f19a38,#f19c38,#f1a039)"></i><i style="background:linear-gradient(90deg,#0108a1,#020cab,#0310b4,#0415bc,#0619c4,#071dcc,#081fd5,#0920de,#0921e9,#0e2beb,#1436ee,#1b44f2,#2559f5,#3173f6,#3f8ef7,#4dabf8,#5bc7fa,#6ae5fc,#76fbf4,#7cfbd3,#8afcb0,#a1fc8d,#bdfd70,#dafe5c,#f5ff55,#fcef50,#f9d949,#f6c844,#f4bb40,#f3af3d,#f2a53a,#f19c38,#f09536,#f09035,#ef8d34,#ef8c34,#ef8d34,#f09035,#f09536)"></i><i style="background:linear-gradient(90deg,#0107a1,#020cab,#0310b4,#0515bd,#061ac5,#081dcd,#0920d7,#0920e2,#0b24e9,#102fec,#153aef,#1d4af3,#2961f5,#367cf6,#4499f8,#53b7f9,#62d5fb,#72f5fd,#78fbe3,#82fbc1,#95fc9e,#b0fc7d,#cefd63,#ecfe57,#fdf551,#f9da49,#f6c543,#f4b53f,#f2a83b,#f19d38,#f09436,#ef8c34,#ef8632,#ee8131,#ee7f31,#ee7f31,#ee8131,#ef8532,#ef8b34)"></i><i style="background:linear-gradient(90deg,#0107a0,#020cab,#0311b5,#0516bd,#061ac6,#081ecf,#0920d9,#0920e5,#0d28ea,#1232ed,#183ef1,#2050f4,#2d69f6,#3b86f7,#4aa4f8,#59c4fa,#6ae4fc,#76fbf3,#7cfbd1,#8bfcaf,#a2fc8c,#c0fd6e,#dffe5a,#feff54,#fae04b,#f6c644,#f3b23e,#f1a33a,#f09737,#ef8d34,#ef8532,#ee7e30,#ee782f,#ed752f,#ed742e,#ed752e,#ed772f,#ee7c30,#ee8232)"></i><i style="background:linear-gradient(90deg,#0107a0,#020cab,#0311b5,#0516be,#061bc7,#081ed0,#0920dc,#0920e9,#0e2beb,#1336ee,#1a43f2,#2457f5,#3172f6,#4090f7,#50b0f9,#60d1fa,#71f4fd,#78fbe2,#83fbbf,#96fc9c,#b2fc7b,#d1fd61,#f1fe56,#fceb4e,#f7cd45,#f3b33e,#f1a039,#f09235,#ef8833,#ee7f31,#ed772f,#ed712e,#ed6d2d,#ed6b2c,#ed6a2c,#ed6c2d,#ed6f2d,#ed742e,#ee7b30)"></i><i style="background:linear-gradient(90deg,#01079f,#020bab,#0311b5,#0516be,#071bc8,#081fd2,#0920df,#0a23e9,#102fec,#153aef,#1d49f3,#285ff5,#367cf6,#459bf8,#56bcf9,#67dffb,#76fbf4,#7cfbd0,#8dfcac,#a5fc89,#c3fd6b,#e4fe59,#fef953,#f8d748,#f4b940,#f1a239,#f09035,#ee8332,#ee7a30,#ed722e,#ed6c2d,#ec672c,#ec632b,#ec622b,#ec622b,#ec642b,#ec682c,#ed6e2d,#ed752f)"></i><i style="background:linear-gradient(90deg,#01069e,#020baa,#0311b5,#0516bf,#071cc9,#081fd4,#0920e2,#0c27ea,#1232ed,#183ef1,#2050f4,#2c68f6,#3b86f7,#4ba6f8,#5cc9fa,#6eeefc,#78fbe5,#83fbbe,#99fc98,#b5fd77,#d6fe5f,#f7ff55,#fae34c,#f5c342,#f2a73b,#f09135,#ee8131,#ed762f,#ed6d2d,#ec672c,#ec612b,#ec5d2a,#ec5b29,#ec5a29,#ec5b29,#ec5e2a,#ec622b,#ec682c,#ed702d)"></i><i style="background:linear-gradient(90deg,#01069d,#020baa,#0311b5,#0517bf,#071cca,#0920d6,#0920e5,#0e2aeb,#1336ee,#1a43f2,#2457f5,#3172f6,#4090f7,#51b2f9,#62d6fb,#75fbfb,#7bfbd4,#8cfcac,#a7fc86,#c8fd67,#eafe57,#fcf150,#f7ce46,#f3af3d,#f09636,#ee8231,#ed732e,#ec692c,#ec632b,#ec5d2a,#eb5929,#eb5628,#eb5428,#eb5428,#eb5628,#eb5929,#ec5e2a,#ec642b,#ed6c2d)"></i><i style="background:linear-gradient(90deg,#01069c,#020ba9,#0311b5,#0517c0,#071dcb,#0920d9,#0920e9,#0f2deb,#1539ef,#1d49f3,#2860f5,#367cf6,#459bf8,#56bef9,#69e3fb,#76fbed,#81fbc4,#98fc9a,#b8fd75,#dbfe5c,#ffff54,#f9da49,#f4b940,#f19c38,#ef8532,#ed732e,#ec672c,#ec5f2a,#eb5929,#eb5528,#eb5128,#eb4f27,#eb4e27,#eb4f27,#eb5128,#eb5528,#ec5a29,#ec602a,#ec682c)"></i><i style="background:linear-gradient(90deg,#01069b,#020ba9,#0311b5,#0517c0,#071dcd,#0920db,#0a23e9,#1130ec,#173ef1,#2050f4,#2d69f6,#3b86f7,#4ba6f8,#5ccafa,#70f1fc,#79fbde,#88fcb4,#a5fc89,#c9fd66,#f0fe56,#fbe74d,#f5c343,#f2a43a,#ef8b34,#ed762f,#ec662b,#ec5c29,#eb5528,#eb5127,#eb4d27,#eb4b27,#eb4a26,#eb4926,#eb4b27,#eb4d27,#eb5128,#eb5628,#ec5d2a,#ec652b)"></i><i style="background:linear-gradient(90deg,#01059a,#020aa8,#0311b5,#0518c1,#081ece,#0920de,#0c26ea,#1233ed,#1a42f2,#2458f5,#3173f6,#4091f7,#51b2f9,#63d6fb,#75fbf9,#7dfbd0,#91fca3,#b3fd79,#dcfe5c,#fef852,#f7cf46,#f3ad3c,#f09135,#ee7a30,#ec682c,#ec5b29,#eb5228,#eb4d27,#eb4926,#eb4726,#eb4626,#eb4526,#eb4526,#eb4726,#eb4a26,#eb4e27,#eb5328,#ec5a29,#ec622b)"></i><i style="background:linear-gradient(90deg,#010599,#020aa8,#0311b5,#0618c2,#081ecf,#0920e0,#0d29ea,#1437ee,#1c47f3,#2860f5,#367df6,#469cf8,#56bdf9,#69e3fb,#76fbec,#82fbc1,#9cfc94,#c3fd6b,#effe56,#fae04b,#f4b73f,#f09837,#ee7f31,#ed6b2c,#ec5b29,#eb5027,#eb4926,#eb4526,#eb4325,#ea4225,#ea4125,#ea4125,#ea4225,#eb4425,#eb4726,#eb4b27,#eb5127,#eb5829,#ec5f2a)"></i><i style="background:linear-gradient(90deg,#010598,#020aa7,#0311b5,#0618c2,#081fd1,#0920e3,#0e2ceb,#153aef,#1f4df3,#2c68f6,#3b87f7,#4ba7f8,#5cc9fa,#6ff0fc,#79fbdf,#89fcb2,#a8fc85,#d3fd60,#fefb53,#f6c844,#f1a139,#ee8432,#ed6e2d,#ec5d2a,#eb5027,#eb4726,#ea4225,#ea4025,#ea3e25,#ea3e25,#ea3e25,#ea3e25,#ea3f25,#ea4125,#eb4426,#eb4926,#eb4e27,#eb5528,#ec5d2a)"></i><i style="background:linear-gradient(90deg,#010598,#020aa7,#0311b5,#0619c3,#081fd3,#0920e7,#102eec,#173ef0,#2253f4,#3171f6,#4091f7,#51b2f9,#62d6fb,#75fbfb,#7cfbd1,#91fca4,#b5fd77,#e4fe59,#fae54c,#f3b23e,#ef8c34,#ed722e,#ec5f2a,#eb5127,#eb4626,#ea4025,#ea3d24,#ea3b24,#ea3b24,#ea3a24,#ea3b24,#ea3b24,#ea3d25,#ea3f25,#ea4225,#eb4626,#eb4c27,#eb5328,#ec5b29)"></i><i style="background:linear-gradient(90deg,#010597,#020aa6,#0311b5,#0619c4,#081fd5,#0921e9,#1131ed,#1941f1,#255af5,#357af6,#469cf8,#56bef9,#68e2fb,#76fbee,#81fbc4,#9afc96,#c2fd6c,#f4ff55,#f7d046,#f19d38,#ee7930,#ec622b,#eb5228,#eb4626,#ea3f25,#ea3a24,#ea3824,#ea3824,#ea3824,#ea3824,#ea3824,#ea3924,#ea3b24,#ea3d25,#ea4025,#eb4426,#eb4a26,#eb5027,#eb5829)"></i><i style="background:linear-gradient(90deg,#010496,#0209a6,#0311b5,#061ac5,#0920d7,#0a23e9,#1234ed,#1b46f2,#2961f5,#3983f7,#4ba6f8,#5cc9fa,#6feffc,#78fbe2,#87fcb6,#a5fc89,#d0fd62,#fef952,#f4bc41,#ef8a34,#ec682c,#eb5428,#eb4726,#ea3f25,#ea3924,#ea3724,#ea3524,#ea3524,#ea3524,#ea3624,#ea3624,#ea3724,#ea3924,#ea3b24,#ea3e25,#ea4225,#eb4726,#eb4e27,#eb5528)"></i><i style="background:linear-gradient(90deg,#010496,#0209a6,#0311b5,#061ac6,#0920d9,#0c26ea,#1436ee,#1e4af3,#2c68f6,#3e8cf7,#50b0f9,#62d5fb,#75fbfd,#7bfbd5,#8efca9,#b0fc7c,#defe5b,#fbe64d,#f2aa3c,#ee7930,#ec5a29,#eb4826,#ea3f25,#ea3924,#ea3624,#ea3423,#ea3323,#ea3323,#ea3423,#ea3423,#ea3524,#ea3624,#ea3724,#ea3924,#ea3c24,#ea3f25,#eb4426,#eb4b26,#eb5228)"></i><i style="background:linear-gradient(90deg,#010495,#0209a6,#0311b6,#061bc7,#0920db,#0d29ea,#1539ef,#204ff4,#3070f6,#4295f7,#55baf9,#67e0fb,#76fbf1,#7ffbc8,#97fc9c,#bcfd71,#ecfe56,#f8d548,#f09937,#ed6a2c,#eb4e27,#ea4025,#ea3924,#ea3524,#ea3323,#e53222,#e23122,#e33122,#e53222,#e83323,#ea3323,#ea3423,#ea3524,#ea3724,#ea3924,#ea3d25,#ea4125,#eb4726,#eb4f27)"></i><i style="background:linear-gradient(90deg,#010495,#0209a5,#0311b6,#071bc8,#0920de,#0e2beb,#173cf0,#2354f4,#3477f6,#479df8,#5ac4fa,#6debfc,#77fbe5,#85fcbb,#a0fc8f,#c8fd67,#faff55,#f6c543,#ef8a33,#ec5e2a,#eb4526,#ea3a24,#ea3624,#ea3323,#e23122,#dc2f21,#da2f20,#db2f20,#de3021,#e13122,#e53222,#e93323,#ea3423,#ea3624,#ea3724,#ea3a24,#ea3e25,#eb4425,#eb4b27)"></i><i style="background:linear-gradient(90deg,#010495,#0209a5,#0412b6,#071cc9,#0920e0,#0f2deb,#183ff1,#255af5,#377ef7,#4ba6f8,#5fcefa,#73f7fd,#7afbd9,#8bfcaf,#aafc83,#d4fd5f,#fdf551,#f4b63f,#ee7d30,#eb5328,#ea3e25,#ea3624,#ea3323,#e13122,#d92f20,#d42d1f,#d22d1f,#d42d1f,#d72e20,#db2f20,#df3021,#e43122,#e93323,#ea3423,#ea3624,#ea3824,#ea3c24,#ea4125,#eb4726)"></i><i style="background:linear-gradient(90deg,#010495,#0209a5,#0412b7,#071cca,#0920e3,#1030ec,#1a43f2,#2860f5,#3b85f7,#4faef8,#63d8fb,#75fbf7,#7dfbce,#92fca3,#b4fd78,#e1fe5a,#fbe64d,#f2a73b,#ed702e,#eb4a26,#ea3924,#ea3423,#e23122,#d92f20,#d12d1e,#cc2b1d,#cb2b1d,#cd2b1e,#d02c1e,#d52e1f,#d92f20,#de3021,#e33122,#e93323,#ea3423,#ea3624,#ea3924,#ea3d25,#eb4425)"></i><i style="background:linear-gradient(90deg,#010495,#0209a5,#0412b7,#071dcc,#0920e6,#1232ed,#1c46f2,#2b66f5,#3e8df7,#53b6f9,#68e1fb,#76fbed,#81fbc3,#99fc98,#befd6f,#edfe56,#f8d748,#f19a38,#ec662b,#ea4325,#ea3624,#e43222,#da2f20,#d12d1e,#ca2b1d,#c5291c,#c4291c,#c62a1c,#ca2b1d,#cf2c1e,#d32d1f,#d82e20,#dd3021,#e33122,#e93323,#ea3524,#ea3724,#ea3a24,#ea4025)"></i><i style="background:linear-gradient(90deg,#010495,#0209a6,#0412b8,#081dcd,#0920e9,#1334ee,#1e4af3,#2e6cf6,#4294f7,#57bef9,#6ceafc,#78fbe4,#86fcb9,#a1fc8d,#c9fd67,#f8ff55,#f6ca45,#ef8e34,#ec5c29,#ea3e25,#ea3423,#dd3021,#d32d1f,#cb2b1d,#c3291c,#be281b,#bd271a,#bf281b,#c4291c,#c82a1d,#ce2c1e,#d32d1f,#d82e20,#dd3021,#e43122,#ea3323,#ea3524,#ea3824,#ea3d25)"></i><i style="background:linear-gradient(90deg,#010495,#0209a6,#0413b9,#081ecf,#0a22e9,#1437ee,#204ef4,#3172f6,#459bf8,#5bc6fa,#71f3fc,#7afbda,#8bfcaf,#a9fc84,#d3fd60,#fef953,#f5bd41,#ee8332,#eb5428,#ea3924,#e53222,#d62e1f,#cc2b1d,#c4291c,#bd271a,#b82619,#b72619,#b9261a,#bd271a,#c3291c,#c82a1d,#cd2c1e,#d22d1f,#d82e20,#de3021,#e53222,#ea3423,#ea3624,#ea3a24)"></i><i style="background:linear-gradient(90deg,#010496,#0209a6,#0413b9,#081ed1,#0b24e9,#1539ef,#2253f4,#3478f6,#49a2f8,#5ecefa,#75fbfd,#7cfbd2,#90fca6,#b1fc7b,#ddfe5b,#fced4f,#f3b13e,#ee792f,#eb4c27,#ea3624,#de3021,#cf2c1e,#c62a1c,#be281b,#b72619,#b22418,#b12418,#b32518,#b72619,#bd271a,#c2291b,#c82a1d,#cd2c1e,#d32d1f,#d92f20,#df3021,#e73223,#ea3524,#ea3824)"></i><i style="background:linear-gradient(90deg,#010496,#0209a6,#0414ba,#081fd2,#0c27ea,#163bf0,#2457f5,#377ef6,#4ca8f8,#62d5fb,#75fbf6,#7ffbca,#95fc9d,#b9fd74,#e6fe58,#fae24c,#f2a63b,#ed6f2d,#eb4626,#ea3424,#d72e20,#c92a1d,#c0281b,#b82619,#b12418,#ac2317,#ab2217,#ad2317,#b22418,#b72619,#bd271a,#c2291b,#c82a1d,#ce2c1e,#d32d1f,#da2f20,#e23122,#ea3323,#ea3624)"></i><i style="background:linear-gradient(90deg,#010496,#020aa7,#0414bb,#081fd4,#0d29ea,#173ef1,#265cf5,#3a84f7,#4faff8,#66dcfb,#76fbee,#82fbc2,#9bfc96,#c0fd6e,#eefe56,#f8d748,#f19c38,#ec672c,#ea4125,#e83323,#d02c1e,#c2291b,#ba261a,#b22418,#ab2317,#a62116,#a52116,#a72216,#ac2317,#b22418,#b82619,#be271b,#c3291c,#c92a1d,#cf2c1e,#d52e1f,#dd3021,#e63223,#ea3524)"></i><i style="background:linear-gradient(90deg,#010496,#020aa7,#0515bc,#0920d6,#0e2beb,#1940f1,#2860f5,#3d8af7,#53b6f9,#69e3fb,#77fbe8,#84fcbb,#9ffc8f,#c6fd69,#f5ff55,#f7ce46,#f09436,#ec602a,#ea3d24,#e13122,#c92a1d,#bc271a,#b42519,#ac2317,#a62116,#a12015,#a02015,#a22015,#a72116,#ad2317,#b32518,#b9261a,#bf281b,#c5291c,#cb2b1d,#d12d1e,#d82e20,#e13122,#ea3423)"></i><i style="background:linear-gradient(90deg,#010496,#020aa8,#0516bd,#0920d8,#0f2deb,#1a43f2,#2b65f5,#408ff7,#56bcf9,#6ceafc,#78fbe1,#87fcb5,#a4fc8a,#ccfd65,#fcff55,#f6c644,#ef8c34,#eb5929,#ea3924,#da2f20,#c2291b,#b52519,#ad2317,#a62116,#a02015,#9c1f14,#9b1e14,#9d1f14,#a22015,#a82216,#ae2317,#b42519,#bb271a,#c1281b,#c72a1c,#cd2c1e,#d52d1f,#dd3021,#e73223)"></i><i style="background:linear-gradient(90deg,#010496,#020aa8,#0516bf,#0920da,#102fec,#1b46f2,#2d69f6,#4295f7,#59c2f9,#70f1fc,#79fbdb,#8afcaf,#a8fc85,#d0fd62,#fffc54,#f5c042,#ef8532,#eb5328,#ea3724,#d32d1f,#bb271a,#ae2318,#a72116,#a12015,#9b1e14,#971d13,#961d13,#991e13,#9d1f14,#a32015,#aa2217,#b02418,#b72619,#bd271a,#c4291c,#ca2b1d,#d12d1e,#da2f20,#e33122)"></i><i style="background:linear-gradient(90deg,#010496,#020ba9,#0517c0,#0920dd,#1130ec,#1d48f3,#2f6ef6,#459af8,#5cc8fa,#73f7fd,#7bfbd6,#8dfcaa,#acfc81,#d4fd5f,#fef752,#f4ba40,#ee7f31,#eb4e27,#ea3524,#cc2b1d,#b52519,#a82216,#a12015,#9b1e14,#961d13,#931c12,#921c12,#941d12,#991e13,#9f1f14,#a52116,#ad2317,#b42519,#ba271a,#c1281b,#c82a1d,#cf2c1e,#d72e1f,#e03021)"></i><i style="background:linear-gradient(90deg,#010496,#020ba9,#0518c1,#0920df,#1132ed,#1e4bf3,#3172f6,#479ff8,#5ecefa,#75fbfc,#7cfbd1,#90fca6,#affc7e,#d8fe5e,#fdf351,#f4b53f,#ee7a30,#eb4a26,#ea3323,#c62a1c,#ae2317,#a12015,#9a1e14,#951d12,#911c12,#8f1b11,#8e1b11,#911c12,#951d12,#9b1e14,#a22015,#a92216,#b12418,#b82619,#bf281b,#c5291c,#cc2b1d,#d42d1f,#dc3021)"></i><i style="background:linear-gradient(90deg,#010496,#020baa,#0618c2,#0920e1,#1233ed,#1f4ef4,#3376f6,#4aa4f8,#61d2fa,#75fbf7,#7efbcc,#92fca2,#b1fc7b,#dbfe5c,#fcef50,#f3b13e,#ed762f,#eb4626,#e53222,#c0281b,#a82216,#9b1e14,#951d12,#901b11,#8d1b11,#8b1a10,#8b1a10,#8d1b11,#911c12,#971d13,#9e1f14,#a62116,#ae2317,#b62519,#bd271a,#c4291c,#cb2b1d,#d22d1f,#da2f20)"></i><i style="background:linear-gradient(90deg,#010496,#020bab,#0619c3,#0920e2,#1335ee,#2050f4,#3579f6,#4ca8f8,#63d7fb,#76fbf3,#7ffbc8,#94fc9f,#b3fd79,#ddfe5b,#fcec4f,#f3ae3d,#ed732e,#eb4425,#e13122,#bb271a,#a32015,#961d13,#8f1b11,#8b1a10,#881910,#871910,#881910,#8a1a10,#8e1b11,#941c12,#9b1e14,#a42115,#ac2317,#b42519,#bb271a,#c2291b,#c92b1d,#d02c1e,#d72e20)"></i><i style="background:linear-gradient(90deg,#010496,#020cab,#0619c4,#0920e4,#1336ee,#2152f4,#367cf6,#4dabf8,#65dbfb,#76fbef,#80fbc5,#96fc9d,#b5fd77,#dffe5b,#fbea4e,#f2ac3c,#ed702d,#ea4125,#dd3021,#b62519,#9e1f14,#901c12,#8a1a10,#871910,#85180f,#84180f,#85190f,#871910,#8b1a10,#911c12,#991e13,#a12015,#aa2217,#b22418,#ba271a,#c1281b,#c82a1d,#cf2c1e,#d52e1f)"></i><i style="background:linear-gradient(90deg,#010496,#020cab,#061ac5,#0920e6,#1437ee,#2254f4,#377ff7,#4faef8,#66defb,#76fbec,#81fbc2,#97fc9b,#b6fd76,#e0fe5a,#fbe84e,#f2aa3c,#ed6e2d,#ea4025,#d92f20,#b22418,#991e13,#8c1a11,#85190f,#83180f,#81180f,#81180f,#82180f,#85180f,#881910,#8e1b11,#961d13,#9f1f14,#a92216,#b12418,#b9261a,#c1281b,#c82a1d,#ce2c1e,#d42d1f)"></i><i style="background:linear-gradient(90deg,#010496,#020cac,#061ac5,#0920e7,#1437ef,#2355f4,#3881f7,#50b0f9,#68e0fb,#77fbea,#82fbc0,#98fc99,#b7fd75,#e1fe5a,#fbe74d,#f2a83b,#ed6c2d,#ea3e25,#d72e1f,#af2418,#961d13,#881910,#82180f,#7f170e,#7e170e,#7f170e,#80170e,#83180f,#86190f,#8c1a11,#941d12,#9e1f14,#a72216,#b12418,#b9261a,#c1281b,#c82a1d,#ce2c1e,#d32d1f)"></i><i style="background:linear-gradient(90deg,#010496,#020cac,#061ac6,#0920e7,#1438ef,#2356f4,#3982f7,#51b2f9,#68e2fb,#77fbe9,#83fbbf,#99fc98,#b8fd74,#e1fe5a,#fbe64d,#f2a73b,#ed6b2c,#ea3e25,#d52e1f,#ad2317,#931c12,#85190f,#7e170e,#7c160d,#7c160d,#7d170e,#7f170e,#81180e,#85180f,#8b1a10,#931c12,#9d1f14,#a72116,#b02418,#b9261a,#c1281b,#c82a1d,#ce2c1e,#d22d1f)"></i><i style="background:linear-gradient(90deg,#010496,#020cac,#061ac6,#0920e8,#1538ef,#2457f4,#3983f7,#51b2f9,#69e3fb,#77fbe8,#83fbbf,#99fc98,#b8fd74,#e2fe59,#fbe64d,#f2a63b,#ed6a2c,#ea3d25,#d42d1f,#ac2317,#911c12,#83180f,#7c160d,#7a160d,#7a160d,#7c160d,#7e170e,#80170e,#83180f,#891a10,#921c12,#9c1f14,#a62116,#b02418,#b9261a,#c1281b,#c82a1d,#ce2c1e,#d22d1f)"></i><i style="background:linear-gradient(90deg,#010496,#020cac,#061ac6,#0920e8,#1538ef,#2457f5,#3983f7,#51b2f9,#69e2fb,#77fbe8,#83fbbf,#99fc98,#b8fd74,#e2fe59,#fbe54d,#f2a63b,#ec6a2c,#ea3d25,#d42d1f,#ac2317,#911c12,#82180f,#7b160d,#78150d,#79150d,#7b160d,#7d160e,#7f170e,#83180f,#891a10,#921c12,#9c1f14,#a62116,#b12418,#ba261a,#c2291b,#c92a1d,#cf2c1e,#d32d1f)"></i><i style="background:linear-gradient(90deg,#010496,#020cac,#061ac6,#0920e7,#1538ef,#2456f4,#3982f7,#51b2f9,#68e2fb,#77fbe9,#82fbc0,#98fc99,#b8fd75,#e2fe59,#fbe64d,#f2a63b,#ec6a2c,#ea3d25,#d42d1f,#ac2317,#911c12,#81180f,#7a160d,#78150d,#78150d,#7b160d,#7d160e,#7f170e,#83180f,#891a10,#921c12,#9c1f14,#a72116,#b12418,#bb271a,#c3291c,#ca2b1d,#d02c1e,#d42d1f)"></i><i style="background:linear-gradient(90deg,#010497,#020cac,#061ac5,#0920e7,#1438ef,#2356f4,#3981f7,#50b0f9,#67e0fb,#77fbeb,#82fbc1,#97fc9a,#b7fd75,#e1fe5a,#fbe64d,#f2a73b,#ed6b2c,#ea3e25,#d62e1f,#ae2317,#921c12,#82180f,#7a160d,#78150d,#79150d,#7b160d,#7d170e,#7f170e,#83180f,#891a10,#921c12,#9d1f14,#a82216,#b22418,#bc271a,#c4291c,#cc2b1d,#d12d1e,#d52e1f)"></i><i style="background:linear-gradient(90deg,#010497,#020cac,#061ac5,#0920e6,#1437ef,#2355f4,#3880f7,#4faef8,#66defb,#76fbed,#81fbc4,#96fc9c,#b6fd76,#e0fe5a,#fbe74d,#f2a83b,#ed6c2d,#ea3f25,#d82e20,#b02418,#941d12,#84180f,#7b160d,#78150d,#79160d,#7c160d,#7e170e,#80170e,#84180f,#8a1a10,#931c12,#9e1f14,#a92216,#b42519,#bd271a,#c62a1c,#cd2c1e,#d32d1f,#d72e1f)"></i><i style="background:linear-gradient(90deg,#010597,#020cab,#0619c4,#0920e5,#1436ee,#2253f4,#377ef6,#4eacf8,#65dbfb,#76fbf0,#80fbc6,#95fc9e,#b4fd78,#dffe5b,#fbe84e,#f2a93b,#ed6d2d,#ea4025,#db2f20,#b32518,#971d13,#86190f,#7d160e,#7a160d,#7b160d,#7e170e,#80170e,#82180f,#86190f,#8c1a11,#951d12,#a02015,#ab2317,#b52519,#bf281b,#c82a1d,#cf2c1e,#d52d1f,#d82e20)"></i><i style="background:linear-gradient(90deg,#010597,#020cab,#0619c3,#0920e3,#1335ee,#2152f4,#367bf6,#4ca9f8,#63d7fb,#76fbf4,#7ffbca,#93fca1,#b3fc7a,#ddfe5b,#fbeb4e,#f2ab3c,#ed702d,#ea4225,#de3021,#b72619,#9b1e14,#891a10,#80170e,#7d160e,#7d170e,#80170e,#82180f,#85180f,#881910,#8e1b11,#971d13,#a22015,#ad2317,#b82619,#c1281b,#ca2b1d,#d12d1e,#d72e20,#db2f20)"></i><i style="background:linear-gradient(90deg,#010597,#020baa,#0618c3,#0920e2,#1334ee,#2050f4,#3478f6,#4ba5f8,#61d3fa,#75fbf8,#7dfbce,#91fca4,#b0fc7c,#dbfe5c,#fced4f,#f3ae3d,#ed732e,#eb4426,#e23122,#bb271a,#9f1f14,#8d1b11,#84180f,#80170e,#81170e,#83180f,#86190f,#881910,#8b1a11,#911c12,#9a1e14,#a52116,#b02418,#ba271a,#c4291c,#cc2b1d,#d42d1f,#d92f20,#dd3021)"></i><i style="background:linear-gradient(90deg,#010497,#020baa,#0618c2,#0920e0,#1233ed,#1f4ef4,#3375f6,#49a2f8,#5fcffa,#75fbfc,#7cfbd2,#8ffca8,#aefc7f,#d8fe5e,#fcf150,#f3b13e,#ed762f,#eb4726,#e73223,#c0281b,#a42115,#921c12,#881910,#85180f,#85190f,#871910,#8a1a10,#8c1a11,#8f1b11,#951d13,#9e1f14,#a92216,#b32518,#bd271a,#c72a1c,#cf2c1e,#d62e1f,#dc2f21,#e03121)"></i><i style="background:linear-gradient(90deg,#010496,#020ba9,#0517c1,#0920df,#1232ed,#1e4bf3,#3172f6,#479df8,#5ccafa,#73f7fd,#7bfbd7,#8cfcac,#abfc82,#d5fd5f,#fdf551,#f4b53f,#ee7a30,#eb4a26,#ea3423,#c5291c,#aa2217,#981d13,#8e1b11,#8a1a10,#8a1a10,#8c1a11,#8e1b11,#911c12,#941d12,#9a1e13,#a32015,#ad2317,#b72619,#c1281b,#ca2b1d,#d22d1f,#d92f20,#df3021,#e33122)"></i><i style="background:linear-gradient(90deg,#010496,#020aa9,#0517c0,#0920dd,#1131ec,#1d49f3,#2f6ef6,#4499f8,#5ac5fa,#70f1fc,#79fbdc,#8afcb1,#a7fc86,#d1fd61,#fefa53,#f4ba40,#ee7f31,#eb4e27,#ea3524,#cb2b1d,#b02418,#9e1f14,#941d12,#901c11,#901c11,#921c12,#941d12,#961d13,#9a1e13,#9f2015,#a82216,#b12418,#bb271a,#c5291c,#cd2c1e,#d52e1f,#dc2f21,#e23122,#e73223)"></i><i style="background:linear-gradient(90deg,#010495,#020aa8,#0516bf,#0920db,#102fec,#1c47f3,#2d6af6,#4294f7,#57bff9,#6decfc,#78fbe1,#87fcb6,#a3fc8a,#ccfd64,#ffff54,#f5c042,#ef8432,#eb5328,#ea3724,#d22d1e,#b62619,#a52116,#9c1e14,#981d13,#971d13,#991e13,#9b1e14,#9d1f14,#a02015,#a62116,#ae2317,#b72619,#c0281b,#c92a1d,#d12c1e,#d82e20,#df3021,#e53222,#ea3323)"></i><i style="background:linear-gradient(90deg,#010494,#020aa7,#0516be,#0920da,#102eec,#1b45f2,#2b67f6,#408ff7,#55baf9,#6ae6fc,#77fbe7,#84fcbc,#9ffc8f,#c7fd68,#f9ff55,#f6c744,#ef8b34,#eb5829,#ea3924,#d82e20,#be271b,#ad2317,#a42115,#a02015,#9f1f14,#a12015,#a22015,#a42115,#a72216,#ad2317,#b42519,#bd271a,#c5291c,#cd2c1e,#d52e1f,#dc2f21,#e23122,#e83323,#ea3423)"></i><i style="background:linear-gradient(90deg,#010493,#020aa6,#0515bd,#0920d8,#0f2deb,#1a42f2,#2a63f5,#3d8af7,#52b4f9,#67dffb,#76fbed,#82fbc2,#9bfc95,#c2fd6c,#f3ff55,#f7ce46,#f09135,#ec5e2a,#ea3c24,#df3021,#c5291c,#b52519,#ac2317,#a82216,#a82216,#a92216,#aa2217,#ac2317,#af2418,#b42519,#bb271a,#c3291c,#cb2b1d,#d22d1f,#d92f20,#df3021,#e63222,#ea3323,#ea3524)"></i><i style="background:linear-gradient(90deg,#010492,#0209a6,#0415bc,#0920d6,#0e2beb,#1940f1,#285ef5,#3b85f7,#4faef8,#64d9fb,#76fbf4,#7ffbc8,#97fc9b,#bdfd70,#edfe56,#f8d548,#f09937,#ec642b,#ea4025,#e73223,#cd2b1e,#be271b,#b52519,#b22418,#b12418,#b22418,#b32518,#b42519,#b72619,#bb271a,#c2291b,#c92a1d,#d02c1e,#d72e20,#dd3021,#e33122,#e93323,#ea3423,#ea3624)"></i><i style="background:linear-gradient(90deg,#010391,#0209a5,#0414bb,#0920d5,#0d29ea,#173ef1,#265af5,#3880f7,#4ca8f8,#61d2fa,#75fbfa,#7dfbcf,#93fca1,#b7fd75,#e6fe58,#f9dd4a,#f1a139,#ed6b2d,#eb4526,#ea3423,#d52e1f,#c62a1c,#bf281b,#bb271a,#ba261a,#ba271a,#bb271a,#bd271a,#bf281b,#c3291c,#c92a1d,#cf2c1e,#d62e1f,#dc2f21,#e13122,#e73223,#ea3423,#ea3524,#ea3724)"></i><i style="background:linear-gradient(90deg,#010390,#0209a4,#0414ba,#081fd3,#0c28ea,#163cf0,#2456f4,#357af6,#49a2f8,#5dccfa,#73f7fd,#7bfbd5,#8ffca8,#b1fc7b,#dffe5a,#fbe64d,#f2a93c,#ed732e,#eb4a26,#ea3624,#de3021,#d02c1e,#c82a1d,#c5291c,#c3291c,#c3291c,#c4291c,#c5291c,#c72a1c,#cb2b1d,#d02c1e,#d62e1f,#dc2f20,#e13122,#e63223,#ea3323,#ea3524,#ea3624,#ea3824)"></i><i style="background:linear-gradient(90deg,#01038f,#0208a3,#0413b9,#081fd2,#0c26ea,#153aef,#2253f4,#3375f6,#469cf8,#5ac5fa,#6ff0fc,#79fbdc,#8bfcaf,#abfc81,#d8fe5d,#fcef50,#f3b23e,#ee7c30,#eb5127,#ea3924,#e73223,#d92f20,#d22d1f,#ce2c1e,#cd2b1d,#cc2b1d,#cc2b1d,#cd2b1e,#cf2c1e,#d22d1f,#d72e20,#dc2f21,#e13122,#e53222,#ea3323,#ea3423,#ea3524,#ea3724,#ea3a24)"></i><i style="background:linear-gradient(90deg,#01038e,#0108a3,#0413b8,#081ed0,#0b24e9,#1438ef,#204ff4,#3070f6,#4396f7,#57bef9,#6ce9fc,#78fbe3,#87fcb6,#a6fc88,#d1fd61,#fef952,#f4bc41,#ef8432,#eb5829,#ea3e25,#ea3524,#e23122,#db2f20,#d82e20,#d62e1f,#d52d1f,#d42d1f,#d52e1f,#d62e1f,#d92f20,#dd3021,#e23122,#e63223,#ea3323,#ea3423,#ea3524,#ea3624,#ea3824,#ea3b24)"></i><i style="background:linear-gradient(90deg,#01038e,#0108a2,#0412b7,#081ecf,#0a22e9,#1336ee,#1e4bf3,#2d6af6,#4090f7,#53b8f9,#68e2fb,#77fbea,#84fbbd,#a0fc8f,#cafd66,#fcff55,#f6c643,#ef8e34,#ec602a,#ea4325,#ea3724,#ea3423,#e53222,#e13121,#de3021,#dd3021,#dc2f21,#dc2f21,#dd3021,#df3021,#e33122,#e73223,#ea3323,#ea3423,#ea3524,#ea3624,#ea3724,#ea3a24,#ea3d25)"></i><i style="background:linear-gradient(90deg,#00038d,#0108a2,#0412b7,#081dcd,#0920e9,#1234ed,#1c48f3,#2b65f5,#3d8af7,#50b1f9,#65dbfb,#76fbf1,#81fbc4,#9bfc96,#c3fd6b,#f4ff55,#f7d046,#f09837,#ec692c,#eb4a26,#ea3b24,#ea3624,#ea3423,#e93323,#e63223,#e43222,#e33122,#e33122,#e33122,#e53222,#e83323,#ea3323,#ea3423,#ea3524,#ea3624,#ea3724,#ea3824,#ea3b24,#ea3f25)"></i><i style="background:linear-gradient(90deg,#00038c,#0107a1,#0311b6,#071dcc,#0920e6,#1132ed,#1b45f2,#2860f5,#3a84f7,#4dabf8,#62d4fa,#75fbf8,#7efbcb,#96fc9d,#bcfd71,#ebfe57,#f9db49,#f1a23a,#ed732e,#eb5228,#ea4025,#ea3924,#ea3624,#ea3524,#ea3423,#ea3323,#e93323,#e83323,#e83323,#ea3323,#ea3423,#ea3424,#ea3524,#ea3624,#ea3724,#ea3824,#ea3924,#ea3c24,#ea4025)"></i><i style="background:linear-gradient(90deg,#00038c,#0107a1,#0311b5,#071cca,#0920e4,#1030ec,#1942f2,#265cf5,#377ef6,#4aa4f8,#5ecdfa,#74f9fd,#7cfbd2,#91fca4,#b5fd77,#e3fe59,#fbe64d,#f3ae3d,#ee7d30,#ec5a29,#eb4626,#ea3d25,#ea3924,#ea3724,#ea3524,#ea3524,#ea3423,#ea3423,#ea3423,#ea3423,#ea3524,#ea3524,#ea3624,#ea3724,#ea3724,#ea3924,#ea3a24,#ea3d25,#ea4225)"></i><i style="background:linear-gradient(90deg,#00028c,#0107a0,#0310b4,#071cc9,#0920e1,#0f2eec,#183ff1,#2457f5,#3478f6,#479ef8,#5bc7fa,#70f2fc,#7afbd9,#8dfcab,#aefc7e,#dafe5c,#fcf150,#f4b940,#ef8833,#ec642b,#eb4d27,#ea4225,#ea3c24,#ea3924,#ea3724,#ea3624,#ea3524,#ea3524,#ea3524,#ea3524,#ea3524,#ea3624,#ea3724,#ea3724,#ea3824,#ea3a24,#ea3c24,#ea3f25,#eb4425)"></i><i style="background:linear-gradient(90deg,#00028c,#0107a0,#0310b4,#071bc7,#0920df,#0e2ceb,#173cf0,#2253f4,#3173f6,#4498f7,#58c0f9,#6debfc,#78fbe0,#89fcb2,#a8fc85,#d2fd61,#fffc54,#f6c543,#f09436,#ed6e2d,#eb5628,#eb4826,#ea4025,#ea3c24,#ea3924,#ea3824,#ea3724,#ea3624,#ea3624,#ea3624,#ea3624,#ea3724,#ea3724,#ea3824,#ea3924,#ea3a24,#ea3d24,#ea4025,#eb4526)"></i><i style="background:linear-gradient(90deg,#00028c,#0107a0,#0310b3,#061ac6,#0920dc,#0d2aea,#153aef,#204ff4,#2f6df6,#4192f7,#54b9f9,#69e4fb,#77fbe7,#85fcba,#a2fc8c,#c9fd66,#f7ff55,#f7d147,#f1a039,#ee7930,#ec5f2a,#eb4e27,#eb4526,#ea3f25,#ea3c24,#ea3a24,#ea3824,#ea3724,#ea3624,#ea3624,#ea3724,#ea3724,#ea3824,#ea3924,#ea3a24,#ea3b24,#ea3e25,#ea4125,#eb4726)"></i><i style="background:linear-gradient(90deg,#00038c,#0107a0,#030fb2,#061ac5,#0920da,#0c27ea,#1437ef,#1e4bf3,#2c68f6,#3e8bf7,#51b3f9,#66ddfb,#76fbef,#82fbc2,#9cfc94,#c1fd6c,#edfe56,#f9de4b,#f3ad3d,#ef8532,#ec682c,#eb5628,#eb4a26,#ea4325,#ea3e25,#ea3c24,#ea3a24,#ea3824,#ea3724,#ea3724,#ea3724,#ea3824,#ea3924,#ea3a24,#ea3b24,#ea3d24,#ea3f25,#ea4325,#eb4826)"></i><i style="background:linear-gradient(90deg,#00038c,#0107a0,#030fb1,#0619c3,#0920d7,#0b25ea,#1335ee,#1c47f3,#2962f5,#3b85f7,#4eacf8,#62d6fb,#75fbf6,#7ffbc9,#96fc9c,#b9fd74,#e3fe59,#fcec4f,#f4bb40,#f09235,#ed732e,#ec5e2a,#eb5027,#eb4726,#ea4225,#ea3e25,#ea3c24,#ea3a24,#ea3824,#ea3824,#ea3824,#ea3924,#ea3a24,#ea3b24,#ea3c24,#ea3e25,#ea4125,#eb4426,#eb4a26)"></i><i style="background:linear-gradient(90deg,#00038c,#01079f,#030eb1,#0618c2,#081fd5,#0a22e9,#1233ed,#1a44f2,#275df5,#377ff7,#4aa5f8,#5fcffa,#75fbfd,#7cfbd2,#90fca5,#b0fc7c,#d8fe5d,#fefa53,#f6c944,#f19f39,#ee7e31,#ec672c,#eb5628,#eb4c27,#eb4526,#ea4125,#ea3e25,#ea3b24,#ea3a24,#ea3924,#ea3924,#ea3a24,#ea3b24,#ea3c24,#ea3d25,#ea3f25,#ea4225,#eb4626,#eb4c27)"></i><i style="background:linear-gradient(90deg,#00038d,#01079f,#030eb0,#0517c0,#081fd2,#0920e8,#1130ec,#1940f1,#2458f5,#3478f6,#479ef8,#5bc7fa,#71f3fc,#7afbda,#8bfcae,#a8fc85,#cefd63,#f7ff55,#f8d849,#f3ad3c,#ef8b34,#ed712e,#ec5e2a,#eb5228,#eb4a26,#eb4526,#ea4125,#ea3e25,#ea3b24,#ea3a24,#ea3a24,#ea3b24,#ea3c24,#ea3d25,#ea3f25,#ea4125,#eb4426,#eb4826,#eb4e27)"></i><i style="background:linear-gradient(90deg,#00038d,#01079f,#030eaf,#0516bf,#081ed0,#0920e5,#0f2eeb,#173df0,#2253f4,#3172f6,#4397f7,#57bff9,#6deafc,#78fbe3,#86fcb8,#a0fc8e,#c3fd6b,#ebfe57,#fbe74d,#f4bc41,#f09837,#ee7b30,#ec662b,#eb5829,#eb4f27,#eb4926,#eb4426,#ea4025,#ea3e25,#ea3c24,#ea3c24,#ea3d25,#ea3e25,#ea3f25,#ea4125,#eb4325,#eb4726,#eb4b27,#eb5127)"></i><i style="background:linear-gradient(90deg,#00038d,#01079e,#020dae,#0515bd,#081dcd,#0920e1,#0e2beb,#153aef,#1f4ef4,#2e6bf6,#408ff7,#53b7f9,#68e2fb,#77fbec,#82fbc1,#99fc98,#b9fd73,#dffe5a,#fdf652,#f7cb45,#f2a63b,#ef8733,#ed702d,#ec602a,#eb5628,#eb4e27,#eb4926,#eb4425,#ea4125,#ea3f25,#ea3e25,#ea3f25,#ea4025,#ea4125,#eb4325,#eb4626,#eb4926,#eb4e27,#eb5328)"></i><i style="background:linear-gradient(90deg,#00038d,#01069e,#020cad,#0415bb,#071ccb,#0920dd,#0d28ea,#1437ee,#1d49f3,#2b65f5,#3c88f7,#4faff8,#64d8fb,#76fbf5,#7efbcc,#92fca3,#affc7d,#d2fd60,#f8ff55,#f9db4a,#f4b43f,#f09436,#ee7b30,#ec692c,#ec5d2a,#eb5528,#eb4e27,#eb4926,#eb4526,#ea4225,#ea4225,#ea4225,#ea4325,#eb4426,#eb4626,#eb4926,#eb4c27,#eb5128,#eb5728)"></i><i style="background:linear-gradient(90deg,#00038d,#01069d,#020cac,#0414ba,#071bc8,#0920da,#0b25ea,#1234ed,#1b44f2,#275ef5,#3880f7,#4ba6f8,#5fcffa,#74f9fd,#7bfbd6,#8bfcae,#a5fc88,#c6fd69,#eafe57,#fcec4f,#f6c443,#f1a23a,#ef8733,#ed732e,#ec662b,#ec5d2a,#eb5528,#eb4f27,#eb4a26,#eb4726,#eb4626,#eb4626,#eb4726,#eb4826,#eb4a26,#eb4d27,#eb5027,#eb5528,#ec5a29)"></i><i style="background:linear-gradient(90deg,#00038c,#01069c,#020baa,#0412b8,#061ac6,#0920d6,#0921e9,#1131ec,#1840f1,#2457f5,#3477f6,#469df8,#5ac5fa,#6feefc,#78fbe2,#85fcba,#9cfc94,#bafd73,#dcfe5b,#fffd54,#f8d548,#f3b13e,#f09436,#ee7f31,#ed712e,#ec662b,#ec5e2a,#eb5628,#eb5127,#eb4d27,#eb4b27,#eb4b27,#eb4c27,#eb4d27,#eb4f27,#eb5128,#eb5528,#ec5929,#ec5e2a)"></i><i style="background:linear-gradient(90deg,#00028c,#01069b,#020ba9,#0311b6,#0619c3,#081fd2,#0920e5,#0f2deb,#163cf0,#2150f4,#2f6ff6,#4193f7,#55baf9,#69e3fb,#76fbed,#80fbc7,#93fca1,#aefc7e,#cefd63,#f1fe56,#fbe74d,#f5c242,#f2a43a,#ef8d34,#ee7d30,#ed722e,#ec682c,#ec602a,#ec5929,#eb5528,#eb5228,#eb5228,#eb5228,#eb5328,#eb5428,#eb5729,#ec5a29,#ec5e2a,#ec632b)"></i><i style="background:linear-gradient(90deg,#00028b,#01059a,#020aa7,#0310b4,#0517c0,#081ecf,#0920e0,#0d29ea,#1438ef,#1d4af3,#2b66f5,#3c89f7,#4faff9,#63d7fb,#75fbfa,#7bfbd4,#8bfcaf,#a2fc8c,#c0fd6d,#e1fe5a,#fefa53,#f8d448,#f4b53f,#f19d38,#ef8c34,#ee7f31,#ed742e,#ed6b2c,#ec642b,#ec5f2a,#ec5c29,#ec5a29,#ec5a29,#ec5a29,#ec5b29,#ec5d2a,#ec602a,#ec642b,#ec692c)"></i><i style="background:linear-gradient(90deg,#00028a,#010599,#0209a6,#030fb2,#0516be,#071ccb,#0920db,#0b25ea,#1234ed,#1a44f2,#275df5,#377ef7,#4aa4f8,#5dcafa,#70f1fc,#78fbe2,#84fbbd,#98fc9a,#b3fc7a,#d2fd61,#f3ff55,#fbe84d,#f6c844,#f3af3d,#f19d38,#ef8f35,#ee8332,#ee792f,#ed712e,#ed6b2c,#ec672c,#ec652b,#ec632b,#ec632b,#ec632b,#ec652b,#ec672c,#ed6b2c,#ed702d)"></i><i style="background:linear-gradient(90deg,#000289,#010597,#0208a4,#030eaf,#0414bb,#071bc7,#0920d6,#0920e9,#102fec,#173ef1,#2254f4,#3273f6,#4497f7,#56bdf9,#69e3fb,#76fbf0,#7efbcc,#8efca9,#a5fc88,#c2fd6c,#e1fe5a,#fffe54,#f9dd4a,#f5c443,#f3b03d,#f1a139,#f09436,#ef8933,#ee8131,#ee7a30,#ed752e,#ed712e,#ed6f2d,#ed6e2d,#ed6d2d,#ed6e2d,#ed702d,#ed732e,#ed772f)"></i><i style="background:linear-gradient(90deg,#000288,#010496,#0108a2,#020cad,#0412b8,#0619c3,#081fd1,#0920e2,#0e2aeb,#1538ef,#1e4bf3,#2c68f6,#3d8af7,#4faff8,#62d4fa,#74f9fd,#79fbdc,#85fcb9,#99fc98,#b2fc7a,#cffd62,#edfe56,#fdf551,#f9db49,#f6c643,#f4b63f,#f2a83b,#f19d38,#f09336,#ef8b34,#ef8532,#ee8031,#ee7d30,#ee7a30,#ee792f,#ee782f,#ee792f,#ee7c30,#ee7f31)"></i><i style="background:linear-gradient(90deg,#000286,#010494,#01079f,#020baa,#0311b5,#0517c0,#071dcc,#0920db,#0b24e9,#1233ed,#1a43f2,#265cf5,#367df6,#48a1f8,#5ac5fa,#6ce9fc,#76fbec,#7efbca,#8efca9,#a3fc8a,#bdfd70,#d8fe5d,#f2ff55,#fdf451,#f9df4b,#f7cd46,#f5bf41,#f3b33e,#f2a83b,#f1a039,#f09837,#f09235,#ef8d34,#ef8933,#ef8632,#ee8432,#ee8432,#ef8532,#ef8933)"></i><i style="background:linear-gradient(90deg,#000284,#010391,#01069d,#020aa7,#030fb1,#0415bc,#061bc7,#081fd4,#0920e6,#0f2ceb,#163bf0,#2150f4,#2f6ff6,#4191f7,#52b4f9,#63d8fb,#75fbfd,#79fbdc,#84fcbc,#96fc9d,#abfc81,#c3fd6b,#dbfe5c,#f0fe56,#fefa53,#fbe84d,#f8d849,#f7cc45,#f5c142,#f4b73f,#f3ae3d,#f2a63b,#f19f39,#f09937,#f09536,#f09135,#f09035,#f09035,#f09336)"></i></div>
<div class="p" style="left:363px;top:259px;width:112px;height:84px"><i style="background:linear-gradient(90deg,#0209a6,#020aa8,#0414bb,#0920dd,#1437ef,#2961f5,#469cf8,#63d6fb,#76fbec,#84fcbc,#9ffc90,#c0fd6d,#e2fe59,#feff54,#fbe64d,#f8d347,#f5c242,#f3b23e,#f2a53a,#f19a37,#f09536,#f09737,#f19a38,#f19f39,#f2a63b,#f3ae3d,#f4b63f,#f5c042,#f6ca45,#f8d447,#f9de4a,#fbe74d,#fcf050,#fdf652,#fffc54,#fcff55,#f8ff55,#f2ff55,#ecfe56)"></i><i style="background:linear-gradient(90deg,#0209a5,#020aa8,#0415bc,#0920dd,#1437ef,#2961f5,#459bf8,#63d6fb,#77fbea,#86fcb8,#a2fc8c,#c5fd69,#e8fe58,#fef852,#f9df4b,#f6cb45,#f4b940,#f2a93b,#f19a37,#ef8d34,#ef8733,#ef8a33,#ef8d34,#f09236,#f19a37,#f1a33a,#f3ad3c,#f4b73f,#f5c242,#f7cc45,#f8d748,#fae14b,#fbe94e,#fcf050,#fef752,#fffd54,#fcff55,#f6ff55,#f0fe56)"></i><i style="background:linear-gradient(90deg,#0208a3,#020aa9,#0515bd,#0920de,#1437ef,#2961f5,#459bf8,#63d8fb,#77fbe7,#88fcb4,#a6fc87,#cbfd65,#eefe56,#fcf150,#f8d748,#f5c343,#f3b13e,#f1a039,#f09035,#ee8232,#ee7b30,#ee7d30,#ee8131,#ef8733,#ef8f35,#f09937,#f2a33a,#f3ae3d,#f4ba40,#f6c543,#f7d046,#f9da49,#fae34c,#fbeb4e,#fdf250,#fef852,#fffe54,#faff55,#f3ff55)"></i><i style="background:linear-gradient(90deg,#0108a2,#020ba9,#0516bd,#0920df,#1438ef,#2961f5,#469cf8,#64d9fb,#78fbe4,#8bfcaf,#abfc81,#d0fd62,#f4ff55,#fbe94e,#f7d046,#f4bc41,#f2aa3c,#f09837,#ef8733,#ed782f,#ed702e,#ed732e,#ed762f,#ee7c30,#ef8532,#ef8f35,#f19b38,#f2a63b,#f3b23e,#f5bd41,#f6c944,#f8d447,#f9dd4a,#fbe64d,#fced4f,#fdf451,#fefa53,#fdff55,#f6ff55)"></i><i style="background:linear-gradient(90deg,#0107a1,#020ba9,#0516be,#0920e0,#1538ef,#2961f5,#469df8,#65dcfb,#78fbe0,#8efca9,#b0fc7c,#d7fe5e,#fbff55,#fae24c,#f6c944,#f4b53f,#f1a33a,#f09035,#ee7f31,#ed6f2d,#ec672c,#ec692c,#ed6c2d,#ed732e,#ee7c30,#ef8733,#f09235,#f19e38,#f2aa3c,#f4b63f,#f5c242,#f7cd46,#f8d849,#fae14b,#fbe84e,#fcf050,#fef752,#fffe54,#f9ff55)"></i><i style="background:linear-gradient(90deg,#0107a0,#020baa,#0516bf,#0920e1,#1539ef,#2962f5,#479ef8,#67dffb,#79fbdb,#91fca3,#b6fd76,#defe5b,#fefc53,#f9da49,#f5c242,#f3af3d,#f19d38,#ef8a33,#ed782f,#ec672c,#ec5f2a,#ec622b,#ec642b,#ed6b2c,#ed742e,#ee7f31,#ef8a34,#f09636,#f1a23a,#f3af3d,#f4bb40,#f6c744,#f8d247,#f9dc4a,#fae44c,#fcec4f,#fdf451,#fefb53,#fbff55)"></i><i style="background:linear-gradient(90deg,#0107a0,#020baa,#0517c0,#0920e2,#1539ef,#2a63f5,#48a0f8,#69e2fb,#7bfbd6,#96fc9d,#bdfd70,#e5fe58,#fdf451,#f8d347,#f4bb40,#f2a93b,#f09737,#ee8432,#ed722e,#ec612a,#eb5829,#ec5b29,#ec5d2a,#ec632b,#ed6c2d,#ed772f,#ee8332,#ef8f35,#f19b38,#f2a83b,#f4b53f,#f5c242,#f7cd46,#f8d748,#fae04b,#fbe94e,#fcf150,#fef952,#fdff55)"></i><i style="background:linear-gradient(90deg,#01079f,#020bab,#0517c0,#0920e3,#153aef,#2a64f5,#49a3f8,#6be7fc,#7cfbd0,#9afc96,#c3fd6b,#ecfe56,#fcec4f,#f7cc45,#f4b53f,#f1a33a,#f09135,#ee7e31,#ed6c2d,#ec5b29,#eb5228,#eb5528,#eb5729,#ec5d2a,#ec662b,#ed712e,#ee7c30,#ef8733,#f09436,#f1a139,#f3ae3d,#f4bc41,#f6c844,#f8d347,#f9dd4a,#fbe64d,#fcee4f,#fdf752,#ffff54)"></i><i style="background:linear-gradient(90deg,#01079f,#020cab,#0518c1,#0920e4,#163af0,#2b66f5,#4aa5f8,#6debfc,#7efbca,#a0fc8f,#cbfd65,#f4ff55,#fae34c,#f6c543,#f3af3d,#f19e38,#ef8c34,#ee7930,#ec682c,#eb5628,#eb4e27,#eb5027,#eb5228,#eb5829,#ec602a,#ed6a2c,#ed752f,#ee8131,#ef8d34,#f19a37,#f2a83b,#f4b63f,#f5c343,#f7cf46,#f9da49,#fae34c,#fcec4f,#fdf551,#fffd54)"></i><i style="background:linear-gradient(90deg,#01079f,#020cac,#0618c2,#0920e5,#163bf0,#2c68f6,#4ca9f8,#6ff0fc,#81fbc4,#a5fc88,#d2fd61,#fcff55,#f9db4a,#f5be41,#f2a93b,#f09837,#ef8833,#ed752f,#ec632b,#eb5228,#eb4a26,#eb4d27,#eb4e27,#eb5328,#ec5b29,#ec652b,#ed6f2d,#ee7a30,#ef8633,#f09436,#f1a23a,#f3b13e,#f5bf41,#f7cb45,#f8d648,#fae14b,#fbea4e,#fdf351,#fefc53)"></i><i style="background:linear-gradient(90deg,#01079f,#020cac,#0619c3,#0920e6,#173cf0,#2d6af6,#4eacf8,#72f6fd,#84fbbd,#acfc81,#dafe5d,#fefa53,#f8d347,#f4b73f,#f2a33a,#f09436,#ee8432,#ed712e,#ec602a,#eb4e27,#eb4626,#eb4a26,#eb4b27,#eb5027,#eb5729,#ec602a,#ec6a2c,#ed742e,#ee8031,#ef8d34,#f19c38,#f2ac3c,#f4ba40,#f6c844,#f8d447,#f9de4b,#fbe84d,#fdf150,#fefa53)"></i><i style="background:linear-gradient(90deg,#01079f,#020cad,#0619c4,#0920e8,#173df0,#2e6df6,#50b0f9,#75fbfd,#87fcb6,#b2fc7a,#e2fe59,#fcf050,#f7cb45,#f3b13d,#f19e39,#ef8f35,#ee8031,#ed6e2d,#ec5d2a,#eb4b27,#eb4425,#eb4726,#eb4826,#eb4c27,#eb5328,#ec5b29,#ec642b,#ed6e2d,#ee7a30,#ef8833,#f09737,#f2a73b,#f4b63f,#f6c443,#f7d147,#f9dc4a,#fbe74d,#fcf050,#fef952)"></i><i style="background:linear-gradient(90deg,#01079f,#020dad,#0619c4,#0920e9,#183ef1,#306ff6,#52b4f9,#75fbf7,#8bfcaf,#b9fd73,#eafe57,#fbe74d,#f5c343,#f2aa3c,#f09937,#ef8b34,#ee7c30,#ed6b2c,#ec5a29,#eb4926,#ea4125,#eb4526,#eb4626,#eb4a26,#eb5027,#eb5729,#ec602a,#ec692c,#ed742e,#ee8232,#f09235,#f1a23a,#f3b23e,#f5c142,#f7ce46,#f9da49,#fbe54d,#fcef4f,#fef852)"></i><i style="background:linear-gradient(90deg,#01079f,#020dae,#061ac5,#0921e9,#1840f1,#3172f6,#54b9f9,#76fbf1,#8ffca7,#c0fd6d,#f3ff55,#f9de4a,#f4bc41,#f2a43a,#f09436,#ef8733,#ee792f,#ec682c,#eb5829,#eb4726,#ea3f25,#eb4425,#eb4526,#eb4826,#eb4d27,#eb5428,#ec5b29,#ec642b,#ed6f2d,#ee7d30,#ef8d34,#f19e38,#f3ae3d,#f5be41,#f7cc45,#f9d949,#fae44c,#fcee4f,#fdf752)"></i><i style="background:linear-gradient(90deg,#01079f,#020dae,#061ac6,#0a22e9,#1941f1,#3376f6,#56bef9,#77fbeb,#93fca0,#c8fd67,#fbff55,#f8d548,#f4b53f,#f19f39,#f09035,#ee8432,#ed762f,#ec662b,#eb5628,#eb4526,#ea3e25,#ea4225,#ea4325,#eb4626,#eb4a26,#eb5027,#eb5729,#ec602a,#ed6a2c,#ed782f,#ef8833,#f09937,#f2ab3c,#f4bb40,#f6c944,#f8d748,#fae34c,#fced4f,#fdf652)"></i><i style="background:linear-gradient(90deg,#01079f,#020daf,#061bc7,#0a23e9,#1a43f2,#3579f6,#59c3f9,#78fbe5,#98fc99,#cffd62,#fefa53,#f7cd45,#f3ae3d,#f09937,#ef8c34,#ee8031,#ed742e,#ec642b,#eb5528,#eb4425,#ea3d25,#ea4125,#ea4225,#eb4426,#eb4826,#eb4e27,#eb5428,#ec5c29,#ec662b,#ed732e,#ee8332,#f09536,#f2a73b,#f4b83f,#f6c744,#f8d548,#fae14b,#fcec4f,#fdf551)"></i><i style="background:linear-gradient(90deg,#0107a0,#030eaf,#071bc8,#0b25ea,#1b45f2,#377df6,#5cc8fa,#79fbde,#9dfc92,#d7fe5e,#fcf050,#f6c443,#f2a73b,#f09436,#ef8833,#ee7e30,#ed712e,#ec622b,#eb5328,#ea4225,#ea3c24,#ea4125,#ea4125,#eb4325,#eb4726,#eb4b27,#eb5128,#eb5829,#ec622b,#ed6f2d,#ee7f31,#f09135,#f2a43a,#f4b53f,#f6c543,#f8d447,#fae04b,#fceb4e,#fdf451)"></i><i style="background:linear-gradient(90deg,#0107a0,#030eaf,#071bc9,#0c26ea,#1c47f3,#3981f7,#5ecefa,#7afbd8,#a3fc8b,#defe5b,#fbe74d,#f5bc41,#f1a139,#f09035,#ef8432,#ee7b30,#ed6f2d,#ec612a,#eb5228,#ea4125,#ea3b24,#ea4025,#ea4125,#ea4225,#eb4526,#eb4926,#eb4e27,#eb5528,#ec5e2a,#ed6b2c,#ee7c30,#ef8e34,#f1a039,#f3b23e,#f5c343,#f8d247,#fadf4b,#fbea4e,#fdf351)"></i><i style="background:linear-gradient(90deg,#0107a0,#030eb0,#071cca,#0c27ea,#1d49f3,#3b86f7,#61d3fa,#7cfbd1,#a8fc84,#e6fe58,#f9df4b,#f4b53f,#f19b38,#ef8c34,#ee8131,#ee782f,#ed6d2d,#ec5f2a,#eb5128,#ea4025,#ea3a24,#ea4025,#ea4025,#ea4225,#eb4425,#eb4726,#eb4c27,#eb5228,#ec5b29,#ec682c,#ed782f,#ef8a34,#f19d38,#f3b03d,#f5c142,#f7d046,#f9de4a,#fbe94e,#fdf251)"></i><i style="background:linear-gradient(90deg,#01079f,#030eb0,#071cca,#0d29ea,#1e4bf3,#3d8af7,#64dafb,#7efbca,#aefc7e,#edfe56,#f8d648,#f3ae3d,#f09636,#ef8833,#ee7f31,#ed762f,#ed6c2d,#ec5e2a,#eb5027,#ea3f25,#ea3924,#ea3f25,#ea4025,#ea4125,#ea4325,#eb4626,#eb4a26,#eb5027,#eb5929,#ec652b,#ed752f,#ef8733,#f19a38,#f3ad3c,#f5be41,#f7cf46,#f9dd4a,#fbe84e,#fdf250)"></i><i style="background:linear-gradient(90deg,#01079f,#030eb0,#071dcb,#0e2aeb,#1f4ef4,#408ff7,#67e0fb,#81fbc4,#b4fd78,#f4ff55,#f7cf46,#f2a83b,#f09135,#ef8532,#ee7c30,#ed742e,#ed6a2c,#ec5d2a,#eb4f27,#ea3e25,#ea3924,#ea3f25,#ea3f25,#ea4025,#ea4225,#eb4526,#eb4826,#eb4e27,#eb5628,#ec622b,#ed722e,#ee8432,#f09837,#f2aa3c,#f5bc41,#f7cd45,#f9db4a,#fbe74d,#fcf150)"></i><i style="background:linear-gradient(90deg,#01079f,#030eb0,#071dcc,#0e2ceb,#2151f4,#4294f7,#6ae6fc,#84fbbd,#b9fd73,#fbff55,#f6c844,#f1a23a,#ef8d34,#ee8231,#ee7a30,#ed732e,#ec692c,#ec5b29,#eb4e27,#ea3d25,#ea3824,#ea3e25,#ea3f25,#ea4025,#ea4125,#eb4325,#eb4726,#eb4c27,#eb5428,#ec602a,#ed702d,#ee8231,#f09536,#f2a83b,#f4ba40,#f6cb45,#f9da49,#fbe64d,#fcf050)"></i><i style="background:linear-gradient(90deg,#01069e,#030eb0,#081dcd,#0f2deb,#2254f4,#459af8,#6eedfc,#87fcb7,#bffd6e,#fffd54,#f5c142,#f19d38,#ef8a33,#ee7f31,#ee782f,#ed712e,#ec682c,#ec5a29,#eb4d27,#ea3c24,#ea3724,#ea3e25,#ea3e25,#ea3f25,#ea4125,#ea4325,#eb4626,#eb4b27,#eb5328,#ec5e2a,#ed6e2d,#ee7f31,#f09235,#f2a53a,#f4b83f,#f6c944,#f8d849,#fae54c,#fcef4f)"></i><i style="background:linear-gradient(90deg,#01069d,#030eb0,#081ece,#102fec,#2458f5,#479ff8,#71f3fd,#8afcb0,#c5fd6a,#fdf652,#f4bb40,#f09937,#ef8633,#ee7d30,#ed772f,#ed702d,#ec662b,#ec5929,#eb4c27,#ea3b24,#ea3724,#ea3d25,#ea3e25,#ea3f25,#ea4025,#ea4225,#eb4526,#eb4a26,#eb5228,#ec5d2a,#ed6c2d,#ee7d30,#f09035,#f1a33a,#f4b53f,#f6c744,#f8d648,#fae34c,#fcee4f)"></i><i style="background:linear-gradient(90deg,#01069c,#030eb0,#081ecf,#1130ec,#265cf5,#4aa5f8,#74fafd,#8efcaa,#cafd66,#fcef50,#f4b63f,#f09436,#ee8432,#ee7b30,#ed752f,#ed6f2d,#ec652b,#eb5829,#eb4b27,#ea3a24,#ea3624,#ea3d25,#ea3d25,#ea3e25,#ea3f25,#ea4125,#eb4426,#eb4926,#eb5128,#ec5c29,#ed6a2c,#ee7b30,#ef8d34,#f1a039,#f3b33e,#f6c543,#f8d448,#fae24c,#fcec4f)"></i><i style="background:linear-gradient(90deg,#01069b,#030eb0,#081ed0,#1132ed,#2860f5,#4dabf8,#75fbf7,#92fca3,#d0fd62,#fbe94e,#f3b03d,#f09035,#ee8131,#ee7930,#ed742e,#ed6e2d,#ec642b,#eb5729,#eb4a26,#ea3924,#ea3524,#ea3c24,#ea3d25,#ea3e25,#ea3f25,#ea4125,#eb4425,#eb4926,#eb5127,#ec5b29,#ec692c,#ee7930,#ef8b34,#f19e38,#f3b13d,#f5c242,#f8d347,#fae14b,#fceb4e)"></i><i style="background:linear-gradient(90deg,#01059a,#030eaf,#081fd1,#1233ed,#2a64f5,#50b1f9,#76fbf0,#96fc9d,#d6fe5f,#fae24c,#f2ab3c,#ef8c34,#ee7e31,#ed772f,#ed722e,#ed6c2d,#ec632b,#eb5528,#eb4826,#ea3824,#ea3424,#ea3b24,#ea3c24,#ea3d25,#ea3f25,#ea4025,#eb4325,#eb4926,#eb5027,#ec5b29,#ec682c,#ed782f,#ef8933,#f19c38,#f3ae3d,#f5c042,#f7d147,#fadf4b,#fbea4e)"></i><i style="background:linear-gradient(90deg,#010599,#030daf,#081fd2,#1335ee,#2c68f6,#53b7f9,#77fbea,#9afc96,#dcfe5c,#f9db4a,#f2a63a,#ef8933,#ee7b30,#ed752f,#ed712e,#ed6b2c,#ec612a,#eb5428,#eb4726,#ea3724,#ea3423,#ea3a24,#ea3c24,#ea3d25,#ea3e25,#ea4025,#ea4325,#eb4826,#eb5027,#ec5a29,#ec672c,#ed762f,#ef8833,#f19a37,#f3ac3c,#f5bf41,#f7cf46,#f9de4a,#fbe94e)"></i><i style="background:linear-gradient(90deg,#010598,#020dae,#081fd2,#1436ee,#2e6cf6,#57bef9,#78fbe2,#9ffc90,#e2fe59,#f8d548,#f1a039,#ef8432,#ee782f,#ed732e,#ed6f2d,#ec692c,#ec602a,#eb5228,#eb4526,#ea3624,#e93323,#ea3a24,#ea3b24,#ea3d24,#ea3e25,#ea4025,#ea4325,#eb4826,#eb4f27,#ec5a29,#ec662b,#ed752f,#ef8632,#f09837,#f2ab3c,#f5bd41,#f7ce46,#f9dc4a,#fbe84d)"></i><i style="background:linear-gradient(90deg,#010597,#020dae,#081fd3,#1437ef,#3071f6,#5ac4fa,#79fbdb,#a5fc89,#e9fe57,#f7ce46,#f19a38,#ee8031,#ed752f,#ed712e,#ed6d2d,#ec672c,#ec5e2a,#eb5027,#eb4325,#ea3524,#e53222,#ea3924,#ea3b24,#ea3c24,#ea3d25,#ea3f25,#ea4225,#eb4826,#eb4f27,#ec5929,#ec662b,#ed742e,#ef8532,#f09737,#f2a93b,#f4bb40,#f7cc45,#f9db4a,#fbe74d)"></i><i style="background:linear-gradient(90deg,#010497,#020dad,#081fd4,#1539ef,#3375f6,#5dcbfa,#7bfbd4,#aafc82,#f0fe56,#f6c644,#f09436,#ee7b30,#ed722e,#ed6e2d,#ed6b2c,#ec652b,#ec5b29,#eb4e27,#ea4125,#ea3423,#e03121,#ea3824,#ea3a24,#ea3c24,#ea3d25,#ea3f25,#ea4225,#eb4726,#eb4f27,#eb5929,#ec652b,#ed732e,#ee8432,#f09536,#f2a83b,#f4ba40,#f7cb45,#f9da49,#fbe74d)"></i><i style="background:linear-gradient(90deg,#010496,#020cad,#081fd4,#153aef,#357af6,#60d2fa,#7efbcc,#b0fc7c,#f7ff55,#f5be41,#ef8e34,#ed762f,#ed6e2d,#ed6b2c,#ec682c,#ec622b,#eb5929,#eb4c27,#ea3f25,#e83323,#db2f20,#ea3724,#ea3a24,#ea3b24,#ea3d24,#ea3e25,#ea4225,#eb4726,#eb4e27,#eb5829,#ec642b,#ed732e,#ee8332,#f09436,#f2a73b,#f4b940,#f6ca45,#f9d949,#fbe64d)"></i><i style="background:linear-gradient(90deg,#010495,#020cac,#081fd4,#163bf0,#377ef6,#64d9fb,#81fbc5,#b7fd75,#ffff54,#f4b63f,#ef8733,#ed712e,#ec692c,#ec672c,#ec642b,#ec5f2a,#eb5628,#eb4926,#ea3d25,#e23122,#d52e1f,#ea3624,#ea3924,#ea3b24,#ea3c24,#ea3e25,#ea4125,#eb4626,#eb4e27,#eb5829,#ec642b,#ed722e,#ee8232,#f09436,#f2a63b,#f4b83f,#f6c944,#f9d949,#fbe64d)"></i><i style="background:linear-gradient(90deg,#010495,#020cab,#081fd4,#173cf0,#3982f7,#67dffb,#84fbbd,#befd6f,#fdf652,#f3ae3d,#ee8031,#ed6b2c,#ec642b,#ec632b,#ec612a,#ec5c29,#eb5328,#eb4726,#ea3b24,#dc2f21,#cf2c1e,#ea3524,#ea3824,#ea3b24,#ea3c24,#ea3d25,#ea4025,#eb4526,#eb4d27,#eb5729,#ec632b,#ed722e,#ee8232,#f09436,#f2a63a,#f4b73f,#f6c944,#f8d849,#fbe64d)"></i><i style="background:linear-gradient(90deg,#010495,#020bab,#081fd4,#173df0,#3b87f7,#6ae6fc,#87fcb5,#c5fd69,#fcec4f,#f2a53a,#ee782f,#ec642b,#ec5f2a,#ec5e2a,#ec5d2a,#eb5829,#eb5027,#eb4425,#ea3924,#d52e1f,#c72a1c,#ea3423,#ea3824,#ea3a24,#ea3b24,#ea3d25,#ea4025,#eb4526,#eb4c27,#eb5628,#ec632b,#ed722e,#ee8232,#f09336,#f2a53a,#f4b73f,#f6c844,#f8d849,#fbe64d)"></i><i style="background:linear-gradient(90deg,#010495,#020baa,#081fd4,#183ef1,#3d8bf7,#6eecfc,#8bfcae,#ccfd64,#fae34c,#f19c38,#ed712e,#ec5e2a,#ec5a29,#ec5a29,#eb5929,#eb5528,#eb4d27,#ea4125,#ea3724,#cd2c1e,#c0281b,#e83323,#ea3724,#ea3a24,#ea3b24,#ea3c24,#ea3f25,#eb4425,#eb4b27,#eb5528,#ec622b,#ed712e,#ee8232,#f09436,#f2a53a,#f4b73f,#f6c844,#f8d849,#fbe74d)"></i><i style="background:linear-gradient(90deg,#010495,#020ba9,#081fd4,#183ff1,#3f8ff7,#71f3fc,#8ffca7,#d4fd60,#f9da49,#f09336,#ec692c,#eb5929,#eb5528,#eb5628,#eb5528,#eb5128,#eb4926,#ea3f25,#ea3524,#c5291c,#b72619,#e33122,#ea3624,#ea3924,#ea3b24,#ea3c24,#ea3e25,#ea4325,#eb4a26,#eb5528,#ec622b,#ed712e,#ee8232,#f09436,#f2a63b,#f4b73f,#f6c844,#f8d849,#fbe74d)"></i><i style="background:linear-gradient(90deg,#010495,#020aa9,#081fd4,#1940f1,#4192f7,#74f9fd,#93fca0,#dafe5c,#f7d147,#ef8b34,#ec632b,#eb5328,#eb5027,#eb5128,#eb5128,#eb4e27,#eb4726,#ea3d25,#ea3423,#bd271a,#ae2317,#de3021,#ea3624,#ea3924,#ea3a24,#ea3b24,#ea3e25,#ea4225,#eb4926,#eb5428,#ec612a,#ed712e,#ee8232,#f09436,#f2a63b,#f4b73f,#f6c844,#f8d849,#fbe74d)"></i><i style="background:linear-gradient(90deg,#010495,#020aa8,#081fd4,#1941f1,#4396f7,#75fbfb,#97fc9a,#e1fe5a,#f6c944,#ee8432,#ec5c2a,#eb4e27,#eb4c27,#eb4e27,#eb4e27,#eb4b27,#eb4426,#ea3b24,#e83323,#b52519,#a52116,#d82e20,#ea3524,#ea3924,#ea3a24,#ea3b24,#ea3d25,#ea4125,#eb4926,#eb5328,#ec612a,#ed712e,#ee8332,#f09536,#f2a63b,#f4b83f,#f6c844,#f8d849,#fbe74d)"></i><i style="background:linear-gradient(90deg,#010495,#020aa8,#081fd4,#1a42f2,#4499f8,#75fbf6,#9bfc95,#e7fe58,#f5c142,#ee7d30,#eb5729,#eb4a26,#eb4926,#eb4b27,#eb4b27,#eb4826,#ea4225,#ea3924,#e33122,#ac2317,#9c1f14,#d32d1f,#ea3524,#ea3824,#ea3a24,#ea3a24,#ea3d24,#ea4125,#eb4826,#eb5328,#ec612a,#ed712e,#ee8332,#f09536,#f2a73b,#f4b840,#f6c944,#f8d849,#fbe74d)"></i><i style="background:linear-gradient(90deg,#010495,#020aa8,#081fd4,#1a43f2,#469bf8,#76fbf2,#9ffc91,#ecfe56,#f4bb40,#ed772f,#eb5228,#eb4726,#eb4626,#eb4826,#eb4926,#eb4626,#ea4025,#ea3824,#de3021,#a52116,#941c12,#ce2c1e,#ea3424,#ea3824,#ea3924,#ea3a24,#ea3c24,#ea4025,#eb4726,#eb5228,#ec602a,#ed712e,#ee8332,#f09536,#f2a73b,#f4b840,#f6c944,#f8d849,#fbe74d)"></i><i style="background:linear-gradient(90deg,#010496,#020aa8,#081fd5,#1a44f2,#479ef8,#76fbef,#a1fc8d,#f1fe56,#f4b53f,#ed722e,#eb4f27,#eb4426,#eb4425,#eb4626,#eb4726,#eb4426,#ea3f25,#ea3724,#da2f20,#9d1f14,#8c1a11,#c92a1d,#ea3423,#ea3824,#ea3924,#ea3a24,#ea3c24,#ea4025,#eb4726,#eb5228,#ec602a,#ed712e,#ee8332,#f09636,#f2a73b,#f4b840,#f6c944,#f8d849,#fbe74d)"></i><i style="background:linear-gradient(90deg,#010496,#020aa8,#0920d5,#1b45f2,#48a0f8,#76fbec,#a4fc8a,#f4ff55,#f3b13e,#ed6f2d,#eb4c27,#ea4225,#ea4325,#eb4526,#eb4626,#ea4325,#ea3e25,#ea3624,#d62e1f,#971d13,#85190f,#c5291c,#ea3423,#ea3824,#ea3924,#ea3a24,#ea3c24,#ea4025,#eb4726,#eb5128,#ec602a,#ed712e,#ee8332,#f09636,#f2a73b,#f4b940,#f6c944,#f8d849,#fbe64d)"></i><i style="background:linear-gradient(90deg,#010496,#020aa8,#0920d6,#1b45f2,#49a1f8,#77fbea,#a5fc88,#f6ff55,#f3ae3d,#ed6c2d,#eb4b27,#ea4125,#ea4225,#eb4526,#eb4526,#ea4325,#ea3d25,#ea3624,#d42d1f,#931c12,#80170e,#c1281b,#ea3323,#ea3824,#ea3924,#ea3a24,#ea3c24,#ea4025,#eb4726,#eb5128,#ec602a,#ed712e,#ee8332,#f09636,#f2a83b,#f4b940,#f6c944,#f8d849,#fbe54d)"></i><i style="background:linear-gradient(90deg,#010497,#020aa9,#0920d6,#1b46f2,#49a3f8,#77fbe9,#a6fc87,#f7ff55,#f3ad3c,#ed6b2c,#eb4a26,#ea4125,#ea4225,#eb4526,#eb4526,#ea4225,#ea3d24,#ea3624,#d22d1f,#8f1b11,#7c160e,#bf281b,#ea3323,#ea3724,#ea3924,#ea3a24,#ea3c24,#ea4025,#eb4726,#eb5128,#ec602a,#ed712e,#ee8332,#f09536,#f2a73b,#f4b940,#f6c944,#f8d748,#fae44c)"></i><i style="background:linear-gradient(90deg,#010597,#020ba9,#0920d7,#1c47f3,#49a3f8,#77fbe8,#a6fc87,#f8ff55,#f3ad3c,#ed6b2c,#eb4a26,#ea4125,#ea4225,#eb4526,#eb4626,#ea4325,#ea3d24,#ea3524,#d12c1e,#8e1b11,#7a160d,#bd271a,#e93323,#ea3724,#ea3924,#ea3a24,#ea3c24,#ea4025,#eb4726,#eb5228,#ec602a,#ed712e,#ee8332,#f09536,#f2a73b,#f4b940,#f6c844,#f8d748,#fae34c)"></i><i style="background:linear-gradient(90deg,#010597,#020baa,#0920d8,#1c47f3,#4aa3f8,#77fbe9,#a6fc87,#f7ff55,#f3ae3d,#ed6c2d,#eb4b27,#ea4225,#ea4325,#eb4626,#eb4626,#ea4325,#ea3d24,#ea3524,#d12c1e,#8e1b11,#7a160d,#bd271a,#e93323,#ea3724,#ea3924,#ea3b24,#ea3d25,#ea4125,#eb4826,#eb5228,#ec602a,#ed702e,#ee8332,#f09536,#f2a73b,#f4b840,#f6c844,#f8d648,#fae24c)"></i><i style="background:linear-gradient(90deg,#010597,#020baa,#0920d9,#1c47f3,#49a3f8,#77fbea,#a5fc89,#f5ff55,#f3b03d,#ed6d2d,#eb4c27,#ea4325,#eb4426,#eb4726,#eb4726,#eb4325,#ea3d25,#ea3624,#d12d1e,#8f1b11,#7c160d,#bd271a,#e93323,#ea3724,#ea3924,#ea3b24,#ea3d25,#ea4225,#eb4826,#eb5228,#ec602a,#ed702e,#ee8232,#f09536,#f2a73b,#f4b840,#f6c844,#f8d648,#fae14b)"></i><i style="background:linear-gradient(90deg,#010597,#020cab,#0920d9,#1c47f3,#49a2f8,#77fbeb,#a3fc8b,#f3ff55,#f3b33e,#ed702d,#eb4e27,#eb4526,#eb4626,#eb4826,#eb4826,#eb4425,#ea3d25,#ea3624,#d22d1f,#921c12,#80170e,#bf281b,#e93323,#ea3724,#ea3a24,#ea3b24,#ea3e25,#ea4325,#eb4926,#eb5328,#ec602a,#ed702e,#ee8232,#f09436,#f2a73b,#f4b840,#f6c844,#f8d548,#fadf4b)"></i><i style="background:linear-gradient(90deg,#010597,#020cac,#0920da,#1c47f3,#48a1f8,#76fbee,#a1fc8d,#effe56,#f4b73f,#ed742e,#eb5127,#eb4726,#eb4726,#eb4a26,#eb4926,#eb4426,#ea3d25,#ea3624,#d42d1f,#971d13,#85190f,#c2281b,#ea3323,#ea3824,#ea3a24,#ea3c24,#ea3f25,#eb4425,#eb4a26,#eb5428,#ec612a,#ed712e,#ee8232,#f09436,#f2a73b,#f4b840,#f6c844,#f8d548,#f9de4b)"></i><i style="background:linear-gradient(90deg,#010597,#020cac,#0920da,#1c47f3,#479ff8,#76fbf1,#9efc91,#ebfe57,#f4bc41,#ed782f,#eb5428,#eb4926,#eb4926,#eb4b26,#eb4926,#eb4526,#ea3e25,#ea3624,#d62e1f,#9d1f14,#8c1a11,#c5291c,#ea3323,#ea3824,#ea3a24,#ea3d25,#ea4025,#eb4526,#eb4c27,#eb5528,#ec622b,#ed712e,#ee8232,#f09436,#f2a73b,#f4b840,#f6c844,#f8d548,#f9dd4a)"></i><i style="background:linear-gradient(90deg,#010496,#020cac,#0920da,#1b46f2,#469cf8,#76fbf4,#9bfc95,#e6fe58,#f5c242,#ee7d30,#eb5829,#eb4b27,#eb4a26,#eb4b27,#eb4a26,#eb4526,#ea3e25,#ea3624,#d92f20,#a32015,#941c12,#c92a1d,#ea3423,#ea3824,#ea3b24,#ea3d25,#ea4125,#eb4626,#eb4d27,#eb5728,#ec632b,#ed722e,#ee8232,#f09536,#f2a73b,#f4b840,#f6c844,#f8d448,#f9dd4a)"></i><i style="background:linear-gradient(90deg,#010496,#020cac,#0920da,#1b45f2,#4599f8,#75fbf9,#97fc9a,#e1fe5a,#f6c944,#ee8332,#ec5c29,#eb4e27,#eb4b27,#eb4c27,#eb4a26,#eb4526,#ea3e25,#ea3724,#dc2f21,#aa2217,#9c1f14,#ce2c1e,#ea3423,#ea3924,#ea3b24,#ea3e25,#ea4225,#eb4726,#eb4e27,#eb5829,#ec642b,#ed732e,#ee8332,#f09536,#f2a73b,#f4b940,#f6c844,#f8d448,#f9dd4a)"></i><i style="background:linear-gradient(90deg,#010495,#020cac,#0920d9,#1a44f2,#4396f7,#74fafd,#94fca0,#dafe5c,#f7d046,#ef8a33,#ec602a,#eb5027,#eb4c27,#eb4b27,#eb4926,#eb4426,#ea3e25,#ea3724,#df3021,#b22418,#a52116,#d32d1f,#ea3524,#ea3924,#ea3c24,#ea3f25,#ea4325,#eb4926,#eb5027,#ec5a29,#ec662b,#ed742e,#ee8432,#f09536,#f2a83b,#f4b940,#f6c844,#f8d548,#f9dd4a)"></i><i style="background:linear-gradient(90deg,#010494,#020cab,#0920d8,#1942f2,#4191f7,#71f4fd,#90fca6,#d4fd60,#f9d949,#f09135,#ec662b,#eb5328,#eb4d27,#eb4b27,#eb4826,#eb4325,#ea3d25,#ea3724,#e13122,#b9261a,#af2318,#d82e20,#ea3524,#ea3a24,#ea3d25,#ea4025,#eb4426,#eb4a26,#eb5228,#ec5c29,#ec672c,#ed752f,#ef8532,#f09636,#f2a83b,#f4b940,#f6c944,#f8d548,#f9dd4a)"></i><i style="background:linear-gradient(90deg,#010494,#020bab,#0920d6,#1840f1,#3e8df7,#6eeefc,#8cfcad,#cdfd64,#fae24c,#f09937,#ed6b2c,#eb5528,#eb4d27,#eb4a26,#eb4726,#ea4225,#ea3d25,#ea3724,#e43222,#c1281b,#b82619,#de3021,#ea3624,#ea3a24,#ea3d25,#ea4125,#eb4526,#eb4c27,#eb5428,#ec5e2a,#ec692c,#ed772f,#ef8633,#f09737,#f2a93b,#f4ba40,#f6c944,#f8d648,#f9de4a)"></i><i style="background:linear-gradient(90deg,#010493,#020baa,#081fd4,#173ef1,#3c87f7,#6be7fc,#88fcb5,#c5fd69,#fcec4f,#f1a23a,#ed712e,#eb5929,#eb4e27,#eb4926,#eb4526,#ea4125,#ea3c24,#ea3724,#e73223,#c82a1d,#c0281b,#e33122,#ea3724,#ea3b24,#ea3e25,#ea4225,#eb4726,#eb4d27,#eb5628,#ec602a,#ed6c2d,#ee792f,#ef8833,#f09837,#f2aa3c,#f4bb40,#f6ca45,#f8d748,#f9df4b)"></i><i style="background:linear-gradient(90deg,#010391,#020ba9,#081fd3,#163cf0,#3982f7,#67dffb,#84fbbd,#befd6f,#fdf652,#f2ab3c,#ee782f,#ec5c29,#eb4f27,#eb4826,#eb4426,#ea4125,#ea3c24,#ea3724,#ea3323,#ce2c1e,#c92a1d,#e83323,#ea3824,#ea3c24,#ea3f25,#ea4325,#eb4826,#eb4f27,#eb5829,#ec622b,#ed6e2d,#ee7b30,#ef8933,#f19a37,#f2ab3c,#f4bc41,#f7cb45,#f8d748,#fae04b)"></i><i style="background:linear-gradient(90deg,#010390,#020aa8,#081ed1,#153aef,#367cf6,#63d7fb,#80fbc5,#b6fd76,#fdff55,#f4b53f,#ee8031,#ec602a,#eb5027,#eb4826,#eb4325,#ea4025,#ea3c24,#ea3724,#ea3423,#d52e1f,#d12c1e,#ea3423,#ea3924,#ea3d25,#ea4025,#eb4425,#eb4926,#eb5128,#ec5a29,#ec652b,#ed702e,#ee7d30,#ef8b34,#f19b38,#f3ac3c,#f5bd41,#f7cc45,#f8d849,#fae14b)"></i><i style="background:linear-gradient(90deg,#01038f,#020aa7,#081ece,#1437ef,#3376f6,#5fcffa,#7dfbce,#aefc7e,#f3ff55,#f5c042,#ef8833,#ec652b,#eb5228,#eb4826,#ea4325,#ea3f25,#ea3c24,#ea3824,#ea3423,#db2f20,#d82e20,#ea3524,#ea3a24,#ea3e25,#ea4125,#eb4526,#eb4b27,#eb5328,#ec5d2a,#ec682c,#ed732e,#ee7f31,#ef8d34,#f19d38,#f3ad3d,#f5be41,#f7cd45,#f9d949,#fae24c)"></i><i style="background:linear-gradient(90deg,#01038f,#0209a6,#071dcc,#1335ee,#3070f6,#5bc7fa,#7afbd7,#a6fc87,#e9fe57,#f7cc45,#f09135,#ed6b2c,#eb5428,#eb4926,#ea4325,#ea3f25,#ea3c24,#ea3824,#ea3524,#e03121,#de3021,#ea3624,#ea3b24,#ea3f25,#ea4225,#eb4626,#eb4c27,#eb5528,#ec5f2a,#ed6a2c,#ed752f,#ee8131,#ef8f35,#f19e39,#f3af3d,#f5bf41,#f7ce46,#f9da49,#fae44c)"></i><i style="background:linear-gradient(90deg,#01038e,#0209a4,#071cca,#1233ed,#2d6bf6,#57bff9,#78fbe1,#9ffc90,#dffe5a,#f8d849,#f19b38,#ed722e,#eb5829,#eb4a26,#eb4425,#ea4025,#ea3d25,#ea3924,#ea3624,#e63222,#e43222,#ea3724,#ea3c24,#ea4025,#eb4325,#eb4826,#eb4e27,#eb5729,#ec622b,#ed6d2d,#ed782f,#ee8432,#f09135,#f1a039,#f3b03d,#f5c042,#f7cf46,#f9db4a,#fae54c)"></i><i style="background:linear-gradient(90deg,#00038d,#0208a3,#071bc8,#1131ec,#2b65f5,#53b7f9,#77fbea,#98fc9a,#d5fd5f,#fae44c,#f2a63b,#ee7930,#ec5d2a,#eb4d27,#eb4526,#ea4125,#ea3e25,#ea3a24,#ea3724,#ea3323,#ea3323,#ea3924,#ea3d25,#ea4125,#eb4526,#eb4926,#eb5027,#ec5929,#ec642b,#ed702d,#ee7b30,#ef8633,#f09336,#f1a23a,#f3b23e,#f5c142,#f7d046,#f9dc4a,#fbe64d)"></i><i style="background:linear-gradient(90deg,#00038c,#0108a2,#061ac6,#102eec,#285ff5,#4faff8,#76fbf4,#91fca4,#cbfd65,#fdf150,#f3b23e,#ee8332,#ec632b,#eb5127,#eb4826,#ea4325,#ea3f25,#ea3b24,#ea3824,#ea3424,#ea3424,#ea3a24,#ea3f25,#ea4325,#eb4626,#eb4a26,#eb5228,#ec5b29,#ec672c,#ed722e,#ee7d30,#ef8933,#f09536,#f2a43a,#f3b33e,#f5c342,#f7d147,#f9dd4a,#fbe74d)"></i><i style="background:linear-gradient(90deg,#00038c,#0108a2,#0619c4,#0f2ceb,#255af5,#4ba6f8,#75fbfd,#8bfcae,#c1fd6d,#ffff54,#f5bf41,#ef8d34,#ed6b2c,#eb5628,#eb4b27,#eb4626,#ea4225,#ea3d25,#ea3924,#ea3624,#ea3624,#ea3b24,#ea4025,#eb4426,#eb4726,#eb4c27,#eb5328,#ec5e2a,#ec6a2c,#ed752f,#ee8031,#ef8b34,#f09737,#f2a53a,#f4b53f,#f6c443,#f8d247,#f9de4b,#fbe84d)"></i><i style="background:linear-gradient(90deg,#00028c,#0107a1,#0618c3,#0d2aea,#2355f4,#479ef8,#70f1fc,#86fcb9,#b7fd76,#f3ff55,#f7cc45,#f09937,#ed742e,#ec5d2a,#eb5027,#eb4a26,#eb4526,#ea4025,#ea3b24,#ea3724,#ea3724,#ea3d25,#ea4225,#eb4526,#eb4926,#eb4e27,#eb5528,#ec602a,#ed6c2d,#ed782f,#ee8332,#ef8d34,#f09937,#f2a73b,#f4b63f,#f6c543,#f8d347,#fadf4b,#fbe84d)"></i><i style="background:linear-gradient(90deg,#00028c,#0107a0,#0518c1,#0c27ea,#2050f4,#4397f7,#6be7fc,#81fbc4,#adfc7f,#e7fe58,#f9db49,#f2a63b,#ee7e31,#ec652b,#eb5729,#eb4f27,#eb4926,#ea4325,#ea3e25,#ea3924,#ea3924,#ea3f25,#ea4325,#eb4726,#eb4a26,#eb4f27,#eb5829,#ec632b,#ed6f2d,#ee7b30,#ef8532,#ef9035,#f19b38,#f2a93b,#f4b83f,#f6c644,#f8d448,#fae04b,#fbe94e)"></i><i style="background:linear-gradient(90deg,#00028c,#01079f,#0517bf,#0b25ea,#1e4cf3,#3f8ff7,#66ddfb,#7dfbce,#a4fc8a,#dafe5c,#fbe94e,#f3b43e,#ef8a34,#ed6f2d,#ec5f2a,#eb5528,#eb4e27,#eb4626,#ea4025,#ea3b24,#ea3a24,#ea4025,#eb4526,#eb4826,#eb4c27,#eb5128,#ec5a29,#ec652b,#ed722e,#ee7d30,#ef8733,#f09235,#f19d38,#f2ab3c,#f4b940,#f6c744,#f8d548,#fae04b,#fbe94e)"></i><i style="background:linear-gradient(90deg,#00038c,#01079f,#0516be,#0a22e9,#1c48f3,#3c87f7,#61d3fa,#7afbd9,#9bfc95,#cffd63,#fef953,#f5c242,#f09737,#ee7a30,#ec682c,#ec5c29,#eb5328,#eb4a26,#eb4425,#ea3d25,#ea3d25,#ea4225,#eb4626,#eb4a26,#eb4e27,#eb5328,#ec5c29,#ec682c,#ed742e,#ee8031,#ef8a33,#f09436,#f19f39,#f3ac3c,#f4ba40,#f6c844,#f8d648,#fae14b,#fbe94e)"></i><i style="background:linear-gradient(90deg,#00038c,#01079e,#0515bc,#0920e9,#1a44f2,#3880f7,#5cc9fa,#78fbe4,#93fca1,#c3fd6b,#f7ff55,#f7d147,#f2a53a,#ef8632,#ed722e,#ec642b,#ec5a29,#eb4f27,#eb4726,#ea4025,#ea3f25,#eb4526,#eb4826,#eb4c27,#eb5027,#eb5628,#ec5e2a,#ed6a2c,#ed772f,#ee8232,#ef8c34,#f09636,#f1a139,#f3ae3d,#f4bb40,#f6c944,#f8d648,#fae14b,#fbe94e)"></i><i style="background:linear-gradient(90deg,#00038c,#01069e,#0414bb,#0920e5,#1941f1,#3479f6,#57c0f9,#76fbef,#8cfcad,#b7fd75,#e9fe57,#fae14b,#f3b43e,#f09336,#ee7d30,#ed6d2d,#ec612a,#eb5528,#eb4c27,#eb4425,#ea4225,#eb4726,#eb4a26,#eb4e27,#eb5228,#eb5829,#ec612a,#ed6d2d,#ee7930,#ef8532,#ef8e34,#f09837,#f1a23a,#f3af3d,#f5bc41,#f6ca45,#f8d748,#fae14b,#fbe84e)"></i><i style="background:linear-gradient(90deg,#00038d,#01069e,#0413ba,#0920e2,#173ef0,#3172f6,#53b6f9,#75fbfa,#86fcb9,#adfc80,#dcfe5b,#fdf150,#f5c343,#f1a139,#ef8933,#ed772f,#ec692c,#ec5b29,#eb5027,#eb4826,#eb4526,#eb4a26,#eb4d27,#eb5027,#eb5528,#ec5b29,#ec642b,#ed6f2d,#ee7c30,#ef8733,#f09035,#f09937,#f2a43a,#f3b03d,#f5bd41,#f6cb45,#f8d748,#fae14b,#fbe84d)"></i><i style="background:linear-gradient(90deg,#00038d,#01069d,#0413b8,#0920df,#163bf0,#2e6bf6,#4eadf8,#71f3fc,#80fbc5,#a3fc8b,#cffd62,#fdff55,#f8d347,#f3af3d,#f09536,#ee8231,#ed712e,#ec622b,#eb5628,#eb4c27,#eb4926,#eb4c27,#eb4f27,#eb5328,#eb5729,#ec5d2a,#ec672c,#ed722e,#ee7e31,#ef8933,#f09235,#f19b38,#f2a53a,#f3b13e,#f5be41,#f7cb45,#f8d748,#fae14b,#fbe74d)"></i><i style="background:linear-gradient(90deg,#00038d,#01069d,#0412b7,#0920dc,#1438ef,#2a64f5,#4aa4f8,#6be7fc,#7cfbd1,#99fc97,#c3fd6b,#effe56,#fae34c,#f5be41,#f1a23a,#ef8d34,#ee7a30,#ec692c,#ec5c29,#eb5128,#eb4d27,#eb5027,#eb5228,#eb5628,#ec5a29,#ec602a,#ec692c,#ed752f,#ee8131,#ef8b34,#f09436,#f19c38,#f2a63b,#f3b23e,#f5be41,#f7cb45,#f8d748,#fae04b,#fbe64d)"></i><i style="background:linear-gradient(90deg,#00038d,#01069c,#0311b6,#0920d9,#1335ee,#275ef5,#459bf8,#65dcfb,#79fbdd,#91fca4,#b7fd75,#e2fe59,#fdf351,#f7cd45,#f3af3d,#f09837,#ee8432,#ed712e,#ec622b,#eb5628,#eb5128,#eb5428,#eb5628,#eb5929,#ec5d2a,#ec632b,#ed6d2d,#ed782f,#ee8332,#ef8d34,#f09636,#f19e38,#f2a73b,#f3b23e,#f5bf41,#f7cb45,#f8d648,#fae04b,#fbe54d)"></i><i style="background:linear-gradient(90deg,#00038d,#01069c,#0311b5,#0920d6,#1233ed,#2458f5,#4192f7,#60d1fa,#77fbe9,#8afcb0,#adfc80,#d5fd5f,#fcff55,#f9dc4a,#f5bd41,#f2a43a,#ef8e34,#ee7a30,#ec692c,#ec5c29,#eb5628,#eb5829,#ec5929,#ec5c2a,#ec612a,#ec672c,#ed702d,#ee7b30,#ef8632,#ef8f35,#f09737,#f19f39,#f2a83b,#f3b33e,#f5bf41,#f6cb45,#f8d648,#f9de4b,#fae44c)"></i><i style="background:linear-gradient(90deg,#00038c,#01069b,#0310b4,#081fd4,#1130ec,#2252f4,#3d89f7,#5bc6fa,#76fbf4,#84fbbd,#a3fc8b,#c8fd67,#eefe56,#fbeb4e,#f6cb45,#f3b03d,#f09837,#ee8232,#ed702e,#ec622b,#ec5c29,#ec5c2a,#ec5e2a,#ec602a,#ec642b,#ed6a2c,#ed732e,#ee7e30,#ef8833,#f09135,#f09937,#f1a039,#f2a83b,#f3b33e,#f5be41,#f6ca45,#f8d448,#f9dd4a,#fae34c)"></i><i style="background:linear-gradient(90deg,#00028c,#01069b,#030fb2,#081fd1,#0f2eec,#1f4df3,#3881f7,#56bcf9,#73f8fd,#7ffbc9,#9afc97,#bdfd70,#e2fe59,#fefa53,#f8d849,#f4bb40,#f1a23a,#ef8b34,#ee782f,#ec692c,#ec622b,#ec622b,#ec622b,#ec652b,#ec692c,#ed6e2d,#ed772f,#ee8031,#ef8a34,#f09336,#f19a37,#f1a139,#f2a93b,#f3b33e,#f5be41,#f6c944,#f8d347,#f9dc4a,#fae14b)"></i><i style="background:linear-gradient(90deg,#00028b,#01059a,#030fb1,#081ecf,#0e2beb,#1d49f3,#3479f6,#51b2f9,#6eedfc,#7bfbd4,#92fca3,#b3fd7a,#d6fe5e,#f8ff55,#fae54d,#f6c744,#f3ac3c,#f09436,#ee8031,#ed712e,#ec682c,#ec672c,#ec682c,#ec6a2c,#ed6d2d,#ed732e,#ee7a30,#ee8332,#ef8d34,#f09536,#f19b38,#f1a139,#f2a93b,#f3b23e,#f5bd41,#f6c744,#f7d147,#f9da49,#fadf4b)"></i><i style="background:linear-gradient(90deg,#00028b,#01059a,#030eb0,#071dcd,#0d28ea,#1b44f2,#3071f6,#4ca8f8,#68e2fb,#79fbdf,#8bfcae,#a9fc84,#cbfd65,#ecfe56,#fdf250,#f8d247,#f4b63f,#f19d38,#ef8933,#ee792f,#ed702d,#ed6e2d,#ed6d2d,#ed6f2d,#ed722e,#ed772f,#ee7e31,#ef8633,#ef8f35,#f09636,#f19c38,#f1a139,#f2a83b,#f3b13e,#f4bb40,#f6c543,#f7cf46,#f8d748,#f9de4a)"></i><i style="background:linear-gradient(90deg,#000289,#010599,#030eaf,#071ccb,#0b26ea,#1940f1,#2d69f6,#479ff8,#63d7fb,#77fbea,#86fcb9,#a1fc8d,#c1fd6c,#e2fe59,#fffe54,#f9dd4a,#f5c142,#f2a73b,#f09235,#ee8131,#ed772f,#ed752e,#ed742e,#ed752f,#ed782f,#ee7c30,#ee8232,#ef8933,#f09135,#f09737,#f19c38,#f1a239,#f2a83b,#f3b03d,#f4b940,#f5c343,#f7cc45,#f8d548,#f9db4a)"></i><i style="background:linear-gradient(90deg,#000288,#010598,#020dae,#071bc9,#0a23e9,#173df0,#2962f5,#4396f7,#5ecdfa,#76fbf4,#81fbc2,#9afc97,#b9fd74,#d8fe5d,#f7ff55,#fbe84d,#f6ca45,#f3b03d,#f19b38,#ef8a33,#ee8031,#ee7c30,#ee7b30,#ee7b30,#ee7d30,#ee8131,#ef8633,#ef8c34,#f09336,#f09837,#f19d38,#f1a239,#f2a73b,#f3af3d,#f4b73f,#f5c042,#f6c944,#f8d247,#f9d949)"></i><i style="background:linear-gradient(90deg,#000286,#010598,#020dad,#061bc7,#0920e9,#1539ef,#265cf5,#3f8ef7,#5ac4fa,#75fbfd,#7efbcb,#94fca0,#b1fc7b,#d0fd62,#eefe56,#fdf250,#f8d448,#f4ba40,#f2a43a,#f09336,#ef8933,#ef8532,#ee8332,#ee8332,#ee8432,#ef8633,#ef8a34,#f09035,#f09536,#f09937,#f19d38,#f1a139,#f2a63b,#f3ad3c,#f4b43f,#f5bd41,#f6c643,#f7cf46,#f8d748)"></i><i style="background:linear-gradient(90deg,#000284,#010497,#020cac,#061ac5,#0920e5,#1436ee,#2356f4,#3b86f7,#56bcf9,#71f3fd,#7bfbd3,#8ffca7,#abfc82,#c9fd67,#e6fe58,#fefb53,#f9dd4a,#f5c343,#f3ae3d,#f19d38,#f09336,#ef8e34,#ef8b34,#ef8a34,#ef8b34,#ef8c34,#ef8f35,#f09336,#f09737,#f19a38,#f19d38,#f1a139,#f2a53a,#f2aa3c,#f3b13e,#f4b940,#f5c242,#f6cb45,#f8d448)"></i></div>
<svg width="550" height="396" viewBox="0 0 550 396">
<defs><linearGradient id="cb" x1="0" y1="0" x2="0" y2="1"><stop offset="0.000" stop-color="#74140c"/><stop offset="0.025" stop-color="#8c1a11"/><stop offset="0.050" stop-color="#a32115"/><stop offset="0.075" stop-color="#bb271a"/><stop offset="0.100" stop-color="#d22d1f"/><stop offset="0.125" stop-color="#ea3323"/><stop offset="0.150" stop-color="#ea3a24"/><stop offset="0.175" stop-color="#eb4826"/><stop offset="0.200" stop-color="#ec5b29"/><stop offset="0.225" stop-color="#ed702d"/><stop offset="0.250" stop-color="#ef8633"/><stop offset="0.275" stop-color="#f19e38"/><stop offset="0.300" stop-color="#f4b63f"/><stop offset="0.325" stop-color="#f7ce46"/><stop offset="0.350" stop-color="#fbe64d"/><stop offset="0.375" stop-color="#ffff54"/><stop offset="0.400" stop-color="#eafe57"/><stop offset="0.425" stop-color="#d6fe5e"/><stop offset="0.450" stop-color="#c3fd6b"/><stop offset="0.475" stop-color="#b1fc7b"/><stop offset="0.500" stop-color="#a0fc8e"/><stop offset="0.525" stop-color="#92fca3"/><stop offset="0.550" stop-color="#86fcb8"/><stop offset="0.575" stop-color="#7dfbcf"/><stop offset="0.600" stop-color="#77fbe6"/><stop offset="0.625" stop-color="#75fbfd"/><stop offset="0.650" stop-color="#68e2fb"/><stop offset="0.675" stop-color="#5cc9fa"/><stop offset="0.700" stop-color="#50b0f9"/><stop offset="0.725" stop-color="#4397f7"/><stop offset="0.750" stop-color="#377ef6"/><stop offset="0.775" stop-color="#2b66f5"/><stop offset="0.800" stop-color="#2050f4"/><stop offset="0.825" stop-color="#183ef1"/><stop offset="0.850" stop-color="#1130ec"/><stop offset="0.875" stop-color="#0920e9"/><stop offset="0.900" stop-color="#081fd1"/><stop offset="0.925" stop-color="#0415bc"/><stop offset="0.950" stop-color="#020aa7"/><stop offset="0.975" stop-color="#010391"/><stop offset="1.000" stop-color="#00017a"/></linearGradient></defs>
<rect x="48.3" y="16.0" width="22.5" height="17.9" fill="#fff44d" stroke="#15152a" stroke-width="1.1"/>
<text x="59.5" y="30.1" font-size="16" text-anchor="middle" fill="#2e2e3a" style="stroke:none">5</text>
<text x="41.6" y="36.8" font-size="13" text-anchor="end" fill="#1c1c1c">2</text>
<text x="41.6" y="70.0" font-size="13" text-anchor="end" fill="#1c1c1c">1</text>
<text x="41.6" y="103.5" font-size="13" text-anchor="end" fill="#1c1c1c">0</text>
<text x="60.7" y="114.6" font-size="13" text-anchor="middle" fill="#1c1c1c">20</text>
<text x="94.4" y="114.6" font-size="13" text-anchor="middle" fill="#1c1c1c">60</text>
<text x="128.2" y="114.6" font-size="13" text-anchor="middle" fill="#1c1c1c">100</text>
<rect x="204.3" y="16.9" width="22.2" height="17.4" fill="#fff44d" stroke="#15152a" stroke-width="1.1"/>
<text x="215.4" y="30.8" font-size="16" text-anchor="middle" fill="#2e2e3a" style="stroke:none">6</text>
<text x="199.5" y="37.7" font-size="13" text-anchor="end" fill="#1c1c1c">2</text>
<text x="199.5" y="70.2" font-size="13" text-anchor="end" fill="#1c1c1c">1</text>
<text x="199.5" y="103.0" font-size="13" text-anchor="end" fill="#1c1c1c">0</text>
<text x="218.5" y="114.0" font-size="13" text-anchor="middle" fill="#1c1c1c">20</text>
<text x="251.4" y="114.0" font-size="13" text-anchor="middle" fill="#1c1c1c">60</text>
<text x="284.8" y="114.0" font-size="13" text-anchor="middle" fill="#1c1c1c">100</text>
<rect x="369.0" y="16.7" width="22.9" height="17.9" fill="#fff44d" stroke="#15152a" stroke-width="1.1"/>
<text x="380.4" y="30.8" font-size="16" text-anchor="middle" fill="#2e2e3a" style="stroke:none">7</text>
<text x="360.0" y="38.0" font-size="13" text-anchor="end" fill="#1c1c1c">2</text>
<text x="360.0" y="70.9" font-size="13" text-anchor="end" fill="#1c1c1c">1</text>
<text x="360.0" y="103.9" font-size="13" text-anchor="end" fill="#1c1c1c">0</text>
<text x="379.4" y="116.0" font-size="13" text-anchor="middle" fill="#1c1c1c">20</text>
<text x="413.0" y="116.0" font-size="13" text-anchor="middle" fill="#1c1c1c">60</text>
<text x="446.0" y="116.0" font-size="13" text-anchor="middle" fill="#1c1c1c">100</text>
<rect x="51.2" y="142.0" width="22.8" height="18.3" fill="#fff44d" stroke="#15152a" stroke-width="1.1"/>
<text x="62.6" y="156.3" font-size="16" text-anchor="middle" fill="#2e2e3a" style="stroke:none">4</text>
<text x="42.1" y="163.7" font-size="13" text-anchor="end" fill="#1c1c1c">2</text>
<text x="42.1" y="197.7" font-size="13" text-anchor="end" fill="#1c1c1c">1</text>
<text x="42.1" y="231.7" font-size="13" text-anchor="end" fill="#1c1c1c">0</text>
<text x="61.3" y="243.2" font-size="13" text-anchor="middle" fill="#1c1c1c">20</text>
<text x="95.3" y="243.2" font-size="13" text-anchor="middle" fill="#1c1c1c">60</text>
<text x="129.3" y="243.2" font-size="13" text-anchor="middle" fill="#1c1c1c">100</text>
<rect x="368.5" y="141.6" width="21.9" height="17.2" fill="#fff44d" stroke="#15152a" stroke-width="1.1"/>
<text x="379.4" y="155.4" font-size="16" text-anchor="middle" fill="#2e2e3a" style="stroke:none">8</text>
<text x="360.3" y="161.8" font-size="13" text-anchor="end" fill="#1c1c1c">2</text>
<text x="360.3" y="194.6" font-size="13" text-anchor="end" fill="#1c1c1c">1</text>
<text x="360.3" y="227.6" font-size="13" text-anchor="end" fill="#1c1c1c">0</text>
<text x="379.0" y="238.4" font-size="13" text-anchor="middle" fill="#1c1c1c">20</text>
<text x="412.0" y="238.4" font-size="13" text-anchor="middle" fill="#1c1c1c">60</text>
<text x="444.4" y="238.4" font-size="13" text-anchor="middle" fill="#1c1c1c">100</text>
<rect x="50.7" y="263.9" width="22.0" height="17.1" fill="#fff44d" stroke="#15152a" stroke-width="1.1"/>
<text x="61.7" y="277.6" font-size="16" text-anchor="middle" fill="#2e2e3a" style="stroke:none">3</text>
<text x="42.0" y="285.1" font-size="13" text-anchor="end" fill="#1c1c1c">2</text>
<text x="42.0" y="317.9" font-size="13" text-anchor="end" fill="#1c1c1c">1</text>
<text x="42.0" y="350.5" font-size="13" text-anchor="end" fill="#1c1c1c">0</text>
<text x="61.0" y="361.4" font-size="13" text-anchor="middle" fill="#1c1c1c">20</text>
<text x="94.0" y="361.4" font-size="13" text-anchor="middle" fill="#1c1c1c">60</text>
<text x="127.8" y="361.4" font-size="13" text-anchor="middle" fill="#1c1c1c">100</text>
<rect x="210.5" y="264.8" width="21.7" height="17.2" fill="#fff44d" stroke="#15152a" stroke-width="1.1"/>
<text x="221.3" y="278.6" font-size="16" text-anchor="middle" fill="#2e2e3a" style="stroke:none">1</text>
<text x="203.5" y="286.1" font-size="13" text-anchor="end" fill="#1c1c1c">2</text>
<text x="203.5" y="318.5" font-size="13" text-anchor="end" fill="#1c1c1c">1</text>
<text x="203.5" y="351.5" font-size="13" text-anchor="end" fill="#1c1c1c">0</text>
<text x="222.5" y="362.4" font-size="13" text-anchor="middle" fill="#1c1c1c">20</text>
<text x="255.0" y="362.4" font-size="13" text-anchor="middle" fill="#1c1c1c">60</text>
<text x="288.7" y="362.4" font-size="13" text-anchor="middle" fill="#1c1c1c">100</text>
<rect x="368.0" y="261.6" width="22.2" height="17.2" fill="#fff44d" stroke="#15152a" stroke-width="1.1"/>
<text x="379.1" y="275.4" font-size="16" text-anchor="middle" fill="#2e2e3a" style="stroke:none">2</text>
<text x="360.0" y="282.9" font-size="13" text-anchor="end" fill="#1c1c1c">2</text>
<text x="360.0" y="314.8" font-size="13" text-anchor="end" fill="#1c1c1c">1</text>
<text x="360.0" y="347.8" font-size="13" text-anchor="end" fill="#1c1c1c">0</text>
<text x="379.0" y="358.5" font-size="13" text-anchor="middle" fill="#1c1c1c">20</text>
<text x="412.0" y="358.5" font-size="13" text-anchor="middle" fill="#1c1c1c">60</text>
<text x="444.4" y="358.5" font-size="13" text-anchor="middle" fill="#1c1c1c">100</text>
<rect x="504.0" y="26.0" width="19.0" height="333.0" fill="url(#cb)"/>
<text x="527.3" y="30.2" font-size="11" fill="#1c1c1c">120</text>
<text x="527.3" y="63.5" font-size="11" fill="#1c1c1c">110</text>
<text x="527.3" y="96.8" font-size="11" fill="#1c1c1c">100</text>
<text x="527.3" y="130.1" font-size="11" fill="#1c1c1c">90</text>
<text x="527.3" y="163.4" font-size="11" fill="#1c1c1c">80</text>
<text x="527.3" y="196.8" font-size="11" fill="#1c1c1c">70</text>
<text x="527.3" y="230.1" font-size="11" fill="#1c1c1c">60</text>
<text x="527.3" y="263.4" font-size="11" fill="#1c1c1c">50</text>
<text x="527.3" y="296.7" font-size="11" fill="#1c1c1c">40</text>
<text x="527.3" y="330.0" font-size="11" fill="#1c1c1c">30</text>
<text x="527.3" y="363.3" font-size="11" fill="#1c1c1c">20</text>
<text fill="#1c1c1c"><tspan x="502.5" y="18.8" font-size="14">(</tspan><tspan x="506" y="13.3" font-size="12">°</tspan><tspan x="510.4" y="18.9" font-size="13">C</tspan><tspan x="519.6" y="18.8" font-size="14">)</tspan></text>
<line x1="170.0" y1="43.4" x2="187.0" y2="43.4" stroke="#4384d2" stroke-width="1.3"/>
<line x1="325.2" y1="43.4" x2="348.2" y2="43.4" stroke="#4384d2" stroke-width="1.3"/>
<line x1="170.0" y1="330.4" x2="187.0" y2="330.4" stroke="#4384d2" stroke-width="1.3"/>
<line x1="324.0" y1="330.0" x2="344.6" y2="330.0" stroke="#4384d2" stroke-width="1.3"/>
<line x1="101.0" y1="122.0" x2="101.0" y2="132.0" stroke="#4384d2" stroke-width="1.3"/>
<line x1="101.0" y1="246.5" x2="101.0" y2="253.5" stroke="#4384d2" stroke-width="1.3"/>
<line x1="433.8" y1="120.0" x2="433.8" y2="131.6" stroke="#4384d2" stroke-width="1.3"/>
<line x1="433.8" y1="241.0" x2="433.8" y2="250.4" stroke="#4384d2" stroke-width="1.3"/>
<ellipse cx="262.5" cy="185.1" rx="58.3" ry="43.6" fill="none" stroke="#333" stroke-width="0.8"/>
<text x="191.3" y="388.5" font-size="17.5" fill="#111">x axis: Time (s)</text>
<text transform="translate(18.2,283.6) rotate(-90)" font-size="17.1" fill="#111">y axis: Fiber length (cm)</text>
</svg>
</div>
</body></html>
